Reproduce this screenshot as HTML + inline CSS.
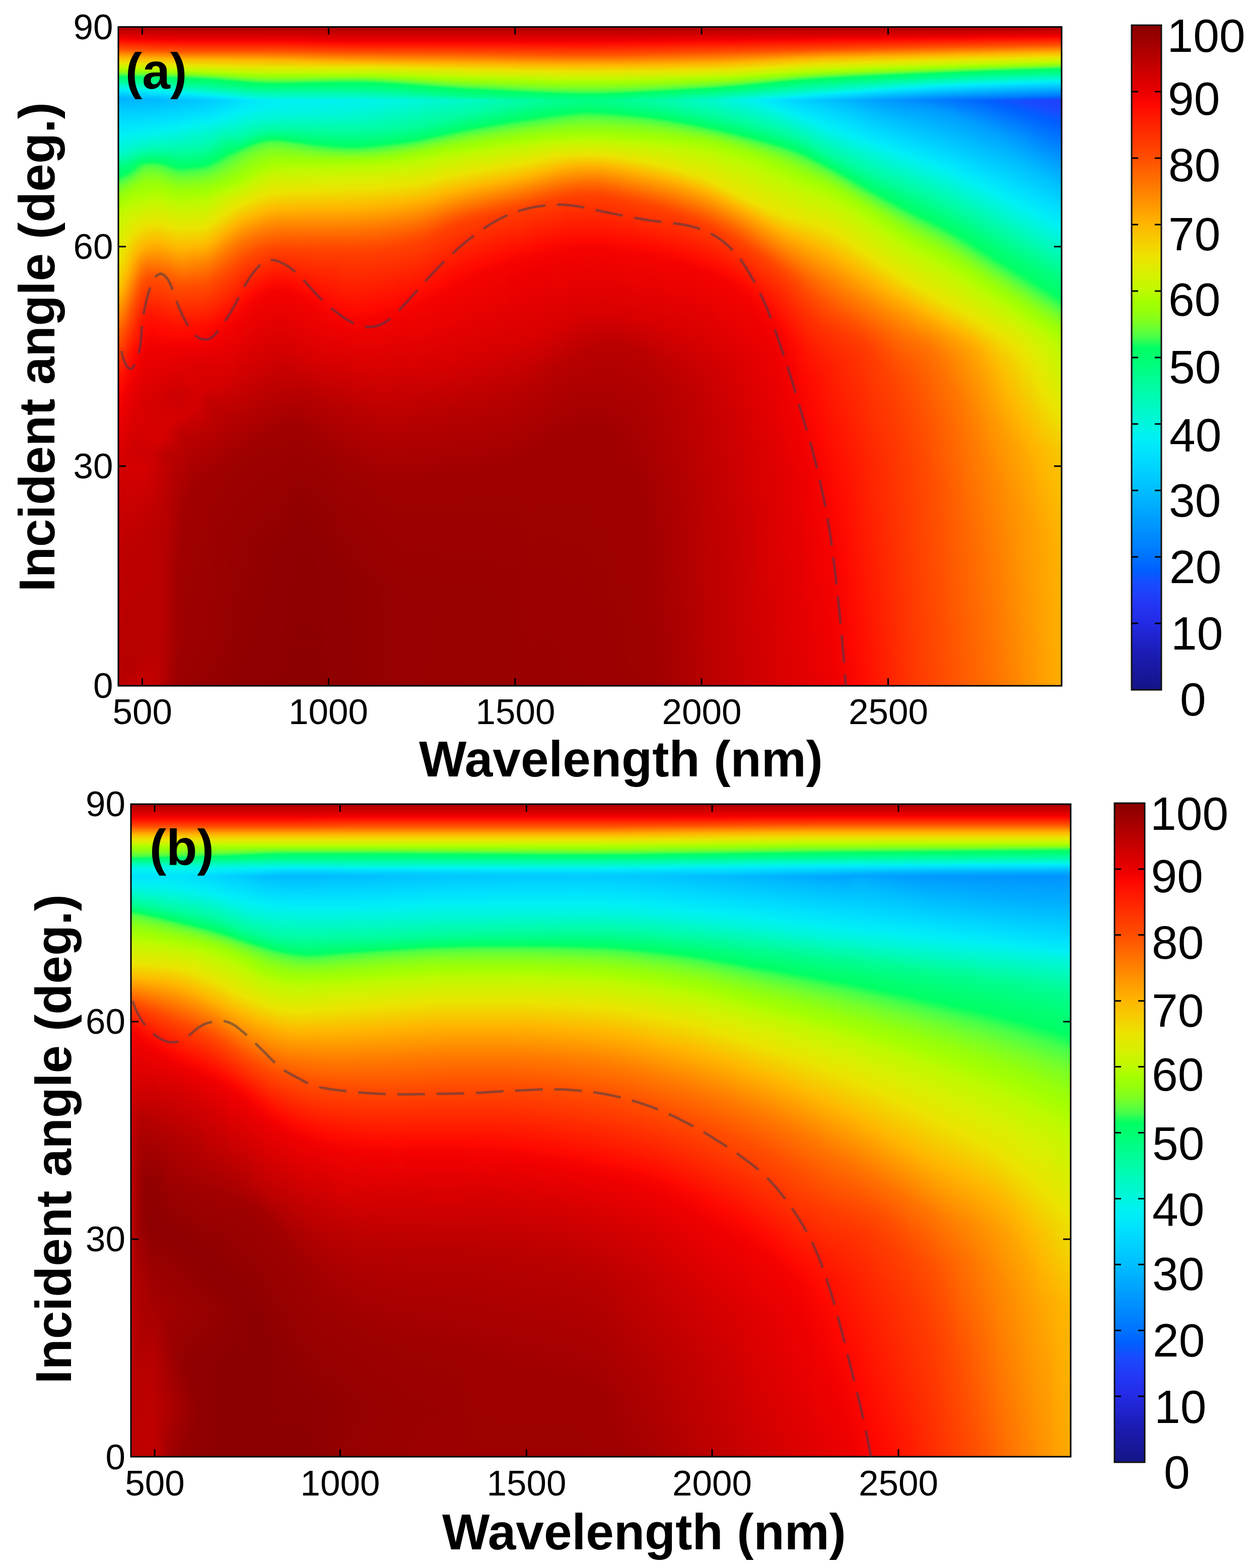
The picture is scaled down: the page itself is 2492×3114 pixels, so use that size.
<!DOCTYPE html>
<html lang="en"><head><meta charset="utf-8"><title>Figure</title>
<style>html,body{margin:0;padding:0;background:#fff}#fig{position:relative;width:2492px;height:3114px;overflow:hidden;background:#fff;font-family:"Liberation Sans",Arial,sans-serif}.heat{position:absolute;overflow:hidden}.hb{position:absolute;filter:url(#hblur)}.heat i{position:absolute;top:0;height:100%;display:block}.cb{position:absolute}svg{position:absolute;left:0;top:0}text{font-family:"Liberation Sans",Arial,sans-serif;fill:#000}</style></head><body><div id="fig">
<div class="heat" style="left:235px;top:54px;width:1873px;height:1308px"><div class="hb" style="left:-24px;top:-24px;width:1921px;height:1356px">
<i style="left:0px;width:32px;background:linear-gradient(#a00 24px,#ed0000 45.5px,#fb0600 49.5px,#ff0d00 51.5px,#ff4f00 67.5px,#ffb100 83.5px,#e8e600 95.5px,#c6f700 103.5px,#bbfb00 105.5px,#abfe00 107.5px,#9fff04 109.5px,#94ff0c 111.5px,#73ff2b 115.5px,#3cff4f 119.5px,#0eff5f 121.5px,#00ff69 123.5px,#00fd92 131.5px,#00f6dd 143.5px,#00eff5 147.5px,#00dbff 153.5px,#00beff 161.5px,#00b3ff 167.5px,#0cf 189.5px,#0df 211.5px,#00f0f5 239.5px,#00f7d4 269.5px,#00f9c3 277.5px,#00fe83 299.5px,#00ff70 309.5px,#00ff64 319.5px,#43ff4c 329.5px,#75ff2a 343.5px,#94ff0c 359.5px,#a5ff00 373.5px,#bdfa00 391.5px,#d2f200 425.5px,#ebe400 487.5px,#f5cd00 525.5px,#ffb500 553.5px,#ff6b00 617.5px,#ff4f00 645.5px,#ff1500 715.5px,#ff0800 739.5px,#f00000 779.5px,#e50000 831.5px,#d70000 875.5px,#bf0000 1061.5px,#b70000 1331.5px)"></i>
<i style="left:32px;width:8px;background:linear-gradient(#a00 24px,#ec0000 45.5px,#fa0500 49.5px,#ff0c00 51.5px,#ff4d00 67.5px,#ffb000 83.5px,#e9e500 95.5px,#bdfa00 105.5px,#a0ff03 109.5px,#95ff0b 111.5px,#75ff2a 115.5px,#3dff4e 119.5px,#11ff5e 121.5px,#00ff69 123.5px,#00fd90 131.5px,#00f6da 143.5px,#00f0f4 147.5px,#00dcff 153.5px,#00c0ff 161.5px,#00b3ff 167.5px,#0cf 189.5px,#0df 211.5px,#00eff5 237.5px,#00f7d2 267.5px,#00fabd 277.5px,#00fe7a 301.5px,#00ff64 315.5px,#44ff4c 325.5px,#78ff28 339.5px,#97ff09 355.5px,#a7ff00 369.5px,#befa00 385.5px,#d8f000 423.5px,#ebe300 465.5px,#f3d000 497.5px,#ffb500 533.5px,#ff4d00 627.5px,#ff2900 671.5px,#fe0800 723.5px,#f00000 759.5px,#d60000 865.5px,#be0000 1057.5px,#b50000 1303.5px,#b00 1331.5px)"></i>
<i style="left:40px;width:8px;background:linear-gradient(#a00 24px,#ec0000 45.5px,#f90500 49.5px,#ff0b00 51.5px,#ff4c00 67.5px,#ffaf00 83.5px,#eae400 95.5px,#bffa00 105.5px,#a1ff03 109.5px,#97ff0a 111.5px,#77ff29 115.5px,#3fff4d 119.5px,#14ff5d 121.5px,#00ff68 123.5px,#00fd8e 131.5px,#00f7d8 143.5px,#00f1f1 147.5px,#00ebf8 149.5px,#00deff 153.5px,#00c2ff 161.5px,#00b4ff 167.5px,#0cf 189.5px,#00deff 211.5px,#00f0f4 237.5px,#00f8cf 265.5px,#00faba 275.5px,#00ff74 301.5px,#00ff65 311.5px,#46ff4b 321.5px,#7aff26 335.5px,#97ff0a 349.5px,#a6ff00 363.5px,#bdfa00 379.5px,#d7f000 413.5px,#ebe300 449.5px,#ffb600 509.5px,#ff4d00 607.5px,#ff1d00 667.5px,#ff0800 703.5px,#fb0600 711.5px,#f00000 739.5px,#d20000 863.5px,#d50000 893.5px,#bd0000 1053.5px,#b60000 1299.5px,#bf0000 1331.5px)"></i>
<i style="left:48px;width:8px;background:linear-gradient(#a00 24px,#eb0000 45.5px,#f80400 49.5px,#ff0a00 51.5px,#ff4b00 67.5px,#ffad00 83.5px,#feb700 85.5px,#ebe300 95.5px,#c0f900 105.5px,#a3ff02 109.5px,#98ff09 111.5px,#79ff27 115.5px,#42ff4d 119.5px,#17ff5c 121.5px,#00ff67 123.5px,#00fd8c 131.5px,#00f7d5 143.5px,#00f2ee 147.5px,#00edf7 149.5px,#00e0fe 153.5px,#00bdff 163.5px,#00b5ff 167.5px,#0cf 189.5px,#0df 209.5px,#00f0f5 235.5px,#00f7d1 261.5px,#00fabc 271.5px,#00ff74 297.5px,#0f6 305.5px,#05ff62 307.5px,#41ff4d 315.5px,#76ff29 329.5px,#94ff0c 343.5px,#a6ff00 359.5px,#bffa00 377.5px,#d7f000 405.5px,#ebe400 435.5px,#ffb600 487.5px,#ffa000 511.5px,#ff7600 545.5px,#ff4e00 583.5px,#ff1400 661.5px,#fe0700 685.5px,#f00000 723.5px,#cf0000 861.5px,#d50000 897.5px,#bd0000 1045.5px,#b60000 1291.5px,#b80000 1307.5px,#c20000 1331.5px)"></i>
<i style="left:56px;width:8px;background:linear-gradient(#a00 24px,#f00000 47.5px,#ff0900 51.5px,#ff5400 69.5px,#ffb600 85.5px,#ece200 95.5px,#e5e800 97.5px,#c2f900 105.5px,#a4ff01 109.5px,#99ff08 111.5px,#7aff26 115.5px,#44ff4c 119.5px,#1bff5a 121.5px,#00ff67 123.5px,#00fd95 133.5px,#00f6df 145.5px,#00eef6 149.5px,#00daff 155.5px,#00beff 163.5px,#00b6ff 167.5px,#0df 209.5px,#00f0f4 235.5px,#00f8cf 259.5px,#00fbb5 271.5px,#00ff70 293.5px,#0f6 299.5px,#09ff61 301.5px,#45ff4b 309.5px,#74ff2b 323.5px,#95ff0b 339.5px,#a6ff00 357.5px,#befa00 375.5px,#d8f000 401.5px,#eae400 427.5px,#feb700 473.5px,#ffa300 487.5px,#ff8e00 507.5px,#ff6c00 533.5px,#ff4c00 563.5px,#ff2900 609.5px,#ff1c00 637.5px,#ff0800 665.5px,#fa0500 675.5px,#f00000 707.5px,#e30000 749.5px,#d90000 797.5px,#d60000 831.5px,#cd0000 861.5px,#d50000 899.5px,#bd0000 1039.5px,#b60000 1285.5px,#c50000 1331.5px)"></i>
<i style="left:64px;width:8px;background:linear-gradient(#a00 24px,#f00000 47.5px,#ff0800 51.5px,#ff5200 69.5px,#ffb500 85.5px,#e6e700 97.5px,#c3f800 105.5px,#a5ff00 109.5px,#9aff07 111.5px,#7cff24 115.5px,#63ff37 117.5px,#47ff4a 119.5px,#1eff59 121.5px,#0f6 123.5px,#00fd93 133.5px,#00f6dc 145.5px,#00f0f5 149.5px,#00dcff 155.5px,#00c0ff 163.5px,#00b7ff 167.5px,#00deff 209.5px,#00f0f5 233.5px,#00f7d2 255.5px,#00fbb4 269.5px,#00ff76 287.5px,#00ff67 293.5px,#06ff62 295.5px,#2bff55 299.5px,#48ff4a 303.5px,#74ff2b 317.5px,#95ff0b 335.5px,#a6ff00 355.5px,#befa00 373.5px,#ebe400 421.5px,#ffb700 463.5px,#ff8c00 491.5px,#ff6100 523.5px,#ff4d00 541.5px,#ff1a00 607.5px,#ff0800 651.5px,#f60300 665.5px,#f00000 685.5px,#dc0000 763.5px,#d60000 833.5px,#c00 863.5px,#d50000 901.5px,#bc0000 1033.5px,#b70000 1277.5px,#c60000 1331.5px)"></i>
<i style="left:72px;width:8px;background:linear-gradient(#a00 24px,#ef0000 47.5px,#fe0800 51.5px,#ff5000 69.5px,#ffb400 85.5px,#e7e600 97.5px,#c4f700 105.5px,#a8fe00 109.5px,#9cff06 111.5px,#7dff23 115.5px,#65ff35 117.5px,#49ff49 119.5px,#00ff65 123.5px,#00ff74 127.5px,#00fd90 133.5px,#00f7d9 145.5px,#00f1f2 149.5px,#00ebf8 151.5px,#00deff 155.5px,#00b8ff 167.5px,#0df 207.5px,#00eff5 231.5px,#00f7d6 251.5px,#00fbb0 269.5px,#00ff6f 287.5px,#00ff65 291.5px,#11ff5e 293.5px,#3aff4f 297.5px,#49ff49 299.5px,#76ff2a 313.5px,#96ff0a 333.5px,#a6ff00 353.5px,#befa00 371.5px,#e9e500 415.5px,#feb700 455.5px,#ffa500 469.5px,#ff7900 495.5px,#ff4f00 525.5px,#ff1500 599.5px,#ff0800 629.5px,#f00000 667.5px,#d80000 769.5px,#d70000 835.5px,#cd0000 865.5px,#d40000 899.5px,#bc0000 1025.5px,#b70000 1271.5px,#c60000 1331.5px)"></i>
<i style="left:80px;width:8px;background:linear-gradient(#a00 24px,#ef0000 47.5px,#fe0700 51.5px,#ff4f00 69.5px,#ffb200 85.5px,#e9e500 97.5px,#c6f700 105.5px,#bafb00 107.5px,#aafe00 109.5px,#9dff05 111.5px,#90ff10 113.5px,#7fff21 115.5px,#68ff33 117.5px,#4cff47 119.5px,#00ff64 123.5px,#00ff72 127.5px,#00fd8f 133.5px,#00f7d7 145.5px,#00f1ef 149.5px,#00ecf7 151.5px,#00dffe 155.5px,#00b9ff 167.5px,#0df 207.5px,#00f0f4 231.5px,#00f7d3 251.5px,#00fcac 269.5px,#00ff73 285.5px,#01ff63 291.5px,#2fff53 295.5px,#42ff4d 297.5px,#54ff41 301.5px,#73ff2b 311.5px,#96ff0a 331.5px,#a6ff00 351.5px,#befa00 369.5px,#ebe400 415.5px,#ffb600 453.5px,#ffa400 467.5px,#ff7100 497.5px,#ff4f00 521.5px,#ff1300 597.5px,#ff0800 621.5px,#f00000 661.5px,#d70000 767.5px,#d70000 837.5px,#d00000 865.5px,#d20000 893.5px,#b00 1017.5px,#b80000 1263.5px,#c50000 1331.5px)"></i>
<i style="left:88px;width:8px;background:linear-gradient(#a00 24px,#e00 47.5px,#fd0700 51.5px,#ff4d00 69.5px,#ffb100 85.5px,#eae500 97.5px,#bdfa00 107.5px,#9fff04 111.5px,#92ff0e 113.5px,#81ff1f 115.5px,#6bff31 117.5px,#4fff45 119.5px,#04ff63 123.5px,#00ff6a 125.5px,#00fd8d 133.5px,#00f5e0 147.5px,#00eef6 151.5px,#00daff 157.5px,#00bfff 165.5px,#00b9ff 169.5px,#00deff 207.5px,#00f0f5 229.5px,#00f7d4 249.5px,#00fbaf 267.5px,#00ff73 285.5px,#00ff64 291.5px,#2dff54 295.5px,#40ff4d 297.5px,#4bff47 299.5px,#73ff2c 311.5px,#96ff0a 331.5px,#a6ff00 349.5px,#befa00 367.5px,#eae500 413.5px,#ffb700 451.5px,#ff9c00 471.5px,#ff4e00 521.5px,#ff1400 597.5px,#fe0800 623.5px,#f00000 661.5px,#d60000 765.5px,#d70000 843.5px,#cd0000 875.5px,#c90000 933.5px,#b00 1009.5px,#b80000 1255.5px,#c30000 1331.5px)"></i>
<i style="left:96px;width:8px;background:linear-gradient(#a00 24px,#e00 47.5px,#fc0600 51.5px,#ff0d00 53.5px,#ff4c00 69.5px,#ffb000 85.5px,#ebe400 97.5px,#bffa00 107.5px,#a0ff03 111.5px,#94ff0c 113.5px,#6eff2f 117.5px,#52ff43 119.5px,#09ff61 123.5px,#00ff69 125.5px,#00fd95 135.5px,#00f6dd 147.5px,#00f0f5 151.5px,#00dcff 157.5px,#00c1ff 165.5px,#00baff 169.5px,#0df 205.5px,#00f0f4 229.5px,#00f7d9 245.5px,#00fcac 267.5px,#00ff73 285.5px,#00ff65 291.5px,#3bff4f 297.5px,#49ff49 299.5px,#6bff31 309.5px,#7bff25 315.5px,#96ff0a 331.5px,#a5ff00 347.5px,#befa00 365.5px,#eae500 413.5px,#ffb600 451.5px,#ff4d00 523.5px,#ff1400 599.5px,#ff0800 625.5px,#f00000 661.5px,#d50000 761.5px,#d60000 843.5px,#c60000 875.5px,#ca0000 895.5px,#ba0000 1013.5px,#b80000 1249.5px,#bf0000 1331.5px)"></i>
<i style="left:104px;width:8px;background:linear-gradient(#a00 24px,#e00 47.5px,#fb0600 51.5px,#ff0d00 53.5px,#ff4b00 69.5px,#ffaf00 85.5px,#ebe300 97.5px,#c0f900 107.5px,#a2ff02 111.5px,#96ff0a 113.5px,#72ff2d 117.5px,#34ff52 121.5px,#0eff5f 123.5px,#00ff68 125.5px,#00fd93 135.5px,#00f6da 147.5px,#00f1f3 151.5px,#00ebf8 153.5px,#00deff 157.5px,#00bcff 167.5px,#0bf 169.5px,#00deff 205.5px,#00f0f5 227.5px,#00f6da 243.5px,#00fcab 267.5px,#00ff74 285.5px,#0f6 291.5px,#0aff61 293.5px,#40ff4d 299.5px,#52ff43 303.5px,#6bff31 311.5px,#7bff25 317.5px,#96ff0a 333.5px,#a5ff00 347.5px,#befa00 365.5px,#ebe400 415.5px,#ffb500 453.5px,#ff4f00 523.5px,#ff1300 603.5px,#fe0800 629.5px,#f00000 661.5px,#d30000 761.5px,#d60000 841.5px,#c00000 873.5px,#c50000 895.5px,#b90000 1003.5px,#ba0000 1331.5px)"></i>
<i style="left:112px;width:8px;background:linear-gradient(#a00 24px,#ed0000 47.5px,#fb0600 51.5px,#ff0c00 53.5px,#ff4b00 69.5px,#ffae00 85.5px,#feb700 87.5px,#ece200 97.5px,#e5e800 99.5px,#c1f900 107.5px,#a3ff01 111.5px,#98ff09 113.5px,#75ff2a 117.5px,#38ff50 121.5px,#13ff5d 123.5px,#00ff67 125.5px,#00fd90 135.5px,#00f7d7 147.5px,#00f1f0 151.5px,#00ecf7 153.5px,#00e0fe 157.5px,#00beff 167.5px,#00bcff 169.5px,#00dcff 203.5px,#00eff5 225.5px,#00f4e6 235.5px,#00fcab 267.5px,#00ff70 287.5px,#00ff65 293.5px,#0cff60 295.5px,#3dff4e 301.5px,#49ff49 303.5px,#75ff2a 317.5px,#95ff0b 335.5px,#a7ff00 351.5px,#befa00 367.5px,#ebe400 417.5px,#ffb600 455.5px,#ff4e00 527.5px,#f10 609.5px,#ff0800 631.5px,#f10100 657.5px,#d10000 759.5px,#d60000 817.5px,#d40000 837.5px,#bd0000 873.5px,#c10000 899.5px,#b80000 997.5px,#b30000 1331.5px)"></i>
<i style="left:120px;width:8px;background:linear-gradient(#a00 24px,#ed0000 47.5px,#fa0500 51.5px,#ff0b00 53.5px,#ff4a00 69.5px,#ffad00 85.5px,#ffb700 87.5px,#e6e700 99.5px,#c3f800 107.5px,#a5ff00 111.5px,#99ff08 113.5px,#78ff28 117.5px,#3dff4e 121.5px,#18ff5b 123.5px,#0f6 125.5px,#00fd8f 135.5px,#00f5e0 149.5px,#00eef6 153.5px,#00dbff 159.5px,#00c0ff 167.5px,#00bdff 169.5px,#0df 203.5px,#00f0f4 225.5px,#00f7d3 245.5px,#00fbaf 265.5px,#00ff74 287.5px,#0f6 295.5px,#07ff62 297.5px,#45ff4b 305.5px,#78ff28 321.5px,#97ff09 339.5px,#a6ff00 353.5px,#bff900 371.5px,#ebe400 419.5px,#ffb600 457.5px,#ff6200 515.5px,#ff4e00 531.5px,#ff1200 611.5px,#ff0800 633.5px,#f10000 659.5px,#cf0000 757.5px,#d50000 793.5px,#d50000 821.5px,#cd0000 845.5px,#b00 873.5px,#bc0000 901.5px,#b10000 1075.5px,#ab0000 1331.5px)"></i>
<i style="left:128px;width:8px;background:linear-gradient(#a00 24px,#ed0000 47.5px,#f90500 51.5px,#ff0b00 53.5px,#ff5300 71.5px,#ffac00 85.5px,#ffb600 87.5px,#e7e600 99.5px,#c4f800 107.5px,#a7ff00 111.5px,#9bff07 113.5px,#7bff25 117.5px,#42ff4d 121.5px,#1dff5a 123.5px,#00ff65 125.5px,#00ff73 129.5px,#00fd97 137.5px,#00f6dd 149.5px,#00f0f5 153.5px,#00dcff 159.5px,#00c1ff 167.5px,#00beff 169.5px,#00dcff 201.5px,#00f1f2 225.5px,#00fbb3 263.5px,#00ff70 291.5px,#00ff64 299.5px,#3fff4e 307.5px,#49ff49 309.5px,#75ff2a 323.5px,#96ff0a 341.5px,#a5ff00 355.5px,#befa00 371.5px,#ebe400 421.5px,#ffb500 461.5px,#ff6400 517.5px,#ff4e00 535.5px,#ff1400 611.5px,#ff0800 633.5px,#f10000 659.5px,#cd0000 755.5px,#d50000 793.5px,#d50000 811.5px,#ca0000 829.5px,#c70000 847.5px,#b90000 873.5px,#a00 1077.5px,#a40000 1331.5px)"></i>
<i style="left:136px;width:8px;background:linear-gradient(#a00 24px,#ec0000 47.5px,#f90500 51.5px,#ff0b00 53.5px,#ff5200 71.5px,#ffab00 85.5px,#ffb500 87.5px,#e8e600 99.5px,#c5f700 107.5px,#a9fe00 111.5px,#9cff06 113.5px,#8eff12 115.5px,#7dff23 117.5px,#63ff36 119.5px,#47ff4b 121.5px,#00ff64 125.5px,#00ff71 129.5px,#00fd94 137.5px,#00f6da 149.5px,#00f1f2 153.5px,#00ebf8 155.5px,#00deff 159.5px,#00c3ff 167.5px,#00bfff 169.5px,#0df 201.5px,#00f1f3 223.5px,#00fbaf 265.5px,#00ff72 293.5px,#00ff65 301.5px,#0bff60 303.5px,#48ff4a 311.5px,#74ff2b 325.5px,#96ff0a 343.5px,#a5ff00 357.5px,#befa00 373.5px,#ebe400 423.5px,#ffb500 463.5px,#ff6200 521.5px,#ff4f00 537.5px,#ff1400 613.5px,#ff0800 633.5px,#f00000 659.5px,#c00 753.5px,#d50000 801.5px,#c10000 831.5px,#c10000 849.5px,#b80000 871.5px,#ab0000 969.5px,#a30000 1093.5px,#9f0000 1331.5px)"></i>
<i style="left:144px;width:8px;background:linear-gradient(#a00 24px,#ec0000 47.5px,#ff0a00 53.5px,#ff5100 71.5px,#fa0 85.5px,#ffb400 87.5px,#e9e500 99.5px,#bcfa00 109.5px,#9eff05 113.5px,#91ff0f 115.5px,#7fff21 117.5px,#67ff34 119.5px,#4aff48 121.5px,#04ff63 125.5px,#00ff6a 127.5px,#00fd92 137.5px,#00f7d7 149.5px,#00f2ef 153.5px,#00edf7 155.5px,#00e0fe 159.5px,#00c1ff 169.5px,#00dcff 199.5px,#00f0f4 221.5px,#00fcaa 267.5px,#00ff70 295.5px,#00ff67 301.5px,#02ff63 303.5px,#42ff4d 311.5px,#4bff47 313.5px,#77ff29 327.5px,#97ff09 345.5px,#a7ff00 359.5px,#befa00 373.5px,#eae500 423.5px,#ffb600 463.5px,#ff4e00 539.5px,#ff1400 613.5px,#ff0800 633.5px,#f00000 659.5px,#c00 753.5px,#d50000 797.5px,#bc0000 831.5px,#bc0000 853.5px,#a60000 975.5px,#a10000 1051.5px,#9d0000 1331.5px)"></i>
<i style="left:152px;width:8px;background:linear-gradient(#a00 24px,#ec0000 47.5px,#ff0a00 53.5px,#ff5000 71.5px,#ffb300 87.5px,#eae500 99.5px,#befa00 109.5px,#a0ff04 113.5px,#93ff0d 115.5px,#82ff1e 117.5px,#6bff31 119.5px,#4eff45 121.5px,#09ff61 125.5px,#00ff69 127.5px,#00fd90 137.5px,#00f6e0 151.5px,#00eef6 155.5px,#00dbff 161.5px,#00c2ff 169.5px,#00deff 199.5px,#00f0f5 219.5px,#00f6dd 233.5px,#00fca9 267.5px,#00ff73 293.5px,#0f6 301.5px,#06ff62 303.5px,#45ff4c 311.5px,#78ff28 327.5px,#95ff0b 343.5px,#a5ff00 357.5px,#befa00 373.5px,#eae400 423.5px,#ffb600 463.5px,#ff4d00 539.5px,#ff1500 611.5px,#ff0800 633.5px,#f00000 659.5px,#ce0000 753.5px,#d40000 793.5px,#cf0000 805.5px,#ba0000 833.5px,#b80000 861.5px,#a30000 969.5px,#9b0000 1331.5px)"></i>
<i style="left:160px;width:8px;background:linear-gradient(#a00 24px,#ec0000 47.5px,#ff0a00 53.5px,#ff5000 71.5px,#ffb300 87.5px,#ebe400 99.5px,#bff900 109.5px,#a1ff02 113.5px,#96ff0a 115.5px,#6fff2e 119.5px,#52ff42 121.5px,#0fff5f 125.5px,#00ff67 127.5px,#00fd8e 137.5px,#00f6dd 151.5px,#00f0f5 155.5px,#00dcff 161.5px,#00c3ff 169.5px,#0df 197.5px,#00f1f3 219.5px,#00f6de 231.5px,#00fca7 267.5px,#00ff71 293.5px,#00ff65 301.5px,#48ff4a 311.5px,#6eff2f 323.5px,#79ff27 327.5px,#96ff0a 343.5px,#a6ff00 357.5px,#bffa00 373.5px,#ebe400 423.5px,#ffb700 461.5px,#ff8600 495.5px,#ff4d00 539.5px,#ff1400 611.5px,#ff0800 633.5px,#f00000 659.5px,#e00000 693.5px,#db0000 725.5px,#d10000 753.5px,#d30000 791.5px,#ba0000 835.5px,#a20000 957.5px,#9a0000 1331.5px)"></i>
<i style="left:168px;width:8px;background:linear-gradient(#a00 24px,#ec0000 47.5px,#ff0900 53.5px,#ff4f00 71.5px,#ffb200 87.5px,#ebe300 99.5px,#c1f900 109.5px,#a3ff01 113.5px,#97ff09 115.5px,#73ff2b 119.5px,#37ff50 123.5px,#14ff5d 125.5px,#0f6 127.5px,#00ff73 131.5px,#00fd95 139.5px,#00f7d9 151.5px,#00f1f2 155.5px,#00ebf8 157.5px,#00deff 161.5px,#00c5ff 169.5px,#00deff 197.5px,#00f0f4 217.5px,#00f6dc 231.5px,#00fca5 267.5px,#00ff70 293.5px,#00ff67 299.5px,#02ff63 301.5px,#42ff4d 309.5px,#52ff43 313.5px,#76ff29 325.5px,#97ff0a 343.5px,#a4ff01 355.5px,#bdfa00 371.5px,#ebe400 423.5px,#ffb600 461.5px,#ff8700 493.5px,#ff4e00 537.5px,#ff1500 609.5px,#ff0800 633.5px,#f00000 659.5px,#de0000 697.5px,#da0000 731.5px,#d30000 755.5px,#d40000 781.5px,#ba0000 835.5px,#a10000 945.5px,#9d0000 1249.5px,#980000 1331.5px)"></i>
<i style="left:176px;width:8px;background:linear-gradient(#a00 24px,#ec0000 47.5px,#ff0900 53.5px,#ff4f00 71.5px,#ffb100 87.5px,#ece300 99.5px,#e5e800 101.5px,#c2f800 109.5px,#a5ff00 113.5px,#99ff08 115.5px,#78ff28 119.5px,#3cff4e 123.5px,#1aff5b 125.5px,#00ff65 127.5px,#00ff72 131.5px,#00fd93 139.5px,#00f7d6 151.5px,#00f2ee 155.5px,#00edf7 157.5px,#00e0fe 161.5px,#00c6ff 169.5px,#0df 195.5px,#00f0f5 215.5px,#00f6dd 229.5px,#00fca7 265.5px,#00ff72 291.5px,#00ff65 299.5px,#09ff61 301.5px,#47ff4b 309.5px,#4eff46 311.5px,#78ff28 325.5px,#97ff09 343.5px,#a5ff00 355.5px,#befa00 371.5px,#e9e500 421.5px,#ffb500 461.5px,#ff8500 493.5px,#ff4d00 537.5px,#ff1000 615.5px,#ff0800 631.5px,#f00000 659.5px,#dc0000 697.5px,#d30000 775.5px,#b90000 837.5px,#a10000 935.5px,#9c0000 1251.5px,#970000 1331.5px)"></i>
<i style="left:184px;width:8px;background:linear-gradient(#a00 24px,#ec0000 47.5px,#ff0900 53.5px,#ff4f00 71.5px,#ffb100 87.5px,#ece200 99.5px,#e5e700 101.5px,#c3f800 109.5px,#a7ff00 113.5px,#9bff07 115.5px,#7bff25 119.5px,#43ff4c 123.5px,#00ff64 127.5px,#00ff70 131.5px,#00fd91 139.5px,#00f6de 153.5px,#00eff6 157.5px,#00dbff 163.5px,#00c8ff 169.5px,#0df 193.5px,#00f1f2 215.5px,#00f6de 227.5px,#00fca6 265.5px,#00ff71 291.5px,#00ff64 299.5px,#3fff4e 307.5px,#4aff49 309.5px,#75ff2a 323.5px,#96ff0a 341.5px,#a6ff00 355.5px,#befa00 371.5px,#eae500 421.5px,#ffb700 459.5px,#ff8400 493.5px,#ff4d00 537.5px,#ff1000 615.5px,#fe0800 631.5px,#f00000 659.5px,#da0000 699.5px,#d70000 747.5px,#c00 787.5px,#b90000 833.5px,#a10000 927.5px,#9b0000 1253.5px,#960000 1331.5px)"></i>
<i style="left:192px;width:8px;background:linear-gradient(#a00 24px,#ec0000 47.5px,#ff0900 53.5px,#ff4f00 71.5px,#ffb000 87.5px,#ece100 99.5px,#e6e700 101.5px,#c4f700 109.5px,#a9fe00 113.5px,#9dff06 115.5px,#8fff11 117.5px,#7eff22 119.5px,#65ff35 121.5px,#49ff49 123.5px,#06ff62 127.5px,#00ff69 129.5px,#00fd8e 139.5px,#00f6db 153.5px,#00f0f3 157.5px,#0df 163.5px,#00caff 169.5px,#00dcff 191.5px,#00f0f3 213.5px,#00f6de 225.5px,#00fca3 265.5px,#00ff72 289.5px,#00ff65 297.5px,#09ff61 299.5px,#46ff4b 307.5px,#4dff46 309.5px,#78ff28 323.5px,#97ff09 341.5px,#a4ff00 353.5px,#bffa00 371.5px,#ebe400 421.5px,#ffb500 459.5px,#ff8100 493.5px,#ff4d00 535.5px,#ff0f00 615.5px,#fe0800 629.5px,#f10000 657.5px,#da0000 699.5px,#d60000 743.5px,#c80000 763.5px,#c70000 791.5px,#b80000 829.5px,#a10000 921.5px,#9b0000 1253.5px,#950000 1331.5px)"></i>
<i style="left:200px;width:8px;background:linear-gradient(#a00 24px,#ec0000 47.5px,#ff0900 53.5px,#ff4f00 71.5px,#ffb000 87.5px,#e7e600 101.5px,#c6f700 109.5px,#bbfb00 111.5px,#acfe00 113.5px,#9fff04 115.5px,#92ff0e 117.5px,#81ff1f 119.5px,#6bff31 121.5px,#4fff44 123.5px,#0eff5f 127.5px,#00ff67 129.5px,#00ff74 133.5px,#00fd95 141.5px,#00f7d7 153.5px,#00f2ef 157.5px,#00ecf7 159.5px,#00dffe 163.5px,#0cf 169.5px,#00dcff 189.5px,#00f0f4 211.5px,#00f6dc 225.5px,#00fca6 261.5px,#00ff71 287.5px,#00ff65 295.5px,#47ff4a 305.5px,#78ff28 321.5px,#97ff09 339.5px,#a5ff00 351.5px,#befa00 367.5px,#ebe400 417.5px,#ffb500 455.5px,#ff8200 489.5px,#ff4e00 531.5px,#ff0d00 615.5px,#fe0800 625.5px,#f10000 655.5px,#d90000 701.5px,#d50000 741.5px,#c10000 765.5px,#c00000 801.5px,#a10000 915.5px,#9a0000 1255.5px,#940000 1331.5px)"></i>
<i style="left:208px;width:8px;background:linear-gradient(#a00 24px,#ec0000 47.5px,#ff0900 53.5px,#ff4f00 71.5px,#ffaf00 87.5px,#e8e600 101.5px,#befa00 111.5px,#a1ff03 115.5px,#96ff0a 117.5px,#72ff2c 121.5px,#39ff50 125.5px,#18ff5c 127.5px,#0f6 129.5px,#00ff72 133.5px,#00fd92 141.5px,#00f6de 155.5px,#00eff6 159.5px,#00dbff 165.5px,#00cfff 169.5px,#0df 187.5px,#00f0f4 209.5px,#00fbad 253.5px,#00ff71 283.5px,#00ff65 291.5px,#47ff4b 301.5px,#79ff27 319.5px,#95ff0b 335.5px,#a7ff00 349.5px,#bff900 363.5px,#d6f000 389.5px,#ebe400 411.5px,#ffb500 449.5px,#ff8000 485.5px,#ff4c00 527.5px,#ff0c00 611.5px,#ff0800 619.5px,#f20100 647.5px,#d90000 703.5px,#d50000 741.5px,#be0000 771.5px,#b00 809.5px,#a10000 909.5px,#9b0000 1025.5px,#900 1257.5px,#940000 1331.5px)"></i>
<i style="left:216px;width:8px;background:linear-gradient(#a00 24px,#ec0000 47.5px,#ff0900 53.5px,#ff4f00 71.5px,#ffaf00 87.5px,#e9e500 101.5px,#bff900 111.5px,#a3ff01 115.5px,#98ff09 117.5px,#79ff27 121.5px,#44ff4c 125.5px,#00ff64 129.5px,#00ff6f 133.5px,#00fd8f 141.5px,#00f6da 155.5px,#00f1f2 159.5px,#00ebf8 161.5px,#0df 165.5px,#00d2ff 169.5px,#00deff 185.5px,#00f0f3 207.5px,#00faba 241.5px,#00ff70 279.5px,#00ff64 287.5px,#2fff53 293.5px,#48ff4a 297.5px,#78ff28 315.5px,#96ff0a 333.5px,#a5ff00 345.5px,#c0f900 359.5px,#eae400 403.5px,#ffb500 443.5px,#ff7f00 479.5px,#ff4c00 521.5px,#ff0a00 609.5px,#f20100 639.5px,#e60000 677.5px,#d90000 705.5px,#d40000 741.5px,#bc0000 779.5px,#b80000 813.5px,#a10000 903.5px,#9b0000 1025.5px,#980000 1257.5px,#930000 1331.5px)"></i>
<i style="left:224px;width:8px;background:linear-gradient(#a00 24px,#ec0000 47.5px,#ff0900 53.5px,#ff4f00 71.5px,#ffaf00 87.5px,#feb700 89.5px,#e9e500 101.5px,#c1f900 111.5px,#a5ff00 115.5px,#9aff07 117.5px,#7dff23 121.5px,#4cff47 125.5px,#0bff60 129.5px,#00ff68 131.5px,#00ff74 135.5px,#00fd95 143.5px,#00f5e0 157.5px,#00edf6 161.5px,#00e0fe 165.5px,#00d5ff 169.5px,#0df 181.5px,#00f0f3 205.5px,#00f7d5 223.5px,#00fcaa 245.5px,#00ff73 273.5px,#0f6 281.5px,#04ff63 283.5px,#3fff4d 291.5px,#49ff49 293.5px,#5aff3d 299.5px,#77ff29 311.5px,#97ff09 331.5px,#a6ff00 343.5px,#bff900 355.5px,#e9e500 397.5px,#ffb400 437.5px,#ff7c00 475.5px,#ff4900 519.5px,#ff0800 607.5px,#f20100 633.5px,#d90000 707.5px,#d20000 741.5px,#bc0000 785.5px,#a10000 897.5px,#9a0000 1027.5px,#970000 1259.5px,#930000 1331.5px)"></i>
<i style="left:232px;width:8px;background:linear-gradient(#a00 24px,#ec0000 47.5px,#ff0900 53.5px,#ff4f00 71.5px,#ffae00 87.5px,#ffb700 89.5px,#eae500 101.5px,#c2f800 111.5px,#a8fe00 115.5px,#9dff06 117.5px,#90ff10 119.5px,#6eff2f 123.5px,#38ff50 127.5px,#17ff5c 129.5px,#0f6 131.5px,#00ff72 135.5px,#00fd92 143.5px,#00f6dc 157.5px,#00f0f5 161.5px,#00dcff 167.5px,#00d7ff 169.5px,#00deff 179.5px,#00eff5 201.5px,#00f2ed 207.5px,#00f8ce 225.5px,#00ff79 265.5px,#00ff65 277.5px,#08ff61 279.5px,#42ff4c 287.5px,#4aff48 289.5px,#78ff28 307.5px,#96ff0a 327.5px,#a5ff00 339.5px,#befa00 351.5px,#d6f000 371.5px,#eae500 393.5px,#ffb400 431.5px,#ff7900 471.5px,#ff4800 513.5px,#ff0900 601.5px,#f30200 625.5px,#d30000 733.5px,#b00 789.5px,#a00000 893.5px,#920000 1331.5px)"></i>
<i style="left:240px;width:8px;background:linear-gradient(#a00 24px,#ec0000 47.5px,#ff0900 53.5px,#ff4f00 71.5px,#ffae00 87.5px,#ffb700 89.5px,#ebe400 101.5px,#c4f800 111.5px,#abfe00 115.5px,#9fff04 117.5px,#94ff0c 119.5px,#75ff2a 123.5px,#44ff4c 127.5px,#01ff64 131.5px,#00ff6f 135.5px,#00fd8f 143.5px,#00f7d7 157.5px,#00f1ef 161.5px,#00ecf7 163.5px,#00daff 169.5px,#0df 175.5px,#00f0f5 199.5px,#00f4e7 209.5px,#00fabd 233.5px,#00ff72 265.5px,#00ff65 273.5px,#0bff60 275.5px,#45ff4b 283.5px,#57ff3f 289.5px,#78ff28 303.5px,#95ff0b 323.5px,#a6ff00 337.5px,#bffa00 349.5px,#d6f000 367.5px,#ebe400 389.5px,#ffb400 425.5px,#ff7900 465.5px,#ff4700 509.5px,#ff0900 595.5px,#f40200 617.5px,#d30000 725.5px,#b90000 795.5px,#a00000 887.5px,#900 1029.5px,#960000 1259.5px,#920000 1331.5px)"></i>
<i style="left:248px;width:8px;background:linear-gradient(#a00 24px,#ec0000 47.5px,#ff0900 53.5px,#ff4f00 71.5px,#ffa300 85.5px,#ffb600 89.5px,#ebe400 101.5px,#c5f700 111.5px,#bcfa00 113.5px,#a1ff03 117.5px,#97ff09 119.5px,#7bff25 123.5px,#4cff46 127.5px,#0cff60 131.5px,#00ff68 133.5px,#00ff74 137.5px,#00fd95 145.5px,#00f6de 159.5px,#00eff6 163.5px,#00dcff 169.5px,#0df 171.5px,#00f0f5 197.5px,#00f4e4 209.5px,#00fcac 241.5px,#00ff6f 265.5px,#01ff64 271.5px,#27ff56 275.5px,#46ff4b 279.5px,#5eff3b 287.5px,#79ff27 299.5px,#95ff0b 319.5px,#a4ff00 333.5px,#befa00 345.5px,#d8ef00 365.5px,#ebe300 385.5px,#ffb500 419.5px,#ff7900 459.5px,#ff4500 505.5px,#ff0900 589.5px,#f40200 611.5px,#d50000 715.5px,#b70000 797.5px,#a00000 881.5px,#980000 1031.5px,#910000 1331.5px)"></i>
<i style="left:256px;width:8px;background:linear-gradient(#a00 24px,#ec0000 47.5px,#ff0900 53.5px,#ff4f00 71.5px,#ffa300 85.5px,#ffb600 89.5px,#ebe300 101.5px,#e5e800 103.5px,#befa00 113.5px,#a3ff01 117.5px,#99ff08 119.5px,#8dff13 121.5px,#6bff31 125.5px,#39ff50 129.5px,#18ff5b 131.5px,#0f6 133.5px,#00ff71 137.5px,#00fd92 145.5px,#00f7d9 159.5px,#00f1f2 163.5px,#00dfff 169.5px,#00f0f5 195.5px,#00f5e1 209.5px,#00fca2 245.5px,#00fd8f 253.5px,#0f6 267.5px,#0cff60 269.5px,#36ff51 273.5px,#46ff4b 275.5px,#5aff3d 281.5px,#77ff29 293.5px,#96ff0a 315.5px,#a7ff00 331.5px,#bffa00 343.5px,#eae500 379.5px,#ffb600 413.5px,#ff7800 453.5px,#ff4600 497.5px,#ff0900 581.5px,#f40200 605.5px,#d50000 709.5px,#b60000 795.5px,#a00000 875.5px,#980000 1033.5px,#910000 1331.5px)"></i>
<i style="left:264px;width:8px;background:linear-gradient(#a00 24px,#ec0000 47.5px,#ff0900 53.5px,#ff4f00 71.5px,#ffa200 85.5px,#ffb600 89.5px,#e6e700 103.5px,#bffa00 113.5px,#a4ff00 117.5px,#90ff10 121.5px,#72ff2c 125.5px,#45ff4b 129.5px,#02ff63 133.5px,#00ff6f 137.5px,#00fd8f 145.5px,#00f5e0 161.5px,#00edf7 165.5px,#00e1fd 169.5px,#00f0f5 193.5px,#00f6db 211.5px,#00fd9e 245.5px,#00fd8f 251.5px,#00ff67 263.5px,#08ff61 265.5px,#36ff51 269.5px,#47ff4a 271.5px,#5cff3b 277.5px,#79ff27 289.5px,#96ff0a 311.5px,#a4ff01 325.5px,#befa00 339.5px,#d8ef00 359.5px,#ebe300 377.5px,#ffb500 409.5px,#f70 449.5px,#ff4c00 485.5px,#ff3500 511.5px,#ff0800 575.5px,#f50300 593.5px,#f00000 611.5px,#a00000 869.5px,#970000 1035.5px,#900000 1331.5px)"></i>
<i style="left:272px;width:8px;background:linear-gradient(#a00 24px,#ec0000 47.5px,#ff0900 53.5px,#ff4f00 71.5px,#ffa200 85.5px,#ffb500 89.5px,#e6e700 103.5px,#c0f900 113.5px,#a7ff00 117.5px,#9dff05 119.5px,#93ff0d 121.5px,#78ff28 125.5px,#4cff47 129.5px,#0cff60 133.5px,#00ff68 135.5px,#00fd8d 145.5px,#00f6dc 161.5px,#00eff5 165.5px,#00e3fc 169.5px,#00f0f5 191.5px,#00f6dc 209.5px,#00fd9c 243.5px,#00fe8b 249.5px,#00ff69 259.5px,#03ff63 261.5px,#34ff51 265.5px,#47ff4b 267.5px,#5dff3b 273.5px,#7aff26 285.5px,#95ff0b 305.5px,#a5ff00 321.5px,#bffa00 335.5px,#d8ef00 355.5px,#ebe400 373.5px,#ffb600 405.5px,#ff7800 445.5px,#ff4d00 479.5px,#f30 509.5px,#ff0800 567.5px,#f50300 585.5px,#a00000 863.5px,#960000 1037.5px,#900000 1331.5px)"></i>
<i style="left:280px;width:8px;background:linear-gradient(#a00 24px,#ec0000 47.5px,#ff0900 53.5px,#ff4f00 71.5px,#ffa200 85.5px,#ffb500 89.5px,#e7e700 103.5px,#c1f900 113.5px,#a9fe00 117.5px,#9eff04 119.5px,#95ff0b 121.5px,#7bff25 125.5px,#68ff33 127.5px,#52ff42 129.5px,#37ff50 131.5px,#16ff5c 133.5px,#0f6 135.5px,#00ff72 139.5px,#00fd93 147.5px,#00f7d8 161.5px,#00f1f2 165.5px,#00e5fb 169.5px,#00f0f5 189.5px,#00f7d9 209.5px,#00fd9e 239.5px,#00fd8e 245.5px,#00ff70 253.5px,#00ff65 257.5px,#43ff4c 263.5px,#55ff40 267.5px,#76ff29 279.5px,#96ff0a 301.5px,#a6ff00 317.5px,#bff900 331.5px,#ebe400 369.5px,#ffb400 403.5px,#ff7800 441.5px,#ff4d00 475.5px,#ff3700 499.5px,#ff0800 559.5px,#f50300 577.5px,#d80000 681.5px,#b60000 781.5px,#a00000 859.5px,#960000 1039.5px,#900000 1331.5px)"></i>
<i style="left:288px;width:8px;background:linear-gradient(#a00 24px,#ec0000 47.5px,#ff0900 53.5px,#ff4f00 71.5px,#ffad00 87.5px,#ffb500 89.5px,#e7e600 103.5px,#c2f800 113.5px,#a0ff03 119.5px,#97ff09 121.5px,#7eff22 125.5px,#6dff30 127.5px,#41ff4d 131.5px,#00ff65 135.5px,#00ff70 139.5px,#00fd91 147.5px,#00f6e0 163.5px,#00ecf7 167.5px,#00e7fa 169.5px,#00f0f4 187.5px,#00f7d6 209.5px,#00fd9d 237.5px,#00ff68 253.5px,#09ff61 255.5px,#3aff4f 259.5px,#4aff48 261.5px,#5aff3d 265.5px,#79ff27 277.5px,#96ff0a 297.5px,#a7ff00 313.5px,#c0f900 327.5px,#eae500 365.5px,#ffb600 399.5px,#ff7900 437.5px,#ff4d00 471.5px,#ff0800 553.5px,#f40200 571.5px,#e40000 637.5px,#a00000 853.5px,#950000 1041.5px,#8f0000 1331.5px)"></i>
<i style="left:296px;width:8px;background:linear-gradient(#a00 24px,#ec0000 47.5px,#ff0900 53.5px,#ff4f00 71.5px,#ffac00 87.5px,#ffb500 89.5px,#e7e600 103.5px,#c3f800 113.5px,#a1ff03 119.5px,#98ff08 121.5px,#71ff2d 127.5px,#47ff4a 131.5px,#05ff62 135.5px,#00ff69 137.5px,#00fd8f 147.5px,#00f6dc 163.5px,#00eff6 167.5px,#00e9f9 169.5px,#00f0f4 185.5px,#00f7d7 207.5px,#00fd9b 235.5px,#0f6 251.5px,#13ff5d 253.5px,#42ff4c 257.5px,#56ff40 261.5px,#78ff28 273.5px,#96ff0a 293.5px,#a7ff00 309.5px,#c0f900 323.5px,#e9e500 361.5px,#ffb400 397.5px,#ff7800 435.5px,#ff4d00 467.5px,#ff0800 547.5px,#f40200 565.5px,#e10000 643.5px,#a00000 847.5px,#940000 1043.5px,#8f0000 1331.5px)"></i>
<i style="left:304px;width:8px;background:linear-gradient(#a00 24px,#ec0000 47.5px,#ff0900 53.5px,#ff4f00 71.5px,#ffac00 87.5px,#ffb400 89.5px,#e8e600 103.5px,#c4f800 113.5px,#a2ff02 119.5px,#8fff11 123.5px,#74ff2b 127.5px,#4bff47 131.5px,#0bff60 135.5px,#00ff68 137.5px,#00fd8e 147.5px,#00f6da 163.5px,#00f0f4 167.5px,#00ebf8 169.5px,#00f0f3 183.5px,#00f4e4 197.5px,#00f7d5 207.5px,#00fd9b 233.5px,#00ff65 249.5px,#45ff4b 255.5px,#57ff3f 259.5px,#79ff27 271.5px,#95ff0b 289.5px,#a6ff00 305.5px,#bff900 319.5px,#eae400 359.5px,#ffb600 393.5px,#ff7a00 431.5px,#ff4c00 465.5px,#ff0900 541.5px,#f40200 559.5px,#de0000 649.5px,#a00000 843.5px,#940000 1045.5px,#8f0000 1331.5px)"></i>
<i style="left:312px;width:8px;background:linear-gradient(#a00 24px,#ec0000 47.5px,#ff0900 53.5px,#ff4f00 71.5px,#ffac00 87.5px,#ffb400 89.5px,#e8e600 103.5px,#c4f700 113.5px,#a2ff02 119.5px,#90ff10 123.5px,#77ff29 127.5px,#4eff45 131.5px,#32ff52 133.5px,#10ff5e 135.5px,#00ff67 137.5px,#00ff74 141.5px,#00fd95 149.5px,#00f7d8 163.5px,#00f1f2 167.5px,#00ecf7 169.5px,#00f0f5 179.5px,#00f4e5 195.5px,#00f7d6 205.5px,#00fd9c 231.5px,#0f6 247.5px,#43ff4c 253.5px,#56ff40 257.5px,#79ff27 269.5px,#96ff0a 287.5px,#a5ff00 301.5px,#befa00 315.5px,#ebe400 357.5px,#ffb600 391.5px,#ff7600 431.5px,#ff4900 465.5px,#ff0900 537.5px,#f40200 555.5px,#dc0000 651.5px,#a00000 839.5px,#930000 1047.5px,#8e0000 1331.5px)"></i>
<i style="left:320px;width:8px;background:linear-gradient(#a00 24px,#f10100 49.5px,#ff0900 53.5px,#ff4f00 71.5px,#ffab00 87.5px,#ffb300 89.5px,#e8e600 103.5px,#c5f700 113.5px,#a3ff02 119.5px,#91ff0f 123.5px,#78ff28 127.5px,#50ff44 131.5px,#35ff51 133.5px,#13ff5d 135.5px,#00ff67 137.5px,#00ff73 141.5px,#00fd95 149.5px,#00f7d7 163.5px,#00f1ef 167.5px,#00edf7 169.5px,#00f0f5 177.5px,#00f2ee 185.5px,#00f7d5 205.5px,#00fc9f 229.5px,#00ff68 245.5px,#09ff61 247.5px,#3cff4f 251.5px,#4bff48 253.5px,#5bff3c 257.5px,#79ff27 267.5px,#97ff0a 285.5px,#a6ff00 299.5px,#bff900 313.5px,#ebe400 355.5px,#ffb500 389.5px,#ff7600 429.5px,#ff4800 463.5px,#ff0800 535.5px,#f40200 551.5px,#da0000 655.5px,#a00000 835.5px,#920000 1049.5px,#8e0000 1331.5px)"></i>
<i style="left:328px;width:8px;background:linear-gradient(#a00 24px,#f10100 49.5px,#ff0900 53.5px,#ff4f00 71.5px,#ffb300 89.5px,#e8e600 103.5px,#c5f700 113.5px,#bcfa00 115.5px,#a3ff01 119.5px,#91ff0f 123.5px,#79ff27 127.5px,#51ff43 131.5px,#36ff51 133.5px,#14ff5d 135.5px,#0f6 137.5px,#00ff73 141.5px,#00fd94 149.5px,#00f6e0 165.5px,#00f2ee 167.5px,#00eef6 169.5px,#00f0f5 175.5px,#00f3e9 189.5px,#00f7d3 205.5px,#00fd9d 229.5px,#0f6 245.5px,#11ff5e 247.5px,#41ff4d 251.5px,#56ff40 255.5px,#77ff29 265.5px,#96ff0a 283.5px,#a7ff00 297.5px,#c0f900 311.5px,#ebe400 353.5px,#ffb600 387.5px,#f70 427.5px,#ff4600 463.5px,#ff0800 533.5px,#f40200 549.5px,#d80000 657.5px,#a10000 829.5px,#920000 1051.5px,#8e0000 1331.5px)"></i>
<i style="left:336px;width:8px;background:linear-gradient(#a00 24px,#f10100 49.5px,#ff0900 53.5px,#ff4f00 71.5px,#ffb300 89.5px,#e8e600 103.5px,#c5f700 113.5px,#bcfa00 115.5px,#a3ff01 119.5px,#91ff0f 123.5px,#79ff27 127.5px,#51ff43 131.5px,#36ff51 133.5px,#14ff5d 135.5px,#0f6 137.5px,#00ff73 141.5px,#00fd94 149.5px,#00f6df 165.5px,#00eff6 169.5px,#00f0f4 175.5px,#00f4e6 191.5px,#00f7d2 205.5px,#00fd9d 229.5px,#00ff67 245.5px,#0fff5f 247.5px,#40ff4d 251.5px,#56ff40 255.5px,#77ff29 265.5px,#97ff09 283.5px,#a5ff00 295.5px,#bffa00 309.5px,#eae400 351.5px,#ffb400 387.5px,#ff7500 427.5px,#ff4500 463.5px,#ff0900 531.5px,#f40200 549.5px,#d70000 659.5px,#a10000 823.5px,#910000 1053.5px,#8e0000 1331.5px)"></i>
<i style="left:344px;width:8px;background:linear-gradient(#a00 24px,#f10000 49.5px,#ff0900 53.5px,#ff4f00 71.5px,#ffb200 89.5px,#e8e600 103.5px,#c5f700 113.5px,#bcfa00 115.5px,#a3ff01 119.5px,#91ff0f 123.5px,#79ff27 127.5px,#50ff44 131.5px,#35ff51 133.5px,#13ff5d 135.5px,#0f6 137.5px,#00ff73 141.5px,#00fd94 149.5px,#00f6de 165.5px,#00eff5 169.5px,#00f4e5 191.5px,#00f7d1 205.5px,#00fd9d 229.5px,#00ff68 245.5px,#07ff62 247.5px,#39ff50 251.5px,#4aff48 253.5px,#5bff3c 257.5px,#7aff26 267.5px,#97ff09 283.5px,#a6ff00 295.5px,#c0f900 309.5px,#ebe400 351.5px,#ffb600 385.5px,#ff7500 427.5px,#ff4500 463.5px,#ff0900 531.5px,#f50200 547.5px,#d70000 659.5px,#a10000 819.5px,#900000 1055.5px,#8e0000 1331.5px)"></i>
<i style="left:352px;width:8px;background:linear-gradient(#a00 24px,#f10000 49.5px,#ff0900 53.5px,#ff4e00 71.5px,#ffb100 89.5px,#e8e600 103.5px,#c5f700 113.5px,#bcfa00 115.5px,#a3ff01 119.5px,#91ff0f 123.5px,#78ff28 127.5px,#4fff44 131.5px,#34ff51 133.5px,#12ff5d 135.5px,#00ff67 137.5px,#00ff73 141.5px,#00fd94 149.5px,#00f6dd 165.5px,#00f0f5 169.5px,#00f4e4 191.5px,#00f7d4 203.5px,#00fd9d 229.5px,#00ff65 247.5px,#44ff4c 253.5px,#57ff3f 257.5px,#79ff27 267.5px,#97ff09 283.5px,#a7ff00 295.5px,#befa00 307.5px,#eae500 349.5px,#ffb600 385.5px,#ff7400 427.5px,#f40 463.5px,#ff0900 531.5px,#f40200 549.5px,#d70000 661.5px,#a10000 817.5px,#900000 1057.5px,#8d0000 1331.5px)"></i>
<i style="left:360px;width:8px;background:linear-gradient(#a00 24px,#f00000 49.5px,#ff0800 53.5px,#ff4e00 71.5px,#ffb100 89.5px,#e8e600 103.5px,#c5f700 113.5px,#bcfa00 115.5px,#a3ff01 119.5px,#90ff10 123.5px,#77ff28 127.5px,#4eff45 131.5px,#32ff52 133.5px,#11ff5e 135.5px,#00ff67 137.5px,#00ff73 141.5px,#00fd94 149.5px,#00f6dd 165.5px,#00f0f5 169.5px,#00f4e4 191.5px,#00f7d3 203.5px,#00fd9d 229.5px,#00ff67 247.5px,#0aff61 249.5px,#39ff50 253.5px,#4aff49 255.5px,#53ff42 257.5px,#77ff29 267.5px,#97ff09 283.5px,#a4ff01 293.5px,#befa00 307.5px,#eae400 349.5px,#ffb600 385.5px,#ff7400 427.5px,#ff4200 465.5px,#ff0900 533.5px,#f40200 551.5px,#d60000 665.5px,#a10000 815.5px,#940000 955.5px,#8f0000 1059.5px,#8d0000 1331.5px)"></i>
<i style="left:368px;width:8px;background:linear-gradient(#a00 24px,#f00000 49.5px,#ff0800 53.5px,#ff4d00 71.5px,#ffb000 89.5px,#e8e600 103.5px,#c5f700 113.5px,#bcfa00 115.5px,#a3ff01 119.5px,#90ff10 123.5px,#76ff29 127.5px,#4dff46 131.5px,#0fff5f 135.5px,#00ff67 137.5px,#00ff74 141.5px,#00fd94 149.5px,#00f6dd 165.5px,#00f0f5 169.5px,#00f5e3 191.5px,#00f7d3 203.5px,#00fd9e 229.5px,#00ff65 249.5px,#42ff4c 255.5px,#57ff3f 259.5px,#7aff26 269.5px,#97ff0a 283.5px,#a4ff01 293.5px,#bffa00 307.5px,#ebe400 349.5px,#ffb500 385.5px,#ff7400 427.5px,#ff4200 465.5px,#ff0800 537.5px,#f40200 555.5px,#d60000 669.5px,#a10000 815.5px,#940000 957.5px,#8f0000 1061.5px,#8d0000 1331.5px)"></i>
<i style="left:376px;width:8px;background:linear-gradient(#a00 24px,#f00000 49.5px,#fe0700 53.5px,#ff4d00 71.5px,#ffaf00 89.5px,#feb800 91.5px,#e8e600 103.5px,#c5f700 113.5px,#bcfa00 115.5px,#a3ff01 119.5px,#90ff10 123.5px,#75ff2a 127.5px,#4bff47 131.5px,#0dff5f 135.5px,#00ff67 137.5px,#00fd94 149.5px,#00f6dc 165.5px,#00f0f4 169.5px,#00f5e3 191.5px,#00f7d2 203.5px,#00fd9a 231.5px,#00ff67 249.5px,#09ff61 251.5px,#37ff50 255.5px,#48ff49 257.5px,#52ff43 259.5px,#78ff28 269.5px,#96ff0a 283.5px,#a4ff01 293.5px,#bffa00 307.5px,#ebe400 349.5px,#ffb500 385.5px,#ff7100 429.5px,#ff4100 467.5px,#ff0900 539.5px,#f40200 559.5px,#d70000 671.5px,#b80000 747.5px,#a10000 817.5px,#930000 961.5px,#8e0000 1063.5px,#8d0000 1331.5px)"></i>
<i style="left:384px;width:8px;background:linear-gradient(#a00 24px,#ef0000 49.5px,#fd0700 53.5px,#ff4c00 71.5px,#ffae00 89.5px,#ffb700 91.5px,#e8e600 103.5px,#c5f700 113.5px,#bcfa00 115.5px,#a3ff01 119.5px,#8fff11 123.5px,#74ff2b 127.5px,#4aff49 131.5px,#0bff60 135.5px,#00ff68 137.5px,#00fd94 149.5px,#00f6dc 165.5px,#00f0f3 169.5px,#00f5e2 191.5px,#00f7d2 203.5px,#00fd9a 231.5px,#00ff65 251.5px,#3fff4e 257.5px,#4cff47 259.5px,#75ff2a 269.5px,#96ff0a 283.5px,#a4ff01 293.5px,#bff900 307.5px,#e9e500 347.5px,#ffb500 385.5px,#ff7400 427.5px,#ff4100 467.5px,#ff0900 543.5px,#f40200 563.5px,#d70000 675.5px,#b80000 747.5px,#a10000 819.5px,#930000 965.5px,#8e0000 1065.5px,#8d0000 1331.5px)"></i>
<i style="left:392px;width:8px;background:linear-gradient(#a00 24px,#ef0000 49.5px,#fc0600 53.5px,#ff0d00 55.5px,#ff4c00 71.5px,#ffb600 91.5px,#eddf00 101.5px,#dbed00 107.5px,#bcfa00 115.5px,#a3ff01 119.5px,#8fff11 123.5px,#73ff2c 127.5px,#48ff4a 131.5px,#08ff61 135.5px,#00ff68 137.5px,#00fd94 149.5px,#00f6dc 165.5px,#00f1f3 169.5px,#00f4e4 189.5px,#00f7d5 201.5px,#00fd9b 231.5px,#00ff67 251.5px,#06ff62 253.5px,#46ff4b 259.5px,#59ff3e 263.5px,#79ff27 271.5px,#98ff08 285.5px,#a4ff01 293.5px,#bff900 307.5px,#eae500 347.5px,#ffb400 385.5px,#ff7100 429.5px,#ff4e00 455.5px,#ff3f00 469.5px,#ff0900 547.5px,#f40200 567.5px,#d70000 677.5px,#b80000 749.5px,#a10000 821.5px,#930000 965.5px,#8e0000 1069.5px,#8d0000 1331.5px)"></i>
<i style="left:400px;width:8px;background:linear-gradient(#a00 24px,#e00 49.5px,#fb0600 53.5px,#ff0d00 55.5px,#ff4b00 71.5px,#ffb500 91.5px,#eddf00 101.5px,#dbed00 107.5px,#bcfa00 115.5px,#a3ff01 119.5px,#8eff12 123.5px,#71ff2d 127.5px,#46ff4b 131.5px,#06ff62 135.5px,#00ff68 137.5px,#00fd94 149.5px,#00f6dc 165.5px,#00f1f3 169.5px,#00f5e4 189.5px,#00f7d4 201.5px,#00fd9b 231.5px,#00ff65 253.5px,#0fff5f 255.5px,#39ff50 259.5px,#49ff49 261.5px,#53ff42 263.5px,#76ff2a 271.5px,#98ff09 285.5px,#a4ff01 293.5px,#c0f900 307.5px,#eae500 347.5px,#ffb400 385.5px,#ff7100 429.5px,#ff4e00 455.5px,#ff3f00 469.5px,#ff0800 551.5px,#f40200 571.5px,#d90000 677.5px,#b90000 751.5px,#a10000 827.5px,#940000 963.5px,#8e0000 1073.5px,#8d0000 1331.5px)"></i>
<i style="left:408px;width:8px;background:linear-gradient(#a00 24px,#e00 49.5px,#fa0600 53.5px,#ff0c00 55.5px,#ff4a00 71.5px,#ffb400 91.5px,#e8e600 103.5px,#c5f700 113.5px,#bcfa00 115.5px,#a3ff02 119.5px,#8eff12 123.5px,#70ff2e 127.5px,#42ff4c 131.5px,#04ff63 135.5px,#00ff69 137.5px,#00fd94 149.5px,#00f6db 165.5px,#00f1f2 169.5px,#00f5e3 189.5px,#00f7d4 201.5px,#00fd9c 231.5px,#00ff67 253.5px,#03ff63 255.5px,#41ff4d 261.5px,#57ff3f 265.5px,#79ff27 273.5px,#98ff09 285.5px,#a4ff01 293.5px,#bdfa00 305.5px,#d7f000 327.5px,#ece200 349.5px,#ffb400 385.5px,#ff7100 429.5px,#ff4e00 455.5px,#ff4000 469.5px,#ff0800 555.5px,#f40200 575.5px,#d90000 679.5px,#b80000 755.5px,#a10000 835.5px,#940000 961.5px,#8e0000 1077.5px,#8d0000 1331.5px)"></i>
<i style="left:416px;width:8px;background:linear-gradient(#a00 24px,#ed0000 49.5px,#f90500 53.5px,#ff0b00 55.5px,#ff5200 73.5px,#ffb300 91.5px,#e8e600 103.5px,#d5f100 109.5px,#bcfa00 115.5px,#a3ff02 119.5px,#8eff12 123.5px,#6eff2f 127.5px,#3fff4d 131.5px,#01ff64 135.5px,#00ff75 141.5px,#00fd94 149.5px,#00f6db 165.5px,#00f1f2 169.5px,#00f5e3 189.5px,#00f7d4 201.5px,#00fd9d 231.5px,#00ff65 255.5px,#0eff5f 257.5px,#48ff49 263.5px,#52ff43 265.5px,#77ff29 273.5px,#92ff0e 283.5px,#9bff07 287.5px,#a4ff01 293.5px,#bdfa00 305.5px,#d7f000 327.5px,#ebe400 347.5px,#ffb400 385.5px,#ff7100 429.5px,#ff4000 469.5px,#ff0900 557.5px,#f50300 579.5px,#da0000 677.5px,#b80000 759.5px,#a10000 843.5px,#950000 959.5px,#8f0000 1081.5px,#8d0000 1331.5px)"></i>
<i style="left:424px;width:8px;background:linear-gradient(#a00 24px,#ed0000 49.5px,#f90500 53.5px,#ff0a00 55.5px,#ff5100 73.5px,#ffb200 91.5px,#e8e600 103.5px,#d5f100 109.5px,#bcfa00 115.5px,#a3ff02 119.5px,#8dff13 123.5px,#6dff30 127.5px,#3cff4e 131.5px,#00ff64 135.5px,#00ff6f 139.5px,#00fd94 149.5px,#00f6db 165.5px,#00f1f1 169.5px,#00f5e3 189.5px,#00f7d3 201.5px,#00fd99 233.5px,#00ff67 255.5px,#05ff62 257.5px,#42ff4d 263.5px,#4eff45 265.5px,#74ff2b 273.5px,#97ff0a 285.5px,#a4ff01 293.5px,#befa00 305.5px,#d8f000 327.5px,#ebe400 347.5px,#ffb700 383.5px,#ff7400 427.5px,#ff4f00 455.5px,#ff4000 469.5px,#ff0800 563.5px,#f50300 583.5px,#d90000 683.5px,#b60000 769.5px,#a10000 849.5px,#960000 957.5px,#8f0000 1085.5px,#8e0000 1331.5px)"></i>
<i style="left:432px;width:8px;background:linear-gradient(#a00 24px,#ec0000 49.5px,#f80400 53.5px,#ff0a00 55.5px,#ff5000 73.5px,#ffb100 91.5px,#e8e600 103.5px,#d5f100 109.5px,#bcfa00 115.5px,#a3ff02 119.5px,#99ff08 121.5px,#8dff13 123.5px,#7eff22 125.5px,#6bff31 127.5px,#3aff4f 131.5px,#00ff65 135.5px,#00ff6f 139.5px,#00fd94 149.5px,#00f6db 165.5px,#00f1f1 169.5px,#00f5e2 189.5px,#00f7d3 201.5px,#00fd99 233.5px,#00ff64 257.5px,#3aff4f 263.5px,#4aff48 265.5px,#7aff26 275.5px,#96ff0a 285.5px,#a4ff01 293.5px,#befa00 305.5px,#d8f000 327.5px,#ebe400 347.5px,#ffb600 383.5px,#ff7100 429.5px,#ff4f00 455.5px,#ff3e00 471.5px,#ff0800 567.5px,#f60300 587.5px,#d90000 685.5px,#b60000 771.5px,#a00000 857.5px,#960000 955.5px,#8f0000 1089.5px,#8e0000 1331.5px)"></i>
<i style="left:440px;width:8px;background:linear-gradient(#a00 24px,#ec0000 49.5px,#ff0900 55.5px,#ff4f00 73.5px,#ffb000 91.5px,#e8e600 103.5px,#d5f100 109.5px,#bcfa00 115.5px,#a3ff02 119.5px,#99ff08 121.5px,#8cff14 123.5px,#7eff22 125.5px,#6aff32 127.5px,#37ff50 131.5px,#19ff5b 133.5px,#00ff65 135.5px,#00ff6f 139.5px,#00fd94 149.5px,#00f6da 165.5px,#00f1f1 169.5px,#00f5e4 187.5px,#00f7d2 201.5px,#00fd9a 233.5px,#0f6 257.5px,#0bff60 259.5px,#46ff4b 265.5px,#79ff27 275.5px,#96ff0a 285.5px,#a4ff01 293.5px,#befa00 305.5px,#d8ef00 327.5px,#ebe400 347.5px,#ffb600 383.5px,#ff7100 429.5px,#ff4f00 455.5px,#ff3f00 471.5px,#ff2900 507.5px,#ff0900 571.5px,#f60300 593.5px,#d90000 687.5px,#b70000 771.5px,#a00000 863.5px,#970000 953.5px,#900000 1093.5px,#8f0000 1331.5px)"></i>
<i style="left:448px;width:8px;background:linear-gradient(#a00 24px,#f10000 51.5px,#ff0800 55.5px,#ff4e00 73.5px,#ffaf00 91.5px,#e8e600 103.5px,#d5f100 109.5px,#bcfa00 115.5px,#a3ff02 119.5px,#99ff08 121.5px,#7dff23 125.5px,#69ff33 127.5px,#35ff51 131.5px,#17ff5c 133.5px,#00ff65 135.5px,#00ff6f 139.5px,#00fd94 149.5px,#00f6da 165.5px,#00f1f0 169.5px,#00f5e3 187.5px,#00f7d5 199.5px,#00fd9a 233.5px,#00ff67 257.5px,#05ff62 259.5px,#40ff4d 265.5px,#77ff29 275.5px,#96ff0a 285.5px,#a4ff01 293.5px,#bafb00 303.5px,#d6f000 325.5px,#ebe300 347.5px,#ffb600 383.5px,#ff7100 429.5px,#ff4f00 455.5px,#ff3f00 471.5px,#ff2a00 507.5px,#ff0800 577.5px,#f50300 599.5px,#d90000 687.5px,#b80000 773.5px,#a00000 869.5px,#980000 949.5px,#900000 1097.5px,#8f0000 1331.5px)"></i>
<i style="left:456px;width:8px;background:linear-gradient(#a00 24px,#f00000 51.5px,#ff0800 55.5px,#ff4e00 73.5px,#ffae00 91.5px,#feb800 93.5px,#e8e600 103.5px,#d5f100 109.5px,#bcfa00 115.5px,#a3ff02 119.5px,#99ff08 121.5px,#7dff23 125.5px,#4fff45 129.5px,#16ff5c 133.5px,#00ff65 135.5px,#00ff70 139.5px,#00fd94 149.5px,#00f6da 165.5px,#00f1f0 169.5px,#00f5e3 187.5px,#00f7d4 199.5px,#00fd9a 233.5px,#00ff64 259.5px,#3bff4f 265.5px,#4bff48 267.5px,#75ff2a 275.5px,#95ff0b 285.5px,#a4ff00 293.5px,#bbfb00 303.5px,#d6f000 325.5px,#ebe300 347.5px,#ffb600 383.5px,#ff7100 429.5px,#ff4f00 455.5px,#ff3f00 471.5px,#ff2b00 505.5px,#ff0800 581.5px,#f60300 601.5px,#ef0000 621.5px,#b80000 775.5px,#a00000 875.5px,#910000 1101.5px,#8f0000 1331.5px)"></i>
<i style="left:464px;width:8px;background:linear-gradient(#a00 24px,#f00000 51.5px,#fe0800 55.5px,#ff4d00 73.5px,#ffad00 91.5px,#feb800 93.5px,#e8e600 103.5px,#d5f100 109.5px,#bcfa00 115.5px,#a3ff02 119.5px,#99ff08 121.5px,#7cff24 125.5px,#4eff45 129.5px,#14ff5d 133.5px,#0f6 135.5px,#00ff70 139.5px,#00fd94 149.5px,#00f6da 165.5px,#00f2ef 169.5px,#00f5e2 187.5px,#00f7d4 199.5px,#00fd9a 233.5px,#00ff65 259.5px,#0eff5f 261.5px,#48ff4a 267.5px,#73ff2b 275.5px,#95ff0b 285.5px,#9aff08 287.5px,#a4ff00 293.5px,#bbfb00 303.5px,#d7f000 325.5px,#eae500 345.5px,#ffb600 383.5px,#ff7400 427.5px,#ff4f00 455.5px,#ff3f00 471.5px,#ff0800 583.5px,#f60300 601.5px,#f00000 623.5px,#b80000 777.5px,#a00000 879.5px,#910000 1107.5px,#900000 1331.5px)"></i>
<i style="left:472px;width:8px;background:linear-gradient(#a00 24px,#f00000 51.5px,#fe0700 55.5px,#ff4d00 73.5px,#ffac00 91.5px,#ffb700 93.5px,#e8e600 103.5px,#d5f100 109.5px,#bcfa00 115.5px,#a3ff02 119.5px,#99ff08 121.5px,#7cff24 125.5px,#4dff46 129.5px,#13ff5d 133.5px,#0f6 135.5px,#00ff70 139.5px,#00fd94 149.5px,#00f7d9 165.5px,#00f2ee 169.5px,#00f5e2 187.5px,#00f7d3 199.5px,#00fd9a 233.5px,#0f6 259.5px,#0bff60 261.5px,#46ff4b 267.5px,#7bff25 277.5px,#95ff0b 285.5px,#9aff08 287.5px,#a5ff00 293.5px,#bbfb00 303.5px,#d7f000 325.5px,#eae400 345.5px,#ffb500 383.5px,#ff7400 427.5px,#ff5000 455.5px,#ff3f00 471.5px,#ff0800 585.5px,#f60300 603.5px,#f00000 623.5px,#b90000 777.5px,#a10000 883.5px,#910000 1111.5px,#900000 1331.5px)"></i>
<i style="left:480px;width:8px;background:linear-gradient(#a00 24px,#f00000 51.5px,#fe0700 55.5px,#ff4c00 73.5px,#ffb600 93.5px,#e8e600 103.5px,#d5f100 109.5px,#bcfa00 115.5px,#a3ff02 119.5px,#99ff08 121.5px,#7cff24 125.5px,#4dff46 129.5px,#13ff5d 133.5px,#0f6 135.5px,#00ff70 139.5px,#00fd94 149.5px,#00f7d9 165.5px,#00f2ee 169.5px,#00f5e3 185.5px,#00f7d2 199.5px,#00fd9a 233.5px,#0f6 259.5px,#09ff61 261.5px,#45ff4b 267.5px,#7bff25 277.5px,#96ff0a 285.5px,#9aff07 287.5px,#a5ff00 293.5px,#bcfa00 303.5px,#d7f000 325.5px,#ebe400 345.5px,#ffb500 383.5px,#ff7300 427.5px,#ff4f00 455.5px,#ff3f00 471.5px,#ff0800 587.5px,#f60300 607.5px,#f00000 625.5px,#b90000 781.5px,#a00000 889.5px,#920000 1115.5px,#910000 1331.5px)"></i>
<i style="left:488px;width:8px;background:linear-gradient(#a00 24px,#f00000 51.5px,#fd0700 55.5px,#ff4c00 73.5px,#ffb600 93.5px,#e8e600 103.5px,#d5f100 109.5px,#bcfa00 115.5px,#a3ff02 119.5px,#99ff08 121.5px,#7cff24 125.5px,#4dff46 129.5px,#13ff5d 133.5px,#0f6 135.5px,#00ff70 139.5px,#00fd94 149.5px,#00f7d8 165.5px,#00f2ed 169.5px,#00f5e2 185.5px,#00f7d1 199.5px,#00fd9a 233.5px,#0f6 259.5px,#09ff61 261.5px,#45ff4b 267.5px,#7bff25 277.5px,#96ff0a 285.5px,#a6ff00 293.5px,#bdfa00 303.5px,#d8f000 325.5px,#ebe400 345.5px,#ffb400 383.5px,#ff7300 427.5px,#ff4f00 455.5px,#ff3f00 471.5px,#ff0900 587.5px,#f40200 613.5px,#b90000 783.5px,#a00000 895.5px,#920000 1119.5px,#910000 1331.5px)"></i>
<i style="left:496px;width:8px;background:linear-gradient(#a00 24px,#f00000 51.5px,#fd0700 55.5px,#ff4c00 73.5px,#ffb500 93.5px,#e8e600 103.5px,#bcfa00 115.5px,#a3ff01 119.5px,#99ff08 121.5px,#7cff24 125.5px,#4dff46 129.5px,#14ff5d 133.5px,#0f6 135.5px,#00ff70 139.5px,#00fd93 149.5px,#00f7d8 165.5px,#00f2ec 169.5px,#00f5e1 185.5px,#00f8d0 199.5px,#00fd9a 233.5px,#0f6 259.5px,#0bff60 261.5px,#46ff4b 267.5px,#7cff24 277.5px,#91ff0f 283.5px,#9bff07 287.5px,#a7ff00 293.5px,#bdfa00 303.5px,#d6f000 323.5px,#ebe300 345.5px,#ffb400 383.5px,#ff7300 427.5px,#ff4f00 455.5px,#ff3f00 471.5px,#ff0900 587.5px,#f40200 613.5px,#ba0000 785.5px,#a00000 899.5px,#930000 1123.5px,#920000 1331.5px)"></i>
<i style="left:504px;width:8px;background:linear-gradient(#a00 24px,#f00000 51.5px,#fd0700 55.5px,#ff4c00 73.5px,#ffb400 93.5px,#e8e600 103.5px,#bdfa00 115.5px,#a3ff01 119.5px,#99ff08 121.5px,#7dff23 125.5px,#4fff45 129.5px,#16ff5c 133.5px,#00ff65 135.5px,#00ff6f 139.5px,#00fd93 149.5px,#00f3eb 169.5px,#00f5e0 185.5px,#00f8cf 199.5px,#00fd99 233.5px,#00ff65 259.5px,#0eff5f 261.5px,#48ff49 267.5px,#76ff2a 275.5px,#98ff09 285.5px,#a3ff01 291.5px,#bafb00 301.5px,#d6f000 323.5px,#eae500 343.5px,#ffb600 381.5px,#ff7200 427.5px,#ff4f00 455.5px,#ff3f00 471.5px,#ff0800 587.5px,#f40200 611.5px,#b90000 789.5px,#a00000 905.5px,#930000 1127.5px,#930000 1331.5px)"></i>
<i style="left:512px;width:8px;background:linear-gradient(#a00 24px,#f00000 51.5px,#fd0700 55.5px,#ff4b00 73.5px,#ffb400 93.5px,#e9e500 103.5px,#befa00 115.5px,#a4ff01 119.5px,#9aff07 121.5px,#7eff22 125.5px,#69ff32 127.5px,#36ff51 131.5px,#18ff5b 133.5px,#00ff65 135.5px,#00ff6f 139.5px,#00fd92 149.5px,#00f3ea 169.5px,#00f6df 185.5px,#00f8ca 201.5px,#00fd98 233.5px,#00ff64 259.5px,#3bff4f 265.5px,#4bff47 267.5px,#78ff28 275.5px,#99ff08 285.5px,#a4ff01 291.5px,#bbfb00 301.5px,#d7f000 323.5px,#eae400 343.5px,#ffb500 381.5px,#ff7100 427.5px,#ff4e00 455.5px,#ff3e00 471.5px,#ff0900 585.5px,#f40200 611.5px,#b90000 791.5px,#a00000 911.5px,#930000 1133.5px,#930000 1331.5px)"></i>
<i style="left:520px;width:8px;background:linear-gradient(#a00 24px,#f00000 51.5px,#fd0700 55.5px,#ff4b00 73.5px,#ffb300 93.5px,#e9e500 103.5px,#befa00 115.5px,#a4ff00 119.5px,#8eff12 123.5px,#6cff30 127.5px,#39ff50 131.5px,#00ff64 135.5px,#00ff6e 139.5px,#00fd91 149.5px,#00f3e9 169.5px,#00f6db 187.5px,#00f9c0 207.5px,#00fd97 233.5px,#0f6 257.5px,#05ff62 259.5px,#42ff4d 265.5px,#7aff26 275.5px,#96ff0a 283.5px,#9aff07 285.5px,#a5ff00 291.5px,#bcfa00 301.5px,#d7f000 323.5px,#ebe400 343.5px,#ffb400 381.5px,#ff7300 425.5px,#ff4d00 455.5px,#ff4000 469.5px,#ff0800 585.5px,#f40200 609.5px,#b90000 795.5px,#a00000 915.5px,#940000 1137.5px,#940000 1331.5px)"></i>
<i style="left:528px;width:8px;background:linear-gradient(#a00 24px,#f00000 51.5px,#fd0700 55.5px,#ff4b00 73.5px,#ffb200 93.5px,#e9e500 103.5px,#bffa00 115.5px,#a5ff00 119.5px,#9cff06 121.5px,#90ff10 123.5px,#6fff2e 127.5px,#3dff4e 131.5px,#02ff63 135.5px,#00ff74 141.5px,#00fd90 149.5px,#00f3e8 169.5px,#00f6da 187.5px,#00fca9 221.5px,#00fd93 235.5px,#00ff65 257.5px,#0cff60 259.5px,#48ff4a 265.5px,#74ff2a 273.5px,#97ff09 283.5px,#a7ff00 291.5px,#b9fb00 299.5px,#d6f100 321.5px,#ebe300 343.5px,#ffb600 379.5px,#ff7200 425.5px,#ff4f00 453.5px,#ff3f00 469.5px,#ff0800 583.5px,#f50200 605.5px,#b90000 797.5px,#a00000 917.5px,#940000 1141.5px,#940000 1331.5px)"></i>
<i style="left:536px;width:8px;background:linear-gradient(#a00 24px,#f00000 51.5px,#fd0700 55.5px,#ff4b00 73.5px,#ffb200 93.5px,#eae500 103.5px,#c0f900 115.5px,#a7ff00 119.5px,#9dff06 121.5px,#92ff0e 123.5px,#73ff2c 127.5px,#42ff4c 131.5px,#07ff61 135.5px,#00ff68 137.5px,#00fd8f 149.5px,#00f4e7 169.5px,#00f7d8 187.5px,#00fca8 221.5px,#00fd91 235.5px,#01ff64 257.5px,#3dff4e 263.5px,#4cff47 265.5px,#78ff28 273.5px,#98ff08 283.5px,#a4ff01 289.5px,#bafb00 299.5px,#d6f000 321.5px,#eae500 341.5px,#ffb500 379.5px,#ff7100 425.5px,#ff4e00 453.5px,#ff3e00 469.5px,#ff0800 581.5px,#f50200 603.5px,#b90000 799.5px,#a10000 919.5px,#940000 1145.5px,#950000 1331.5px)"></i>
<i style="left:544px;width:8px;background:linear-gradient(#a00 24px,#f00000 51.5px,#fd0700 55.5px,#ff4b00 73.5px,#ffb100 93.5px,#eae400 103.5px,#c0f900 115.5px,#a8fe00 119.5px,#9eff05 121.5px,#93ff0d 123.5px,#76ff29 127.5px,#48ff4a 131.5px,#0dff5f 135.5px,#00ff67 137.5px,#00ff71 141.5px,#00fd95 151.5px,#00f4e6 169.5px,#00f7d9 185.5px,#00fca7 221.5px,#00fd90 235.5px,#0f6 255.5px,#09ff61 257.5px,#46ff4b 263.5px,#7bff25 273.5px,#96ff0a 281.5px,#9aff07 283.5px,#a5ff00 289.5px,#bcfa00 299.5px,#d7f000 321.5px,#ebe400 341.5px,#ffb400 379.5px,#ff7200 423.5px,#ff4f00 451.5px,#ff3f00 467.5px,#ff0800 579.5px,#f50200 601.5px,#b90000 801.5px,#a10000 919.5px,#950000 1149.5px,#950000 1331.5px)"></i>
<i style="left:552px;width:8px;background:linear-gradient(#a00 24px,#f00000 51.5px,#fd0700 55.5px,#ff5300 75.5px,#ffb000 93.5px,#ebe400 103.5px,#c1f900 115.5px,#aafe00 119.5px,#9fff04 121.5px,#96ff0a 123.5px,#7aff26 127.5px,#4cff47 131.5px,#13ff5d 135.5px,#0f6 137.5px,#00ff70 141.5px,#00fd93 151.5px,#00f4e5 169.5px,#00f7d7 185.5px,#00fca2 223.5px,#00fd8e 235.5px,#00ff64 255.5px,#3bff4f 261.5px,#4bff47 263.5px,#77ff29 271.5px,#97ff09 281.5px,#a7ff00 289.5px,#b9fb00 297.5px,#d5f100 319.5px,#ebe400 341.5px,#ffb600 377.5px,#ff7400 421.5px,#ff4e00 451.5px,#ff4000 465.5px,#ff0800 577.5px,#f40200 599.5px,#b90000 801.5px,#a10000 921.5px,#950000 1153.5px,#950000 1331.5px)"></i>
<i style="left:560px;width:8px;background:linear-gradient(#a00 24px,#f00000 51.5px,#fd0700 55.5px,#ff5300 75.5px,#ffb000 93.5px,#ebe300 103.5px,#c2f800 115.5px,#a1ff03 121.5px,#97ff09 123.5px,#7cff24 127.5px,#51ff43 131.5px,#00ff65 137.5px,#00ff6f 141.5px,#00fd91 151.5px,#00f5e3 169.5px,#00f7d5 185.5px,#00fd9e 225.5px,#00fd8d 235.5px,#0f6 253.5px,#08ff61 255.5px,#45ff4b 261.5px,#7bff25 271.5px,#99ff08 281.5px,#a4ff01 287.5px,#bafb00 297.5px,#d6f000 319.5px,#ebe300 341.5px,#ffb400 377.5px,#ff7200 421.5px,#ff4f00 449.5px,#ff3f00 465.5px,#ff0900 573.5px,#f50300 595.5px,#b90000 801.5px,#a10000 921.5px,#960000 1157.5px,#960000 1331.5px)"></i>
<i style="left:568px;width:8px;background:linear-gradient(#a00 24px,#f00000 51.5px,#fd0700 55.5px,#ff5300 75.5px,#ffaf00 93.5px,#ece200 103.5px,#c3f800 115.5px,#a2ff02 121.5px,#99ff08 123.5px,#8dff13 125.5px,#6dff30 129.5px,#3fff4e 133.5px,#04ff63 137.5px,#00ff68 139.5px,#00fd8f 151.5px,#00f5e2 169.5px,#00f7d6 183.5px,#00fd9d 225.5px,#00ff64 253.5px,#3bff4f 259.5px,#4bff47 261.5px,#77ff29 269.5px,#97ff0a 279.5px,#a6ff00 287.5px,#bffa00 299.5px,#d7f000 319.5px,#eae400 339.5px,#ffb600 375.5px,#ff7300 419.5px,#ff4d00 449.5px,#ff4000 463.5px,#ff0900 571.5px,#f50300 593.5px,#b90000 801.5px,#a10000 921.5px,#960000 1161.5px,#960000 1331.5px)"></i>
<i style="left:576px;width:8px;background:linear-gradient(#a00 24px,#f00000 51.5px,#fd0700 55.5px,#ff5300 75.5px,#ffaf00 93.5px,#ece100 103.5px,#c4f700 115.5px,#bcfa00 117.5px,#a3ff01 121.5px,#8fff11 125.5px,#72ff2c 129.5px,#47ff4b 133.5px,#0cff60 137.5px,#00ff67 139.5px,#00ff72 143.5px,#00fd96 153.5px,#00f5e1 169.5px,#00f7d4 183.5px,#00fd9c 225.5px,#0f6 251.5px,#08ff61 253.5px,#46ff4b 259.5px,#7aff26 269.5px,#99ff08 279.5px,#a4ff01 285.5px,#bafb00 295.5px,#d6f100 317.5px,#ebe400 339.5px,#ffb400 375.5px,#ff7200 419.5px,#ff4e00 447.5px,#ff3f00 463.5px,#ff0800 569.5px,#f50300 591.5px,#b90000 801.5px,#a10000 921.5px,#960000 1165.5px,#960000 1331.5px)"></i>
<i style="left:584px;width:8px;background:linear-gradient(#a00 24px,#f00000 51.5px,#fd0700 55.5px,#ff5200 75.5px,#ffae00 93.5px,#ede000 103.5px,#e7e600 105.5px,#befa00 117.5px,#a5ff00 121.5px,#92ff0e 125.5px,#77ff28 129.5px,#4cff47 133.5px,#14ff5d 137.5px,#0f6 139.5px,#00ff70 143.5px,#00fd93 153.5px,#00f6df 169.5px,#00f7d4 181.5px,#00fd9d 223.5px,#00fe8c 233.5px,#00ff64 251.5px,#3cff4f 257.5px,#4cff47 259.5px,#77ff29 267.5px,#97ff09 277.5px,#a5ff00 285.5px,#bffa00 297.5px,#d7f000 317.5px,#ece300 339.5px,#ffb600 373.5px,#ff7300 417.5px,#ff4f00 445.5px,#ff3f00 461.5px,#ff0800 567.5px,#f50300 587.5px,#f00000 607.5px,#b90000 799.5px,#a10000 921.5px,#970000 1167.5px,#970000 1331.5px)"></i>
<i style="left:592px;width:8px;background:linear-gradient(#a00 24px,#f00000 51.5px,#fd0700 55.5px,#ff5200 75.5px,#ffae00 93.5px,#feb800 95.5px,#eddf00 103.5px,#e8e600 105.5px,#bffa00 117.5px,#a7ff00 121.5px,#9eff05 123.5px,#95ff0b 125.5px,#7bff25 129.5px,#67ff34 131.5px,#39ff50 135.5px,#00ff64 139.5px,#00ff75 145.5px,#00fd91 153.5px,#00f6de 169.5px,#00f7d3 181.5px,#00fd9c 223.5px,#00fd8e 231.5px,#0f6 249.5px,#09ff61 251.5px,#47ff4a 257.5px,#5dff3b 261.5px,#7bff25 267.5px,#99ff08 277.5px,#a4ff01 283.5px,#befa00 295.5px,#d8f000 317.5px,#ebe400 337.5px,#ffb400 373.5px,#ff7300 415.5px,#ff4d00 445.5px,#ff3f00 459.5px,#ff0800 565.5px,#f50300 585.5px,#d80000 699.5px,#b90000 799.5px,#a10000 921.5px,#970000 1167.5px,#970000 1331.5px)"></i>
<i style="left:600px;width:8px;background:linear-gradient(#a00 24px,#f00000 51.5px,#fd0700 55.5px,#ff5200 75.5px,#ffad00 93.5px,#feb800 95.5px,#e9e500 105.5px,#c0f900 117.5px,#9fff04 123.5px,#97ff09 125.5px,#7eff22 129.5px,#6dff30 131.5px,#42ff4c 135.5px,#07ff61 139.5px,#00ff68 141.5px,#00fd8f 153.5px,#00f6dc 169.5px,#00f7d1 181.5px,#00fd9a 223.5px,#01ff64 249.5px,#40ff4d 255.5px,#4eff45 257.5px,#79ff27 265.5px,#98ff09 275.5px,#a7ff00 283.5px,#bcfa00 293.5px,#d7f000 315.5px,#ebe300 337.5px,#ffb500 371.5px,#ff7100 415.5px,#ff4d00 443.5px,#ff4000 457.5px,#ff0900 561.5px,#f50300 583.5px,#d80000 699.5px,#b90000 797.5px,#a10000 921.5px,#970000 1167.5px,#970000 1331.5px)"></i>
<i style="left:608px;width:8px;background:linear-gradient(#a00 24px,#f00000 51.5px,#fd0700 55.5px,#ff5200 75.5px,#ffad00 93.5px,#feb700 95.5px,#e9e500 105.5px,#c2f900 117.5px,#a1ff03 123.5px,#8dff13 127.5px,#72ff2c 131.5px,#49ff49 135.5px,#10ff5e 139.5px,#0f6 141.5px,#00ff70 145.5px,#00fd94 155.5px,#00f7d3 167.5px,#00f6da 169.5px,#00f8cf 181.5px,#00fd9b 221.5px,#00fd8d 229.5px,#00ff65 247.5px,#0fff5f 249.5px,#3aff4f 253.5px,#4bff48 255.5px,#77ff29 263.5px,#97ff0a 273.5px,#a5ff00 281.5px,#bffa00 293.5px,#ebe400 335.5px,#ffb600 369.5px,#ff7200 413.5px,#ff4d00 441.5px,#ff4000 455.5px,#ff0800 559.5px,#f50300 579.5px,#d70000 699.5px,#b90000 795.5px,#a10000 919.5px,#970000 1167.5px,#970000 1331.5px)"></i>
<i style="left:616px;width:8px;background:linear-gradient(#a00 24px,#f00000 51.5px,#fd0700 55.5px,#ff5200 75.5px,#ffac00 93.5px,#ffb700 95.5px,#eae500 105.5px,#c3f800 117.5px,#a3ff02 123.5px,#90ff10 127.5px,#78ff28 131.5px,#4fff45 135.5px,#00ff65 141.5px,#00ff6f 145.5px,#00fd91 155.5px,#00f7d2 167.5px,#00f7d9 169.5px,#00f8cd 181.5px,#00fd99 221.5px,#0f6 245.5px,#0aff61 247.5px,#48ff4a 253.5px,#74ff2b 261.5px,#95ff0b 271.5px,#a4ff01 279.5px,#befa00 291.5px,#eae400 333.5px,#ffb400 369.5px,#ff7100 411.5px,#ff4f00 437.5px,#ff4100 451.5px,#ff0800 555.5px,#f50300 575.5px,#d80000 697.5px,#b90000 793.5px,#a10000 919.5px,#970000 1167.5px,#970000 1331.5px)"></i>
<i style="left:624px;width:8px;background:linear-gradient(#a00 24px,#f00000 51.5px,#fd0700 55.5px,#ff5100 75.5px,#ffb600 95.5px,#ebe400 105.5px,#c4f800 117.5px,#bcfa00 119.5px,#a4ff01 123.5px,#93ff0d 127.5px,#7bff25 131.5px,#3fff4d 137.5px,#05ff62 141.5px,#00ff68 143.5px,#00fd8f 155.5px,#00f8d0 167.5px,#00f7d7 169.5px,#00fd9a 219.5px,#00fe8c 227.5px,#00ff67 243.5px,#05ff62 245.5px,#45ff4b 251.5px,#71ff2d 259.5px,#94ff0c 269.5px,#a3ff01 277.5px,#c0f900 291.5px,#eae500 331.5px,#ffb400 367.5px,#ff6e00 411.5px,#ff4e00 435.5px,#ff4000 449.5px,#ff0900 551.5px,#f60300 571.5px,#d80000 697.5px,#b90000 791.5px,#a10000 919.5px,#970000 1167.5px,#970000 1331.5px)"></i>
<i style="left:632px;width:8px;background:linear-gradient(#a00 24px,#f00000 51.5px,#fd0700 55.5px,#ff5100 75.5px,#ffb600 95.5px,#ebe300 105.5px,#befa00 119.5px,#a6ff00 123.5px,#9eff05 125.5px,#96ff0a 127.5px,#7eff22 131.5px,#6eff2f 133.5px,#48ff4a 137.5px,#0eff5f 141.5px,#00ff67 143.5px,#00ff71 147.5px,#00fd95 157.5px,#00f8ce 167.5px,#00f7d6 169.5px,#00f8c9 181.5px,#00fd98 219.5px,#01ff64 243.5px,#42ff4d 249.5px,#6fff2e 257.5px,#79ff27 259.5px,#92ff0e 267.5px,#a2ff02 275.5px,#bffa00 289.5px,#ebe300 331.5px,#ffb400 365.5px,#ff6d00 409.5px,#ff4f00 431.5px,#ff4000 445.5px,#ff0900 547.5px,#f60300 567.5px,#d80000 695.5px,#b90000 789.5px,#a10000 917.5px,#970000 1167.5px,#980000 1331.5px)"></i>
<i style="left:640px;width:8px;background:linear-gradient(#a00 24px,#f00000 51.5px,#fd0700 55.5px,#ff5100 75.5px,#ffb500 95.5px,#ece200 105.5px,#bff900 119.5px,#a8fe00 123.5px,#9fff04 125.5px,#98ff09 127.5px,#74ff2b 133.5px,#4dff46 137.5px,#17ff5c 141.5px,#00ff65 143.5px,#00ff6f 147.5px,#00fd92 157.5px,#00f8cc 167.5px,#00f7d4 169.5px,#00fd98 217.5px,#00ff64 241.5px,#3fff4e 247.5px,#4dff46 249.5px,#78ff28 257.5px,#96ff0a 267.5px,#a1ff02 273.5px,#befa00 287.5px,#ebe400 329.5px,#ffb400 363.5px,#ff6c00 407.5px,#ff5000 427.5px,#ff4000 441.5px,#ff0900 543.5px,#f60300 563.5px,#d70000 695.5px,#b90000 789.5px,#a10000 917.5px,#970000 1167.5px,#980000 1331.5px)"></i>
<i style="left:648px;width:8px;background:linear-gradient(#a00 24px,#f00000 51.5px,#fd0700 55.5px,#ff5100 75.5px,#ffb500 95.5px,#ece100 105.5px,#e7e600 107.5px,#c0f900 119.5px,#a1ff03 125.5px,#8fff11 129.5px,#78ff28 133.5px,#3dff4e 139.5px,#03ff63 143.5px,#00ff74 149.5px,#00fd90 157.5px,#00f8cb 167.5px,#00f7d3 169.5px,#00fd99 215.5px,#00ff65 239.5px,#11ff5e 241.5px,#3cff4f 245.5px,#4cff47 247.5px,#76ff2a 255.5px,#95ff0b 265.5px,#a4ff01 273.5px,#befa00 285.5px,#ebe400 327.5px,#ffb400 361.5px,#ff6b00 405.5px,#ff4d00 425.5px,#ff4000 437.5px,#ff0800 539.5px,#f50300 559.5px,#d80000 693.5px,#b90000 787.5px,#a10000 915.5px,#970000 1167.5px,#980000 1331.5px)"></i>
<i style="left:656px;width:8px;background:linear-gradient(#a00 24px,#f00000 51.5px,#fd0700 55.5px,#ff5100 75.5px,#ffb400 95.5px,#e8e600 107.5px,#c2f900 119.5px,#a2ff02 125.5px,#92ff0e 129.5px,#7bff25 133.5px,#46ff4b 139.5px,#0bff60 143.5px,#00ff67 145.5px,#00fd8d 157.5px,#00fd97 159.5px,#00f8c9 167.5px,#00f7d1 169.5px,#00fd99 213.5px,#00ff65 237.5px,#0fff5f 239.5px,#3aff4f 243.5px,#4aff48 245.5px,#74ff2b 253.5px,#93ff0d 263.5px,#a3ff02 271.5px,#c0f900 285.5px,#ebe400 325.5px,#ffb400 359.5px,#ff6900 403.5px,#ff4e00 421.5px,#ff4000 433.5px,#ff0800 535.5px,#f50300 555.5px,#d80000 691.5px,#b90000 785.5px,#a10000 915.5px,#980000 1167.5px,#980000 1331.5px)"></i>
<i style="left:664px;width:8px;background:linear-gradient(#a00 24px,#f00000 51.5px,#fd0700 55.5px,#ff5000 75.5px,#ffb400 95.5px,#e9e500 107.5px,#c3f800 119.5px,#a4ff01 125.5px,#94ff0c 129.5px,#70ff2e 135.5px,#4bff47 139.5px,#14ff5d 143.5px,#0f6 145.5px,#00ff70 149.5px,#00fd93 159.5px,#00f9c7 167.5px,#00f8d0 169.5px,#00fd9a 211.5px,#0f6 235.5px,#0dff5f 237.5px,#49ff49 243.5px,#72ff2c 251.5px,#97ff09 263.5px,#a2ff02 269.5px,#bffa00 283.5px,#ebe400 323.5px,#ffb600 355.5px,#ff6400 403.5px,#ff4e00 417.5px,#ff4000 429.5px,#ff0800 531.5px,#f60300 549.5px,#f00000 575.5px,#d80000 691.5px,#b90000 783.5px,#a10000 913.5px,#980000 1167.5px,#980000 1331.5px)"></i>
<i style="left:672px;width:8px;background:linear-gradient(#a00 24px,#f00000 51.5px,#fd0700 55.5px,#ff5000 75.5px,#ffb300 95.5px,#e9e500 107.5px,#c4f800 119.5px,#bcfa00 121.5px,#a5ff00 125.5px,#96ff0a 129.5px,#74ff2b 135.5px,#50ff44 139.5px,#39ff4f 141.5px,#00ff64 145.5px,#00ff74 151.5px,#00fd90 159.5px,#00f9c5 167.5px,#00f8ce 169.5px,#00fd9a 209.5px,#00fe8b 217.5px,#0f6 233.5px,#0bff60 235.5px,#48ff4a 241.5px,#71ff2d 249.5px,#79ff27 251.5px,#96ff0a 261.5px,#a1ff03 267.5px,#befa00 281.5px,#ebe400 321.5px,#ffb600 353.5px,#ff6200 401.5px,#ff4f00 413.5px,#ff4000 425.5px,#ff0800 527.5px,#f60300 545.5px,#d80000 689.5px,#b90000 781.5px,#a10000 911.5px,#980000 1167.5px,#980000 1331.5px)"></i>
<i style="left:680px;width:8px;background:linear-gradient(#a00 24px,#f00000 51.5px,#fd0700 55.5px,#ff5000 75.5px,#ffb300 95.5px,#eae500 107.5px,#befa00 121.5px,#a7ff00 125.5px,#9fff04 127.5px,#98ff09 129.5px,#78ff28 135.5px,#42ff4d 141.5px,#07ff61 145.5px,#00ff68 147.5px,#00fd8e 159.5px,#00f9c3 167.5px,#00f8cd 169.5px,#00f9c2 179.5px,#00fd97 209.5px,#0f6 231.5px,#09ff61 233.5px,#47ff4a 239.5px,#6fff2e 247.5px,#78ff28 249.5px,#95ff0b 259.5px,#a0ff04 265.5px,#a7ff00 269.5px,#c0f900 281.5px,#eae400 319.5px,#ffb600 351.5px,#ff5600 405.5px,#ff3f00 423.5px,#ff0800 523.5px,#f60300 541.5px,#d80000 687.5px,#b90000 781.5px,#a10000 911.5px,#980000 1167.5px,#980000 1331.5px)"></i>
<i style="left:688px;width:8px;background:linear-gradient(#a00 24px,#f00000 51.5px,#fd0700 55.5px,#ff5000 75.5px,#ffb200 95.5px,#ebe400 107.5px,#bffa00 121.5px,#a0ff03 127.5px,#90ff10 131.5px,#7bff25 135.5px,#6bff31 137.5px,#48ff4a 141.5px,#0fff5f 145.5px,#0f6 147.5px,#00ff71 151.5px,#00fd8d 159.5px,#00fd96 161.5px,#00f9c1 167.5px,#00f8cb 169.5px,#00f9c0 179.5px,#00fd98 207.5px,#00ff67 229.5px,#06ff62 231.5px,#45ff4b 237.5px,#77ff29 247.5px,#93ff0d 257.5px,#9fff04 263.5px,#a5ff00 267.5px,#bffa00 279.5px,#eae500 317.5px,#ffb600 349.5px,#ff5100 405.5px,#ff3f00 419.5px,#ff0800 519.5px,#f60300 537.5px,#d70000 687.5px,#b90000 779.5px,#a10000 909.5px,#980000 1167.5px,#980000 1331.5px)"></i>
<i style="left:696px;width:8px;background:linear-gradient(#a00 24px,#f00000 51.5px,#fd0700 55.5px,#ff4f00 75.5px,#ffb200 95.5px,#ebe400 107.5px,#c0f900 121.5px,#a1ff02 127.5px,#92ff0e 131.5px,#6fff2e 137.5px,#4cff47 141.5px,#16ff5c 145.5px,#00ff65 147.5px,#00ff6f 151.5px,#00fd93 161.5px,#00f9bf 167.5px,#00f8c9 169.5px,#00fabe 179.5px,#00fd98 205.5px,#00ff67 227.5px,#03ff63 229.5px,#42ff4d 235.5px,#62ff38 241.5px,#7bff25 247.5px,#96ff0a 257.5px,#9dff05 261.5px,#a8fe00 267.5px,#befa00 277.5px,#eae500 315.5px,#ffb600 347.5px,#ff5000 403.5px,#ff3e00 417.5px,#ff0800 515.5px,#f60300 533.5px,#d70000 685.5px,#b80000 779.5px,#a10000 909.5px,#980000 1167.5px,#980000 1331.5px)"></i>
<i style="left:704px;width:8px;background:linear-gradient(#a00 24px,#f00000 51.5px,#fd0700 55.5px,#ff4f00 75.5px,#ffb100 95.5px,#ebe300 107.5px,#c1f900 121.5px,#a2ff02 127.5px,#94ff0c 131.5px,#72ff2c 137.5px,#50ff44 141.5px,#3aff4f 143.5px,#00ff64 147.5px,#00ff74 153.5px,#00fd90 161.5px,#00fabd 167.5px,#00f8c8 169.5px,#00fabd 179.5px,#00fd99 203.5px,#00ff64 227.5px,#3eff4e 233.5px,#56ff40 237.5px,#7aff26 245.5px,#95ff0b 255.5px,#9cff06 259.5px,#a6ff00 265.5px,#c0f900 277.5px,#ebe300 315.5px,#ffb600 345.5px,#ff4f00 401.5px,#ff3f00 413.5px,#ff0800 511.5px,#f50300 531.5px,#d70000 683.5px,#b90000 777.5px,#a10000 907.5px,#980000 1167.5px,#900 1331.5px)"></i>
<i style="left:712px;width:8px;background:linear-gradient(#a00 24px,#f00000 51.5px,#fd0700 55.5px,#ff4f00 75.5px,#ffb100 95.5px,#ece200 107.5px,#c2f900 121.5px,#a3ff01 127.5px,#95ff0b 131.5px,#76ff2a 137.5px,#41ff4d 143.5px,#06ff62 147.5px,#00ff68 149.5px,#00fd8f 161.5px,#00fabb 167.5px,#00f9c6 169.5px,#00fd9a 201.5px,#00ff65 225.5px,#10ff5e 227.5px,#39ff50 231.5px,#4aff49 233.5px,#53ff42 235.5px,#78ff28 243.5px,#93ff0d 253.5px,#9bff07 257.5px,#a5ff00 263.5px,#bffa00 275.5px,#ebe400 313.5px,#ffb300 345.5px,#ff4e00 399.5px,#ff3f00 411.5px,#ff0900 507.5px,#f50300 527.5px,#d70000 681.5px,#b80000 777.5px,#a10000 905.5px,#980000 1167.5px,#900 1331.5px)"></i>
<i style="left:720px;width:8px;background:linear-gradient(#a00 24px,#f00000 51.5px,#fd0700 55.5px,#ff4e00 75.5px,#ffb000 95.5px,#ece100 107.5px,#d7f000 115.5px,#c2f800 121.5px,#a4ff01 127.5px,#97ff0a 131.5px,#78ff28 137.5px,#46ff4b 143.5px,#0cff60 147.5px,#00ff67 149.5px,#00fd8e 161.5px,#00fd99 163.5px,#00fab9 167.5px,#00f9c4 169.5px,#00fab9 179.5px,#00fd97 201.5px,#0f6 223.5px,#0aff60 225.5px,#47ff4b 231.5px,#51ff44 233.5px,#75ff2a 241.5px,#96ff0a 253.5px,#99ff08 255.5px,#a7ff00 263.5px,#befa00 273.5px,#eae400 311.5px,#ffb400 343.5px,#ff4e00 397.5px,#ff3f00 409.5px,#ff0900 503.5px,#f50300 523.5px,#d70000 679.5px,#b80000 775.5px,#a10000 905.5px,#980000 1169.5px,#900 1331.5px)"></i>
<i style="left:728px;width:8px;background:linear-gradient(#a00 24px,#f00000 51.5px,#fd0700 55.5px,#ff4e00 75.5px,#ffb000 95.5px,#ece100 107.5px,#e8e600 109.5px,#c3f800 121.5px,#a5ff00 127.5px,#97ff09 131.5px,#7aff26 137.5px,#4aff48 143.5px,#12ff5e 147.5px,#0f6 149.5px,#00ff70 153.5px,#00fd8c 161.5px,#00fd96 163.5px,#00fab7 167.5px,#00f9c3 169.5px,#00fab7 179.5px,#00fd98 199.5px,#00ff67 221.5px,#04ff62 223.5px,#41ff4d 229.5px,#57ff3f 233.5px,#7aff26 241.5px,#98ff09 253.5px,#a5ff00 261.5px,#bff900 273.5px,#eae500 309.5px,#ffb500 341.5px,#ff4e00 395.5px,#ff3e00 407.5px,#ff0800 501.5px,#f60300 519.5px,#d70000 677.5px,#b90000 773.5px,#a10000 903.5px,#980000 1169.5px,#900 1331.5px)"></i>
<i style="left:736px;width:8px;background:linear-gradient(#a00 24px,#f00000 51.5px,#fd0700 55.5px,#ff4e00 75.5px,#ffaf00 95.5px,#e8e600 109.5px,#bdfa00 123.5px,#a6ff00 127.5px,#9fff04 129.5px,#90ff10 133.5px,#7cff24 137.5px,#6eff2f 139.5px,#4dff46 143.5px,#00ff65 149.5px,#00ff6f 153.5px,#00fd93 163.5px,#00fbb5 167.5px,#00f9c1 169.5px,#00fbb5 179.5px,#00fd99 197.5px,#00ff64 221.5px,#3bff4f 227.5px,#4aff48 229.5px,#78ff28 239.5px,#96ff0a 251.5px,#a7ff00 261.5px,#befa00 271.5px,#ebe400 309.5px,#ffb500 339.5px,#ff5100 391.5px,#ff3e00 405.5px,#ff0900 497.5px,#f50300 517.5px,#d70000 673.5px,#b80000 773.5px,#a10000 901.5px,#980000 1169.5px,#900 1331.5px)"></i>
<i style="left:744px;width:8px;background:linear-gradient(#a00 24px,#f00000 51.5px,#fd0700 55.5px,#ff4d00 75.5px,#ffaf00 95.5px,#feb800 97.5px,#e9e500 109.5px,#befa00 123.5px,#a0ff03 129.5px,#91ff0f 133.5px,#71ff2d 139.5px,#50ff44 143.5px,#3bff4f 145.5px,#00ff64 149.5px,#00ff75 155.5px,#00fd91 163.5px,#00fbb3 167.5px,#00f9bf 169.5px,#00fd9a 195.5px,#00ff65 219.5px,#0dff5f 221.5px,#47ff4a 227.5px,#51ff43 229.5px,#7bff25 239.5px,#98ff08 251.5px,#a5ff00 259.5px,#c0f900 271.5px,#eae400 307.5px,#ffb600 337.5px,#ff4e00 391.5px,#ff3e00 403.5px,#ff0800 495.5px,#f50300 513.5px,#d70000 671.5px,#b80000 771.5px,#a10000 901.5px,#980000 1169.5px,#900 1331.5px)"></i>
<i style="left:752px;width:8px;background:linear-gradient(#a00 24px,#f00000 51.5px,#fd0700 55.5px,#ff4d00 75.5px,#ffae00 95.5px,#ffb700 97.5px,#e9e500 109.5px,#bffa00 123.5px,#a1ff03 129.5px,#93ff0d 133.5px,#74ff2b 139.5px,#41ff4d 145.5px,#06ff62 149.5px,#00ff68 151.5px,#00fd90 163.5px,#00fbb0 167.5px,#00fabc 169.5px,#00fd9a 193.5px,#0f6 217.5px,#07ff62 219.5px,#42ff4c 225.5px,#4eff46 227.5px,#79ff27 237.5px,#97ff09 249.5px,#a4ff01 257.5px,#befa00 269.5px,#eae500 305.5px,#ffb300 337.5px,#ff4e00 389.5px,#ff3e00 401.5px,#ff0900 491.5px,#f50300 511.5px,#d70000 669.5px,#b80000 769.5px,#a10000 899.5px,#980000 1169.5px,#900 1331.5px)"></i>
<i style="left:760px;width:8px;background:linear-gradient(#a00 24px,#f00000 51.5px,#fd0700 55.5px,#ff4d00 75.5px,#ffae00 95.5px,#ffb700 97.5px,#eae500 109.5px,#bff900 123.5px,#a2ff02 129.5px,#94ff0c 133.5px,#77ff29 139.5px,#47ff4a 145.5px,#0cff60 149.5px,#00ff67 151.5px,#00fd8f 163.5px,#00faba 169.5px,#00fbae 179.5px,#00fd98 193.5px,#01ff64 217.5px,#3cff4f 223.5px,#4aff48 225.5px,#76ff29 235.5px,#99ff08 249.5px,#a5ff00 257.5px,#c0f900 269.5px,#ebe400 305.5px,#ffb400 335.5px,#ff4e00 387.5px,#ff3e00 399.5px,#ff0800 489.5px,#f50300 507.5px,#d70000 667.5px,#b80000 767.5px,#a10000 897.5px,#900 1169.5px,#900 1331.5px)"></i>
<i style="left:768px;width:8px;background:linear-gradient(#a00 24px,#f00000 51.5px,#fd0700 55.5px,#ff4c00 75.5px,#ffb600 97.5px,#eae400 109.5px,#c0f900 123.5px,#a2ff02 129.5px,#95ff0b 133.5px,#79ff27 139.5px,#4aff48 145.5px,#12ff5d 149.5px,#0f6 151.5px,#00ff70 155.5px,#00fd8d 163.5px,#00fab8 169.5px,#00fd98 191.5px,#00ff65 215.5px,#0fff5f 217.5px,#47ff4a 223.5px,#7aff26 235.5px,#97ff09 247.5px,#a4ff01 255.5px,#bffa00 267.5px,#ebe400 303.5px,#ffb500 333.5px,#ff4f00 385.5px,#ff3e00 397.5px,#ff0900 485.5px,#f50300 505.5px,#d80000 663.5px,#b80000 765.5px,#a10000 895.5px,#900 1169.5px,#900 1331.5px)"></i>
<i style="left:776px;width:8px;background:linear-gradient(#a00 24px,#f00000 51.5px,#fd0700 55.5px,#ff4c00 75.5px,#ffb500 97.5px,#ebe400 109.5px,#c1f900 123.5px,#a3ff01 129.5px,#97ff0a 133.5px,#7bff25 139.5px,#6dff30 141.5px,#4eff46 145.5px,#37ff50 147.5px,#19ff5b 149.5px,#00ff65 151.5px,#00ff6f 155.5px,#00fd8c 163.5px,#00fd97 165.5px,#00fca8 167.5px,#00fbb5 169.5px,#00fd99 189.5px,#0f6 213.5px,#08ff61 215.5px,#42ff4d 221.5px,#56ff40 225.5px,#78ff28 233.5px,#99ff08 247.5px,#a6ff00 255.5px,#c0f900 267.5px,#eae500 301.5px,#ffb600 331.5px,#ff4f00 383.5px,#ff3f00 395.5px,#ff0800 483.5px,#f50300 501.5px,#d70000 661.5px,#b80000 763.5px,#a10000 895.5px,#900 1169.5px,#900 1331.5px)"></i>
<i style="left:784px;width:8px;background:linear-gradient(#a00 24px,#f00000 51.5px,#fd0700 55.5px,#ff4c00 75.5px,#ffb500 97.5px,#ebe400 109.5px,#c2f800 123.5px,#a4ff01 129.5px,#98ff09 133.5px,#7cff24 139.5px,#70ff2e 141.5px,#51ff43 145.5px,#3eff4e 147.5px,#01ff64 151.5px,#00ff6e 155.5px,#00fe8b 163.5px,#00fd94 165.5px,#00fca6 167.5px,#00fbb2 169.5px,#00fd99 187.5px,#02ff63 213.5px,#3bff4f 219.5px,#4aff48 221.5px,#75ff2a 231.5px,#98ff09 245.5px,#a4ff01 253.5px,#bffa00 265.5px,#e9e500 299.5px,#ffb700 329.5px,#ff4f00 381.5px,#ff3f00 393.5px,#ff0800 481.5px,#f50300 499.5px,#d70000 659.5px,#b80000 761.5px,#a10000 893.5px,#900 1169.5px,#900 1331.5px)"></i>
<i style="left:792px;width:8px;background:linear-gradient(#a00 24px,#f00000 51.5px,#fd0700 55.5px,#ff4b00 75.5px,#ffb400 97.5px,#ebe300 109.5px,#c3f800 123.5px,#a5ff00 129.5px,#90ff10 135.5px,#73ff2c 141.5px,#44ff4c 147.5px,#07ff62 151.5px,#00ff68 153.5px,#00fd92 165.5px,#00fbb0 169.5px,#00fd97 187.5px,#00ff65 211.5px,#0fff5f 213.5px,#46ff4b 219.5px,#79ff27 231.5px,#96ff0a 243.5px,#a6ff00 253.5px,#befa00 263.5px,#ebe400 299.5px,#ffb400 329.5px,#ff5000 379.5px,#ff3f00 391.5px,#ff0900 477.5px,#f50300 497.5px,#d70000 657.5px,#b80000 757.5px,#a10000 889.5px,#900 1167.5px,#900 1331.5px)"></i>
<i style="left:800px;width:8px;background:linear-gradient(#a00 24px,#f00000 51.5px,#fd0700 55.5px,#ff4b00 75.5px,#ffb400 97.5px,#ece200 109.5px,#c3f800 123.5px,#a6ff00 129.5px,#9fff04 131.5px,#92ff0e 135.5px,#76ff2a 141.5px,#48ff49 147.5px,#0dff5f 151.5px,#00ff67 153.5px,#00fd90 165.5px,#00fbad 169.5px,#00fd97 185.5px,#0f6 209.5px,#08ff61 211.5px,#40ff4d 217.5px,#4cff47 219.5px,#7cff24 231.5px,#94ff0c 241.5px,#a4ff00 251.5px,#bff900 263.5px,#ece200 299.5px,#ffb500 327.5px,#ff5c00 371.5px,#ff4200 387.5px,#ff3700 399.5px,#ff0900 475.5px,#f60300 491.5px,#f00000 519.5px,#d70000 655.5px,#b90000 753.5px,#a10000 887.5px,#900 1169.5px,#900 1331.5px)"></i>
<i style="left:808px;width:8px;background:linear-gradient(#a00 24px,#f00000 51.5px,#fc0700 55.5px,#ff5300 77.5px,#ffb300 97.5px,#ece200 109.5px,#e7e600 111.5px,#bdfa00 125.5px,#a7ff00 129.5px,#a0ff03 131.5px,#93ff0d 135.5px,#78ff28 141.5px,#4cff47 147.5px,#33ff52 149.5px,#13ff5d 151.5px,#0f6 153.5px,#00ff71 157.5px,#00fd8f 165.5px,#00fcaa 169.5px,#00fd98 183.5px,#00ff67 207.5px,#02ff63 209.5px,#48ff49 217.5px,#7aff26 229.5px,#96ff0a 241.5px,#a6ff00 251.5px,#befa00 261.5px,#ebe300 297.5px,#ffb500 325.5px,#ff5100 375.5px,#ff4000 387.5px,#ff0900 473.5px,#f60300 489.5px,#f00000 517.5px,#d80000 651.5px,#b80000 749.5px,#a10000 883.5px,#900 1169.5px,#9a0000 1331.5px)"></i>
<i style="left:816px;width:8px;background:linear-gradient(#a00 24px,#f00000 51.5px,#fc0700 55.5px,#ff5200 77.5px,#ffb200 97.5px,#e8e600 111.5px,#befa00 125.5px,#a1ff03 131.5px,#95ff0b 135.5px,#7aff26 141.5px,#6cff30 143.5px,#4fff45 147.5px,#39ff50 149.5px,#1aff5b 151.5px,#00ff65 153.5px,#00ff70 157.5px,#00fd8e 165.5px,#00fca8 169.5px,#00fd95 183.5px,#00ff65 207.5px,#0eff5f 209.5px,#43ff4c 215.5px,#77ff29 227.5px,#94ff0c 239.5px,#a4ff00 249.5px,#c0f900 261.5px,#ebe400 295.5px,#ffb600 323.5px,#f50 371.5px,#ff4000 385.5px,#ff0900 471.5px,#f60300 487.5px,#f00000 515.5px,#d80000 649.5px,#b90000 743.5px,#a10000 879.5px,#9a0000 1169.5px,#9a0000 1331.5px)"></i>
<i style="left:824px;width:8px;background:linear-gradient(#a00 24px,#f00000 51.5px,#fc0700 55.5px,#ff5100 77.5px,#ffb200 97.5px,#e8e600 111.5px,#bffa00 125.5px,#a2ff02 131.5px,#96ff0a 135.5px,#7bff25 141.5px,#52ff43 147.5px,#40ff4d 149.5px,#00ff64 153.5px,#00ff6f 157.5px,#00fd8d 165.5px,#00fca5 169.5px,#00fd96 181.5px,#0f6 205.5px,#07ff62 207.5px,#3cff4e 213.5px,#4aff48 215.5px,#7aff26 227.5px,#96ff0a 239.5px,#a6ff00 249.5px,#befa00 259.5px,#eae400 293.5px,#ffb600 321.5px,#ff5600 369.5px,#ff4000 383.5px,#ff0900 469.5px,#f60300 485.5px,#f00000 513.5px,#d80000 647.5px,#b90000 739.5px,#a10000 875.5px,#9a0000 1331.5px)"></i>
<i style="left:832px;width:8px;background:linear-gradient(#a00 24px,#f00000 51.5px,#fc0700 55.5px,#ff5100 77.5px,#ffb100 97.5px,#e9e500 111.5px,#c0f900 125.5px,#a2ff02 131.5px,#97ff0a 135.5px,#72ff2d 143.5px,#46ff4b 149.5px,#06ff62 153.5px,#00ff68 155.5px,#00fd8c 165.5px,#00fca2 169.5px,#00fd93 181.5px,#00ff64 205.5px,#46ff4b 213.5px,#78ff28 225.5px,#94ff0c 237.5px,#a4ff00 247.5px,#c0f900 259.5px,#ece200 293.5px,#ffb700 319.5px,#ff5600 367.5px,#ff4000 381.5px,#ff0900 467.5px,#f60300 483.5px,#f00000 509.5px,#d70000 645.5px,#b90000 733.5px,#a10000 871.5px,#9a0000 1331.5px)"></i>
<i style="left:840px;width:8px;background:linear-gradient(#a00 24px,#f00000 51.5px,#fc0700 55.5px,#ff5000 77.5px,#ffb100 97.5px,#e9e500 111.5px,#c0f900 125.5px,#a3ff01 131.5px,#98ff09 135.5px,#74ff2b 143.5px,#49ff49 149.5px,#0cff60 153.5px,#00ff67 155.5px,#00fe8b 165.5px,#00fc9f 169.5px,#00fd90 181.5px,#00ff65 203.5px,#0aff60 205.5px,#3fff4e 211.5px,#4bff48 213.5px,#7aff26 225.5px,#96ff0a 237.5px,#a6ff00 247.5px,#bffa00 257.5px,#ece300 291.5px,#ffb700 317.5px,#ff5600 365.5px,#ff4000 379.5px,#ff0800 465.5px,#f60300 481.5px,#f00000 507.5px,#d70000 643.5px,#b90000 729.5px,#a10000 867.5px,#9a0000 1331.5px)"></i>
<i style="left:848px;width:8px;background:linear-gradient(#a00 24px,#f00000 51.5px,#fc0700 55.5px,#ff5000 77.5px,#ffb000 97.5px,#eae500 111.5px,#c1f900 125.5px,#a4ff01 131.5px,#98ff08 135.5px,#76ff29 143.5px,#4cff47 149.5px,#32ff52 151.5px,#12ff5e 153.5px,#00ff67 155.5px,#00ff72 159.5px,#00fd9d 169.5px,#00fd91 179.5px,#00ff67 201.5px,#03ff63 203.5px,#47ff4a 211.5px,#78ff28 223.5px,#94ff0c 235.5px,#a4ff01 245.5px,#c0f900 257.5px,#ece300 289.5px,#ffb700 315.5px,#ff5600 363.5px,#ff4000 377.5px,#ff0800 463.5px,#f60300 479.5px,#f00000 505.5px,#d80000 639.5px,#b90000 723.5px,#a10000 861.5px,#9a0000 1331.5px)"></i>
<i style="left:856px;width:8px;background:linear-gradient(#a00 24px,#f00000 51.5px,#fc0700 55.5px,#ff0c00 57.5px,#ff4f00 77.5px,#ffb000 97.5px,#eae500 111.5px,#c2f900 125.5px,#a4ff00 131.5px,#92ff0e 137.5px,#78ff28 143.5px,#4eff45 149.5px,#38ff50 151.5px,#17ff5c 153.5px,#0f6 155.5px,#00ff71 159.5px,#00fd9a 169.5px,#00fd8f 179.5px,#00ff65 201.5px,#0dff5f 203.5px,#40ff4d 209.5px,#4cff47 211.5px,#7aff26 223.5px,#96ff0a 235.5px,#a6ff00 245.5px,#bffa00 255.5px,#ebe300 287.5px,#ffb700 313.5px,#ff5600 361.5px,#ff4000 375.5px,#ff0800 461.5px,#f60300 477.5px,#f00000 501.5px,#d70000 637.5px,#b90000 719.5px,#a10000 857.5px,#9a0000 1331.5px)"></i>
<i style="left:864px;width:8px;background:linear-gradient(#a00 24px,#f00000 51.5px,#fc0700 55.5px,#ff0c00 57.5px,#ff4e00 77.5px,#ffaf00 97.5px,#ebe400 111.5px,#c2f800 125.5px,#a5ff00 131.5px,#93ff0d 137.5px,#7aff26 143.5px,#6cff30 145.5px,#50ff44 149.5px,#3eff4e 151.5px,#00ff65 155.5px,#00ff70 159.5px,#00fd98 169.5px,#00fd8c 179.5px,#0f6 199.5px,#05ff62 201.5px,#47ff4a 209.5px,#78ff28 221.5px,#93ff0d 233.5px,#a4ff01 243.5px,#c1f900 255.5px,#ebe300 285.5px,#ffb600 311.5px,#ff5600 359.5px,#ff4000 373.5px,#ff0800 459.5px,#f60300 475.5px,#f00000 499.5px,#d70000 635.5px,#b90000 715.5px,#a10000 853.5px,#9a0000 1331.5px)"></i>
<i style="left:872px;width:8px;background:linear-gradient(#a00 24px,#f00000 51.5px,#fc0600 55.5px,#ff0c00 57.5px,#ff4e00 77.5px,#ffaf00 97.5px,#ebe400 111.5px,#c3f800 125.5px,#a6ff00 131.5px,#a0ff03 133.5px,#94ff0c 137.5px,#7bff25 143.5px,#53ff42 149.5px,#43ff4c 151.5px,#01ff64 155.5px,#00ff6f 159.5px,#00fd96 169.5px,#00fd8d 177.5px,#00ff65 199.5px,#41ff4d 207.5px,#54ff41 211.5px,#7aff26 221.5px,#95ff0b 233.5px,#a5ff00 243.5px,#bffa00 253.5px,#ebe400 283.5px,#ffb600 309.5px,#ff5600 357.5px,#ff4000 371.5px,#ff0900 457.5px,#f60300 473.5px,#f00000 497.5px,#d70000 631.5px,#b90000 709.5px,#a10000 847.5px,#9a0000 1331.5px)"></i>
<i style="left:880px;width:8px;background:linear-gradient(#a00 24px,#f00000 51.5px,#fc0600 55.5px,#ff0c00 57.5px,#ff4e00 77.5px,#ffaf00 97.5px,#ebe400 111.5px,#c3f800 125.5px,#a0ff03 133.5px,#95ff0b 137.5px,#70ff2d 145.5px,#47ff4b 151.5px,#05ff62 155.5px,#00ff69 157.5px,#00fd94 169.5px,#00fe8b 177.5px,#0f6 197.5px,#06ff62 199.5px,#48ff4a 207.5px,#77ff29 219.5px,#97ff0a 233.5px,#a7ff00 243.5px,#c0f900 253.5px,#eae400 281.5px,#ffb600 307.5px,#ff5600 355.5px,#ff4000 369.5px,#ff0900 455.5px,#f60300 471.5px,#f00000 495.5px,#d70000 627.5px,#b90000 705.5px,#a10000 843.5px,#9a0000 1331.5px)"></i>
<i style="left:888px;width:8px;background:linear-gradient(#a00 24px,#f00000 51.5px,#fc0600 55.5px,#ff0c00 57.5px,#ff4d00 77.5px,#ffae00 97.5px,#ffb700 99.5px,#ebe300 111.5px,#c4f800 125.5px,#a1ff03 133.5px,#96ff0a 137.5px,#72ff2c 145.5px,#49ff49 151.5px,#0aff61 155.5px,#00ff68 157.5px,#00fd92 169.5px,#00fe89 177.5px,#00ff64 197.5px,#42ff4c 205.5px,#7aff26 219.5px,#94ff0c 231.5px,#a4ff01 241.5px,#befa00 251.5px,#ece200 281.5px,#ffb600 305.5px,#ff5600 353.5px,#ff4100 367.5px,#ff0900 453.5px,#f50300 471.5px,#d70000 623.5px,#b90000 699.5px,#a10000 839.5px,#9a0000 1331.5px)"></i>
<i style="left:896px;width:8px;background:linear-gradient(#a00 24px,#f00000 51.5px,#fc0600 55.5px,#ff0c00 57.5px,#ff4d00 77.5px,#ffb600 99.5px,#ece300 111.5px,#d7f000 119.5px,#befa00 127.5px,#a1ff03 133.5px,#96ff0a 137.5px,#73ff2b 145.5px,#4aff48 151.5px,#2fff53 153.5px,#0eff5f 155.5px,#00ff67 157.5px,#00fd90 169.5px,#00fe87 177.5px,#0f6 195.5px,#08ff61 197.5px,#3bff4f 203.5px,#49ff49 205.5px,#77ff29 217.5px,#96ff0a 231.5px,#a5ff00 241.5px,#c0f900 251.5px,#ebe400 279.5px,#ffb700 303.5px,#ff5700 351.5px,#ff4100 365.5px,#ff0900 451.5px,#f50300 469.5px,#d70000 619.5px,#b90000 695.5px,#a10000 835.5px,#9b0000 1331.5px)"></i>
<i style="left:904px;width:8px;background:linear-gradient(#a00 24px,#f00000 51.5px,#fc0600 55.5px,#ff0c00 57.5px,#ff4d00 77.5px,#ffb600 99.5px,#ece200 111.5px,#d8f000 119.5px,#befa00 127.5px,#a2ff02 133.5px,#97ff0a 137.5px,#75ff2a 145.5px,#4cff47 151.5px,#33ff52 153.5px,#13ff5d 155.5px,#0f6 157.5px,#00fd8f 169.5px,#00fe85 177.5px,#00ff64 195.5px,#44ff4c 203.5px,#79ff27 217.5px,#97ff09 231.5px,#a6ff00 241.5px,#c1f900 251.5px,#ece200 279.5px,#ffb400 303.5px,#ff5b00 347.5px,#ff4100 363.5px,#ff3700 375.5px,#ff0800 451.5px,#f50300 467.5px,#d70000 615.5px,#b90000 689.5px,#a10000 831.5px,#9b0000 1331.5px)"></i>
<i style="left:912px;width:8px;background:linear-gradient(#a00 24px,#f00000 51.5px,#fc0600 55.5px,#ff0c00 57.5px,#ff4d00 77.5px,#ffb600 99.5px,#ece200 111.5px,#d8f000 119.5px,#befa00 127.5px,#a2ff02 133.5px,#97ff09 137.5px,#76ff29 145.5px,#4dff46 151.5px,#37ff50 153.5px,#17ff5c 155.5px,#0f6 157.5px,#00fd8d 169.5px,#00fe84 177.5px,#0f6 193.5px,#09ff61 195.5px,#3cff4f 201.5px,#49ff49 203.5px,#76ff2a 215.5px,#94ff0c 229.5px,#a3ff01 239.5px,#befa00 249.5px,#ebe400 277.5px,#ffb500 301.5px,#ff6c00 337.5px,#ff4d00 353.5px,#ff4200 361.5px,#ff3700 373.5px,#ff0900 449.5px,#f60300 465.5px,#f00000 487.5px,#d70000 609.5px,#b90000 683.5px,#a10000 827.5px,#9b0000 1331.5px)"></i>
<i style="left:920px;width:8px;background:linear-gradient(#a00 24px,#f00000 51.5px,#fc0600 55.5px,#ff0c00 57.5px,#ff4c00 77.5px,#ffb600 99.5px,#ece200 111.5px,#d8ef00 119.5px,#bffa00 127.5px,#a2ff02 133.5px,#97ff09 137.5px,#77ff29 145.5px,#4eff45 151.5px,#39ff4f 153.5px,#1aff5b 155.5px,#00ff65 157.5px,#00fe8c 169.5px,#00fe85 175.5px,#00ff64 193.5px,#43ff4c 201.5px,#78ff28 215.5px,#95ff0b 229.5px,#a4ff01 239.5px,#befa00 249.5px,#ebe400 277.5px,#ffb700 299.5px,#ff6500 339.5px,#ff4f00 351.5px,#ff4100 361.5px,#ff0900 447.5px,#f50300 465.5px,#d70000 605.5px,#b90000 679.5px,#a10000 825.5px,#9b0000 1331.5px)"></i>
<i style="left:928px;width:8px;background:linear-gradient(#a00 24px,#f00000 51.5px,#fc0600 55.5px,#ff0c00 57.5px,#ff4c00 77.5px,#ffb500 99.5px,#ece200 111.5px,#e7e600 113.5px,#bffa00 127.5px,#a2ff02 133.5px,#97ff09 137.5px,#78ff28 145.5px,#4fff45 151.5px,#3bff4f 153.5px,#00ff65 157.5px,#00fe8a 169.5px,#0f6 191.5px,#06ff62 193.5px,#48ff4a 201.5px,#79ff27 215.5px,#96ff0a 229.5px,#a5ff00 239.5px,#bffa00 249.5px,#ebe300 277.5px,#feb900 297.5px,#ff6300 339.5px,#ff4d00 351.5px,#ff3f00 361.5px,#ff0800 447.5px,#f60300 463.5px,#f00000 485.5px,#d70000 601.5px,#b90000 675.5px,#a10000 823.5px,#9b0000 1331.5px)"></i>
<i style="left:936px;width:8px;background:linear-gradient(#a00 24px,#f00000 51.5px,#fc0600 55.5px,#ff0c00 57.5px,#ff4c00 77.5px,#ffb500 99.5px,#e8e600 113.5px,#bffa00 127.5px,#a2ff02 133.5px,#98ff09 137.5px,#78ff28 145.5px,#50ff44 151.5px,#3dff4e 153.5px,#00ff64 157.5px,#00fe85 167.5px,#00fe89 169.5px,#00ff65 191.5px,#0cff60 193.5px,#3eff4e 199.5px,#4aff48 201.5px,#7aff26 215.5px,#97ff0a 229.5px,#a5ff00 239.5px,#bffa00 249.5px,#e2e900 271.5px,#ebe300 277.5px,#feb800 297.5px,#ff5a00 343.5px,#ff3f00 361.5px,#ff0800 447.5px,#f50300 463.5px,#d70000 597.5px,#b90000 671.5px,#a10000 821.5px,#9b0000 1331.5px)"></i>
<i style="left:944px;width:8px;background:linear-gradient(#a00 24px,#f00000 51.5px,#fc0600 55.5px,#ff0c00 57.5px,#ff4c00 77.5px,#ffb500 99.5px,#e8e600 113.5px,#bffa00 127.5px,#a3ff02 133.5px,#98ff09 137.5px,#78ff28 145.5px,#50ff44 151.5px,#3eff4e 153.5px,#00ff64 157.5px,#00fe85 167.5px,#00fe88 169.5px,#00ff64 191.5px,#42ff4d 199.5px,#5bff3d 205.5px,#7bff25 215.5px,#97ff09 229.5px,#a5ff00 239.5px,#bffa00 249.5px,#e2e900 271.5px,#ebe300 277.5px,#ffb700 297.5px,#ff6c00 333.5px,#ff4e00 349.5px,#ff4000 359.5px,#ff0900 445.5px,#f50300 463.5px,#d70000 595.5px,#b90000 667.5px,#a10000 819.5px,#9b0000 1331.5px)"></i>
<i style="left:952px;width:8px;background:linear-gradient(#a00 24px,#f00000 51.5px,#fc0600 55.5px,#ff0c00 57.5px,#ff4c00 77.5px,#ffb500 99.5px,#e8e600 113.5px,#bffa00 127.5px,#a3ff02 133.5px,#98ff09 137.5px,#78ff28 145.5px,#50ff44 151.5px,#3eff4e 153.5px,#00ff64 157.5px,#00fe85 167.5px,#00fe87 169.5px,#00ff67 189.5px,#02ff63 191.5px,#43ff4c 199.5px,#76ff29 213.5px,#97ff09 229.5px,#a5ff00 239.5px,#bff900 249.5px,#e2e900 271.5px,#ebe300 277.5px,#ffb600 297.5px,#ff6c00 333.5px,#ff4e00 349.5px,#ff4000 359.5px,#ff0900 445.5px,#f50300 463.5px,#d80000 593.5px,#b90000 665.5px,#a10000 819.5px,#9c0000 1331.5px)"></i>
<i style="left:960px;width:8px;background:linear-gradient(#a00 24px,#f00000 51.5px,#fc0600 55.5px,#ff0c00 57.5px,#ff4c00 77.5px,#ffb500 99.5px,#e8e600 113.5px,#bffa00 127.5px,#a3ff02 133.5px,#98ff09 137.5px,#78ff28 145.5px,#50ff44 151.5px,#3dff4e 153.5px,#00ff64 157.5px,#00fe85 167.5px,#00fe88 169.5px,#00ff64 191.5px,#41ff4d 199.5px,#53ff42 203.5px,#76ff29 213.5px,#97ff09 229.5px,#a5ff00 239.5px,#bffa00 249.5px,#ebe300 277.5px,#ffb600 297.5px,#ff6c00 333.5px,#ff4e00 349.5px,#ff4000 359.5px,#ff0900 445.5px,#f50300 463.5px,#d80000 593.5px,#b90000 661.5px,#a10000 817.5px,#9c0000 1331.5px)"></i>
<i style="left:968px;width:8px;background:linear-gradient(#a00 24px,#f00000 51.5px,#fc0600 55.5px,#ff0c00 57.5px,#ff4c00 77.5px,#ffb500 99.5px,#e8e600 113.5px,#bffa00 127.5px,#a2ff02 133.5px,#98ff09 137.5px,#78ff28 145.5px,#4fff44 151.5px,#3cff4e 153.5px,#00ff64 157.5px,#00fe89 169.5px,#00ff65 191.5px,#0dff5f 193.5px,#40ff4d 199.5px,#4bff48 201.5px,#7bff25 215.5px,#97ff0a 229.5px,#a5ff00 239.5px,#bffa00 249.5px,#e2e900 271.5px,#ebe400 277.5px,#ffb700 297.5px,#ff6c00 333.5px,#ff4e00 349.5px,#ff4000 359.5px,#ff0900 445.5px,#f50300 463.5px,#d80000 593.5px,#b90000 661.5px,#a10000 819.5px,#9c0000 1331.5px)"></i>
<i style="left:976px;width:8px;background:linear-gradient(#a00 24px,#f00000 51.5px,#fc0700 55.5px,#ff4c00 77.5px,#ffb500 99.5px,#e8e600 113.5px,#bffa00 127.5px,#a2ff02 133.5px,#97ff09 137.5px,#77ff28 145.5px,#4fff45 151.5px,#3bff4f 153.5px,#00ff65 157.5px,#00fe8b 169.5px,#00fe84 175.5px,#0f6 191.5px,#09ff61 193.5px,#3dff4e 199.5px,#4aff48 201.5px,#7aff26 215.5px,#96ff0a 229.5px,#a5ff00 239.5px,#bffa00 249.5px,#e1ea00 271.5px,#ece100 279.5px,#feb800 297.5px,#f60 337.5px,#ff4c00 351.5px,#ff3f00 361.5px,#ff0800 447.5px,#f50300 463.5px,#d80000 593.5px,#b90000 659.5px,#a10000 819.5px,#9c0000 1331.5px)"></i>
<i style="left:984px;width:8px;background:linear-gradient(#a00 24px,#f00000 51.5px,#fc0700 55.5px,#ff4d00 77.5px,#ffb600 99.5px,#ece200 111.5px,#e7e600 113.5px,#bffa00 127.5px,#a2ff02 133.5px,#97ff09 137.5px,#77ff29 145.5px,#4eff46 151.5px,#38ff50 153.5px,#19ff5b 155.5px,#00ff65 157.5px,#00fd8c 169.5px,#00fe82 177.5px,#00ff67 191.5px,#04ff63 193.5px,#3aff4f 199.5px,#48ff4a 201.5px,#7aff26 215.5px,#96ff0a 229.5px,#a4ff00 239.5px,#befa00 249.5px,#e9e500 277.5px,#fdba00 297.5px,#ff6c00 335.5px,#ff4e00 351.5px,#ff4000 361.5px,#ff0800 447.5px,#f60300 463.5px,#f00000 485.5px,#d70000 595.5px,#b90000 657.5px,#a10000 823.5px,#9c0000 1331.5px)"></i>
<i style="left:992px;width:8px;background:linear-gradient(#a00 24px,#f00000 51.5px,#fd0700 55.5px,#ff4d00 77.5px,#ffb600 99.5px,#ece200 111.5px,#e7e600 113.5px,#befa00 127.5px,#a2ff02 133.5px,#97ff09 137.5px,#76ff2a 145.5px,#4dff46 151.5px,#36ff51 153.5px,#16ff5c 155.5px,#0f6 157.5px,#00fd8e 169.5px,#00fe84 177.5px,#00ff64 193.5px,#46ff4b 201.5px,#79ff27 215.5px,#96ff0a 229.5px,#a4ff01 239.5px,#bdfa00 249.5px,#e2e900 273.5px,#ebe400 279.5px,#feb800 299.5px,#ff5f00 343.5px,#ff4c00 353.5px,#ff3f00 363.5px,#ff0900 447.5px,#f50300 465.5px,#d70000 595.5px,#b90000 655.5px,#a10000 825.5px,#9d0000 1331.5px)"></i>
<i style="left:1000px;width:8px;background:linear-gradient(#a00 24px,#f00000 51.5px,#fd0700 55.5px,#ff4d00 77.5px,#ffb600 99.5px,#ece200 111.5px,#d8f000 119.5px,#befa00 127.5px,#a1ff02 133.5px,#96ff0a 137.5px,#74ff2b 145.5px,#4bff47 151.5px,#32ff52 153.5px,#12ff5e 155.5px,#00ff67 157.5px,#00fd8f 169.5px,#00fe86 177.5px,#00ff65 193.5px,#0cff60 195.5px,#42ff4c 201.5px,#55ff41 205.5px,#78ff28 215.5px,#95ff0b 229.5px,#a4ff01 239.5px,#c0f900 251.5px,#e4e800 275.5px,#ece200 281.5px,#ffb600 301.5px,#ff5200 351.5px,#ff3e00 365.5px,#ff0800 449.5px,#f60300 465.5px,#d80000 595.5px,#b90000 655.5px,#a10000 831.5px,#9d0000 1331.5px)"></i>
<i style="left:1008px;width:8px;background:linear-gradient(#a00 24px,#f10000 51.5px,#fd0700 55.5px,#ff4e00 77.5px,#ffb600 99.5px,#ece200 111.5px,#d8f000 119.5px,#befa00 127.5px,#a1ff03 133.5px,#96ff0a 137.5px,#73ff2b 145.5px,#4aff48 151.5px,#2eff54 153.5px,#0dff5f 155.5px,#00ff67 157.5px,#00fd90 169.5px,#00fe87 177.5px,#0f6 193.5px,#06ff62 195.5px,#3eff4e 201.5px,#4aff48 203.5px,#77ff29 215.5px,#94ff0c 229.5px,#a7ff00 241.5px,#bff900 251.5px,#ebe400 281.5px,#feb900 301.5px,#ff6400 343.5px,#ff4e00 355.5px,#ff4000 365.5px,#ff0900 449.5px,#f50300 467.5px,#d70000 597.5px,#b90000 653.5px,#a20000 835.5px,#9d0000 1331.5px)"></i>
<i style="left:1016px;width:8px;background:linear-gradient(#a00 24px,#f10000 51.5px,#fd0700 55.5px,#ff4e00 77.5px,#ffb600 99.5px,#ece200 111.5px,#c4f800 125.5px,#a1ff03 133.5px,#95ff0b 137.5px,#72ff2c 145.5px,#48ff49 151.5px,#08ff61 155.5px,#00ff68 157.5px,#00fd8e 167.5px,#00fd92 169.5px,#00fe89 177.5px,#00ff64 195.5px,#38ff50 201.5px,#48ff4a 203.5px,#7aff26 217.5px,#97ff09 231.5px,#a6ff00 241.5px,#bffa00 251.5px,#eae500 281.5px,#feb800 303.5px,#ff5800 351.5px,#ff4000 367.5px,#ff0900 451.5px,#f50300 469.5px,#d80000 597.5px,#b90000 655.5px,#a20000 841.5px,#9d0000 1331.5px)"></i>
<i style="left:1024px;width:8px;background:linear-gradient(#a00 24px,#ec0000 49.5px,#fe0700 55.5px,#ff4e00 77.5px,#ffae00 97.5px,#ffb700 99.5px,#ece300 111.5px,#c3f800 125.5px,#a0ff03 133.5px,#95ff0b 137.5px,#7cff24 143.5px,#46ff4b 151.5px,#02ff63 155.5px,#00ff6f 159.5px,#00fd8f 167.5px,#00fd93 169.5px,#00fe88 179.5px,#00ff65 195.5px,#0cff60 197.5px,#44ff4c 203.5px,#5dff3b 209.5px,#79ff27 217.5px,#96ff0a 231.5px,#a5ff00 241.5px,#befa00 251.5px,#ebe400 283.5px,#feb700 305.5px,#ff5400 355.5px,#ff3f00 369.5px,#ff0800 453.5px,#f50300 469.5px,#d80000 599.5px,#ba0000 655.5px,#a20000 845.5px,#9e0000 1331.5px)"></i>
<i style="left:1032px;width:8px;background:linear-gradient(#a00 24px,#ec0000 49.5px,#fe0800 55.5px,#ff4f00 77.5px,#ffaf00 97.5px,#ebe300 111.5px,#c3f800 125.5px,#a6ff00 131.5px,#a0ff03 133.5px,#94ff0c 137.5px,#7aff26 143.5px,#52ff43 149.5px,#41ff4d 151.5px,#00ff65 155.5px,#00ff70 159.5px,#00fd91 167.5px,#00fd95 169.5px,#00fe8a 179.5px,#00ff67 195.5px,#05ff62 197.5px,#3eff4e 203.5px,#4bff48 205.5px,#78ff28 217.5px,#96ff0a 231.5px,#a4ff01 241.5px,#c0f900 253.5px,#ebe300 285.5px,#ffb700 307.5px,#ff5f00 351.5px,#ff4100 369.5px,#ff3700 381.5px,#ff0900 453.5px,#f50300 471.5px,#d70000 601.5px,#b90000 659.5px,#a70000 809.5px,#a10000 885.5px,#9e0000 1331.5px)"></i>
<i style="left:1040px;width:8px;background:linear-gradient(#a00 24px,#ec0000 49.5px,#ff0800 55.5px,#ff5000 77.5px,#ffaf00 97.5px,#ebe300 111.5px,#c3f800 125.5px,#a5ff00 131.5px,#93ff0d 137.5px,#79ff27 143.5px,#6cff30 145.5px,#50ff44 149.5px,#3cff4f 151.5px,#19ff5b 153.5px,#0f6 155.5px,#00ff72 159.5px,#00fd93 167.5px,#00fd97 169.5px,#00fe8c 179.5px,#00ff65 197.5px,#48ff4a 205.5px,#76ff29 217.5px,#95ff0b 231.5px,#a3ff01 241.5px,#bffa00 253.5px,#ece200 287.5px,#ffb600 309.5px,#ff5700 357.5px,#ff4100 371.5px,#ff3700 383.5px,#ff0900 455.5px,#f60300 471.5px,#d80000 601.5px,#b90000 661.5px,#a90000 799.5px,#a10000 901.5px,#9e0000 1331.5px)"></i>
<i style="left:1048px;width:8px;background:linear-gradient(#a00 24px,#ed0000 49.5px,#ff0800 55.5px,#ff5100 77.5px,#ffaf00 97.5px,#ebe400 111.5px,#c2f800 125.5px,#a4ff00 131.5px,#92ff0e 137.5px,#78ff28 143.5px,#4eff46 149.5px,#36ff51 151.5px,#13ff5d 153.5px,#00ff67 155.5px,#00fd95 167.5px,#00fd99 169.5px,#00fd8e 179.5px,#0f6 197.5px,#09ff61 199.5px,#43ff4c 205.5px,#5eff3a 211.5px,#7aff26 219.5px,#97ff09 233.5px,#a6ff00 243.5px,#befa00 253.5px,#eae400 287.5px,#ffb500 311.5px,#ff5300 361.5px,#ff4100 373.5px,#ff0800 457.5px,#f50300 473.5px,#d80000 603.5px,#b90000 665.5px,#a00 791.5px,#a10000 919.5px,#9e0000 1331.5px)"></i>
<i style="left:1056px;width:8px;background:linear-gradient(#a00 24px,#ed0000 49.5px,#ff0800 55.5px,#ff5100 77.5px,#ffb000 97.5px,#ebe400 111.5px,#c1f900 125.5px,#a4ff01 131.5px,#98ff09 135.5px,#76ff29 143.5px,#4bff47 149.5px,#2fff53 151.5px,#0cff60 153.5px,#00ff68 155.5px,#00fd97 167.5px,#00fd9b 169.5px,#00fd8c 181.5px,#00ff68 197.5px,#01ff64 199.5px,#3cff4f 205.5px,#4aff48 207.5px,#78ff28 219.5px,#96ff0a 233.5px,#a5ff00 243.5px,#c0f900 255.5px,#ebe400 289.5px,#ffb500 313.5px,#ff4f00 365.5px,#ff4100 375.5px,#ff0900 457.5px,#f50300 475.5px,#d70000 605.5px,#b90000 669.5px,#ac0000 781.5px,#a10000 939.5px,#9f0000 1331.5px)"></i>
<i style="left:1064px;width:8px;background:linear-gradient(#a00 24px,#ed0000 49.5px,#ff0900 55.5px,#ff5200 77.5px,#ffb000 97.5px,#ebe400 111.5px,#c1f900 125.5px,#a3ff01 131.5px,#97ff09 135.5px,#74ff2b 143.5px,#48ff49 149.5px,#06ff62 153.5px,#00ff69 155.5px,#00fd99 167.5px,#00fd9e 169.5px,#00fd8f 181.5px,#00ff65 199.5px,#0dff5f 201.5px,#47ff4b 207.5px,#76ff29 219.5px,#95ff0b 233.5px,#a4ff01 243.5px,#befa00 255.5px,#ece300 291.5px,#ffb400 315.5px,#ff4f00 367.5px,#ff4100 377.5px,#ff0900 459.5px,#f50300 477.5px,#d80000 605.5px,#b90000 675.5px,#ae0000 773.5px,#a10000 961.5px,#9f0000 1331.5px)"></i>
<i style="left:1072px;width:8px;background:linear-gradient(#a00 24px,#ed0000 49.5px,#ff0900 55.5px,#ff4b00 75.5px,#ffb100 97.5px,#eae400 111.5px,#c0f900 125.5px,#a2ff02 131.5px,#97ff0a 135.5px,#7dff23 141.5px,#54ff41 147.5px,#44ff4c 149.5px,#00ff64 153.5px,#00ff71 157.5px,#00fd9b 167.5px,#00fca0 169.5px,#00fd91 181.5px,#00ff67 199.5px,#03ff63 201.5px,#40ff4d 207.5px,#4cff47 209.5px,#7aff26 221.5px,#94ff0c 233.5px,#a6ff00 245.5px,#c0f900 257.5px,#ece200 293.5px,#ffb300 317.5px,#ff4f00 369.5px,#ff4100 379.5px,#ff0800 461.5px,#f50300 477.5px,#d80000 607.5px,#ba0000 679.5px,#b00000 763.5px,#a20000 973.5px,#a00000 1331.5px)"></i>
<i style="left:1080px;width:8px;background:linear-gradient(#a00 24px,#e00 49.5px,#ff0a00 55.5px,#ff4c00 75.5px,#ffb100 97.5px,#eae500 111.5px,#c0f900 125.5px,#a2ff02 131.5px,#96ff0a 135.5px,#7bff25 141.5px,#6fff2f 143.5px,#51ff43 147.5px,#3dff4e 149.5px,#1aff5b 151.5px,#0f6 153.5px,#00fca3 169.5px,#00fd90 183.5px,#00ff65 201.5px,#0eff5f 203.5px,#48ff4a 209.5px,#78ff28 221.5px,#96ff0a 235.5px,#a5ff00 245.5px,#bffa00 257.5px,#ebe400 293.5px,#ffb300 319.5px,#ff4f00 371.5px,#ff4100 381.5px,#ff0800 463.5px,#f50300 479.5px,#d80000 609.5px,#ba0000 683.5px,#b20000 753.5px,#a40000 971.5px,#a00000 1331.5px)"></i>
<i style="left:1088px;width:8px;background:linear-gradient(#a00 24px,#e00 49.5px,#fa0500 53.5px,#ff0a00 55.5px,#ff4c00 75.5px,#ffb200 97.5px,#eae500 111.5px,#bffa00 125.5px,#a1ff03 131.5px,#95ff0b 135.5px,#7aff26 141.5px,#6cff31 143.5px,#4eff45 147.5px,#36ff51 149.5px,#12ff5d 151.5px,#00ff67 153.5px,#00ff74 157.5px,#00fca0 167.5px,#00fca5 169.5px,#00fd92 183.5px,#00ff67 201.5px,#03ff63 203.5px,#40ff4d 209.5px,#4cff47 211.5px,#7bff25 223.5px,#95ff0b 235.5px,#a4ff01 245.5px,#befa00 257.5px,#ebe400 295.5px,#ffb700 319.5px,#ff4f00 373.5px,#ff4100 383.5px,#ff0900 463.5px,#f50300 481.5px,#d80000 611.5px,#ba0000 689.5px,#b40000 741.5px,#a60000 965.5px,#a10000 1331.5px)"></i>
<i style="left:1096px;width:8px;background:linear-gradient(#a00 24px,#e00 49.5px,#fa0600 53.5px,#ff0b00 55.5px,#ff4d00 75.5px,#ffb200 97.5px,#e9e500 111.5px,#befa00 125.5px,#a7ff00 129.5px,#a0ff03 131.5px,#93ff0d 135.5px,#78ff28 141.5px,#4bff48 147.5px,#2eff53 149.5px,#0bff60 151.5px,#00ff68 153.5px,#00ff76 157.5px,#00fca2 167.5px,#00fca8 169.5px,#00fd95 183.5px,#0f6 203.5px,#0cff60 205.5px,#47ff4a 211.5px,#78ff28 223.5px,#97ff09 237.5px,#a6ff00 247.5px,#bffa00 259.5px,#ebe400 297.5px,#ffb700 321.5px,#ff4f00 375.5px,#ff4100 385.5px,#ff0900 465.5px,#f50300 483.5px,#d70000 615.5px,#b00 693.5px,#b60000 731.5px,#a80000 959.5px,#a20000 1331.5px)"></i>
<i style="left:1104px;width:8px;background:linear-gradient(#a00 24px,#ef0000 49.5px,#fb0600 53.5px,#ff0b00 55.5px,#ff4d00 75.5px,#ffb300 97.5px,#e9e500 111.5px,#bdfa00 125.5px,#a6ff00 129.5px,#9fff04 131.5px,#92ff0e 135.5px,#75ff2a 141.5px,#48ff4a 147.5px,#02ff63 151.5px,#00ff70 155.5px,#00fca5 167.5px,#00fcaa 169.5px,#00fd94 185.5px,#00ff64 205.5px,#3dff4e 211.5px,#4bff48 213.5px,#7bff25 225.5px,#96ff0a 237.5px,#a4ff00 247.5px,#befa00 259.5px,#ebe400 299.5px,#ffb700 323.5px,#ff4f00 377.5px,#ff4100 387.5px,#ff0900 467.5px,#f50300 485.5px,#d80000 615.5px,#bf0000 687.5px,#b70000 727.5px,#a00 955.5px,#a30000 1331.5px)"></i>
<i style="left:1112px;width:8px;background:linear-gradient(#a00 24px,#ef0000 49.5px,#fb0600 53.5px,#ff0c00 55.5px,#ff4e00 75.5px,#ffb300 97.5px,#ede000 109.5px,#d8ef00 117.5px,#bcfa00 125.5px,#a5ff00 129.5px,#90ff10 135.5px,#72ff2c 141.5px,#42ff4c 147.5px,#1eff59 149.5px,#00ff65 151.5px,#00ff72 155.5px,#00fca8 167.5px,#00fbad 169.5px,#00fd97 185.5px,#00ff67 205.5px,#06ff62 207.5px,#44ff4c 213.5px,#78ff28 225.5px,#94ff0c 237.5px,#a7ff00 249.5px,#bffa00 261.5px,#ebe400 301.5px,#ffb700 325.5px,#ff5000 379.5px,#ff4100 389.5px,#ff0900 469.5px,#f50300 487.5px,#d80000 619.5px,#c00000 691.5px,#b80000 733.5px,#ac0000 955.5px,#a50000 1331.5px)"></i>
<i style="left:1120px;width:8px;background:linear-gradient(#a00 24px,#ef0000 49.5px,#fc0600 53.5px,#ff0c00 55.5px,#ff4f00 75.5px,#ffb400 97.5px,#ede000 109.5px,#d8f000 117.5px,#bafb00 125.5px,#a4ff01 129.5px,#97ff09 133.5px,#7cff24 139.5px,#6fff2e 141.5px,#50ff44 145.5px,#3aff4f 147.5px,#16ff5c 149.5px,#0f6 151.5px,#00ff74 155.5px,#00fcab 167.5px,#00fbb0 169.5px,#00fd96 187.5px,#0f6 207.5px,#0dff60 209.5px,#48ff4a 215.5px,#7aff26 227.5px,#96ff0a 239.5px,#a5ff00 249.5px,#befa00 261.5px,#ebe400 303.5px,#ffb300 329.5px,#ff5000 381.5px,#ff4200 391.5px,#ff3700 403.5px,#ff0900 471.5px,#f50300 489.5px,#d80000 621.5px,#c10000 691.5px,#b80000 739.5px,#ae0000 955.5px,#a70000 1331.5px)"></i>
<i style="left:1128px;width:8px;background:linear-gradient(#a00 24px,#ef0000 49.5px,#fc0700 53.5px,#ff5000 75.5px,#ffb400 97.5px,#ece100 109.5px,#d7f000 117.5px,#c2f800 123.5px,#a3ff01 129.5px,#96ff0a 133.5px,#7aff26 139.5px,#6cff30 141.5px,#4dff46 145.5px,#31ff52 147.5px,#0dff5f 149.5px,#00ff68 151.5px,#00fd90 161.5px,#00fbad 167.5px,#00fbb3 169.5px,#00fd99 187.5px,#00ff65 209.5px,#3dff4e 215.5px,#4bff47 217.5px,#55ff41 219.5px,#77ff29 227.5px,#98ff09 241.5px,#a7ff00 251.5px,#bffa00 263.5px,#ebe400 305.5px,#ffb400 331.5px,#ff4e00 385.5px,#ff4000 395.5px,#ff0900 473.5px,#f40200 493.5px,#d80000 625.5px,#c10000 699.5px,#b90000 747.5px,#af0000 955.5px,#a90000 1331.5px)"></i>
<i style="left:1136px;width:8px;background:linear-gradient(#a00 24px,#f00000 49.5px,#fd0700 53.5px,#ff5100 75.5px,#ffb500 97.5px,#ece100 109.5px,#dced00 115.5px,#c1f900 123.5px,#a2ff02 129.5px,#95ff0b 133.5px,#78ff28 139.5px,#69ff33 141.5px,#49ff49 145.5px,#05ff62 149.5px,#00ff69 151.5px,#00fe8a 159.5px,#00fbb0 167.5px,#00fab6 169.5px,#00fcac 177.5px,#00fd98 189.5px,#02ff63 211.5px,#42ff4c 217.5px,#4eff45 219.5px,#79ff27 229.5px,#96ff0a 241.5px,#a5ff00 251.5px,#bdfa00 263.5px,#eae400 307.5px,#ffb400 333.5px,#ff4f00 387.5px,#ff3e00 399.5px,#ff0800 477.5px,#f40200 495.5px,#d80000 629.5px,#c30000 701.5px,#ba0000 753.5px,#b10000 955.5px,#ab0000 1331.5px)"></i>
<i style="left:1144px;width:8px;background:linear-gradient(#a00 24px,#f00000 49.5px,#fd0700 53.5px,#ff5100 75.5px,#ffb500 97.5px,#ece200 109.5px,#dced00 115.5px,#c0f900 123.5px,#a1ff02 129.5px,#94ff0c 133.5px,#76ff2a 139.5px,#55ff40 143.5px,#44ff4c 145.5px,#00ff65 149.5px,#00ff72 153.5px,#00fbb3 167.5px,#00fab8 169.5px,#00fcac 179.5px,#00fd97 191.5px,#00ff67 211.5px,#08ff61 213.5px,#47ff4b 219.5px,#5aff3d 223.5px,#7bff25 231.5px,#98ff09 243.5px,#a4ff01 251.5px,#bffa00 265.5px,#eae500 309.5px,#f0d900 317.5px,#ffb500 335.5px,#ff5000 389.5px,#ff3f00 401.5px,#ff0800 479.5px,#f40200 497.5px,#d80000 633.5px,#c40000 703.5px,#b00 757.5px,#b30000 953.5px,#ad0000 1331.5px)"></i>
<i style="left:1152px;width:8px;background:linear-gradient(#a00 24px,#f00000 49.5px,#fe0700 53.5px,#ff5200 75.5px,#ffb600 97.5px,#ece200 109.5px,#dbee00 115.5px,#bff900 123.5px,#a0ff03 129.5px,#92ff0e 133.5px,#72ff2c 139.5px,#52ff43 143.5px,#3cff4e 145.5px,#18ff5c 147.5px,#0f6 149.5px,#00ff74 153.5px,#00fab6 167.5px,#00fabb 169.5px,#00fbb2 177.5px,#00fd9a 191.5px,#0f6 213.5px,#0dff5f 215.5px,#38ff50 219.5px,#49ff49 221.5px,#53ff42 223.5px,#77ff28 231.5px,#96ff0a 243.5px,#a6ff00 253.5px,#bff900 267.5px,#e9e500 311.5px,#efda00 319.5px,#ffb600 337.5px,#ff4e00 393.5px,#ff4000 403.5px,#ff0800 481.5px,#f40200 499.5px,#d80000 635.5px,#c40000 709.5px,#bd0000 759.5px,#b50000 949.5px,#af0000 1331.5px)"></i>
<i style="left:1160px;width:8px;background:linear-gradient(#a00 24px,#f10000 49.5px,#fe0800 53.5px,#ff4b00 73.5px,#ffae00 95.5px,#ffb700 97.5px,#ece300 109.5px,#e6e700 111.5px,#bffa00 123.5px,#a7ff00 127.5px,#9fff04 129.5px,#90ff10 133.5px,#6fff2e 139.5px,#4eff45 143.5px,#34ff51 145.5px,#0fff5f 147.5px,#00ff68 149.5px,#00fd91 159.5px,#00fab9 167.5px,#00fabe 169.5px,#00fbb1 179.5px,#00fd99 193.5px,#00ff65 215.5px,#3dff4e 221.5px,#4cff47 223.5px,#79ff27 233.5px,#98ff09 245.5px,#a4ff01 253.5px,#befa00 267.5px,#ebe400 315.5px,#ffb300 341.5px,#ff4f00 395.5px,#ff3e00 407.5px,#ff0900 483.5px,#f50200 501.5px,#c70000 707.5px,#bf0000 759.5px,#b70000 943.5px,#b10000 1331.5px)"></i>
<i style="left:1168px;width:8px;background:linear-gradient(#a00 24px,#f10000 49.5px,#ff0800 53.5px,#ff4c00 73.5px,#ffaf00 95.5px,#ebe300 109.5px,#e6e700 111.5px,#bdfa00 123.5px,#a5ff00 127.5px,#9eff04 129.5px,#98ff09 131.5px,#7bff25 137.5px,#4bff48 143.5px,#2bff55 145.5px,#06ff62 147.5px,#00ff69 149.5px,#00fd93 159.5px,#00fabc 167.5px,#00f9c1 169.5px,#00fbb4 179.5px,#00fd98 195.5px,#00ff64 217.5px,#41ff4d 223.5px,#4eff45 225.5px,#7bff25 235.5px,#99ff08 247.5px,#a6ff00 255.5px,#bffa00 269.5px,#eae400 317.5px,#f0d900 325.5px,#ffb500 343.5px,#ff4d00 399.5px,#ff4000 409.5px,#ff0800 487.5px,#f40200 505.5px,#c90000 705.5px,#c10000 763.5px,#b90000 943.5px,#b40000 1331.5px)"></i>
<i style="left:1176px;width:8px;background:linear-gradient(#a00 24px,#ec0000 47.5px,#ff0800 53.5px,#ff4c00 73.5px,#ffb000 95.5px,#ebe400 109.5px,#c4f800 121.5px,#a4ff01 127.5px,#97ff0a 131.5px,#79ff27 137.5px,#68ff33 139.5px,#47ff4b 143.5px,#00ff64 147.5px,#00ff72 151.5px,#00fabe 167.5px,#00f9c4 169.5px,#00faba 177.5px,#00fd9b 195.5px,#00ff67 217.5px,#05ff62 219.5px,#46ff4b 225.5px,#65ff36 231.5px,#77ff28 235.5px,#93ff0d 245.5px,#9bff07 249.5px,#a8fe00 257.5px,#bff900 271.5px,#eae500 319.5px,#f1d600 329.5px,#ffb300 347.5px,#ff4f00 401.5px,#ff3f00 413.5px,#ff0900 489.5px,#f50200 507.5px,#c90000 713.5px,#c20000 765.5px,#ba0000 949.5px,#b60000 1331.5px)"></i>
<i style="left:1184px;width:8px;background:linear-gradient(#a00 24px,#ec0000 47.5px,#ff0800 53.5px,#ff4d00 73.5px,#ffb000 95.5px,#ebe400 109.5px,#c3f800 121.5px,#a3ff01 127.5px,#95ff0b 131.5px,#76ff2a 137.5px,#54ff41 141.5px,#3fff4d 143.5px,#1aff5b 145.5px,#0f6 147.5px,#00ff74 151.5px,#00f9c1 167.5px,#00f9c6 169.5px,#00faba 179.5px,#00fd9b 197.5px,#0f6 219.5px,#0aff60 221.5px,#48ff49 227.5px,#67ff34 233.5px,#79ff27 237.5px,#95ff0b 247.5px,#9cff06 251.5px,#a5ff00 257.5px,#befa00 271.5px,#ebe400 323.5px,#f0d800 331.5px,#ffb500 349.5px,#ff4e00 405.5px,#ff4000 415.5px,#ff0800 493.5px,#f50300 509.5px,#cb0000 709.5px,#c40000 767.5px,#bc0000 955.5px,#b80000 1331.5px)"></i>
<i style="left:1192px;width:8px;background:linear-gradient(#a00 24px,#ec0000 47.5px,#ff0900 53.5px,#ff4d00 73.5px,#ffb100 95.5px,#eae500 109.5px,#c2f800 121.5px,#a2ff02 127.5px,#93ff0d 131.5px,#72ff2c 137.5px,#50ff44 141.5px,#36ff51 143.5px,#10ff5e 145.5px,#00ff68 147.5px,#00fd92 157.5px,#00f9c4 167.5px,#00f8c9 169.5px,#00fabd 179.5px,#00fd9a 199.5px,#0f6 221.5px,#0eff5f 223.5px,#3aff4f 227.5px,#4aff48 229.5px,#69ff33 235.5px,#7bff25 239.5px,#96ff0a 249.5px,#9dff05 253.5px,#a7ff00 259.5px,#bffa00 273.5px,#ebe300 327.5px,#ffb300 353.5px,#ff5000 407.5px,#ff4000 419.5px,#ff0900 495.5px,#f50200 513.5px,#cd0000 707.5px,#c60000 771.5px,#be0000 961.5px,#ba0000 1331.5px)"></i>
<i style="left:1200px;width:8px;background:linear-gradient(#a00 24px,#ec0000 47.5px,#ff0900 53.5px,#ff4e00 73.5px,#ffb200 95.5px,#e9e500 109.5px,#c1f900 121.5px,#a1ff03 127.5px,#91ff0f 131.5px,#7cff24 135.5px,#6eff2f 137.5px,#4bff47 141.5px,#2bff54 143.5px,#05ff62 145.5px,#00ff6a 147.5px,#00fe8b 155.5px,#00f9c7 167.5px,#00f8cd 169.5px,#00f9c0 179.5px,#00fd9d 199.5px,#00ff65 223.5px,#11ff5e 225.5px,#3dff4e 229.5px,#4cff47 231.5px,#6bff31 237.5px,#7cff24 241.5px,#92ff0e 249.5px,#9eff05 255.5px,#a8fe00 261.5px,#bffa00 275.5px,#eae500 329.5px,#efda00 337.5px,#ffb600 355.5px,#ff5000 411.5px,#ff3f00 423.5px,#ff0800 499.5px,#f40200 517.5px,#cf0000 705.5px,#c70000 775.5px,#bf0000 965.5px,#bc0000 1331.5px)"></i>
<i style="left:1208px;width:8px;background:linear-gradient(#a00 24px,#ed0000 47.5px,#ff0900 53.5px,#ff4f00 73.5px,#ffb300 95.5px,#e8e600 109.5px,#c0f900 121.5px,#9fff04 127.5px,#98ff08 129.5px,#7aff26 135.5px,#46ff4b 141.5px,#20ff58 143.5px,#00ff65 145.5px,#00ff73 149.5px,#00f8cb 167.5px,#00f8d0 169.5px,#00f9c3 179.5px,#00fd9d 201.5px,#00ff64 225.5px,#3fff4d 231.5px,#58ff3f 235.5px,#76ff2a 241.5px,#93ff0d 251.5px,#9bff07 255.5px,#a4ff00 261.5px,#befa00 277.5px,#eae400 333.5px,#f0d900 341.5px,#ffb600 359.5px,#ff4f00 415.5px,#ff3f00 427.5px,#ff0800 503.5px,#f50300 519.5px,#d10000 703.5px,#c90000 781.5px,#c10000 969.5px,#bd0000 1331.5px)"></i>
<i style="left:1216px;width:8px;background:linear-gradient(#a00 24px,#ed0000 47.5px,#ff0a00 53.5px,#ff4f00 73.5px,#ffb400 95.5px,#e8e600 109.5px,#befa00 121.5px,#a5ff00 125.5px,#9eff05 127.5px,#97ff0a 129.5px,#76ff29 135.5px,#53ff42 139.5px,#3bff4f 141.5px,#15ff5d 143.5px,#00ff67 145.5px,#00fd91 155.5px,#00f8ce 167.5px,#00f7d4 169.5px,#00f9c7 179.5px,#00fca0 201.5px,#00ff64 227.5px,#41ff4d 233.5px,#59ff3e 237.5px,#77ff29 243.5px,#94ff0c 253.5px,#9bff06 257.5px,#a4ff00 263.5px,#befa00 279.5px,#ebe400 337.5px,#f1d500 347.5px,#ffb500 363.5px,#ff4f00 419.5px,#ff4000 431.5px,#ff0800 507.5px,#f50300 523.5px,#d30000 701.5px,#ca0000 787.5px,#c30000 975.5px,#bf0000 1331.5px)"></i>
<i style="left:1224px;width:8px;background:linear-gradient(#a00 24px,#ed0000 47.5px,#fa0500 51.5px,#ff0a00 53.5px,#ff5000 73.5px,#ffb600 95.5px,#e7e700 109.5px,#c4f700 119.5px,#a4ff01 125.5px,#94ff0c 129.5px,#71ff2d 135.5px,#4dff46 139.5px,#2fff53 141.5px,#09ff61 143.5px,#00ff69 145.5px,#00fe8b 153.5px,#00f7d2 167.5px,#00f7d8 169.5px,#00f8cb 179.5px,#00fca0 203.5px,#02ff63 229.5px,#42ff4c 235.5px,#59ff3d 239.5px,#77ff29 245.5px,#94ff0c 255.5px,#9bff06 259.5px,#a4ff00 265.5px,#befa00 281.5px,#ebe400 341.5px,#f1d500 351.5px,#ffb500 367.5px,#ff5000 423.5px,#ff4000 435.5px,#ff0800 511.5px,#f50300 527.5px,#d50000 697.5px,#c00 789.5px,#c50000 977.5px,#c10000 1331.5px)"></i>
<i style="left:1232px;width:8px;background:linear-gradient(#a00 24px,#ed0000 47.5px,#fa0500 51.5px,#ff0b00 53.5px,#ff5100 73.5px,#ffaf00 93.5px,#ebe300 107.5px,#c3f800 119.5px,#a2ff02 125.5px,#92ff0e 129.5px,#7cff24 133.5px,#6cff31 135.5px,#47ff4a 139.5px,#00ff65 143.5px,#00ff73 147.5px,#00f7d5 167.5px,#00f6db 169.5px,#00f8ce 179.5px,#00fc9f 205.5px,#00ff67 229.5px,#03ff63 231.5px,#43ff4c 237.5px,#5aff3d 241.5px,#77ff29 247.5px,#94ff0c 257.5px,#9bff06 261.5px,#a7ff00 269.5px,#bffa00 285.5px,#ebe400 345.5px,#f1d500 355.5px,#ffb500 371.5px,#ff5700 423.5px,#ff4100 439.5px,#ff0800 515.5px,#f50200 533.5px,#d70000 695.5px,#ce0000 795.5px,#c60000 981.5px,#c30000 1331.5px)"></i>
<i style="left:1240px;width:8px;background:linear-gradient(#a00 24px,#ed0000 47.5px,#fa0500 51.5px,#ff0b00 53.5px,#ff5200 73.5px,#ffb000 93.5px,#eae400 107.5px,#c1f900 119.5px,#a0ff03 125.5px,#98ff08 127.5px,#78ff28 133.5px,#53ff42 137.5px,#3bff4f 139.5px,#15ff5c 141.5px,#00ff67 143.5px,#00fe88 151.5px,#00f7d9 167.5px,#00f6df 169.5px,#00f7d1 179.5px,#00fc9f 207.5px,#00ff67 231.5px,#04ff63 233.5px,#43ff4c 239.5px,#6dff30 247.5px,#7dff23 251.5px,#93ff0d 259.5px,#9bff07 263.5px,#a7ff00 271.5px,#befa00 287.5px,#ebe400 349.5px,#f0d900 357.5px,#ffb500 375.5px,#ff6200 421.5px,#ff4100 443.5px,#ff0900 519.5px,#f50300 537.5px,#da0000 689.5px,#cf0000 801.5px,#c80000 1003.5px,#c40000 1331.5px)"></i>
<i style="left:1248px;width:8px;background:linear-gradient(#a00 24px,#e00 47.5px,#fb0600 51.5px,#ff0b00 53.5px,#ff4a00 71.5px,#ffb200 93.5px,#e9e500 107.5px,#bffa00 119.5px,#a6ff00 123.5px,#9eff05 125.5px,#96ff0a 127.5px,#72ff2c 133.5px,#4dff46 137.5px,#2eff54 139.5px,#08ff61 141.5px,#00ff69 143.5px,#00fe8b 151.5px,#00f6dd 167.5px,#00f5e2 169.5px,#00f7d4 179.5px,#00fd9e 209.5px,#00ff67 233.5px,#04ff63 235.5px,#43ff4c 241.5px,#63ff37 247.5px,#7cff24 253.5px,#92ff0e 261.5px,#9aff07 265.5px,#a6ff00 273.5px,#bdfa00 289.5px,#ebe400 353.5px,#f0d900 361.5px,#ffb500 379.5px,#ff6a00 421.5px,#ff4200 447.5px,#ff0800 525.5px,#f50300 541.5px,#dc0000 687.5px,#d10000 807.5px,#ca0000 1005.5px,#c60000 1331.5px)"></i>
<i style="left:1256px;width:8px;background:linear-gradient(#a00 24px,#e00 47.5px,#fb0600 51.5px,#ff0c00 53.5px,#ff4b00 71.5px,#ffb300 93.5px,#e8e600 107.5px,#bdfa00 119.5px,#a4ff01 123.5px,#93ff0d 127.5px,#7cff24 131.5px,#6cff30 133.5px,#46ff4b 137.5px,#20ff59 139.5px,#00ff65 141.5px,#00ff73 145.5px,#00fd8f 151.5px,#00f5e1 167.5px,#00f4e6 169.5px,#00fd9e 211.5px,#00ff67 235.5px,#04ff63 237.5px,#42ff4c 243.5px,#62ff37 249.5px,#7cff24 255.5px,#96ff0a 265.5px,#9aff08 267.5px,#a5ff00 275.5px,#bffa00 293.5px,#ebe400 357.5px,#f0d800 365.5px,#ffb500 383.5px,#ff6b00 425.5px,#ff4d00 443.5px,#ff4100 453.5px,#ff0900 529.5px,#f50300 547.5px,#d00 687.5px,#d20000 817.5px,#cb0000 1007.5px,#c80000 1331.5px)"></i>
<i style="left:1264px;width:8px;background:linear-gradient(#a00 24px,#e00 47.5px,#fb0600 51.5px,#ff0c00 53.5px,#ff4c00 71.5px,#ffb500 93.5px,#e7e700 107.5px,#c3f800 117.5px,#a2ff02 123.5px,#90ff10 127.5px,#78ff28 131.5px,#52ff42 135.5px,#38ff50 137.5px,#12ff5e 139.5px,#00ff67 141.5px,#00fd92 151.5px,#00f4e5 167.5px,#00f3ea 169.5px,#00fd9e 213.5px,#00ff67 237.5px,#03ff63 239.5px,#41ff4d 245.5px,#62ff38 251.5px,#7bff25 257.5px,#99ff08 269.5px,#a4ff00 277.5px,#befa00 295.5px,#ebe400 361.5px,#f0d800 369.5px,#ffb600 387.5px,#ff6c00 429.5px,#ff4f00 447.5px,#ff4000 459.5px,#ff0900 535.5px,#f50300 553.5px,#df0000 687.5px,#d40000 825.5px,#cd0000 1009.5px,#ca0000 1331.5px)"></i>
<i style="left:1272px;width:8px;background:linear-gradient(#a00 24px,#e00 47.5px,#fc0600 51.5px,#ff0d00 53.5px,#ff4c00 71.5px,#ffae00 91.5px,#ffb700 93.5px,#ebe300 105.5px,#c1f900 117.5px,#a9fe00 121.5px,#9fff04 123.5px,#97ff09 125.5px,#72ff2c 131.5px,#4bff48 135.5px,#04ff63 139.5px,#00ff6a 141.5px,#00fd8c 149.5px,#00f3e9 167.5px,#00f2ef 169.5px,#00fd9e 215.5px,#03ff63 241.5px,#40ff4d 247.5px,#4dff46 249.5px,#7aff26 259.5px,#98ff09 271.5px,#a6ff00 281.5px,#bffa00 299.5px,#eae500 363.5px,#f0d800 373.5px,#ffb600 391.5px,#f70 427.5px,#ff4e00 453.5px,#ff4100 463.5px,#ff0900 541.5px,#f50300 559.5px,#e10000 685.5px,#d50000 835.5px,#cf0000 1017.5px,#cb0000 1331.5px)"></i>
<i style="left:1280px;width:8px;background:linear-gradient(#a00 24px,#ef0000 47.5px,#fc0700 51.5px,#ff4d00 71.5px,#ffb000 91.5px,#eae500 105.5px,#bffa00 117.5px,#a5ff00 121.5px,#9dff05 123.5px,#94ff0c 125.5px,#7cff24 129.5px,#6bff31 131.5px,#41ff4d 135.5px,#1bff5a 137.5px,#0f6 139.5px,#00fd8f 149.5px,#00f2ee 167.5px,#00f0f3 169.5px,#00f6de 181.5px,#00fd9a 219.5px,#01ff63 243.5px,#3fff4e 249.5px,#4cff47 251.5px,#72ff2c 259.5px,#97ff09 273.5px,#a5ff00 283.5px,#befa00 301.5px,#ebe400 369.5px,#ffb700 395.5px,#ff7900 431.5px,#ff5000 457.5px,#ff4100 469.5px,#ff0800 549.5px,#f80400 561.5px,#f00000 593.5px,#e40000 679.5px,#d70000 843.5px,#d10000 1023.5px,#cd0000 1331.5px)"></i>
<i style="left:1288px;width:8px;background:linear-gradient(#a00 24px,#ef0000 47.5px,#fd0700 51.5px,#ff4e00 71.5px,#ffb200 91.5px,#e8e600 105.5px,#c5f700 115.5px,#bcfa00 117.5px,#a3ff01 121.5px,#91ff0f 125.5px,#78ff28 129.5px,#50ff44 133.5px,#33ff52 135.5px,#0dff5f 137.5px,#00ff68 139.5px,#00fd93 149.5px,#00f6db 163.5px,#00f1f2 167.5px,#00eef6 169.5px,#00f1f2 173.5px,#00f6de 183.5px,#00fd9e 219.5px,#00ff64 245.5px,#3eff4e 251.5px,#4cff47 253.5px,#79ff27 263.5px,#96ff0a 275.5px,#a7ff00 287.5px,#befa00 305.5px,#ebe400 373.5px,#ffb400 401.5px,#ff4f00 463.5px,#ff4000 475.5px,#ff0900 555.5px,#f80400 569.5px,#f00000 603.5px,#e50000 683.5px,#d80000 861.5px,#cf0000 1331.5px)"></i>
<i style="left:1296px;width:8px;background:linear-gradient(#a00 24px,#ef0000 47.5px,#fd0700 51.5px,#ff4e00 71.5px,#ffb400 91.5px,#e7e600 105.5px,#c3f800 115.5px,#a0ff03 121.5px,#98ff09 123.5px,#71ff2d 129.5px,#48ff4a 133.5px,#00ff64 137.5px,#00ff72 141.5px,#00fd8d 147.5px,#00f6df 163.5px,#00eff6 167.5px,#00ecf7 169.5px,#00f0f3 175.5px,#00f6de 185.5px,#00fca2 219.5px,#00ff64 247.5px,#3cff4f 253.5px,#4bff48 255.5px,#77ff28 265.5px,#95ff0b 277.5px,#a5ff00 289.5px,#bffa00 309.5px,#ebe400 377.5px,#ffb500 405.5px,#ff4f00 469.5px,#ff4000 481.5px,#ff0900 563.5px,#f80400 577.5px,#f00000 613.5px,#e70000 683.5px,#d90000 877.5px,#d10000 1331.5px)"></i>
<i style="left:1304px;width:8px;background:linear-gradient(#a00 24px,#ef0000 47.5px,#fe0700 51.5px,#ff4f00 71.5px,#ffb600 91.5px,#ebe300 103.5px,#e5e700 105.5px,#c0f900 115.5px,#a7ff00 119.5px,#9eff05 121.5px,#95ff0b 123.5px,#7cff24 127.5px,#69ff32 129.5px,#3bff4f 133.5px,#15ff5c 135.5px,#00ff67 137.5px,#00fd90 147.5px,#00f7d8 161.5px,#00f1ef 165.5px,#00edf7 167.5px,#00e9f9 169.5px,#00f0f4 177.5px,#00f6db 189.5px,#00fd9b 225.5px,#00ff64 249.5px,#3aff4f 255.5px,#4aff48 257.5px,#76ff2a 267.5px,#97ff09 281.5px,#a7ff00 293.5px,#befa00 311.5px,#ebe400 381.5px,#ffb600 409.5px,#ff4e00 475.5px,#ff4000 487.5px,#ff0800 573.5px,#f80500 585.5px,#f00000 623.5px,#e90000 681.5px,#da0000 887.5px,#d20000 1331.5px)"></i>
<i style="left:1312px;width:8px;background:linear-gradient(#a00 24px,#f00000 47.5px,#fe0700 51.5px,#ff5000 71.5px,#ffaf00 89.5px,#eae400 103.5px,#befa00 115.5px,#a4ff01 119.5px,#91ff0f 123.5px,#77ff29 127.5px,#4dff46 131.5px,#2cff54 133.5px,#07ff62 135.5px,#00ff69 137.5px,#00fd94 147.5px,#00f6dc 161.5px,#00f0f4 165.5px,#00e7fa 169.5px,#00f0f5 179.5px,#00f6dc 191.5px,#00fd9b 227.5px,#00ff65 251.5px,#49ff49 259.5px,#73ff2b 269.5px,#95ff0b 283.5px,#a5ff00 295.5px,#befa00 315.5px,#eae500 383.5px,#efdc00 391.5px,#feb700 413.5px,#ff4e00 481.5px,#ff4000 493.5px,#ff2c00 521.5px,#ff0900 581.5px,#f90500 593.5px,#f30200 615.5px,#eb0000 677.5px,#dc0000 893.5px,#d40000 1331.5px)"></i>
<i style="left:1320px;width:8px;background:linear-gradient(#a00 24px,#f00000 47.5px,#fe0800 51.5px,#ff5100 71.5px,#ffb100 89.5px,#e9e500 103.5px,#c4f800 113.5px,#a1ff02 119.5px,#99ff08 121.5px,#80ff20 125.5px,#6fff2e 127.5px,#43ff4c 131.5px,#1eff59 133.5px,#00ff65 135.5px,#00ff73 139.5px,#00fd8e 145.5px,#00f6df 161.5px,#00eef6 165.5px,#00e4fc 169.5px,#00f1f2 183.5px,#00f6de 193.5px,#00fd9c 229.5px,#00ff65 253.5px,#0eff5f 255.5px,#47ff4a 261.5px,#78ff28 273.5px,#97ff0a 287.5px,#a5ff00 299.5px,#befa00 319.5px,#eae500 387.5px,#efdc00 395.5px,#ffb500 419.5px,#ff4e00 487.5px,#ff3f00 501.5px,#ff1b00 557.5px,#ff0900 591.5px,#fb0600 601.5px,#f40200 623.5px,#ed0000 673.5px,#de0000 899.5px,#d60000 1331.5px)"></i>
<i style="left:1328px;width:8px;background:linear-gradient(#a00 24px,#f00000 47.5px,#ff0800 51.5px,#ff5200 71.5px,#ffb300 89.5px,#e7e600 103.5px,#c2f800 113.5px,#a9fe00 117.5px,#9fff04 119.5px,#96ff0a 121.5px,#7bff25 125.5px,#68ff33 127.5px,#52ff43 129.5px,#35ff51 131.5px,#10ff5e 133.5px,#00ff68 135.5px,#00fd91 145.5px,#00f7d8 159.5px,#00f1f0 163.5px,#00ecf7 165.5px,#00e2fd 169.5px,#00f0f4 185.5px,#00f6db 197.5px,#00fd9d 231.5px,#0f6 255.5px,#0bff60 257.5px,#45ff4b 263.5px,#76ff2a 275.5px,#94ff0c 289.5px,#a6ff00 303.5px,#befa00 323.5px,#eae400 391.5px,#ffb500 423.5px,#ff4e00 493.5px,#ff4100 505.5px,#ff2600 545.5px,#ff0800 603.5px,#fc0600 609.5px,#f50200 631.5px,#f00000 669.5px,#e00000 903.5px,#d80000 1331.5px)"></i>
<i style="left:1336px;width:8px;background:linear-gradient(#a00 24px,#f00000 47.5px,#ff0800 51.5px,#ff4a00 69.5px,#ffb500 89.5px,#ebe300 101.5px,#e5e700 103.5px,#c0f900 113.5px,#a5ff00 117.5px,#92ff0e 121.5px,#76ff29 125.5px,#4aff48 129.5px,#02ff63 133.5px,#00ff71 137.5px,#00fd95 145.5px,#00f6dc 159.5px,#00f0f5 163.5px,#00dffe 169.5px,#00f0f5 187.5px,#00f6dd 199.5px,#00fd9e 233.5px,#00ff67 257.5px,#06ff62 259.5px,#41ff4d 265.5px,#4cff47 267.5px,#73ff2c 277.5px,#96ff0a 293.5px,#a6ff00 307.5px,#bffa00 327.5px,#ebe400 395.5px,#ffb600 427.5px,#ff4e00 499.5px,#ff4100 511.5px,#ff2b00 545.5px,#ff0800 615.5px,#f60300 637.5px,#f20100 665.5px,#e20000 901.5px,#d90000 1331.5px)"></i>
<i style="left:1344px;width:8px;background:linear-gradient(#a00 24px,#f10000 47.5px,#ff0900 51.5px,#ff4b00 69.5px,#ffae00 87.5px,#ffb700 89.5px,#eae400 101.5px,#d6f000 107.5px,#bdfa00 113.5px,#a2ff02 117.5px,#8dff13 121.5px,#6eff2f 125.5px,#3eff4e 129.5px,#19ff5b 131.5px,#0f6 133.5px,#00fd8f 143.5px,#00f6e0 159.5px,#00eef6 163.5px,#00e0fe 167.5px,#00dcff 169.5px,#00deff 171.5px,#00f1f3 191.5px,#00fca0 235.5px,#01ff64 261.5px,#3cff4f 267.5px,#4aff48 269.5px,#77ff29 281.5px,#96ff0a 297.5px,#a7ff00 311.5px,#bffa00 331.5px,#eae500 397.5px,#ffb600 431.5px,#ff5100 503.5px,#ff4200 517.5px,#ff2b00 553.5px,#ff0800 627.5px,#f30200 675.5px,#e30000 919.5px,#db0000 1331.5px)"></i>
<i style="left:1352px;width:8px;background:linear-gradient(#a00 24px,#f10000 47.5px,#ff0900 51.5px,#ff4c00 69.5px,#ffb000 87.5px,#e9e500 101.5px,#c3f800 111.5px,#a0ff03 117.5px,#97ff0a 119.5px,#7bff25 123.5px,#4fff44 127.5px,#30ff53 129.5px,#0bff60 131.5px,#00ff68 133.5px,#00fd92 143.5px,#00f7d9 157.5px,#00f1f1 161.5px,#00deff 167.5px,#00daff 169.5px,#00dcff 173.5px,#00f0f5 193.5px,#00f6dd 205.5px,#00fca1 237.5px,#00ff65 263.5px,#0fff5f 265.5px,#46ff4b 271.5px,#73ff2b 283.5px,#94ff0c 299.5px,#a4ff00 313.5px,#bffa00 335.5px,#ebe400 401.5px,#ffb500 435.5px,#ff5200 509.5px,#ff4100 525.5px,#ff2000 585.5px,#ff0800 641.5px,#f50200 689.5px,#e50000 923.5px,#d00 1331.5px)"></i>
<i style="left:1360px;width:8px;background:linear-gradient(#a00 24px,#f10100 47.5px,#ff0900 51.5px,#ff4c00 69.5px,#ffb200 87.5px,#e7e600 101.5px,#c1f900 111.5px,#a7ff00 115.5px,#9dff05 117.5px,#93ff0d 119.5px,#76ff2a 123.5px,#48ff4a 127.5px,#00ff64 131.5px,#00ff71 135.5px,#00fd95 143.5px,#00f6dc 157.5px,#00f0f5 161.5px,#00e2fd 165.5px,#00d7ff 169.5px,#0df 177.5px,#00f1f3 197.5px,#00fc9f 241.5px,#00ff67 265.5px,#06ff62 267.5px,#3fff4d 273.5px,#4bff47 275.5px,#76ff2a 287.5px,#95ff0b 303.5px,#a5ff00 317.5px,#bdfa00 337.5px,#ebe400 403.5px,#ffb500 439.5px,#ff5700 511.5px,#ff4300 531.5px,#ff1d00 601.5px,#ff0800 657.5px,#f60300 709.5px,#e70000 927.5px,#de0000 1331.5px)"></i>
<i style="left:1368px;width:8px;background:linear-gradient(#a00 24px,#eb0000 45.5px,#ff0a00 51.5px,#ff4d00 69.5px,#ffb300 87.5px,#ece300 99.5px,#e5e700 101.5px,#bffa00 111.5px,#a4ff01 115.5px,#8eff12 119.5px,#6eff2f 123.5px,#3bff4f 127.5px,#16ff5c 129.5px,#00ff67 131.5px,#00fd8f 141.5px,#00f5e0 157.5px,#00edf6 161.5px,#00e0fe 165.5px,#00d4ff 169.5px,#00dcff 179.5px,#00f0f5 199.5px,#00f6de 211.5px,#00fca2 243.5px,#00ff65 269.5px,#46ff4b 277.5px,#71ff2d 289.5px,#95ff0b 307.5px,#a5ff00 321.5px,#befa00 341.5px,#eae400 405.5px,#ffb700 441.5px,#ff5a00 515.5px,#f40 537.5px,#ff2000 605.5px,#ff0b00 661.5px,#fb0600 701.5px,#f00000 821.5px,#e90000 937.5px,#e00000 1331.5px)"></i>
<i style="left:1376px;width:8px;background:linear-gradient(#a00 24px,#ec0000 45.5px,#ff0a00 51.5px,#ff4e00 69.5px,#ffac00 85.5px,#ffb500 87.5px,#ebe400 99.5px,#c5f700 109.5px,#bcfa00 111.5px,#a2ff02 115.5px,#98ff09 117.5px,#7cff24 121.5px,#4fff45 125.5px,#0aff60 129.5px,#00ff69 131.5px,#00fd92 141.5px,#00f7d9 155.5px,#00f1f1 159.5px,#00ebf8 161.5px,#0df 165.5px,#00d2ff 169.5px,#00deff 183.5px,#00f0f3 203.5px,#00fca1 247.5px,#01ff64 273.5px,#29ff55 277.5px,#49ff49 281.5px,#6cff30 291.5px,#79ff27 295.5px,#96ff0a 311.5px,#a5ff00 325.5px,#bffa00 345.5px,#eae400 407.5px,#ffb600 445.5px,#ff5f00 517.5px,#ff4700 541.5px,#ff2800 597.5px,#ff0f00 663.5px,#fb0600 723.5px,#f00000 851.5px,#e70000 1023.5px,#e10000 1331.5px)"></i>
<i style="left:1384px;width:8px;background:linear-gradient(#a00 24px,#ec0000 45.5px,#f90500 49.5px,#ff0b00 51.5px,#ff4e00 69.5px,#ffae00 85.5px,#ffb700 87.5px,#e9e500 99.5px,#c3f800 109.5px,#aafe00 113.5px,#9fff04 115.5px,#95ff0b 117.5px,#77ff28 121.5px,#47ff4a 125.5px,#00ff64 129.5px,#00ff71 133.5px,#00fd95 141.5px,#00f6dc 155.5px,#00f0f5 159.5px,#00dbff 165.5px,#00cfff 169.5px,#0df 185.5px,#00f0f5 205.5px,#00fca4 249.5px,#00ff67 275.5px,#04ff62 277.5px,#3eff4e 283.5px,#4bff48 285.5px,#74ff2b 297.5px,#96ff0a 315.5px,#a6ff00 329.5px,#befa00 347.5px,#eae500 409.5px,#ffb600 449.5px,#ff6400 519.5px,#ff4a00 545.5px,#ff2c00 599.5px,#ff1300 665.5px,#ff0800 723.5px,#f00000 883.5px,#e30000 1331.5px)"></i>
<i style="left:1392px;width:8px;background:linear-gradient(#a00 24px,#ec0000 45.5px,#fa0500 49.5px,#ff0b00 51.5px,#ff4f00 69.5px,#ffaf00 85.5px,#e8e600 99.5px,#c1f900 109.5px,#a7ff00 113.5px,#9dff06 115.5px,#91ff0f 117.5px,#70ff2d 121.5px,#3cff4e 125.5px,#17ff5c 127.5px,#0f6 129.5px,#00fd8f 139.5px,#00f6e0 155.5px,#00edf6 159.5px,#00e0fe 163.5px,#00cdff 169.5px,#0df 187.5px,#00eff5 207.5px,#00f3e9 215.5px,#00fca0 255.5px,#00ff67 279.5px,#05ff62 281.5px,#40ff4d 287.5px,#4bff47 289.5px,#6eff2f 299.5px,#7aff26 303.5px,#94ff0c 317.5px,#a5ff00 331.5px,#bffa00 351.5px,#eae500 411.5px,#ffb500 453.5px,#f60 523.5px,#ff4d00 549.5px,#ff2f00 601.5px,#ff1600 667.5px,#ff0a00 729.5px,#f10000 905.5px,#e40000 1331.5px)"></i>
<i style="left:1400px;width:8px;background:linear-gradient(#a00 24px,#ec0000 45.5px,#fa0500 49.5px,#ff0b00 51.5px,#ff5100 69.5px,#ffb100 85.5px,#e6e700 99.5px,#bff900 109.5px,#a4ff01 113.5px,#9aff07 115.5px,#7eff22 119.5px,#51ff43 123.5px,#31ff52 125.5px,#0cff60 127.5px,#00ff68 129.5px,#00fd92 139.5px,#00f7d8 153.5px,#00f1f1 157.5px,#00ebf8 159.5px,#0df 163.5px,#00ceff 167.5px,#00cbff 169.5px,#00deff 189.5px,#00f0f5 211.5px,#00f4e5 221.5px,#00fd9c 261.5px,#00ff67 283.5px,#05ff62 285.5px,#40ff4d 291.5px,#4cff47 293.5px,#6fff2e 303.5px,#7aff26 307.5px,#95ff0b 321.5px,#a6ff00 335.5px,#befa00 353.5px,#ebe400 415.5px,#ffb700 455.5px,#ff6b00 525.5px,#ff4e00 555.5px,#ff3000 607.5px,#ff1900 669.5px,#ff0d00 723.5px,#ff0800 781.5px,#f40200 891.5px,#e60000 1331.5px)"></i>
<i style="left:1408px;width:8px;background:linear-gradient(#a00 24px,#ed0000 45.5px,#fa0600 49.5px,#ff0c00 51.5px,#ff5200 69.5px,#ffb200 85.5px,#ebe300 97.5px,#e5e800 99.5px,#bdfa00 109.5px,#a2ff02 113.5px,#98ff09 115.5px,#7aff26 119.5px,#4aff48 123.5px,#02ff63 127.5px,#00ff71 131.5px,#00fd95 139.5px,#00f6db 153.5px,#00f0f5 157.5px,#00dbff 163.5px,#0cf 167.5px,#00c9ff 169.5px,#0df 191.5px,#00eff5 213.5px,#00f4e5 225.5px,#00fd9d 265.5px,#00ff67 287.5px,#04ff63 289.5px,#40ff4d 295.5px,#4cff47 297.5px,#70ff2e 307.5px,#96ff0a 325.5px,#a5ff00 337.5px,#befa00 355.5px,#ebe400 417.5px,#ffb700 459.5px,#ff6c00 529.5px,#ff4e00 563.5px,#ff3100 613.5px,#ff1c00 671.5px,#ff1000 721.5px,#ff0800 805.5px,#f50300 901.5px,#e80000 1331.5px)"></i>
<i style="left:1416px;width:8px;background:linear-gradient(#a00 24px,#ed0000 45.5px,#fb0600 49.5px,#ff0c00 51.5px,#ff5300 69.5px,#ffb400 85.5px,#ebe400 97.5px,#c4f700 107.5px,#a0ff04 113.5px,#95ff0b 115.5px,#76ff29 119.5px,#43ff4c 123.5px,#1dff5a 125.5px,#00ff65 127.5px,#00ff73 131.5px,#00fd8e 137.5px,#00f6df 153.5px,#00eef6 157.5px,#00e0fe 161.5px,#00caff 167.5px,#00c7ff 169.5px,#0df 193.5px,#00f0f5 217.5px,#00f4e4 229.5px,#00fd9d 269.5px,#00ff67 291.5px,#03ff63 293.5px,#3fff4d 299.5px,#4bff47 301.5px,#78ff28 313.5px,#97ff09 329.5px,#a6ff00 341.5px,#bffa00 359.5px,#eae500 419.5px,#ffb700 463.5px,#ff7000 531.5px,#ff4d00 571.5px,#ff2c00 631.5px,#ff1600 705.5px,#ff0800 831.5px,#f50300 943.5px,#e90000 1331.5px)"></i>
<i style="left:1424px;width:8px;background:linear-gradient(#a00 24px,#ed0000 45.5px,#fb0600 49.5px,#ff0d00 51.5px,#ff4a00 67.5px,#ffb500 85.5px,#eae500 97.5px,#c3f800 107.5px,#a9fe00 111.5px,#9eff05 113.5px,#92ff0e 115.5px,#70ff2d 119.5px,#39ff4f 123.5px,#14ff5d 125.5px,#00ff67 127.5px,#00fd90 137.5px,#00f7d8 151.5px,#00f1f0 155.5px,#00ecf7 157.5px,#0df 161.5px,#00c7ff 167.5px,#00c4ff 169.5px,#00dcff 195.5px,#00f0f5 221.5px,#00f4e6 231.5px,#00fd9d 273.5px,#02ff63 297.5px,#3eff4e 303.5px,#4bff48 305.5px,#71ff2d 315.5px,#95ff0b 331.5px,#a7ff00 345.5px,#bffa00 363.5px,#ebe400 423.5px,#ffb700 467.5px,#ff7400 533.5px,#ff4e00 577.5px,#ff2f00 631.5px,#ff1900 701.5px,#ff0800 861.5px,#f70400 951.5px,#eb0000 1331.5px)"></i>
<i style="left:1432px;width:8px;background:linear-gradient(#a00 24px,#ed0000 45.5px,#fc0600 49.5px,#ff0d00 51.5px,#ff4b00 67.5px,#ffad00 83.5px,#ffb600 85.5px,#eddf00 95.5px,#daee00 101.5px,#c1f900 107.5px,#a6ff00 111.5px,#9cff06 113.5px,#7fff21 117.5px,#6bff31 119.5px,#51ff43 121.5px,#31ff53 123.5px,#0bff60 125.5px,#00ff69 127.5px,#00fd93 137.5px,#00f6db 151.5px,#00f0f4 155.5px,#00e9f9 157.5px,#00dbff 161.5px,#00c4ff 167.5px,#00c2ff 169.5px,#0df 199.5px,#00eff5 223.5px,#00f4e5 235.5px,#00fd9d 277.5px,#00ff64 301.5px,#3cff4f 307.5px,#4aff48 309.5px,#71ff2d 319.5px,#78ff28 321.5px,#95ff0b 335.5px,#a4ff00 347.5px,#befa00 365.5px,#ebe400 427.5px,#ffb500 473.5px,#ff7500 537.5px,#ff4e00 583.5px,#ff3200 631.5px,#ff1c00 699.5px,#fd0700 915.5px,#f40200 1049.5px,#ed0000 1331.5px)"></i>
<i style="left:1440px;width:8px;background:linear-gradient(#a00 24px,#e00 45.5px,#fc0700 49.5px,#ff4b00 67.5px,#ffae00 83.5px,#ffb700 85.5px,#e7e600 97.5px,#c0f900 107.5px,#a4ff01 111.5px,#9aff08 113.5px,#7cff24 117.5px,#65ff35 119.5px,#4bff47 121.5px,#02ff63 125.5px,#00ff71 129.5px,#00fd96 137.5px,#00f6de 151.5px,#00eef6 155.5px,#00e0fe 159.5px,#00c2ff 167.5px,#00bfff 169.5px,#0df 201.5px,#00f0f5 227.5px,#00f4e7 237.5px,#00fd9c 281.5px,#00ff64 305.5px,#39ff50 311.5px,#48ff49 313.5px,#70ff2e 323.5px,#7cff24 327.5px,#95ff0b 339.5px,#a4ff00 351.5px,#befa00 369.5px,#ebe400 431.5px,#ffb600 477.5px,#ff7800 539.5px,#ff4e00 589.5px,#ff3500 631.5px,#ff2000 695.5px,#ff0800 931.5px,#f50300 1081.5px,#ef0000 1331.5px)"></i>
<i style="left:1448px;width:8px;background:linear-gradient(#a00 24px,#e00 45.5px,#fd0700 49.5px,#ff4c00 67.5px,#ffaf00 83.5px,#feb800 85.5px,#e6e700 97.5px,#befa00 107.5px,#a2ff02 111.5px,#97ff09 113.5px,#79ff27 117.5px,#46ff4b 121.5px,#1fff59 123.5px,#00ff65 125.5px,#00ff73 129.5px,#00fd8e 135.5px,#00f5e2 151.5px,#00f1f0 153.5px,#00ecf7 155.5px,#0df 159.5px,#00bfff 167.5px,#00bdff 169.5px,#00deff 205.5px,#00f0f4 231.5px,#00fca0 283.5px,#00ff65 309.5px,#0eff5f 311.5px,#46ff4b 317.5px,#75ff2a 329.5px,#94ff0c 343.5px,#a7ff00 357.5px,#bffa00 375.5px,#ebe400 435.5px,#ffb700 481.5px,#ff7900 543.5px,#ff4d00 595.5px,#ff3700 631.5px,#ff2300 691.5px,#ff1400 823.5px,#ff0800 973.5px,#f60300 1137.5px,#f10000 1331.5px)"></i>
<i style="left:1456px;width:8px;background:linear-gradient(#a00 24px,#e00 45.5px,#fd0700 49.5px,#ff4d00 67.5px,#ffb000 83.5px,#ece300 95.5px,#e5e800 97.5px,#c5f700 105.5px,#bbfb00 107.5px,#a0ff03 111.5px,#95ff0b 113.5px,#74ff2b 117.5px,#3dff4e 121.5px,#17ff5c 123.5px,#00ff67 125.5px,#00fd91 135.5px,#00f6da 149.5px,#00f0f4 153.5px,#00daff 159.5px,#00bcff 167.5px,#00baff 169.5px,#00deff 209.5px,#00f0f5 233.5px,#00fc9f 287.5px,#0f6 313.5px,#09ff61 315.5px,#40ff4d 321.5px,#4cff47 323.5px,#72ff2c 333.5px,#97ff09 349.5px,#a6ff00 361.5px,#bffa00 379.5px,#ebe400 441.5px,#ffb600 487.5px,#ff7a00 547.5px,#ff4d00 601.5px,#ff3900 633.5px,#ff2700 687.5px,#ff1600 831.5px,#ff0900 1005.5px,#f30200 1331.5px)"></i>
<i style="left:1464px;width:8px;background:linear-gradient(#a00 24px,#e00 45.5px,#fe0700 49.5px,#ff4e00 67.5px,#ffb100 83.5px,#ebe400 95.5px,#c4f800 105.5px,#aafe00 109.5px,#92ff0e 113.5px,#6fff2e 117.5px,#55ff41 119.5px,#35ff51 121.5px,#0eff5f 123.5px,#00ff68 125.5px,#00fd94 135.5px,#00f6dd 149.5px,#00eef6 153.5px,#00d8ff 159.5px,#00baff 167.5px,#00b7ff 169.5px,#00deff 211.5px,#00f0f4 237.5px,#00fd9f 291.5px,#00ff67 317.5px,#04ff63 319.5px,#3aff4f 325.5px,#49ff49 327.5px,#77ff29 339.5px,#96ff0a 353.5px,#a5ff00 365.5px,#befa00 383.5px,#ebe400 445.5px,#ffb500 493.5px,#ff7c00 551.5px,#ff4d00 605.5px,#ff3a00 635.5px,#ff2a00 685.5px,#ff1900 823.5px,#ff0d00 981.5px,#ff0800 1087.5px,#f50300 1331.5px)"></i>
<i style="left:1472px;width:8px;background:linear-gradient(#a00 24px,#ef0000 45.5px,#fe0700 49.5px,#ff4f00 67.5px,#ffb200 83.5px,#eae500 95.5px,#c2f800 105.5px,#a7ff00 109.5px,#8fff11 113.5px,#7fff21 115.5px,#6aff32 117.5px,#4fff44 119.5px,#06ff62 123.5px,#00ff6a 125.5px,#00fd8c 133.5px,#00f5e1 149.5px,#00f2ef 151.5px,#00ecf7 153.5px,#0df 157.5px,#00b7ff 167.5px,#00b4ff 169.5px,#00cbff 191.5px,#00deff 215.5px,#00f0f5 239.5px,#00f6dd 255.5px,#00fd9e 295.5px,#00ff64 323.5px,#44ff4c 331.5px,#74ff2b 343.5px,#94ff0c 357.5px,#a7ff00 371.5px,#befa00 387.5px,#ebe400 451.5px,#ffb700 497.5px,#ff7d00 555.5px,#ff4e00 609.5px,#ff3c00 637.5px,#ff2c00 683.5px,#ff1400 921.5px,#ff0800 1161.5px,#f80400 1331.5px)"></i>
<i style="left:1480px;width:8px;background:linear-gradient(#a00 24px,#ef0000 45.5px,#fe0800 49.5px,#ff5000 67.5px,#ffb300 83.5px,#e9e500 95.5px,#c1f900 105.5px,#a5ff00 109.5px,#9aff07 111.5px,#7cff24 115.5px,#4aff48 119.5px,#00ff64 123.5px,#00ff73 127.5px,#00fd8f 133.5px,#00f7d9 147.5px,#00f0f3 151.5px,#00dbff 157.5px,#00b5ff 167.5px,#00b1ff 169.5px,#00caff 193.5px,#0df 217.5px,#00eff5 241.5px,#00f6df 257.5px,#00fd9e 299.5px,#00ff65 327.5px,#0bff60 329.5px,#3eff4e 335.5px,#4aff48 337.5px,#78ff28 349.5px,#96ff0a 363.5px,#a6ff00 375.5px,#bffa00 393.5px,#ebe400 457.5px,#ffb600 503.5px,#ff7c00 561.5px,#ff4d00 615.5px,#ff3c00 641.5px,#ff3000 679.5px,#ff2100 797.5px,#ff1700 913.5px,#ff0800 1251.5px,#fb0600 1331.5px)"></i>
<i style="left:1488px;width:8px;background:linear-gradient(#a00 24px,#ef0000 45.5px,#ff0800 49.5px,#ff5100 67.5px,#ffb400 83.5px,#e8e600 95.5px,#bffa00 105.5px,#a3ff01 109.5px,#98ff09 111.5px,#79ff27 115.5px,#45ff4b 119.5px,#1dff5a 121.5px,#0f6 123.5px,#00fd91 133.5px,#00f6dc 147.5px,#00eff6 151.5px,#00d8ff 157.5px,#00b2ff 167.5px,#00aeff 169.5px,#00c9ff 195.5px,#00deff 221.5px,#00f0f5 245.5px,#00f6dd 261.5px,#00fd9d 303.5px,#0f6 331.5px,#05ff62 333.5px,#47ff4a 341.5px,#75ff2a 353.5px,#95ff0b 367.5px,#a5ff00 379.5px,#befa00 397.5px,#eae500 461.5px,#ffb700 507.5px,#ff7d00 565.5px,#ff4e00 619.5px,#ff3d00 645.5px,#f30 677.5px,#ff1b00 899.5px,#fe0700 1331.5px)"></i>
<i style="left:1496px;width:8px;background:linear-gradient(#a00 24px,#ef0000 45.5px,#ff0800 49.5px,#ff5200 67.5px,#ffb500 83.5px,#ece100 93.5px,#d8ef00 99.5px,#bdfa00 105.5px,#a1ff03 109.5px,#96ff0a 111.5px,#75ff2a 115.5px,#3dff4e 119.5px,#15ff5d 121.5px,#00ff67 123.5px,#00fd94 133.5px,#00f5e0 147.5px,#00ecf7 151.5px,#00deff 155.5px,#00afff 167.5px,#00abff 169.5px,#00c8ff 197.5px,#0df 223.5px,#00eff5 247.5px,#00f6de 263.5px,#00fd9c 307.5px,#00ff70 329.5px,#01ff64 337.5px,#42ff4c 345.5px,#72ff2c 357.5px,#97ff09 373.5px,#a6ff00 385.5px,#bffa00 403.5px,#eae400 467.5px,#ffb600 513.5px,#ff7e00 569.5px,#ff4f00 623.5px,#ff3f00 647.5px,#ff3600 673.5px,#ff2c00 745.5px,#ff1f00 887.5px,#ff0a00 1331.5px)"></i>
<i style="left:1504px;width:8px;background:linear-gradient(#a00 24px,#f00000 45.5px,#ff0900 49.5px,#ff5300 67.5px,#ffb600 83.5px,#ece200 93.5px,#d7f000 99.5px,#bbfb00 105.5px,#9fff04 109.5px,#94ff0c 111.5px,#70ff2d 115.5px,#55ff40 117.5px,#35ff51 119.5px,#0dff60 121.5px,#00ff69 123.5px,#00fd8c 131.5px,#00f7d8 145.5px,#00f1f2 149.5px,#00dbff 155.5px,#00adff 167.5px,#00a8ff 169.5px,#00c5ff 197.5px,#00deff 227.5px,#00f0f5 251.5px,#00f6dd 267.5px,#00fd9c 311.5px,#00ff71 333.5px,#00ff65 341.5px,#49ff49 351.5px,#77ff29 363.5px,#95ff0b 377.5px,#a5ff00 389.5px,#befa00 407.5px,#ebe400 473.5px,#feb700 517.5px,#ff7d00 575.5px,#ff4e00 629.5px,#ff4000 651.5px,#ff3900 671.5px,#ff2e00 745.5px,#f20 883.5px,#ff0d00 1331.5px)"></i>
<i style="left:1512px;width:8px;background:linear-gradient(#a00 24px,#f00000 45.5px,#ff0900 49.5px,#ff4a00 65.5px,#ffad00 81.5px,#ffb700 83.5px,#ebe300 93.5px,#c4f800 103.5px,#a9fe00 107.5px,#91ff0f 111.5px,#81ff1f 113.5px,#6bff31 115.5px,#50ff44 117.5px,#2dff54 119.5px,#05ff62 121.5px,#00ff6a 123.5px,#00fd8f 131.5px,#00f6db 145.5px,#00eff5 149.5px,#00d9ff 155.5px,#0af 167.5px,#00a6ff 169.5px,#00c4ff 199.5px,#0df 229.5px,#00f0f5 253.5px,#00f6de 269.5px,#00fd9b 315.5px,#00ff71 337.5px,#00ff65 345.5px,#09ff61 347.5px,#47ff4b 355.5px,#74ff2b 367.5px,#97ff09 383.5px,#a6ff00 395.5px,#befa00 413.5px,#ebe400 479.5px,#ffb600 523.5px,#ff7e00 579.5px,#ff5300 629.5px,#ff4300 653.5px,#ff3b00 673.5px,#ff2500 877.5px,#f10 1331.5px)"></i>
<i style="left:1520px;width:8px;background:linear-gradient(#a00 24px,#f00000 45.5px,#ff0a00 49.5px,#ff4b00 65.5px,#ffae00 81.5px,#feb800 83.5px,#ebe400 93.5px,#c2f800 103.5px,#a7ff00 107.5px,#9cff06 109.5px,#8eff12 111.5px,#7eff22 113.5px,#67ff34 115.5px,#4cff47 117.5px,#00ff65 121.5px,#00ff74 125.5px,#00fd91 131.5px,#00f6df 145.5px,#00edf7 149.5px,#00deff 153.5px,#00d7ff 155.5px,#00a8ff 167.5px,#00a3ff 169.5px,#00c1ff 199.5px,#00deff 233.5px,#00f0f4 257.5px,#00f6dd 273.5px,#00fd9a 319.5px,#0f6 349.5px,#05ff62 351.5px,#43ff4c 359.5px,#78ff28 373.5px,#96ff0a 387.5px,#a4ff00 399.5px,#bffa00 419.5px,#eae400 483.5px,#feb700 527.5px,#ff7f00 583.5px,#ff5900 627.5px,#ff4800 651.5px,#ff3d00 679.5px,#ff2800 877.5px,#ff1400 1331.5px)"></i>
<i style="left:1528px;width:8px;background:linear-gradient(#a00 24px,#f10000 45.5px,#ff0a00 49.5px,#ff4c00 65.5px,#ffaf00 81.5px,#eae500 93.5px,#c1f900 103.5px,#a5ff00 107.5px,#9aff07 109.5px,#7bff25 113.5px,#47ff4a 117.5px,#1eff59 119.5px,#0f6 121.5px,#00fd94 131.5px,#00f5e3 145.5px,#00f1f1 147.5px,#00ebf8 149.5px,#00dcff 153.5px,#00a5ff 167.5px,#00a0ff 169.5px,#00bfff 199.5px,#0df 235.5px,#00f0f5 259.5px,#00f6de 275.5px,#00fd9c 321.5px,#0f6 353.5px,#02ff63 355.5px,#3fff4e 363.5px,#4aff48 365.5px,#76ff2a 377.5px,#94ff0c 391.5px,#a5ff00 405.5px,#bffa00 425.5px,#ebe400 489.5px,#ffb600 533.5px,#ff7e00 589.5px,#ff5900 633.5px,#ff4a00 655.5px,#ff3e00 687.5px,#ff2a00 877.5px,#ff1800 1331.5px)"></i>
<i style="left:1536px;width:8px;background:linear-gradient(#a00 24px,#ea0000 43.5px,#f80400 47.5px,#ff0b00 49.5px,#ff4d00 65.5px,#ffb000 81.5px,#e9e500 93.5px,#bff900 103.5px,#a3ff01 107.5px,#98ff09 109.5px,#78ff28 113.5px,#40ff4d 117.5px,#16ff5c 119.5px,#00ff67 121.5px,#00fd96 131.5px,#00f6da 143.5px,#00f0f5 147.5px,#00daff 153.5px,#00a2ff 167.5px,#009dff 169.5px,#00beff 201.5px,#00deff 239.5px,#00eff6 261.5px,#00f6dd 279.5px,#00fd9c 325.5px,#00ff72 349.5px,#00ff64 359.5px,#48ff4a 369.5px,#73ff2b 381.5px,#96ff0a 397.5px,#a6ff00 411.5px,#befa00 429.5px,#ebe400 495.5px,#feb700 537.5px,#ff7f00 593.5px,#ff5d00 633.5px,#ff4e00 657.5px,#ff4000 695.5px,#ff2d00 877.5px,#ff1b00 1331.5px)"></i>
<i style="left:1544px;width:8px;background:linear-gradient(#a00 24px,#eb0000 43.5px,#f90500 47.5px,#ff0b00 49.5px,#ff4d00 65.5px,#ffb100 81.5px,#e8e600 93.5px,#befa00 103.5px,#a1ff03 107.5px,#96ff0a 109.5px,#74ff2b 113.5px,#38ff50 117.5px,#0eff5f 119.5px,#00ff69 121.5px,#00fd8e 129.5px,#00f6dd 143.5px,#00eef6 147.5px,#00d8ff 153.5px,#00a0ff 167.5px,#009bff 169.5px,#00beff 203.5px,#00deff 241.5px,#00f0f5 265.5px,#00f6de 281.5px,#00fd9b 329.5px,#00ff72 353.5px,#00ff64 363.5px,#46ff4b 373.5px,#77ff29 387.5px,#97ff09 403.5px,#a4ff00 415.5px,#befa00 435.5px,#eae500 499.5px,#ffb600 543.5px,#ff8200 595.5px,#ff6300 631.5px,#ff4e00 665.5px,#ff4200 703.5px,#ff3900 759.5px,#ff3000 877.5px,#ff1f00 1331.5px)"></i>
<i style="left:1552px;width:8px;background:linear-gradient(#a00 24px,#eb0000 43.5px,#f90500 47.5px,#ff0b00 49.5px,#ff4e00 65.5px,#ffb200 81.5px,#ede000 91.5px,#d8ef00 97.5px,#bcfa00 103.5px,#9fff04 107.5px,#94ff0c 109.5px,#6fff2e 113.5px,#54ff41 115.5px,#31ff53 117.5px,#07ff62 119.5px,#00ff6a 121.5px,#00fd90 129.5px,#00f5e1 143.5px,#00f2ef 145.5px,#00ecf7 147.5px,#0df 151.5px,#009dff 167.5px,#09f 169.5px,#00beff 205.5px,#0df 243.5px,#00eff5 267.5px,#00f6dc 285.5px,#00fd9d 331.5px,#00ff71 357.5px,#00ff65 367.5px,#42ff4c 377.5px,#74ff2a 391.5px,#95ff0b 407.5px,#a5ff00 421.5px,#bffa00 441.5px,#eae400 505.5px,#feb700 547.5px,#ff8000 601.5px,#f60 633.5px,#ff4e00 675.5px,#ff4300 713.5px,#ff3200 883.5px,#f20 1331.5px)"></i>
<i style="left:1560px;width:8px;background:linear-gradient(#a00 24px,#eb0000 43.5px,#fa0500 47.5px,#ff0c00 49.5px,#ff4f00 65.5px,#ffb200 81.5px,#ece200 91.5px,#e6e700 93.5px,#c4f700 101.5px,#aafe00 105.5px,#9eff05 107.5px,#91ff0f 109.5px,#80ff20 111.5px,#6bff31 113.5px,#4fff45 115.5px,#00ff64 119.5px,#00ff74 123.5px,#00fd93 129.5px,#00f7d8 141.5px,#00f1f3 145.5px,#00dbff 151.5px,#009bff 167.5px,#0097ff 169.5px,#00beff 207.5px,#00deff 247.5px,#00f0f5 271.5px,#00fcaa 325.5px,#00ff71 361.5px,#00ff65 371.5px,#09ff61 373.5px,#3fff4d 381.5px,#49ff49 383.5px,#78ff28 397.5px,#96ff0a 413.5px,#a6ff00 427.5px,#befa00 445.5px,#ebe400 511.5px,#ffb600 553.5px,#ff8900 597.5px,#ff6c00 631.5px,#ff5400 673.5px,#ff4600 713.5px,#ff3c00 783.5px,#ff3500 879.5px,#ff2600 1331.5px)"></i>
<i style="left:1568px;width:8px;background:linear-gradient(#a00 24px,#eb0000 43.5px,#fa0500 47.5px,#ff0c00 49.5px,#ff5000 65.5px,#ffb300 81.5px,#ece300 91.5px,#e5e800 93.5px,#c3f800 101.5px,#a8fe00 105.5px,#9cff06 107.5px,#8eff12 109.5px,#7eff22 111.5px,#66ff34 113.5px,#4bff48 115.5px,#22ff58 117.5px,#0f6 119.5px,#00ff76 123.5px,#00fd95 129.5px,#00f6db 141.5px,#00eff5 145.5px,#00d9ff 151.5px,#0098ff 167.5px,#0095ff 169.5px,#00beff 209.5px,#00deff 249.5px,#00f0f5 273.5px,#00f9c4 309.5px,#00ff65 375.5px,#08ff61 377.5px,#48ff4a 387.5px,#76ff2a 401.5px,#94ff0c 417.5px,#a7ff00 433.5px,#befa00 451.5px,#ebe300 517.5px,#ffb700 557.5px,#ff9f00 579.5px,#ff6f00 631.5px,#ff5900 669.5px,#ff4a00 711.5px,#ff3f00 787.5px,#ff3800 873.5px,#ff2a00 1331.5px)"></i>
<i style="left:1576px;width:8px;background:linear-gradient(#a00 24px,#ec0000 43.5px,#fb0600 47.5px,#ff0d00 49.5px,#ff5200 65.5px,#ffb400 81.5px,#ebe400 91.5px,#dced00 95.5px,#c2f900 101.5px,#a5ff00 105.5px,#9aff07 107.5px,#7bff25 111.5px,#46ff4b 115.5px,#1bff5a 117.5px,#00ff67 119.5px,#00fd8d 127.5px,#00f6de 141.5px,#00edf7 145.5px,#00d7ff 151.5px,#0096ff 167.5px,#0093ff 169.5px,#00beff 211.5px,#0df 251.5px,#00eff6 275.5px,#00f6de 293.5px,#00ff65 379.5px,#06ff62 381.5px,#46ff4b 391.5px,#74ff2b 405.5px,#96ff0a 423.5px,#a5ff00 437.5px,#bffa00 457.5px,#ebe400 521.5px,#ffb500 563.5px,#ffa100 581.5px,#ff7300 631.5px,#ff5f00 665.5px,#ff4e00 707.5px,#ff4200 785.5px,#ff3b00 871.5px,#ff2d00 1331.5px)"></i>
<i style="left:1584px;width:8px;background:linear-gradient(#a00 24px,#ec0000 43.5px,#fb0600 47.5px,#ff0d00 49.5px,#ff5300 65.5px,#ffb500 81.5px,#eae500 91.5px,#dbed00 95.5px,#c0f900 101.5px,#a4ff01 105.5px,#99ff08 107.5px,#79ff27 111.5px,#3fff4e 115.5px,#13ff5d 117.5px,#00ff68 119.5px,#00fd8f 127.5px,#00f5e2 141.5px,#00f1f0 143.5px,#00ebf8 145.5px,#0df 149.5px,#0093ff 167.5px,#0091ff 169.5px,#00bdff 213.5px,#00deff 255.5px,#00f0f5 279.5px,#00f6dc 297.5px,#00fca9 335.5px,#00ff71 373.5px,#00ff65 383.5px,#05ff62 385.5px,#45ff4c 395.5px,#78ff28 411.5px,#95ff0b 427.5px,#a7ff00 443.5px,#befa00 461.5px,#ebe400 527.5px,#ffb600 567.5px,#ffa000 587.5px,#ff7200 637.5px,#ff5800 687.5px,#ff4f00 717.5px,#ff4300 799.5px,#ff3d00 883.5px,#ff3100 1331.5px)"></i>
<i style="left:1592px;width:8px;background:linear-gradient(#a00 24px,#ec0000 43.5px,#fc0600 47.5px,#ff0e00 49.5px,#ff5400 65.5px,#ffb600 81.5px,#e9e500 91.5px,#daee00 95.5px,#bffa00 101.5px,#a2ff02 105.5px,#97ff09 107.5px,#75ff2a 111.5px,#59ff3e 113.5px,#38ff50 115.5px,#0cff60 117.5px,#00ff6a 119.5px,#00fd91 127.5px,#00f7d9 139.5px,#00f0f4 143.5px,#00dbff 149.5px,#0091ff 167.5px,#008fff 169.5px,#00a0ff 183.5px,#00b8ff 209.5px,#00deff 257.5px,#00eff5 281.5px,#00f6de 299.5px,#00fd98 351.5px,#00ff70 377.5px,#00ff65 387.5px,#05ff62 389.5px,#43ff4c 399.5px,#76ff29 415.5px,#96ff0a 433.5px,#a6ff00 447.5px,#befa00 465.5px,#ebe400 531.5px,#ffb700 571.5px,#ffa100 591.5px,#ff7400 639.5px,#ff5c00 685.5px,#ff5200 717.5px,#ff4700 795.5px,#ff3f00 891.5px,#ff3400 1331.5px)"></i>
<i style="left:1600px;width:8px;background:linear-gradient(#a00 24px,#ec0000 43.5px,#fc0600 47.5px,#ff0e00 49.5px,#ff4a00 63.5px,#ffac00 79.5px,#ffb700 81.5px,#e8e600 91.5px,#befa00 101.5px,#a0ff03 105.5px,#95ff0b 107.5px,#70ff2d 111.5px,#54ff41 113.5px,#31ff53 115.5px,#04ff63 117.5px,#00ff6b 119.5px,#00fd94 127.5px,#00f6dc 139.5px,#00eff6 143.5px,#00d9ff 149.5px,#008fff 167.5px,#008cff 169.5px,#0af 195.5px,#0df 259.5px,#00f0f5 285.5px,#00fcaa 341.5px,#00ff70 381.5px,#00ff65 391.5px,#05ff62 393.5px,#42ff4c 403.5px,#75ff2a 419.5px,#96ff0a 437.5px,#a5ff00 451.5px,#bffa00 471.5px,#eae500 535.5px,#ffb500 577.5px,#ffa100 595.5px,#ff7400 643.5px,#ff6000 681.5px,#ff5600 715.5px,#ff4b00 787.5px,#ff4200 891.5px,#ff3700 1331.5px)"></i>
<i style="left:1608px;width:8px;background:linear-gradient(#a00 24px,#ed0000 43.5px,#fd0700 47.5px,#ff4b00 63.5px,#feb800 81.5px,#eddf00 89.5px,#d8ef00 95.5px,#bbfb00 101.5px,#acfe00 103.5px,#9fff04 105.5px,#92ff0e 107.5px,#6cff30 111.5px,#50ff44 113.5px,#00ff65 117.5px,#00fe8b 125.5px,#00f6df 139.5px,#00edf7 143.5px,#00dfff 147.5px,#00d7ff 149.5px,#008cff 167.5px,#008aff 169.5px,#009fff 185.5px,#00bdff 219.5px,#00deff 263.5px,#00eff5 287.5px,#00f6dd 305.5px,#00fbae 341.5px,#00ff70 385.5px,#00ff65 395.5px,#05ff62 397.5px,#41ff4d 407.5px,#4aff48 409.5px,#74ff2b 423.5px,#95ff0b 441.5px,#a4ff00 455.5px,#bffa00 475.5px,#ebe400 541.5px,#ffb600 581.5px,#ff7600 645.5px,#ff6400 679.5px,#ff5a00 713.5px,#ff4e00 785.5px,#ff4500 891.5px,#ff3b00 1331.5px)"></i>
<i style="left:1616px;width:8px;background:linear-gradient(#a00 24px,#ed0000 43.5px,#fd0700 47.5px,#ff4c00 63.5px,#ffae00 79.5px,#ede000 89.5px,#e6e700 91.5px,#c5f700 99.5px,#aafe00 103.5px,#9dff05 105.5px,#90ff10 107.5px,#7fff21 109.5px,#68ff34 111.5px,#4cff47 113.5px,#22ff58 115.5px,#0f6 117.5px,#00fd8d 125.5px,#00f7d5 137.5px,#00f1f0 141.5px,#00ebf8 143.5px,#0df 147.5px,#008aff 167.5px,#08f 169.5px,#009dff 185.5px,#00b1ff 207.5px,#00deff 265.5px,#00f0f4 291.5px,#00fca8 349.5px,#00ff6f 389.5px,#00ff65 399.5px,#06ff62 401.5px,#41ff4d 411.5px,#4aff48 413.5px,#73ff2b 427.5px,#95ff0b 445.5px,#a7ff00 461.5px,#befa00 479.5px,#eae400 545.5px,#ffb700 585.5px,#f70 647.5px,#ff6900 675.5px,#ff5f00 711.5px,#ff4f00 805.5px,#ff4800 891.5px,#ff3d00 1331.5px)"></i>
<i style="left:1624px;width:8px;background:linear-gradient(#a00 24px,#ed0000 43.5px,#fe0700 47.5px,#ff4d00 63.5px,#ffaf00 79.5px,#ece200 89.5px,#e5e700 91.5px,#c3f800 99.5px,#a7ff00 103.5px,#9bff06 105.5px,#7cff24 109.5px,#47ff4a 113.5px,#1bff5b 115.5px,#00ff67 117.5px,#00fd8f 125.5px,#00f7d8 137.5px,#00f1f3 141.5px,#00dbff 147.5px,#08f 167.5px,#0085ff 169.5px,#009bff 185.5px,#00a7ff 197.5px,#0df 267.5px,#00f0f5 293.5px,#00f6dd 311.5px,#00fcaa 351.5px,#00ff72 391.5px,#00ff65 403.5px,#07ff61 405.5px,#42ff4d 415.5px,#4aff48 417.5px,#79ff27 433.5px,#94ff0c 449.5px,#a7ff00 465.5px,#befa00 483.5px,#eae500 549.5px,#ffb700 589.5px,#ffa000 609.5px,#f70 651.5px,#ff6c00 675.5px,#ff6200 711.5px,#ff5300 801.5px,#ff4b00 891.5px,#ff4000 1331.5px)"></i>
<i style="left:1632px;width:8px;background:linear-gradient(#a00 24px,#e00 43.5px,#fe0700 47.5px,#ff4d00 63.5px,#ffb000 79.5px,#ece300 89.5px,#e4e800 91.5px,#c2f800 99.5px,#a5ff00 103.5px,#9aff07 105.5px,#7aff26 109.5px,#41ff4d 113.5px,#13ff5d 115.5px,#00ff68 117.5px,#00fd91 125.5px,#00f6db 137.5px,#00eff5 141.5px,#00d9ff 147.5px,#0086ff 167.5px,#0083ff 169.5px,#009aff 185.5px,#00a3ff 195.5px,#00deff 271.5px,#00eff5 295.5px,#00f6de 313.5px,#00fabb 341.5px,#00ff71 395.5px,#00ff65 407.5px,#08ff61 409.5px,#42ff4c 419.5px,#79ff27 437.5px,#94ff0c 453.5px,#a6ff00 469.5px,#befa00 487.5px,#ebe400 555.5px,#feb800 593.5px,#ff9e00 615.5px,#ff7a00 653.5px,#ff7000 673.5px,#ff6500 713.5px,#ff5700 801.5px,#ff4e00 901.5px,#ff4300 1331.5px)"></i>
<i style="left:1640px;width:8px;background:linear-gradient(#a00 24px,#e00 43.5px,#ff0800 47.5px,#ff4e00 63.5px,#ffb100 79.5px,#ebe400 89.5px,#dced00 93.5px,#c1f900 99.5px,#a4ff01 103.5px,#98ff09 105.5px,#77ff29 109.5px,#39ff4f 113.5px,#0cff60 115.5px,#00ff6a 117.5px,#00fd93 125.5px,#00f6dd 137.5px,#00eef6 141.5px,#00d7ff 147.5px,#0084ff 167.5px,#0080ff 169.5px,#0098ff 185.5px,#00a2ff 195.5px,#00deff 273.5px,#00f0f5 299.5px,#00f6dd 317.5px,#00fca8 359.5px,#00ff71 399.5px,#00ff65 411.5px,#42ff4c 423.5px,#78ff28 441.5px,#97ff09 459.5px,#a6ff00 473.5px,#bffa00 493.5px,#ebe400 559.5px,#ffb600 599.5px,#ff9700 627.5px,#ff7c00 657.5px,#ff7300 675.5px,#ff6900 713.5px,#ff5a00 809.5px,#ff5000 929.5px,#ff4600 1331.5px)"></i>
<i style="left:1648px;width:8px;background:linear-gradient(#a00 24px,#e00 43.5px,#ff0800 47.5px,#ff4f00 63.5px,#ffb200 79.5px,#eae400 89.5px,#dbee00 93.5px,#bff900 99.5px,#a2ff02 103.5px,#97ff0a 105.5px,#73ff2c 109.5px,#56ff40 111.5px,#32ff52 113.5px,#04ff62 115.5px,#00ff6b 117.5px,#00fe8a 123.5px,#00f6e0 137.5px,#00ecf7 141.5px,#00deff 145.5px,#0081ff 167.5px,#007eff 169.5px,#0098ff 187.5px,#00a2ff 197.5px,#0df 275.5px,#00eff5 301.5px,#00f6df 319.5px,#00fcaa 361.5px,#00ff71 403.5px,#00ff64 415.5px,#42ff4d 427.5px,#78ff28 445.5px,#97ff09 463.5px,#a6ff00 477.5px,#bffa00 497.5px,#ebe400 563.5px,#ffb600 603.5px,#ff9700 631.5px,#ff7e00 661.5px,#ff7500 681.5px,#ff6d00 713.5px,#ff5d00 807.5px,#ff5300 929.5px,#ff4800 1331.5px)"></i>
<i style="left:1656px;width:8px;background:linear-gradient(#a00 24px,#e00 43.5px,#ff0800 47.5px,#ff5000 63.5px,#ffb300 79.5px,#e9e500 89.5px,#daee00 93.5px,#befa00 99.5px,#a0ff03 103.5px,#94ff0c 105.5px,#6eff2f 109.5px,#52ff43 111.5px,#00ff65 115.5px,#00fe8c 123.5px,#00f7d6 135.5px,#00f1f1 139.5px,#00dcff 145.5px,#007eff 167.5px,#007cff 169.5px,#00a0ff 197.5px,#00deff 279.5px,#00f0f5 305.5px,#00f6de 323.5px,#00fca9 365.5px,#00ff70 407.5px,#00ff64 419.5px,#49ff49 433.5px,#77ff28 449.5px,#96ff0a 467.5px,#a5ff00 481.5px,#befa00 501.5px,#eae400 567.5px,#ffb700 607.5px,#ff9c00 631.5px,#ff8300 663.5px,#ff7800 685.5px,#ff7000 715.5px,#ff6100 807.5px,#ff5700 931.5px,#ff4e00 1139.5px,#ff4b00 1331.5px)"></i>
<i style="left:1664px;width:8px;background:linear-gradient(#a00 24px,#ef0000 43.5px,#ff0900 47.5px,#ff5100 63.5px,#ffb400 79.5px,#e9e500 89.5px,#d9ef00 93.5px,#bcfa00 99.5px,#9fff04 103.5px,#92ff0e 105.5px,#81ff1f 107.5px,#6aff32 109.5px,#4dff46 111.5px,#24ff57 113.5px,#0f6 115.5px,#00fd8e 123.5px,#00f7d8 135.5px,#00f0f3 139.5px,#00daff 145.5px,#0bf 153.5px,#007bff 167.5px,#0079ff 169.5px,#0096ff 189.5px,#00a0ff 199.5px,#0df 281.5px,#00eff6 307.5px,#00f6dd 327.5px,#00fca9 369.5px,#00ff70 411.5px,#00ff65 423.5px,#48ff49 437.5px,#76ff29 453.5px,#96ff0a 471.5px,#a5ff00 485.5px,#befa00 505.5px,#ebe400 573.5px,#feb800 611.5px,#ff9f00 633.5px,#f80 663.5px,#ff7b00 689.5px,#ff7300 717.5px,#ff6500 809.5px,#ff5a00 935.5px,#ff4e00 1331.5px)"></i>
<i style="left:1672px;width:8px;background:linear-gradient(#a00 24px,#ef0000 43.5px,#ff0900 47.5px,#ff5200 63.5px,#ffb500 79.5px,#e8e600 89.5px,#c5f700 97.5px,#aafe00 101.5px,#9dff05 103.5px,#90ff10 105.5px,#7eff22 107.5px,#49ff49 111.5px,#1cff5a 113.5px,#00ff67 115.5px,#00fd90 123.5px,#00f6da 135.5px,#00eff5 139.5px,#00d9ff 145.5px,#00b9ff 153.5px,#0079ff 167.5px,#07f 169.5px,#0096ff 191.5px,#00a0ff 201.5px,#00deff 285.5px,#00f0f5 311.5px,#00f6df 329.5px,#00fca8 373.5px,#00ff70 415.5px,#00ff65 427.5px,#06ff62 429.5px,#47ff4a 441.5px,#74ff2b 457.5px,#95ff0b 475.5px,#a6ff00 491.5px,#bffa00 511.5px,#ebe400 577.5px,#ffb600 617.5px,#ffa100 637.5px,#ff8b00 667.5px,#ff7e00 693.5px,#ff7500 727.5px,#ff6700 817.5px,#ff5d00 947.5px,#ff5100 1331.5px)"></i>
<i style="left:1680px;width:8px;background:linear-gradient(#a00 24px,#ef0000 43.5px,#ff0a00 47.5px,#ff5300 63.5px,#ffab00 77.5px,#ffb600 79.5px,#e7e600 89.5px,#c4f800 97.5px,#a8fe00 101.5px,#9cff06 103.5px,#7cff24 107.5px,#43ff4c 111.5px,#15ff5d 113.5px,#00ff68 115.5px,#00fd92 123.5px,#00f6dd 135.5px,#00eef6 139.5px,#00d7ff 145.5px,#07f 167.5px,#0075ff 169.5px,#0096ff 193.5px,#00a0ff 203.5px,#0df 287.5px,#00f0f5 315.5px,#00fca8 377.5px,#00ff71 419.5px,#00ff65 431.5px,#04ff63 433.5px,#44ff4c 445.5px,#78ff28 463.5px,#96ff0a 481.5px,#a5ff00 495.5px,#befa00 515.5px,#ebe400 581.5px,#ffb700 621.5px,#ffa200 641.5px,#ff8b00 675.5px,#f70 737.5px,#ff6a00 823.5px,#ff6000 959.5px,#ff5400 1331.5px)"></i>
<i style="left:1688px;width:8px;background:linear-gradient(#a00 24px,#f00000 43.5px,#f70400 45.5px,#ff0a00 47.5px,#ff4900 61.5px,#ffac00 77.5px,#feb700 79.5px,#ede000 87.5px,#e6e700 89.5px,#c3f800 97.5px,#a6ff00 101.5px,#9aff07 103.5px,#79ff27 107.5px,#3cff4f 111.5px,#0eff5f 113.5px,#00ff6a 115.5px,#00fd94 123.5px,#00f6df 135.5px,#00edf7 139.5px,#00deff 143.5px,#00beff 151.5px,#0076ff 167.5px,#0072ff 169.5px,#009fff 205.5px,#00deff 291.5px,#00f0f5 319.5px,#00fca8 381.5px,#00ff71 423.5px,#01ff64 437.5px,#48ff4a 451.5px,#75ff2a 467.5px,#95ff0b 485.5px,#a6ff00 501.5px,#bffa00 521.5px,#eae400 585.5px,#feb700 625.5px,#ffa400 643.5px,#ff9000 675.5px,#ff7800 751.5px,#ff6d00 833.5px,#ff6200 973.5px,#ff5700 1331.5px)"></i>
<i style="left:1696px;width:8px;background:linear-gradient(#a00 24px,#f00000 43.5px,#f80400 45.5px,#ff0b00 47.5px,#ff4a00 61.5px,#ffad00 77.5px,#feb800 79.5px,#ece100 87.5px,#e5e800 89.5px,#c2f800 97.5px,#a4ff01 101.5px,#99ff08 103.5px,#76ff2a 107.5px,#58ff3e 109.5px,#35ff51 111.5px,#06ff62 113.5px,#00ff6b 115.5px,#00fd96 123.5px,#00f1f0 137.5px,#00ebf8 139.5px,#00dcff 143.5px,#00bcff 151.5px,#0075ff 167.5px,#006fff 169.5px,#009fff 207.5px,#00deff 295.5px,#00eff5 321.5px,#00f6de 341.5px,#00fca8 385.5px,#00ff71 427.5px,#00ff65 441.5px,#07ff61 443.5px,#44ff4c 455.5px,#78ff28 473.5px,#96ff0a 491.5px,#a5ff00 505.5px,#befa00 525.5px,#eae500 589.5px,#ffb600 631.5px,#ffa400 649.5px,#ff9200 679.5px,#ff7a00 763.5px,#ff7000 839.5px,#ff6500 981.5px,#ff5a00 1331.5px)"></i>
<i style="left:1704px;width:8px;background:linear-gradient(#a00 24px,#f00000 43.5px,#f80400 45.5px,#ff0b00 47.5px,#ff4b00 61.5px,#ffae00 77.5px,#ece300 87.5px,#e4e800 89.5px,#c1f900 97.5px,#a3ff02 101.5px,#97ff09 103.5px,#71ff2d 107.5px,#54ff41 109.5px,#2eff54 111.5px,#00ff64 113.5px,#00fe8c 121.5px,#00f7d7 133.5px,#00f1f2 137.5px,#00dbff 143.5px,#006dff 169.5px,#009eff 209.5px,#0df 297.5px,#00eff5 325.5px,#00f6de 345.5px,#00fca8 389.5px,#00ff70 433.5px,#00ff65 445.5px,#03ff63 447.5px,#48ff4a 461.5px,#74ff2b 477.5px,#94ff0c 495.5px,#a6ff00 511.5px,#bffa00 531.5px,#ebe400 595.5px,#ffb600 635.5px,#ffa500 653.5px,#ff9600 681.5px,#ff7d00 775.5px,#ff7300 845.5px,#ff6900 987.5px,#ff5d00 1331.5px)"></i>
<i style="left:1712px;width:8px;background:linear-gradient(#a00 24px,#f00000 43.5px,#f90500 45.5px,#ff0c00 47.5px,#ff4b00 61.5px,#ffaf00 77.5px,#ebe400 87.5px,#e3e900 89.5px,#bff900 97.5px,#a1ff03 101.5px,#95ff0b 103.5px,#6dff30 107.5px,#50ff44 109.5px,#00ff65 113.5px,#00fd8e 121.5px,#00f7d9 133.5px,#00f0f5 137.5px,#00d9ff 143.5px,#006aff 169.5px,#009dff 211.5px,#00deff 301.5px,#00f0f5 329.5px,#00f6de 349.5px,#00ff70 437.5px,#00ff64 451.5px,#43ff4c 465.5px,#76ff29 483.5px,#95ff0b 501.5px,#a6ff00 517.5px,#bffa00 537.5px,#ebe400 599.5px,#ffb500 641.5px,#ffa400 661.5px,#ff9600 695.5px,#ff8400 767.5px,#ff7900 829.5px,#ff6a00 1027.5px,#ff6000 1331.5px)"></i>
<i style="left:1720px;width:8px;background:linear-gradient(#a00 24px,#f10000 43.5px,#f90500 45.5px,#ff0c00 47.5px,#ff4c00 61.5px,#ffb000 77.5px,#ebe400 87.5px,#dbee00 91.5px,#befa00 97.5px,#a0ff04 101.5px,#93ff0d 103.5px,#81ff1f 105.5px,#69ff33 107.5px,#4bff47 109.5px,#20ff59 111.5px,#00ff67 113.5px,#00fd90 121.5px,#00f6db 133.5px,#00eff6 137.5px,#00d8ff 143.5px,#0067ff 169.5px,#009eff 215.5px,#00deff 305.5px,#00f0f5 333.5px,#00f6de 353.5px,#00ff71 441.5px,#00ff65 455.5px,#03ff63 457.5px,#46ff4b 471.5px,#78ff28 489.5px,#96ff0a 507.5px,#a5ff00 521.5px,#befa00 541.5px,#eae400 603.5px,#ffb500 647.5px,#ffa600 667.5px,#f90 703.5px,#ff8500 783.5px,#ff7b00 847.5px,#ff6d00 1033.5px,#ff6300 1331.5px)"></i>
<i style="left:1728px;width:8px;background:linear-gradient(#a00 24px,#f10100 43.5px,#ff0d00 47.5px,#ff4d00 61.5px,#fcbc00 79.5px,#eae500 87.5px,#c7f600 95.5px,#bcfa00 97.5px,#acfe00 99.5px,#9eff05 101.5px,#90ff10 103.5px,#7eff22 105.5px,#47ff4a 109.5px,#19ff5b 111.5px,#00ff68 113.5px,#00fd91 121.5px,#00f6dd 133.5px,#00eef6 137.5px,#00deff 141.5px,#00d7ff 143.5px,#0065ff 169.5px,#009dff 217.5px,#0df 307.5px,#00f0f5 337.5px,#00f6de 357.5px,#00ff72 445.5px,#00ff64 461.5px,#48ff4a 477.5px,#74ff2b 493.5px,#97ff09 513.5px,#a5ff00 527.5px,#bffa00 547.5px,#eae500 607.5px,#ffb500 653.5px,#ffa700 675.5px,#ff9a00 717.5px,#ff8700 799.5px,#ff7c00 871.5px,#ff7000 1043.5px,#f60 1331.5px)"></i>
<i style="left:1736px;width:8px;background:linear-gradient(#a00 24px,#ea0000 41.5px,#fa0500 45.5px,#ff0d00 47.5px,#ff4d00 61.5px,#ffb300 77.5px,#e9e500 87.5px,#c6f700 95.5px,#bafb00 97.5px,#aafe00 99.5px,#9dff06 101.5px,#8eff12 103.5px,#7cff24 105.5px,#40ff4d 109.5px,#12ff5e 111.5px,#00ff69 113.5px,#00fd93 121.5px,#00f6df 133.5px,#00f2ee 135.5px,#00ecf7 137.5px,#0df 141.5px,#0078ff 165.5px,#0062ff 169.5px,#009eff 221.5px,#0df 311.5px,#00f0f5 341.5px,#00f6de 361.5px,#00ff78 445.5px,#00ff65 465.5px,#02ff63 467.5px,#43ff4c 481.5px,#76ff29 499.5px,#95ff0b 517.5px,#a6ff00 533.5px,#befa00 551.5px,#ebe400 613.5px,#ffb600 661.5px,#ffa900 685.5px,#ff9c00 729.5px,#ff8a00 807.5px,#ff7f00 879.5px,#ff7300 1045.5px,#ff6900 1331.5px)"></i>
<i style="left:1744px;width:8px;background:linear-gradient(#a00 24px,#eb0000 41.5px,#fb0600 45.5px,#ff0e00 47.5px,#ff4e00 61.5px,#ffb400 77.5px,#e8e600 87.5px,#c5f700 95.5px,#a8fe00 99.5px,#9bff07 101.5px,#79ff27 105.5px,#5cff3c 107.5px,#3aff4f 109.5px,#0bff60 111.5px,#00ff6a 113.5px,#00fd95 121.5px,#00f1f0 135.5px,#00ebf8 137.5px,#00dcff 141.5px,#0076ff 165.5px,#0060ff 169.5px,#009dff 223.5px,#00deff 315.5px,#00f0f5 345.5px,#00f6de 365.5px,#00fe7d 445.5px,#00ff64 471.5px,#47ff4b 487.5px,#78ff28 505.5px,#96ff0a 523.5px,#a4ff00 537.5px,#bffa00 557.5px,#eae400 617.5px,#f8c600 649.5px,#ffb600 671.5px,#fa0 699.5px,#ff9500 779.5px,#ff8300 883.5px,#f70 1043.5px,#ff6c00 1331.5px)"></i>
<i style="left:1752px;width:8px;background:linear-gradient(#a00 24px,#eb0000 41.5px,#fb0600 45.5px,#ff0e00 47.5px,#ff4f00 61.5px,#ffb500 77.5px,#edde00 85.5px,#d7f000 91.5px,#c3f800 95.5px,#a6ff00 99.5px,#9aff08 101.5px,#76ff29 105.5px,#58ff3f 107.5px,#33ff52 109.5px,#04ff63 111.5px,#00ff6b 113.5px,#00fe8b 119.5px,#00f7d7 131.5px,#00f1f2 135.5px,#00daff 141.5px,#0075ff 165.5px,#025eff 169.5px,#009dff 227.5px,#00deff 319.5px,#00f0f5 349.5px,#00f6de 369.5px,#00fe82 445.5px,#00ff70 461.5px,#00ff65 475.5px,#02ff63 477.5px,#49ff49 493.5px,#74ff2a 509.5px,#97ff0a 529.5px,#a5ff00 543.5px,#befa00 561.5px,#ebe400 623.5px,#f8c700 655.5px,#ffb600 683.5px,#ffac00 711.5px,#ff9600 797.5px,#ff8500 893.5px,#ff7a00 1043.5px,#ff6f00 1331.5px)"></i>
<i style="left:1760px;width:8px;background:linear-gradient(#a00 24px,#eb0000 41.5px,#fc0600 45.5px,#ff0f00 47.5px,#ff5000 61.5px,#ffb600 77.5px,#eddf00 85.5px,#d6f000 91.5px,#c2f800 95.5px,#a4ff01 99.5px,#98ff09 101.5px,#72ff2c 105.5px,#53ff42 107.5px,#00ff64 111.5px,#00fd8d 119.5px,#00f7d8 131.5px,#00f0f5 135.5px,#00d9ff 141.5px,#0074ff 165.5px,#055bff 169.5px,#0060ff 175.5px,#009eff 231.5px,#00beff 273.5px,#0df 321.5px,#00f0f5 353.5px,#00f6de 373.5px,#00fe85 447.5px,#00ff71 465.5px,#00ff64 481.5px,#06ff62 483.5px,#46ff4b 497.5px,#77ff29 515.5px,#95ff0b 533.5px,#a6ff00 549.5px,#befa00 567.5px,#ebe400 627.5px,#f7c800 661.5px,#ffb600 697.5px,#ff9700 811.5px,#f80 907.5px,#ff7d00 1045.5px,#ff7300 1331.5px)"></i>
<i style="left:1768px;width:8px;background:linear-gradient(#a00 24px,#eb0000 41.5px,#fc0700 45.5px,#ff5100 61.5px,#ffab00 75.5px,#ffb700 77.5px,#ede000 85.5px,#e6e700 87.5px,#c1f900 95.5px,#a3ff01 99.5px,#96ff0a 101.5px,#6eff2f 105.5px,#4fff45 107.5px,#0f6 111.5px,#00fd8e 119.5px,#00f6da 131.5px,#00eff6 135.5px,#00d8ff 141.5px,#0073ff 165.5px,#0064ff 167.5px,#0859ff 169.5px,#005fff 177.5px,#009dff 233.5px,#00beff 277.5px,#0df 325.5px,#00f0f5 357.5px,#00f6dc 379.5px,#00fe88 449.5px,#00ff70 471.5px,#00ff65 485.5px,#02ff63 487.5px,#48ff49 503.5px,#79ff27 521.5px,#96ff0a 539.5px,#a4ff00 553.5px,#bffa00 573.5px,#ebe300 633.5px,#f9c500 675.5px,#ffb600 715.5px,#f90 821.5px,#ff8a00 919.5px,#ff8000 1047.5px,#ff7600 1331.5px)"></i>
<i style="left:1776px;width:8px;background:linear-gradient(#a00 24px,#ec0000 41.5px,#fd0700 45.5px,#ff5200 61.5px,#feb800 77.5px,#ece100 85.5px,#d4f100 91.5px,#c0f900 95.5px,#b1fd00 97.5px,#a1ff02 99.5px,#94ff0c 101.5px,#82ff1e 103.5px,#6aff32 105.5px,#4bff48 107.5px,#1fff59 109.5px,#00ff67 111.5px,#00fd90 119.5px,#00f6dc 131.5px,#00eef6 135.5px,#00dfff 139.5px,#00d6ff 141.5px,#007aff 163.5px,#0071ff 165.5px,#0062ff 167.5px,#0b57ff 169.5px,#005fff 179.5px,#009dff 237.5px,#00bfff 281.5px,#00deff 329.5px,#00f0f5 361.5px,#00f6dc 383.5px,#00fe88 453.5px,#00ff71 475.5px,#00ff64 491.5px,#45ff4b 507.5px,#76ff2a 525.5px,#97ff09 545.5px,#a5ff00 559.5px,#befa00 577.5px,#ebe400 637.5px,#f7c900 677.5px,#ffb600 733.5px,#ff9b00 829.5px,#ff8c00 931.5px,#ff8400 1047.5px,#ff7900 1331.5px)"></i>
<i style="left:1784px;width:8px;background:linear-gradient(#a00 24px,#ec0000 41.5px,#fd0700 45.5px,#ff5300 61.5px,#ffad00 75.5px,#feb900 77.5px,#ece200 85.5px,#e4e800 87.5px,#bffa00 95.5px,#a0ff03 99.5px,#92ff0e 101.5px,#7fff21 103.5px,#66ff35 105.5px,#47ff4a 107.5px,#18ff5b 109.5px,#00ff68 111.5px,#00fd92 119.5px,#00f6de 131.5px,#00edf7 135.5px,#0df 139.5px,#0079ff 163.5px,#0060ff 167.5px,#0d54ff 169.5px,#0061ff 183.5px,#009dff 241.5px,#00beff 283.5px,#00deff 333.5px,#00f0f5 365.5px,#00f6dd 387.5px,#00fe89 457.5px,#00ff6f 481.5px,#00ff65 495.5px,#03ff63 497.5px,#48ff4a 513.5px,#78ff28 531.5px,#95ff0b 549.5px,#a6ff00 565.5px,#bffa00 583.5px,#ebe400 643.5px,#f6ca00 685.5px,#ffb600 751.5px,#ff9d00 837.5px,#ff8f00 943.5px,#ff8700 1051.5px,#ff7d00 1331.5px)"></i>
<i style="left:1792px;width:8px;background:linear-gradient(#a00 24px,#ec0000 41.5px,#fe0700 45.5px,#f10 47.5px,#ff5400 61.5px,#fdba00 77.5px,#ebe300 85.5px,#befa00 95.5px,#adfd00 97.5px,#9eff04 99.5px,#90ff10 101.5px,#7dff23 103.5px,#61ff38 105.5px,#41ff4d 107.5px,#12ff5e 109.5px,#00ff69 111.5px,#00fd93 119.5px,#00f2ef 133.5px,#00ecf7 135.5px,#00dcff 139.5px,#0078ff 163.5px,#006dff 165.5px,#025eff 167.5px,#1052ff 169.5px,#0060ff 185.5px,#009fff 247.5px,#00beff 287.5px,#00deff 337.5px,#00f0f5 369.5px,#00f6dd 391.5px,#00fe8a 461.5px,#00ff70 485.5px,#00ff64 501.5px,#45ff4b 517.5px,#75ff2a 535.5px,#96ff0a 555.5px,#a5ff00 569.5px,#befa00 587.5px,#d7f000 617.5px,#ebe300 649.5px,#f4ce00 687.5px,#ffb600 767.5px,#ff9e00 855.5px,#ff9100 957.5px,#ff8100 1331.5px)"></i>
<i style="left:1800px;width:8px;background:linear-gradient(#a00 24px,#ed0000 41.5px,#fe0800 45.5px,#f10 47.5px,#f50 61.5px,#fdbb00 77.5px,#ebe400 85.5px,#daee00 89.5px,#bcfa00 95.5px,#abfe00 97.5px,#9dff05 99.5px,#8dff13 101.5px,#7bff25 103.5px,#5dff3b 105.5px,#3aff4f 107.5px,#0bff60 109.5px,#00ff6a 111.5px,#00fd95 119.5px,#00f7d5 129.5px,#00f1f1 133.5px,#00eaf8 135.5px,#00dbff 139.5px,#07f 163.5px,#006bff 165.5px,#045cff 167.5px,#1350ff 169.5px,#0060ff 187.5px,#0095ff 239.5px,#00bdff 289.5px,#00deff 341.5px,#00f0f5 373.5px,#00f6dd 395.5px,#00fe8a 465.5px,#00ff71 489.5px,#00ff65 505.5px,#04ff63 507.5px,#48ff4a 523.5px,#77ff28 541.5px,#95ff0b 559.5px,#a5ff00 575.5px,#bffa00 593.5px,#d7f000 623.5px,#ebe300 655.5px,#f3d200 691.5px,#ffb600 781.5px,#ffa100 857.5px,#ff9200 977.5px,#ff8400 1331.5px)"></i>
<i style="left:1808px;width:8px;background:linear-gradient(#a00 24px,#ed0000 41.5px,#ff0800 45.5px,#ff4a00 59.5px,#ffb100 75.5px,#eae500 85.5px,#c6f700 93.5px,#bafb00 95.5px,#a9fe00 97.5px,#9bff06 99.5px,#78ff28 103.5px,#59ff3e 105.5px,#34ff52 107.5px,#05ff62 109.5px,#00ff6b 111.5px,#00fd97 119.5px,#00f7d6 129.5px,#00f1f3 133.5px,#00daff 139.5px,#0076ff 163.5px,#0068ff 165.5px,#0759ff 167.5px,#164eff 169.5px,#005fff 189.5px,#0095ff 243.5px,#00bdff 293.5px,#00deff 345.5px,#00f0f5 377.5px,#00f6dd 399.5px,#00fe8b 469.5px,#00ff70 495.5px,#00ff64 511.5px,#45ff4b 527.5px,#74ff2b 545.5px,#96ff0a 565.5px,#a6ff00 581.5px,#bffa00 599.5px,#d8f000 629.5px,#ebe400 661.5px,#f1d500 695.5px,#ffb600 797.5px,#ffa400 859.5px,#ff9500 979.5px,#f80 1331.5px)"></i>
<i style="left:1816px;width:8px;background:linear-gradient(#a00 24px,#ed0000 41.5px,#ff0800 45.5px,#ff4b00 59.5px,#ffb200 75.5px,#e9e500 85.5px,#c5f700 93.5px,#a7ff00 97.5px,#9aff07 99.5px,#75ff2a 103.5px,#55ff41 105.5px,#2dff54 107.5px,#00ff64 109.5px,#00fd8c 117.5px,#00f7d8 129.5px,#00f0f5 133.5px,#00d9ff 139.5px,#0074ff 163.5px,#06f 165.5px,#0a57ff 167.5px,#184bff 169.5px,#0060ff 193.5px,#0095ff 247.5px,#00bdff 297.5px,#0df 347.5px,#00f0f5 381.5px,#00f6de 403.5px,#00fe8b 473.5px,#00ff70 499.5px,#00ff65 515.5px,#05ff62 517.5px,#48ff4a 533.5px,#76ff29 551.5px,#97ff0a 571.5px,#a5ff00 585.5px,#befa00 603.5px,#caf500 617.5px,#d8f000 635.5px,#ebe400 671.5px,#ffb600 811.5px,#ffa700 865.5px,#ff9800 987.5px,#ff8c00 1331.5px)"></i>
<i style="left:1824px;width:8px;background:linear-gradient(#a00 24px,#e00 41.5px,#ff0900 45.5px,#ff4b00 59.5px,#ffb300 75.5px,#e9e500 85.5px,#c4f800 93.5px,#a5ff00 97.5px,#99ff08 99.5px,#71ff2d 103.5px,#51ff43 105.5px,#00ff65 109.5px,#00fd8e 117.5px,#00f6da 129.5px,#00eff5 133.5px,#00d7ff 139.5px,#0073ff 163.5px,#0064ff 165.5px,#1a4afe 169.5px,#164dff 175.5px,#0060ff 195.5px,#0095ff 251.5px,#00beff 301.5px,#0df 351.5px,#00f0f5 385.5px,#00f6de 407.5px,#00fe8c 477.5px,#00ff71 503.5px,#00ff65 519.5px,#01ff64 521.5px,#44ff4c 537.5px,#78ff28 557.5px,#95ff0b 575.5px,#a6ff00 591.5px,#bffa00 609.5px,#cdf400 627.5px,#dbee00 647.5px,#eae500 679.5px,#ffb600 825.5px,#fa0 871.5px,#ff9b00 995.5px,#ff9000 1331.5px)"></i>
<i style="left:1832px;width:8px;background:linear-gradient(#a00 24px,#e00 41.5px,#ff0900 45.5px,#ff4c00 59.5px,#ffb400 75.5px,#e8e600 85.5px,#c3f800 93.5px,#a4ff01 97.5px,#97ff09 99.5px,#84ff1c 101.5px,#6dff30 103.5px,#4dff46 105.5px,#21ff58 107.5px,#0f6 109.5px,#00fd8f 117.5px,#00f6db 129.5px,#00eef6 133.5px,#00dfff 137.5px,#00d6ff 139.5px,#007aff 161.5px,#0071ff 163.5px,#0062ff 165.5px,#1a49fe 169.5px,#194bff 175.5px,#005fff 197.5px,#0093ff 253.5px,#00beff 305.5px,#00deff 357.5px,#00f0f5 389.5px,#00f6de 411.5px,#00fe8c 481.5px,#00ff70 509.5px,#00ff64 525.5px,#47ff4a 543.5px,#75ff2a 561.5px,#96ff0a 581.5px,#a7ff00 597.5px,#bdfa00 613.5px,#c9f600 627.5px,#d7f000 647.5px,#e6e700 681.5px,#ffb600 841.5px,#fa0 891.5px,#ff9d00 1005.5px,#ff9300 1331.5px)"></i>
<i style="left:1840px;width:8px;background:linear-gradient(#a00 24px,#e00 41.5px,#ff0a00 45.5px,#ff4d00 59.5px,#ffb500 75.5px,#edde00 83.5px,#dfeb00 87.5px,#c2f800 93.5px,#a3ff02 97.5px,#95ff0b 99.5px,#82ff1e 101.5px,#69ff33 103.5px,#49ff49 105.5px,#1bff5a 107.5px,#00ff67 109.5px,#00fd90 117.5px,#00f6dd 129.5px,#00edf7 133.5px,#00deff 137.5px,#0079ff 161.5px,#006fff 163.5px,#0060ff 165.5px,#1151ff 167.5px,#1b47fd 169.5px,#194bff 177.5px,#0060ff 201.5px,#00beff 309.5px,#00deff 361.5px,#00f0f5 393.5px,#00f6de 415.5px,#00fd8c 485.5px,#00ff70 513.5px,#00ff65 529.5px,#02ff63 531.5px,#43ff4c 547.5px,#77ff29 567.5px,#97ff09 587.5px,#a5ff00 601.5px,#bff900 621.5px,#d7f000 655.5px,#e1ea00 679.5px,#ebe400 711.5px,#ffb600 853.5px,#fa0 919.5px,#ffa000 1013.5px,#ff9700 1331.5px)"></i>
<i style="left:1848px;width:8px;background:linear-gradient(#a00 24px,#e00 41.5px,#ff0a00 45.5px,#ff4d00 59.5px,#ffb600 75.5px,#eddf00 83.5px,#deec00 87.5px,#c1f900 93.5px,#a1ff03 97.5px,#93ff0d 99.5px,#80ff20 101.5px,#65ff36 103.5px,#44ff4c 105.5px,#15ff5c 107.5px,#00ff68 109.5px,#00fd92 117.5px,#00f6de 129.5px,#00ecf7 133.5px,#0df 137.5px,#0078ff 161.5px,#015eff 165.5px,#144fff 167.5px,#1c46fc 169.5px,#194bff 179.5px,#0060ff 203.5px,#00beff 313.5px,#00deff 365.5px,#00f0f5 397.5px,#00f6de 419.5px,#00fd8c 489.5px,#00ff71 517.5px,#00ff64 535.5px,#46ff4b 553.5px,#79ff27 573.5px,#95ff0b 591.5px,#a6ff00 607.5px,#befa00 625.5px,#dced00 675.5px,#ebe400 727.5px,#ffb700 861.5px,#ffa300 1019.5px,#ff9b00 1331.5px)"></i>
<i style="left:1856px;width:8px;background:linear-gradient(#a00 24px,#ef0000 41.5px,#f70400 43.5px,#ff0b00 45.5px,#ff4e00 59.5px,#ffab00 73.5px,#ffb700 75.5px,#ede000 83.5px,#e6e700 85.5px,#c0f900 93.5px,#a0ff03 97.5px,#91ff0f 99.5px,#7eff22 101.5px,#61ff38 103.5px,#3eff4e 105.5px,#10ff5e 107.5px,#00ff69 109.5px,#00fd93 117.5px,#00f6df 129.5px,#00f2ef 131.5px,#00ebf8 133.5px,#00dcff 137.5px,#07f 161.5px,#006bff 163.5px,#035cff 165.5px,#164dff 167.5px,#1c45fc 169.5px,#184cff 183.5px,#005fff 205.5px,#00beff 317.5px,#00deff 369.5px,#00eff5 401.5px,#00f6de 423.5px,#00fd8d 493.5px,#00ff71 521.5px,#00ff65 539.5px,#03ff63 541.5px,#48ff49 559.5px,#76ff2a 577.5px,#96ff0a 597.5px,#a4ff00 611.5px,#befa00 631.5px,#d7f000 673.5px,#ebe400 743.5px,#fdba00 863.5px,#ffa600 1021.5px,#ff9f00 1331.5px)"></i>
<i style="left:1864px;width:8px;background:linear-gradient(#a00 24px,#ef0000 41.5px,#f80400 43.5px,#ff0b00 45.5px,#ff4e00 59.5px,#feb800 75.5px,#ece100 83.5px,#d4f100 89.5px,#bffa00 93.5px,#9eff04 97.5px,#8fff11 99.5px,#7bff25 101.5px,#5dff3b 103.5px,#38ff50 105.5px,#0aff60 107.5px,#00ff6a 109.5px,#00fd95 117.5px,#00f1f0 131.5px,#00ebf8 133.5px,#00dbff 137.5px,#0076ff 161.5px,#0069ff 163.5px,#065aff 165.5px,#184cff 167.5px,#1d43fb 169.5px,#184cff 185.5px,#0060ff 209.5px,#00bfff 323.5px,#00deff 373.5px,#00eff5 405.5px,#00f6de 427.5px,#00fd8d 497.5px,#00ff70 527.5px,#00ff64 545.5px,#45ff4b 563.5px,#78ff28 583.5px,#94ff0c 601.5px,#a5ff00 617.5px,#befa00 637.5px,#ccf500 659.5px,#d7f000 687.5px,#ebe400 759.5px,#fcbd00 863.5px,#ffa900 1025.5px,#ffa200 1331.5px)"></i>
<i style="left:1872px;width:8px;background:linear-gradient(#a00 24px,#ef0000 41.5px,#f80400 43.5px,#ff0c00 45.5px,#ff4f00 59.5px,#feb900 75.5px,#ece200 83.5px,#d3f200 89.5px,#befa00 93.5px,#acfe00 95.5px,#9dff05 97.5px,#8dff13 99.5px,#79ff27 101.5px,#59ff3e 103.5px,#32ff52 105.5px,#04ff62 107.5px,#00ff6b 109.5px,#00fd96 117.5px,#00f7d5 127.5px,#00f1f2 131.5px,#00daff 137.5px,#0075ff 161.5px,#0067ff 163.5px,#0858ff 165.5px,#194aff 167.5px,#1d42fb 169.5px,#194bff 187.5px,#005fff 211.5px,#00bfff 327.5px,#00deff 377.5px,#00eff5 409.5px,#00f6de 431.5px,#00fd8d 501.5px,#00ff70 531.5px,#00ff65 549.5px,#03ff63 551.5px,#47ff4a 569.5px,#79ff27 589.5px,#96ff0a 607.5px,#a6ff00 623.5px,#c1f900 647.5px,#d7f000 703.5px,#ebe400 773.5px,#fbc000 865.5px,#ffac00 1037.5px,#ffa600 1331.5px)"></i>
<i style="left:1880px;width:8px;background:linear-gradient(#a00 24px,#f00000 41.5px,#ff0c00 45.5px,#ff5000 59.5px,#fdba00 75.5px,#ece200 83.5px,#e4e800 85.5px,#bcfa00 93.5px,#aafe00 95.5px,#9cff06 97.5px,#76ff29 101.5px,#55ff41 103.5px,#00ff64 107.5px,#00ff75 111.5px,#00fd97 117.5px,#00f7d6 127.5px,#00f1f3 131.5px,#00d9ff 137.5px,#0074ff 161.5px,#0065ff 163.5px,#0a57ff 165.5px,#1a49fe 167.5px,#1e41fa 169.5px,#194bff 189.5px,#0060ff 215.5px,#00beff 331.5px,#00dfff 383.5px,#00f0f4 415.5px,#00fca9 481.5px,#00fe7e 521.5px,#00ff64 555.5px,#49ff49 575.5px,#76ff29 593.5px,#97ff09 613.5px,#a5ff00 627.5px,#befa00 651.5px,#ebe400 783.5px,#f9c300 865.5px,#fcbd00 907.5px,#ffae00 1057.5px,#ffa900 1331.5px)"></i>
<i style="left:1888px;width:8px;background:linear-gradient(#a00 24px,#f00000 41.5px,#f90500 43.5px,#ff0d00 45.5px,#ff5100 59.5px,#ffaf00 73.5px,#ebe300 83.5px,#c7f700 91.5px,#bbfb00 93.5px,#a9fe00 95.5px,#9bff07 97.5px,#73ff2c 101.5px,#51ff43 103.5px,#00ff65 107.5px,#00fd8c 115.5px,#00f7d7 127.5px,#00f0f4 131.5px,#00d8ff 137.5px,#0072ff 161.5px,#0064ff 163.5px,#1b48fd 167.5px,#1f40f9 169.5px,#194bff 191.5px,#0060ff 217.5px,#00beff 335.5px,#00dfff 387.5px,#00f0f5 417.5px,#00fca8 485.5px,#00fe85 517.5px,#00ff70 541.5px,#00ff65 559.5px,#02ff63 561.5px,#47ff4b 579.5px,#79ff27 599.5px,#96ff0a 617.5px,#a4ff01 631.5px,#b0fd00 643.5px,#befa00 665.5px,#ebe400 791.5px,#f8c600 865.5px,#fac200 893.5px,#ffb100 1067.5px,#ffac00 1331.5px)"></i>
<i style="left:1896px;width:25px;background:linear-gradient(#a00 24px,#f00000 41.5px,#f90500 43.5px,#ff0d00 45.5px,#ff5100 59.5px,#ffb000 73.5px,#ebe300 83.5px,#c6f700 91.5px,#bafb00 93.5px,#a8fe00 95.5px,#9aff07 97.5px,#71ff2d 101.5px,#50ff44 103.5px,#00ff65 107.5px,#00fd8d 115.5px,#00f7d7 127.5px,#00f0f4 131.5px,#00d8ff 137.5px,#0072ff 161.5px,#0063ff 163.5px,#1b47fd 167.5px,#1f40f9 169.5px,#184bff 193.5px,#005fff 217.5px,#00bfff 337.5px,#00deff 387.5px,#00f0f5 419.5px,#00fca7 487.5px,#00fe87 517.5px,#00ff70 543.5px,#00ff65 561.5px,#04ff63 563.5px,#47ff4a 581.5px,#75ff2a 599.5px,#97ff0a 619.5px,#a4ff01 633.5px,#befa00 669.5px,#ebe400 795.5px,#f7c700 865.5px,#f9c300 887.5px,#ffb200 1069.5px,#ffad00 1331.5px)"></i>
</div></div>
<div class="cb" style="left:2247px;top:50px;width:59px;height:1320px;background:linear-gradient(#800 0%,#b90000 5%,#f00000 10.5%,#ff0800 12%,#ff2300 15%,#ff4e00 20%,#ff8200 25%,#ffb600 30%,#f5cd00 32.5%,#ebe400 35%,#d7f000 37.5%,#befa00 40%,#a5ff00 41.5%,#96ff0a 43%,#78ff28 45%,#46ff4b 47%,#00ff64 48.5%,#00ff70 50%,#00fca8 55%,#00f6de 60%,#00f0f5 62%,#00deff 65%,#00beff 70%,#0098ff 75%,#0073ff 80%,#005fff 82%,#194bff 84%,#2337f5 87%,#232ae4 90%,#1b1baf 95%,#141487 100%)"></div>
<div class="heat" style="left:260px;top:1597px;width:1866px;height:1296px"><div class="hb" style="left:-24px;top:-24px;width:1914px;height:1344px">
<i style="left:0px;width:32px;background:linear-gradient(#a00 24px,#ed0000 48px,#fa0500 52px,#ff0c00 54px,#ff4b00 68px,#ffb400 84px,#ece100 94px,#e6e700 96px,#c3f800 104px,#a7ff00 108px,#a0ff03 110px,#95ff0b 114px,#7dff23 120px,#4aff48 128px,#1eff59 130px,#00ff69 132px,#00ff74 134px,#00f7d6 148px,#00f5e1 150px,#00f0f5 156px,#00e4fc 168px,#00f0f5 182px,#00f7d9 196px,#00fc9f 220px,#0f6 236px,#14ff5d 238px,#46ff4b 242px,#68ff33 250px,#7aff26 256px,#95ff0b 270px,#a7ff00 284px,#bff900 298px,#ebe400 342px,#ffb700 370px,#f40 424px,#ff0900 466px,#f50200 480px,#c00 642px,#c00000 710px,#b90000 896px,#b00 1320px)"></i>
<i style="left:32px;width:8px;background:linear-gradient(#a00 24px,#ed0000 48px,#fa0500 52px,#ff0c00 54px,#ff4b00 68px,#ffb400 84px,#ece100 94px,#e6e700 96px,#c3f800 104px,#a7ff00 108px,#a0ff03 110px,#95ff0b 114px,#7cff24 120px,#49ff49 128px,#1aff5b 130px,#00ff69 132px,#00ff75 134px,#00f7d7 148px,#00f5e1 150px,#00f0f5 156px,#00e4fc 168px,#00eff5 182px,#00f7d6 198px,#00fd9d 222px,#00ff65 238px,#34ff52 242px,#48ff4a 244px,#63ff37 250px,#77ff29 256px,#96ff0a 272px,#a5ff00 284px,#bffa00 298px,#ebe400 342px,#feb800 370px,#ff4f00 420px,#ff3e00 430px,#ff0800 472px,#f30100 488px,#d40000 588px,#bd0000 636px,#b20000 670px,#a00 702px,#ab0000 726px,#a50000 752px,#a50000 884px,#af0000 960px,#bd0000 1320px)"></i>
<i style="left:40px;width:8px;background:linear-gradient(#a00 24px,#ed0000 48px,#fa0500 52px,#ff0c00 54px,#ff4b00 68px,#ffb400 84px,#ece100 94px,#e6e700 96px,#c3f800 104px,#a7ff00 108px,#a0ff03 110px,#95ff0b 114px,#7cff24 120px,#48ff4a 128px,#15ff5c 130px,#00ff6a 132px,#00f7d7 148px,#00f5e1 150px,#00f0f5 156px,#00e4fc 168px,#00f0f3 184px,#00f7d8 198px,#00fca1 222px,#00ff64 240px,#36ff51 244px,#49ff49 246px,#64ff36 252px,#78ff28 258px,#94ff0c 272px,#a7ff00 286px,#befa00 298px,#ebe400 342px,#ffb500 372px,#ff5000 422px,#ff3d00 434px,#ff0a00 476px,#f20100 494px,#d50000 584px,#ba0000 636px,#a60000 694px,#a50000 724px,#9a0000 764px,#9a0000 868px,#ab0000 972px,#af0000 1080px,#ba0000 1174px,#bf0000 1320px)"></i>
<i style="left:48px;width:8px;background:linear-gradient(#a00 24px,#ed0000 48px,#fa0500 52px,#ff0c00 54px,#ff4b00 68px,#ffb400 84px,#ece100 94px,#e6e700 96px,#c3f800 104px,#a7ff00 108px,#a0ff03 110px,#95ff0b 114px,#7cff24 120px,#46ff4b 128px,#11ff5e 130px,#00ff6b 132px,#00fd91 138px,#00f7d8 148px,#00f5e2 150px,#00f0f5 156px,#00e4fc 168px,#00f0f4 184px,#00f7d9 198px,#00fca0 224px,#00ff69 240px,#03ff63 242px,#39ff50 246px,#4aff48 248px,#6cff30 256px,#79ff27 260px,#95ff0b 274px,#a5ff00 286px,#bffa00 300px,#eae500 342px,#ffb700 372px,#ff4e00 426px,#ff3f00 436px,#ff0900 482px,#f20100 500px,#d60000 582px,#b70000 648px,#920000 770px,#920000 858px,#a90000 984px,#ad0000 1068px,#bc0000 1184px,#c10000 1320px)"></i>
<i style="left:56px;width:8px;background:linear-gradient(#a00 24px,#ed0000 48px,#fa0500 52px,#ff0c00 54px,#ff4b00 68px,#ffb400 84px,#ece100 94px,#e6e700 96px,#c3f800 104px,#a7ff00 108px,#a0ff03 110px,#94ff0c 114px,#7bff25 120px,#53ff42 126px,#43ff4c 128px,#0cff60 130px,#00ff6b 132px,#00fd91 138px,#00f7d8 148px,#00f5e2 150px,#00f0f5 156px,#00e4fc 168px,#00f0f5 184px,#00f7d7 200px,#00fd9e 226px,#00ff68 242px,#06ff62 244px,#3bff4f 248px,#4bff47 250px,#6dff30 258px,#7aff26 262px,#96ff0a 276px,#a7ff00 288px,#befa00 300px,#eae500 342px,#ffb500 374px,#ff4f00 428px,#ff3e00 440px,#ff0900 488px,#f20100 506px,#d70000 580px,#b80000 648px,#900000 772px,#8f0000 858px,#a60000 990px,#ab0000 1058px,#b80000 1132px,#c20000 1320px)"></i>
<i style="left:64px;width:8px;background:linear-gradient(#a00 24px,#ed0000 48px,#fa0500 52px,#ff0c00 54px,#ff4b00 68px,#ffb400 84px,#ece100 94px,#e6e700 96px,#c3f800 104px,#a7ff00 108px,#a0ff03 110px,#94ff0c 114px,#7bff25 120px,#52ff43 126px,#3eff4e 128px,#08ff61 130px,#00ff6c 132px,#00fd92 138px,#00f7d9 148px,#00f5e2 150px,#00f0f5 156px,#00e4fc 168px,#00f0f5 184px,#00f7d9 200px,#00fd9d 228px,#00ff68 244px,#09ff61 246px,#3dff4e 250px,#4cff47 252px,#67ff34 258px,#7bff25 264px,#94ff0c 276px,#a5ff00 288px,#bffa00 302px,#ebe400 344px,#ffb700 374px,#ff4e00 432px,#ff3f00 442px,#ff0800 494px,#f20100 512px,#b80000 650px,#920000 772px,#8e0000 864px,#b70000 1130px,#c10000 1320px)"></i>
<i style="left:72px;width:8px;background:linear-gradient(#a00 24px,#ed0000 48px,#fa0500 52px,#ff0c00 54px,#ff4b00 68px,#ffb400 84px,#ece100 94px,#e6e700 96px,#c3f800 104px,#a7ff00 108px,#a0ff03 110px,#94ff0c 114px,#7aff26 120px,#51ff43 126px,#39ff50 128px,#04ff63 130px,#00ff78 134px,#00f7d9 148px,#00f5e2 150px,#00f0f5 156px,#00e4fc 168px,#00eff5 184px,#00f7d7 202px,#00fd9c 230px,#00ff67 246px,#0bff60 248px,#3eff4e 252px,#4dff46 254px,#68ff33 260px,#77ff29 264px,#95ff0b 278px,#a6ff00 290px,#befa00 302px,#eae500 344px,#ffb500 376px,#ff4f00 434px,#ff3f00 446px,#ff0900 498px,#f20100 516px,#bc0000 644px,#a50000 712px,#950000 768px,#8e0000 858px,#b40000 1128px,#be0000 1320px)"></i>
<i style="left:80px;width:8px;background:linear-gradient(#a00 24px,#ed0000 48px,#fa0500 52px,#ff0c00 54px,#ff4b00 68px,#ffb400 84px,#ece100 94px,#e6e700 96px,#c3f800 104px,#a7ff00 108px,#a0ff03 110px,#94ff0c 114px,#7aff26 120px,#4fff44 126px,#34ff51 128px,#00ff64 130px,#00ff79 134px,#00f6da 148px,#00f5e2 150px,#00f0f4 156px,#00e4fc 168px,#00f0f4 186px,#00f7d8 202px,#00fd9b 232px,#00ff67 248px,#0eff5f 250px,#40ff4d 254px,#58ff3f 258px,#70ff2d 264px,#78ff28 266px,#96ff0a 280px,#a7ff00 292px,#bffa00 304px,#ebe300 346px,#feb700 376px,#ff4e00 438px,#ff4000 448px,#ff0800 504px,#f20100 522px,#c10000 634px,#a90000 704px,#980000 768px,#8e0000 864px,#ae0000 1128px,#b60000 1226px,#b20000 1272px,#b70000 1320px)"></i>
<i style="left:88px;width:8px;background:linear-gradient(#a00 24px,#ed0000 48px,#fa0500 52px,#ff0c00 54px,#ff4b00 68px,#ffb400 84px,#ece100 94px,#e6e700 96px,#c3f800 104px,#a7ff00 108px,#a0ff03 110px,#93ff0d 114px,#79ff27 120px,#4eff45 126px,#2fff53 128px,#00ff65 130px,#00fe7a 134px,#00f6da 148px,#00f5e2 150px,#00f0f5 156px,#00e4fc 168px,#00f0f5 186px,#00f7d7 204px,#00fd9e 232px,#0f6 250px,#10ff5e 252px,#41ff4d 256px,#4fff45 258px,#69ff32 264px,#78ff28 268px,#97ff09 282px,#a5ff00 292px,#c0f900 306px,#eae400 346px,#ffb600 378px,#ff4f00 440px,#ff3f00 452px,#ff0800 508px,#f10100 528px,#ca0000 614px,#ac0000 696px,#9b0000 768px,#8e0000 868px,#a20000 1020px,#a00000 1072px,#b20000 1224px,#ab0000 1282px,#af0000 1320px)"></i>
<i style="left:96px;width:8px;background:linear-gradient(#a00 24px,#ed0000 48px,#fa0500 52px,#ff0c00 54px,#ff4b00 68px,#ffb400 84px,#ece100 94px,#e6e700 96px,#c3f800 104px,#a7ff00 108px,#a0ff03 110px,#93ff0d 114px,#78ff28 120px,#4dff46 126px,#2aff55 128px,#0f6 130px,#00ff6e 132px,#00fd93 138px,#00f6da 148px,#00f5e3 150px,#00f0f5 156px,#00e4fc 168px,#00f0f5 186px,#00f7d9 204px,#00fd9d 234px,#0f6 252px,#11ff5e 254px,#42ff4c 258px,#59ff3e 262px,#79ff27 270px,#98ff09 284px,#a6ff00 294px,#befa00 306px,#e9e500 346px,#ffb600 380px,#ff4e00 444px,#ff3f00 456px,#ff0900 512px,#f00000 534px,#d10000 598px,#b00000 690px,#9e0000 768px,#8e0000 874px,#a10000 1022px,#9d0000 1086px,#ae0000 1224px,#a40000 1292px,#a50000 1320px)"></i>
<i style="left:104px;width:8px;background:linear-gradient(#a00 24px,#ed0000 48px,#fa0500 52px,#ff0c00 54px,#ff4b00 68px,#ffb400 84px,#ece100 94px,#e6e700 96px,#c3f800 104px,#a7ff00 108px,#a0ff03 110px,#93ff0d 114px,#78ff28 120px,#4bff47 126px,#0f6 130px,#00ff6f 132px,#00fd94 138px,#00f6db 148px,#00f0f5 156px,#00e4fc 168px,#00f0f4 188px,#00f7d7 206px,#00fd9c 236px,#00ff65 254px,#13ff5d 256px,#43ff4c 260px,#59ff3d 264px,#79ff27 272px,#98ff08 286px,#a4ff01 294px,#bff900 308px,#eae400 348px,#ffb500 382px,#ff5000 446px,#ff4000 458px,#ff0900 516px,#f00000 538px,#d40000 594px,#b20000 686px,#a00000 768px,#8e0000 878px,#a00000 1022px,#9a0000 1100px,#a00 1226px,#9d0000 1320px)"></i>
<i style="left:112px;width:8px;background:linear-gradient(#a00 24px,#ed0000 48px,#fa0500 52px,#ff0c00 54px,#ff4b00 68px,#ffb400 84px,#ece100 94px,#e6e700 96px,#c3f800 104px,#a7ff00 108px,#a0ff03 110px,#92ff0e 114px,#77ff29 120px,#4aff48 126px,#20ff58 128px,#00ff67 130px,#00ff70 132px,#00fd95 138px,#00f6db 148px,#00f0f5 156px,#00e3fc 168px,#00f0f5 188px,#00f7d9 206px,#00fd9b 238px,#00ff65 256px,#44ff4c 262px,#50ff44 264px,#7aff26 274px,#96ff0a 286px,#a5ff00 296px,#befa00 308px,#ebe400 350px,#ffb500 384px,#ff4f00 450px,#ff4000 462px,#ff0900 520px,#f00000 542px,#d50000 594px,#b40000 686px,#9f0000 776px,#8e0000 884px,#9f0000 1026px,#970000 1120px,#a60000 1226px,#980000 1320px)"></i>
<i style="left:120px;width:8px;background:linear-gradient(#a00 24px,#ed0000 48px,#fa0500 52px,#ff0c00 54px,#ff4b00 68px,#ffb400 84px,#ece100 94px,#e6e700 96px,#c3f800 104px,#a7ff00 108px,#a0ff04 110px,#92ff0e 114px,#76ff2a 120px,#48ff49 126px,#1cff5a 128px,#00ff68 130px,#00ff70 132px,#00fd95 138px,#00f6dc 148px,#00f0f5 156px,#00e3fc 168px,#00f0f4 190px,#00f6db 206px,#00fd9e 238px,#00ff65 258px,#45ff4b 264px,#50ff44 266px,#7bff25 276px,#97ff0a 288px,#a6ff00 298px,#befa00 310px,#ebe400 352px,#ffb600 386px,#ff5100 452px,#ff4100 464px,#ff0900 524px,#f00000 544px,#d50000 596px,#b60000 684px,#9e0000 784px,#8e0000 888px,#9f0000 1028px,#940000 1132px,#a20000 1226px,#950000 1320px)"></i>
<i style="left:128px;width:8px;background:linear-gradient(#a00 24px,#ed0000 48px,#fa0500 52px,#ff0c00 54px,#ff4b00 68px,#ffb400 84px,#ece100 94px,#e6e700 96px,#c3f800 104px,#a7ff00 108px,#a0ff04 110px,#92ff0e 114px,#75ff2a 120px,#46ff4b 126px,#17ff5c 128px,#00ff68 130px,#00fd96 138px,#00f6dc 148px,#00f0f5 156px,#00e2fd 168px,#00f0f5 190px,#00f5e0 204px,#00fd9d 240px,#00ff64 260px,#45ff4b 266px,#50ff44 268px,#75ff2a 276px,#97ff09 290px,#a7ff00 300px,#bffa00 312px,#ebe400 354px,#ffb400 390px,#ff4f00 456px,#ff4100 468px,#ff0900 528px,#f00000 548px,#d60000 598px,#b80000 684px,#9e0000 788px,#8e0000 894px,#9d0000 1028px,#920000 1130px,#9e0000 1226px,#930000 1320px)"></i>
<i style="left:136px;width:8px;background:linear-gradient(#a00 24px,#ed0000 48px,#fa0500 52px,#ff0c00 54px,#ff4b00 68px,#ffb400 84px,#ece100 94px,#e6e700 96px,#c3f800 104px,#a7ff00 108px,#a0ff04 110px,#91ff0f 114px,#7fff21 118px,#74ff2b 120px,#54ff41 124px,#43ff4c 126px,#12ff5d 128px,#00ff69 130px,#00fd96 138px,#00f6dd 148px,#00f0f5 156px,#00e0fe 168px,#00f0f5 192px,#00f5e3 204px,#00fd9c 242px,#00ff64 262px,#46ff4b 268px,#51ff44 270px,#75ff2a 278px,#94ff0c 290px,#a4ff01 300px,#c0f900 314px,#eae400 356px,#ffb600 392px,#ff4e00 460px,#ff4200 470px,#ff0800 532px,#f00000 552px,#d70000 600px,#b80000 688px,#9f0000 788px,#8e0000 900px,#9c0000 1028px,#910000 1132px,#920000 1170px,#9a0000 1226px,#930000 1276px,#920000 1320px)"></i>
<i style="left:144px;width:8px;background:linear-gradient(#a00 24px,#ed0000 48px,#fa0500 52px,#ff0c00 54px,#ff4b00 68px,#ffb400 84px,#ece100 94px,#e6e700 96px,#c3f800 104px,#a7ff00 108px,#a0ff04 110px,#91ff0f 114px,#7eff22 118px,#72ff2c 120px,#53ff42 124px,#3eff4e 126px,#0eff5f 128px,#00ff6a 130px,#00fd97 138px,#00f6dd 148px,#00eff5 156px,#00dffe 168px,#00f0f4 194px,#00f4e5 204px,#00fc9f 242px,#00ff64 264px,#46ff4b 270px,#51ff44 272px,#76ff2a 280px,#95ff0b 292px,#a5ff00 302px,#bdfa00 314px,#d6f000 336px,#eae500 358px,#ffb400 396px,#ff5000 462px,#ff4200 474px,#ff0800 536px,#f00000 554px,#d70000 604px,#b80000 692px,#a00000 788px,#8f0000 904px,#9b0000 1030px,#910000 1132px,#910000 1182px,#960000 1226px,#910000 1320px)"></i>
<i style="left:152px;width:8px;background:linear-gradient(#a00 24px,#ed0000 48px,#fa0500 52px,#ff0c00 54px,#ff4b00 68px,#ffb400 84px,#ece100 94px,#e6e700 96px,#c3f800 104px,#a7ff00 108px,#9fff04 110px,#91ff0f 114px,#71ff2d 120px,#51ff43 124px,#38ff50 126px,#09ff61 128px,#00ff6b 130px,#00fd97 138px,#00f6de 148px,#00eff6 156px,#0df 168px,#00eff6 194px,#00f4e7 204px,#00fd9e 244px,#00ff64 266px,#45ff4b 272px,#50ff44 274px,#76ff2a 282px,#96ff0a 294px,#a5ff00 304px,#befa00 316px,#d8f000 340px,#ebe400 362px,#ffb700 398px,#ff5300 464px,#ff4300 476px,#ff0900 538px,#f00000 558px,#d70000 608px,#b90000 696px,#a00000 790px,#8f0000 910px,#9a0000 1030px,#900000 1132px,#900000 1320px)"></i>
<i style="left:160px;width:8px;background:linear-gradient(#a00 24px,#ed0000 48px,#fa0500 52px,#ff0c00 54px,#ff4b00 68px,#ffb400 84px,#ece100 94px,#e6e700 96px,#c3f800 104px,#a7ff00 108px,#9fff04 110px,#90ff10 114px,#7dff23 118px,#50ff44 124px,#33ff52 126px,#05ff62 128px,#00ff6b 130px,#00fe8b 136px,#00f6de 148px,#00eff6 156px,#00dcff 168px,#00eff5 196px,#00f1f0 200px,#00fca1 244px,#00ff64 268px,#44ff4c 274px,#50ff44 276px,#76ff29 284px,#96ff0a 296px,#a6ff00 306px,#befa00 318px,#d7f000 342px,#ebe400 366px,#ffb600 402px,#ff6100 458px,#ff4300 480px,#ff0900 542px,#f00000 562px,#d30000 624px,#ba0000 698px,#a20000 784px,#8f0000 914px,#8e0000 936px,#900 1030px,#900000 1132px,#8f0000 1320px)"></i>
<i style="left:168px;width:8px;background:linear-gradient(#a00 24px,#ed0000 48px,#fa0500 52px,#ff0c00 54px,#ff4b00 68px,#ffb400 84px,#ece100 94px,#e6e700 96px,#c3f800 104px,#a7ff00 108px,#9fff04 110px,#90ff10 114px,#7cff24 118px,#4eff45 124px,#2eff53 126px,#00ff64 128px,#00fe8c 136px,#00f6de 148px,#00eef6 156px,#00daff 168px,#00deff 172px,#00f0f5 198px,#00f2ed 204px,#00fca1 246px,#00ff64 270px,#43ff4c 276px,#4fff44 278px,#76ff2a 286px,#96ff0a 298px,#9aff08 300px,#a6ff00 308px,#c0f900 322px,#eae400 368px,#ffb600 406px,#ff6c00 454px,#ff4500 482px,#ff0900 546px,#f00000 566px,#d30000 630px,#a20000 788px,#8f0000 914px,#8e0000 942px,#980000 1030px,#8f0000 1132px,#8f0000 1320px)"></i>
<i style="left:176px;width:8px;background:linear-gradient(#a00 24px,#ed0000 48px,#fa0500 52px,#ff0c00 54px,#ff4b00 68px,#ffb400 84px,#ece100 94px,#e6e700 96px,#c3f800 104px,#a7ff00 108px,#9fff04 110px,#90ff10 114px,#7cff24 118px,#4cff47 124px,#29ff55 126px,#00ff65 128px,#00fd8c 136px,#00f6df 148px,#00eef6 156px,#00d8ff 168px,#0df 174px,#00f0f5 200px,#00f2ef 204px,#00fca0 248px,#00ff64 272px,#42ff4d 278px,#59ff3e 282px,#7cff24 290px,#96ff0a 300px,#9dff05 304px,#a6ff00 310px,#bff900 324px,#ebe400 372px,#ffb500 410px,#ff6f00 456px,#ff4500 486px,#ff0900 550px,#f00000 570px,#d40000 634px,#a20000 792px,#910000 906px,#8e0000 946px,#970000 1030px,#8f0000 1134px,#8e0000 1320px)"></i>
<i style="left:184px;width:8px;background:linear-gradient(#a00 24px,#ed0000 48px,#fa0500 52px,#ff0c00 54px,#ff4b00 68px,#ffb400 84px,#ece100 94px,#e6e700 96px,#c3f800 104px,#a7ff00 108px,#9fff04 110px,#98ff08 112px,#7bff25 118px,#4aff48 124px,#0f6 128px,#00fd8d 136px,#00f6df 148px,#00f0f4 154px,#00deff 164px,#00d7ff 168px,#0df 176px,#00f0f5 202px,#00f2ef 206px,#00fca0 250px,#00ff65 274px,#3fff4d 280px,#4dff46 282px,#62ff38 286px,#7bff25 292px,#96ff0a 302px,#9cff06 306px,#a5ff00 312px,#bffa00 326px,#ebe400 376px,#ffb500 414px,#ff7100 458px,#ff4600 490px,#ff0900 554px,#f00000 574px,#d40000 638px,#a20000 794px,#920000 898px,#8e0000 952px,#960000 1030px,#8e0000 1134px,#8e0000 1320px)"></i>
<i style="left:192px;width:8px;background:linear-gradient(#a00 24px,#ed0000 48px,#fa0500 52px,#ff0c00 54px,#ff4b00 68px,#ffb400 84px,#ece100 94px,#e6e700 96px,#c3f800 104px,#a7ff00 108px,#9fff04 110px,#98ff09 112px,#7aff26 118px,#48ff4a 124px,#1fff59 126px,#0f6 128px,#00fd8e 136px,#00f6df 148px,#00f0f5 154px,#0df 164px,#00d5ff 168px,#0df 178px,#00f0f5 204px,#00f2ec 210px,#00fca1 252px,#0f6 276px,#0fff5f 278px,#3cff4f 282px,#4cff47 284px,#60ff39 288px,#7aff26 294px,#95ff0b 304px,#9cff06 308px,#a5ff00 314px,#befa00 328px,#eae500 378px,#ffb500 418px,#ff7500 460px,#ff4900 492px,#ff0900 558px,#f00000 578px,#d60000 640px,#a20000 798px,#940000 888px,#8e0000 956px,#950000 1030px,#8e0000 1134px,#8d0000 1320px)"></i>
<i style="left:200px;width:8px;background:linear-gradient(#a00 24px,#ed0000 48px,#fa0500 52px,#ff0c00 54px,#ff4b00 68px,#ffb400 84px,#ece100 94px,#e6e700 96px,#c3f800 104px,#a7ff00 108px,#9fff04 110px,#98ff09 112px,#79ff27 118px,#57ff3f 122px,#45ff4c 124px,#19ff5b 126px,#00ff67 128px,#00fd8e 136px,#00f6e0 148px,#00eff5 154px,#00dffe 162px,#00d3ff 168px,#0df 180px,#00f0f5 206px,#00f3e9 214px,#00fd9e 256px,#0f6 278px,#0aff60 280px,#38ff50 284px,#4aff48 286px,#5eff3a 290px,#79ff27 296px,#93ff0d 306px,#9bff07 310px,#a7ff00 318px,#bffa00 332px,#eae500 382px,#ffb500 422px,#ff4d00 494px,#ff0800 564px,#f10000 582px,#d70000 642px,#a20000 800px,#960000 878px,#8e0000 964px,#940000 1030px,#8d0000 1134px,#8d0000 1320px)"></i>
<i style="left:208px;width:8px;background:linear-gradient(#a00 24px,#ed0000 48px,#fa0500 52px,#ff0c00 54px,#ff4b00 68px,#ffb400 84px,#ece100 94px,#e6e700 96px,#c3f800 104px,#a7ff00 108px,#9fff04 110px,#98ff09 112px,#78ff28 118px,#54ff41 122px,#3eff4e 124px,#13ff5d 126px,#00ff68 128px,#00fd8f 136px,#00f5e0 148px,#00eef6 154px,#00deff 162px,#00d1ff 168px,#00deff 184px,#00f0f5 208px,#00f5e3 220px,#00fd9c 260px,#00ff68 280px,#04ff63 282px,#47ff4a 288px,#66ff35 294px,#78ff28 298px,#96ff0a 310px,#99ff08 312px,#a5ff00 320px,#bff900 336px,#eae500 386px,#ffb500 426px,#ff4e00 498px,#ff0900 568px,#f00000 588px,#d80000 646px,#a20000 804px,#980000 868px,#8e0000 970px,#930000 1030px,#8d0000 1130px,#8d0000 1320px)"></i>
<i style="left:216px;width:8px;background:linear-gradient(#a00 24px,#ed0000 48px,#fa0500 52px,#ff0c00 54px,#ff4b00 68px,#ffb400 84px,#ece100 94px,#e6e700 96px,#c3f800 104px,#a7ff00 108px,#9fff04 110px,#97ff09 112px,#76ff29 118px,#52ff43 122px,#37ff50 124px,#0dff5f 126px,#00ff69 128px,#00fd90 136px,#00f5e0 148px,#00eef6 154px,#0df 162px,#00cfff 168px,#00deff 186px,#00f0f5 210px,#00f5e1 224px,#00fd9d 262px,#00ff65 284px,#42ff4c 290px,#59ff3e 294px,#7bff25 302px,#98ff09 314px,#a6ff00 324px,#befa00 338px,#eae500 390px,#ffb500 430px,#ff4e00 504px,#ff0a00 572px,#f10000 592px,#a20000 806px,#9a0000 856px,#8e0000 978px,#920000 1030px,#8d0000 1122px,#8d0000 1320px)"></i>
<i style="left:224px;width:8px;background:linear-gradient(#a00 24px,#ed0000 48px,#fa0500 52px,#ff0c00 54px,#ff4b00 68px,#ffb400 84px,#ece100 94px,#e6e700 96px,#c3f800 104px,#a7ff00 108px,#9eff04 110px,#97ff09 112px,#74ff2b 118px,#4fff45 122px,#30ff53 124px,#06ff62 126px,#00ff6a 128px,#00fd91 136px,#00f7d5 146px,#00f1f2 152px,#00e0fe 160px,#00cdff 168px,#00d2ff 170px,#0df 186px,#00f0f5 212px,#00f5e2 226px,#00fd9b 266px,#0f6 286px,#0cff60 288px,#3bff4f 292px,#4bff47 294px,#5fff39 298px,#79ff27 304px,#99ff08 318px,#a7ff00 328px,#befa00 342px,#ebe400 396px,#ffb500 434px,#ff4d00 510px,#ff0900 578px,#f00000 598px,#a20000 810px,#9c0000 844px,#8e0000 986px,#910000 1030px,#8d0000 1110px,#8d0000 1320px)"></i>
<i style="left:232px;width:8px;background:linear-gradient(#a00 24px,#ed0000 48px,#fa0500 52px,#ff0c00 54px,#ff4b00 68px,#ffb400 84px,#ece100 94px,#e6e700 96px,#c3f800 104px,#a7ff00 108px,#9eff04 110px,#97ff0a 112px,#80ff20 116px,#72ff2c 118px,#4cff47 122px,#2aff55 124px,#00ff64 126px,#00ff73 130px,#00fd92 136px,#00f7d6 146px,#00f0f3 152px,#00deff 160px,#00cbff 168px,#00d1ff 170px,#0df 188px,#00f0f5 214px,#00f6dd 232px,#00fd99 270px,#02ff63 290px,#47ff4a 296px,#52ff43 298px,#76ff2a 306px,#97ff09 320px,#a4ff00 330px,#befa00 346px,#ebe400 400px,#ffb500 438px,#ff4f00 514px,#ff0a00 582px,#f00000 604px,#a20000 812px,#9e0000 832px,#8e0000 994px,#8d0000 1320px)"></i>
<i style="left:240px;width:8px;background:linear-gradient(#a00 24px,#ed0000 48px,#fa0500 52px,#ff0c00 54px,#ff4b00 68px,#ffb400 84px,#ece100 94px,#e6e700 96px,#c3f800 104px,#a7ff00 108px,#9eff05 110px,#96ff0a 112px,#7fff21 116px,#6fff2e 118px,#49ff49 122px,#00ff65 126px,#00ff75 130px,#00fd93 136px,#00f7d6 146px,#00f0f4 152px,#0df 160px,#00c9ff 168px,#00cfff 170px,#0df 190px,#00f0f5 216px,#00f6da 236px,#00fd9b 272px,#00ff65 292px,#12ff5d 294px,#40ff4d 298px,#58ff3f 302px,#79ff27 310px,#98ff09 324px,#a5ff00 334px,#befa00 350px,#eae500 402px,#ffb500 442px,#ff4e00 520px,#ff0900 588px,#f00000 610px,#b70000 768px,#a20000 814px,#9e0000 832px,#8e0000 1002px,#8d0000 1320px)"></i>
<i style="left:248px;width:8px;background:linear-gradient(#a00 24px,#ed0000 48px,#fa0500 52px,#ff0c00 54px,#ff4b00 68px,#ffb400 84px,#ece100 94px,#e6e700 96px,#c3f800 104px,#a7ff00 108px,#9eff05 110px,#96ff0a 112px,#7dff23 116px,#6dff30 118px,#44ff4c 122px,#1cff5a 124px,#0f6 126px,#00ff76 130px,#00fd94 136px,#00f7d7 146px,#00f0f5 152px,#00dcff 160px,#00c7ff 168px,#0cf 170px,#0df 192px,#00f0f5 218px,#00f6db 238px,#00fd9c 274px,#00ff67 294px,#0aff60 296px,#39ff50 300px,#4aff48 302px,#5dff3b 306px,#7bff25 314px,#98ff08 328px,#a5ff00 338px,#befa00 354px,#eae500 406px,#ffb400 446px,#ff4d00 526px,#ff0900 594px,#f00000 616px,#9f0000 832px,#8e0000 1010px,#8d0000 1320px)"></i>
<i style="left:256px;width:8px;background:linear-gradient(#a00 24px,#ed0000 48px,#fa0500 52px,#ff0c00 54px,#ff4b00 68px,#ffb400 84px,#ece100 94px,#e6e700 96px,#c3f800 104px,#a7ff00 108px,#9eff05 110px,#95ff0b 112px,#7cff24 116px,#6aff31 118px,#3eff4e 122px,#15ff5c 124px,#00ff67 126px,#0f7 130px,#00fd95 136px,#00f7d7 146px,#00eff6 152px,#00e0fe 158px,#00c6ff 168px,#00caff 170px,#0df 194px,#00f0f5 220px,#00f6db 240px,#00fd99 278px,#00ff68 296px,#03ff63 298px,#46ff4b 304px,#5aff3d 308px,#79ff27 316px,#96ff0a 330px,#a5ff00 342px,#befa00 358px,#eae400 410px,#ffb600 448px,#ff4e00 530px,#ff0800 600px,#f10000 622px,#ba0000 774px,#9f0000 834px,#8e0000 1018px,#8d0000 1320px)"></i>
<i style="left:264px;width:8px;background:linear-gradient(#a00 24px,#ed0000 48px,#fa0500 52px,#ff0c00 54px,#ff4b00 68px,#ffb400 84px,#ece100 94px,#e6e700 96px,#c3f800 104px,#a7ff00 108px,#9eff05 110px,#94ff0c 112px,#7bff25 116px,#68ff33 118px,#53ff42 120px,#37ff50 122px,#0fff5f 124px,#00ff68 126px,#00fe8c 134px,#00f7d8 146px,#00eff6 152px,#00dfff 158px,#00c4ff 168px,#0df 196px,#00f0f4 222px,#00f6da 242px,#00fd99 280px,#00ff65 300px,#41ff4d 306px,#57ff3f 310px,#75ff2a 318px,#96ff0a 334px,#a4ff01 346px,#bff900 364px,#ebe400 414px,#ffb600 452px,#ff4f00 534px,#ff0800 606px,#f00000 630px,#ba0000 780px,#a30000 824px,#9f0000 838px,#8d0000 1034px,#8d0000 1320px)"></i>
<i style="left:272px;width:8px;background:linear-gradient(#a00 24px,#ed0000 48px,#fa0500 52px,#ff0c00 54px,#ff4b00 68px,#ffb400 84px,#ece100 94px,#e6e700 96px,#c3f800 104px,#a7ff00 108px,#9dff05 110px,#94ff0c 112px,#7aff26 116px,#50ff44 120px,#31ff53 122px,#09ff61 124px,#00ff69 126px,#00fd8c 134px,#00f7d9 146px,#00eef6 152px,#0df 158px,#00c2ff 168px,#0df 198px,#00eff5 222px,#00f7d9 244px,#00fd9a 282px,#00ff65 302px,#10ff5e 304px,#3bff4f 308px,#4aff48 310px,#53ff42 312px,#78ff28 322px,#96ff0a 338px,#a7ff00 352px,#bff900 368px,#eae500 416px,#ffb500 456px,#ff4d00 540px,#ff0900 612px,#f00000 636px,#ba0000 786px,#a30000 828px,#9f0000 842px,#8d0000 1044px,#8d0000 1320px)"></i>
<i style="left:280px;width:8px;background:linear-gradient(#a00 24px,#ed0000 48px,#fa0500 52px,#ff0c00 54px,#ff4b00 68px,#ffb400 84px,#ece100 94px,#e6e700 96px,#c3f800 104px,#a7ff00 108px,#9dff05 110px,#93ff0d 112px,#78ff28 116px,#4cff47 120px,#2bff55 122px,#04ff63 124px,#00ff6a 126px,#00fd8d 134px,#00f7d9 146px,#00f1ef 150px,#00edf7 152px,#00dcff 158px,#00c1ff 168px,#00deff 200px,#00f0f5 224px,#00f6db 244px,#00fd9a 284px,#0f6 304px,#0aff60 306px,#36ff51 310px,#47ff4a 312px,#58ff3e 316px,#79ff27 326px,#96ff0a 342px,#a4ff01 354px,#befa00 370px,#eae400 420px,#ffb600 458px,#ff4d00 544px,#ff0900 618px,#f00000 642px,#b00 790px,#a40000 832px,#a00000 848px,#8d0000 1060px,#8d0000 1320px)"></i>
<i style="left:288px;width:8px;background:linear-gradient(#a00 24px,#ed0000 48px,#fa0500 52px,#ff0c00 54px,#ff4b00 68px,#ffb400 84px,#ece100 94px,#e6e700 96px,#c3f800 104px,#a7ff00 108px,#9dff05 110px,#93ff0d 112px,#77ff29 116px,#49ff49 120px,#00ff64 124px,#00ff72 128px,#00fd8e 134px,#00f4e5 148px,#00ecf7 152px,#00daff 158px,#00bfff 168px,#00dcff 200px,#00f0f4 226px,#00f6da 246px,#00fd9a 286px,#00ff67 306px,#05ff62 308px,#43ff4c 314px,#56ff40 318px,#77ff29 328px,#97ff09 346px,#a5ff00 358px,#bffa00 374px,#eae500 422px,#ffb400 462px,#ff4d00 548px,#ff0900 624px,#f00000 648px,#b00 796px,#a40000 838px,#a00000 854px,#8d0000 1076px,#8d0000 1320px)"></i>
<i style="left:296px;width:8px;background:linear-gradient(#a00 24px,#ed0000 48px,#fa0500 52px,#ff0c00 54px,#ff4b00 68px,#ffb400 84px,#ece100 94px,#e6e700 96px,#c3f800 104px,#a7ff00 108px,#9dff05 110px,#92ff0e 112px,#75ff2a 116px,#46ff4b 120px,#20ff58 122px,#00ff65 124px,#00ff73 128px,#00fd8f 134px,#00f1f2 150px,#00ecf7 152px,#00dffe 156px,#00bdff 168px,#0df 202px,#00f0f5 226px,#00f7d9 248px,#00fd9a 288px,#01ff64 310px,#3fff4e 316px,#53ff42 320px,#79ff27 332px,#96ff0a 348px,#a4ff01 360px,#befa00 376px,#ebe400 426px,#ffb500 464px,#ff4d00 552px,#ff0900 630px,#f00000 654px,#b00 802px,#a50000 844px,#a00000 860px,#8e0000 1090px,#8d0000 1320px)"></i>
<i style="left:304px;width:8px;background:linear-gradient(#a00 24px,#ed0000 48px,#fa0500 52px,#ff0c00 54px,#ff4b00 68px,#ffb400 84px,#ece100 94px,#e6e700 96px,#c3f800 104px,#a7ff00 108px,#9dff06 110px,#92ff0e 112px,#73ff2c 116px,#42ff4c 120px,#1cff5a 122px,#0f6 124px,#00ff74 128px,#00fd8f 134px,#00f6da 146px,#00f1f3 150px,#00ebf8 152px,#00deff 156px,#00bcff 168px,#00c0ff 170px,#00deff 204px,#00f0f4 228px,#00f7d7 250px,#00fd99 290px,#00ff64 312px,#3dff4e 318px,#4aff48 320px,#52ff43 322px,#79ff27 334px,#96ff0a 350px,#a6ff00 364px,#befa00 378px,#ebe400 428px,#ffb600 466px,#ff4d00 556px,#ff0800 636px,#f00000 660px,#b00 808px,#a50000 850px,#a00000 868px,#8e0000 1106px,#8d0000 1320px)"></i>
<i style="left:312px;width:8px;background:linear-gradient(#a00 24px,#ed0000 48px,#fa0500 52px,#ff0c00 54px,#ff4b00 68px,#ffb400 84px,#ece100 94px,#e6e700 96px,#c3f800 104px,#a7ff00 108px,#9dff06 110px,#91ff0f 112px,#71ff2d 116px,#3eff4e 120px,#19ff5b 122px,#0f6 124px,#00fd90 134px,#00f6db 146px,#00f0f4 150px,#00eaf8 152px,#00dcff 156px,#00baff 168px,#00bfff 170px,#0df 204px,#00f0f5 228px,#00f7d9 250px,#00fd99 292px,#00ff64 314px,#3dff4e 320px,#4aff48 322px,#52ff43 324px,#79ff27 336px,#95ff0b 352px,#a6ff00 366px,#befa00 380px,#ebe400 430px,#ffb700 468px,#ff4e00 558px,#ff0900 640px,#f10000 664px,#b00 814px,#a60000 856px,#a00000 876px,#8e0000 1122px,#8d0000 1320px)"></i>
<i style="left:320px;width:8px;background:linear-gradient(#a00 24px,#ed0000 48px,#fa0500 52px,#ff0c00 54px,#ff4b00 68px,#ffb400 84px,#ece100 94px,#e6e700 96px,#c3f800 104px,#a7ff00 108px,#9cff06 110px,#91ff0f 112px,#70ff2e 116px,#3bff4f 120px,#16ff5c 122px,#00ff67 124px,#00fd90 134px,#00f6db 146px,#00f0f5 150px,#00dbff 156px,#00b9ff 168px,#00beff 170px,#00deff 206px,#00f0f4 230px,#00f7d7 252px,#00fd98 294px,#00ff67 314px,#04ff63 316px,#3fff4d 322px,#53ff42 326px,#79ff27 338px,#95ff0b 354px,#a6ff00 368px,#befa00 382px,#ebe400 432px,#ffb400 472px,#ff4d00 562px,#ff0800 646px,#f00000 670px,#a00000 884px,#8e0000 1136px,#8d0000 1320px)"></i>
<i style="left:328px;width:8px;background:linear-gradient(#a00 24px,#ed0000 48px,#fa0500 52px,#ff0c00 54px,#ff4b00 68px,#ffb400 84px,#ece100 94px,#e6e700 96px,#c3f800 104px,#a7ff00 108px,#9cff06 110px,#91ff0f 112px,#6fff2e 116px,#39ff50 120px,#14ff5d 122px,#00ff67 124px,#00fd91 134px,#00f6db 146px,#00f0f5 150px,#00daff 156px,#00b8ff 168px,#00bdff 170px,#0df 206px,#00f0f5 230px,#00f7d8 252px,#00fd9a 294px,#0f6 316px,#0aff61 318px,#42ff4c 324px,#54ff41 328px,#79ff27 340px,#96ff0a 356px,#a4ff01 368px,#befa00 384px,#ebe400 434px,#ffb400 474px,#ff4e00 564px,#ff0800 650px,#f10000 674px,#a00000 892px,#8e0000 1152px,#8d0000 1320px)"></i>
<i style="left:336px;width:8px;background:linear-gradient(#a00 24px,#ed0000 48px,#fa0500 52px,#ff0c00 54px,#ff4b00 68px,#ffb400 84px,#ece100 94px,#e6e700 96px,#c3f800 104px,#a7ff00 108px,#9cff06 110px,#90ff10 112px,#6eff2f 116px,#38ff50 120px,#12ff5e 122px,#00ff67 124px,#00fd91 134px,#00f6db 146px,#00eff5 150px,#00d9ff 156px,#00b7ff 168px,#00bcff 170px,#0df 206px,#00f0f5 230px,#00f7d8 252px,#00fd97 296px,#00ff65 318px,#46ff4b 326px,#4eff45 328px,#76ff2a 340px,#94ff0c 356px,#a5ff00 370px,#bffa00 386px,#eae500 434px,#ffb600 474px,#ff4d00 568px,#ff0900 654px,#f00000 680px,#a00000 900px,#8e0000 1166px,#8d0000 1320px)"></i>
<i style="left:344px;width:8px;background:linear-gradient(#a00 24px,#ed0000 48px,#fa0500 52px,#ff0c00 54px,#ff4b00 68px,#ffb400 84px,#ece100 94px,#e6e700 96px,#c3f800 104px,#a7ff00 108px,#9cff06 110px,#90ff10 112px,#6eff2f 116px,#37ff50 120px,#12ff5e 122px,#00ff67 124px,#00fd91 134px,#00f6db 146px,#00eff5 150px,#00d9ff 156px,#00b7ff 168px,#00bcff 170px,#0df 206px,#00f0f5 230px,#00f7d9 252px,#00fd98 296px,#00ff67 318px,#03ff63 320px,#3bff4f 326px,#49ff49 328px,#51ff44 330px,#78ff28 342px,#95ff0b 358px,#a4ff01 370px,#befa00 386px,#ebe400 436px,#ffb500 476px,#ff7900 528px,#ff4d00 570px,#ff0900 658px,#f00000 684px,#a10000 908px,#8e0000 1182px,#8d0000 1320px)"></i>
<i style="left:352px;width:8px;background:linear-gradient(#a00 24px,#ed0000 48px,#fa0500 52px,#ff0d00 54px,#ff4b00 68px,#ffb400 84px,#ece100 94px,#e6e700 96px,#c3f800 104px,#a7ff00 108px,#9cff06 110px,#90ff10 112px,#6eff2f 116px,#37ff50 120px,#11ff5e 122px,#00ff67 124px,#00fd91 134px,#00f6db 146px,#00eff5 150px,#00d9ff 156px,#00b7ff 168px,#00bcff 170px,#0df 206px,#00f0f5 230px,#00f6db 250px,#00fd98 296px,#00ff65 320px,#0dff5f 322px,#43ff4c 328px,#4cff47 330px,#75ff2a 342px,#95ff0b 358px,#a7ff00 372px,#befa00 386px,#ebe400 436px,#ffb600 476px,#ff7a00 528px,#ff4d00 572px,#ff0900 662px,#f10000 686px,#a00 882px,#a10000 918px,#8e0000 1196px,#8d0000 1320px)"></i>
<i style="left:360px;width:8px;background:linear-gradient(#a00 24px,#ed0000 48px,#fa0500 52px,#ff0d00 54px,#ff4b00 68px,#ffb400 84px,#ece100 94px,#e6e700 96px,#c3f800 104px,#a7ff00 108px,#9cff06 110px,#90ff10 112px,#6eff2f 116px,#37ff50 120px,#11ff5e 122px,#00ff67 124px,#00fd91 134px,#00f6db 146px,#00eff5 150px,#00d9ff 156px,#00b7ff 168px,#00bcff 170px,#0df 206px,#00f0f5 230px,#00f5e1 246px,#00fd9c 294px,#0f6 320px,#06ff62 322px,#3cff4f 328px,#49ff49 330px,#51ff43 332px,#79ff27 344px,#94ff0c 358px,#a7ff00 372px,#befa00 386px,#ebe400 436px,#ffb600 476px,#ff7b00 528px,#ff4d00 574px,#ff0800 666px,#f10000 690px,#ad0000 882px,#a10000 926px,#8e0000 1214px,#8d0000 1320px)"></i>
<i style="left:368px;width:8px;background:linear-gradient(#a00 24px,#ed0000 48px,#fb0600 52px,#ff0d00 54px,#ff4b00 68px,#ffb400 84px,#ece100 94px,#e6e700 96px,#c3f800 104px,#a7ff00 108px,#9cff06 110px,#90ff10 112px,#6eff2f 116px,#37ff50 120px,#11ff5e 122px,#00ff67 124px,#00fd91 134px,#00f6da 146px,#00f0f5 150px,#00d9ff 156px,#00b7ff 168px,#00bcff 170px,#0df 206px,#00f0f5 230px,#00f5e1 246px,#00fd9c 294px,#02ff63 322px,#47ff4a 330px,#79ff27 344px,#94ff0c 358px,#a4ff01 370px,#bffa00 386px,#eae500 434px,#ffb600 476px,#ff7c00 528px,#ff4d00 576px,#ff0900 668px,#f00000 694px,#af0000 880px,#a10000 936px,#8e0000 1220px,#8d0000 1320px)"></i>
<i style="left:376px;width:8px;background:linear-gradient(#a00 24px,#ed0000 48px,#fb0600 52px,#ff0e00 54px,#ff4c00 68px,#ffb400 84px,#ece100 94px,#e6e700 96px,#c3f800 104px,#a7ff00 108px,#9cff06 110px,#90ff10 112px,#6eff2f 116px,#37ff50 120px,#11ff5e 122px,#00ff67 124px,#00fd91 134px,#00f6da 146px,#00f0f5 150px,#00daff 156px,#00b7ff 168px,#00bdff 170px,#0df 206px,#00f0f5 230px,#00f5e1 246px,#00fd9b 294px,#01ff64 322px,#46ff4b 330px,#78ff28 344px,#94ff0c 358px,#a4ff01 370px,#bffa00 386px,#eae500 434px,#ffb500 476px,#ff7d00 528px,#ff4e00 576px,#ff0800 672px,#f10000 696px,#b20000 880px,#a10000 944px,#8e0000 1220px,#8e0000 1320px)"></i>
<i style="left:384px;width:8px;background:linear-gradient(#a00 24px,#ed0000 48px,#fc0600 52px,#ff0e00 54px,#ff4c00 68px,#ffb400 84px,#ece100 94px,#e6e700 96px,#c3f800 104px,#a7ff00 108px,#9cff06 110px,#90ff10 112px,#6eff2f 116px,#37ff50 120px,#11ff5e 122px,#00ff67 124px,#00fd91 134px,#00f7d9 146px,#00f0f5 150px,#00daff 156px,#00b8ff 168px,#00bdff 170px,#0df 206px,#00f0f5 230px,#00f5e1 246px,#00fd9b 294px,#00ff67 320px,#02ff63 322px,#38ff50 328px,#47ff4a 330px,#4fff45 332px,#79ff27 344px,#95ff0b 358px,#a4ff00 370px,#bffa00 386px,#ebe400 434px,#ffb500 476px,#ff7c00 530px,#ff4e00 578px,#ff0900 674px,#f00000 700px,#c90000 810px,#ad0000 900px,#a20000 950px,#8f0000 1220px,#8e0000 1320px)"></i>
<i style="left:392px;width:8px;background:linear-gradient(#a00 24px,#e00 48px,#fc0700 52px,#ff4d00 68px,#ffb400 84px,#ece100 94px,#e6e700 96px,#c3f800 104px,#a7ff00 108px,#9cff06 110px,#90ff10 112px,#6eff2f 116px,#37ff50 120px,#11ff5e 122px,#00ff67 124px,#00fd91 134px,#00f7d8 146px,#00f0f4 150px,#00daff 156px,#00b9ff 168px,#00beff 170px,#0df 206px,#00f0f5 230px,#00f5e1 246px,#00fd9b 294px,#0f6 320px,#06ff62 322px,#3cff4f 328px,#49ff49 330px,#51ff43 332px,#79ff27 344px,#95ff0b 358px,#a5ff00 370px,#bff900 386px,#ebe400 434px,#ffb500 476px,#ff7c00 530px,#ff4d00 580px,#ff0800 678px,#f10000 702px,#d50000 776px,#b30000 886px,#a30000 956px,#900000 1218px,#8f0000 1320px)"></i>
<i style="left:400px;width:8px;background:linear-gradient(#a00 24px,#e00 48px,#fd0700 52px,#ff4d00 68px,#ffb400 84px,#ece100 94px,#e6e700 96px,#c3f800 104px,#a7ff00 108px,#9cff06 110px,#90ff10 112px,#6eff2f 116px,#37ff50 120px,#11ff5e 122px,#00ff67 124px,#00fd91 134px,#00f7d8 146px,#00f1f3 150px,#00eaf9 152px,#00d3ff 158px,#00b9ff 168px,#00beff 170px,#00deff 206px,#00f0f5 230px,#00f5e1 246px,#00fd9b 294px,#00ff65 320px,#0cff60 322px,#41ff4d 328px,#4cff47 330px,#76ff2a 342px,#96ff0a 358px,#a5ff00 370px,#befa00 384px,#eae500 432px,#ffb500 476px,#ff7d00 530px,#ff4e00 580px,#ff0800 680px,#f10100 704px,#d60000 778px,#b50000 886px,#a40000 960px,#900000 1218px,#900000 1320px)"></i>
<i style="left:408px;width:8px;background:linear-gradient(#a00 24px,#ef0000 48px,#fe0700 52px,#ff4e00 68px,#ffb400 84px,#ece100 94px,#e6e700 96px,#c3f800 104px,#a7ff00 108px,#9cff06 110px,#90ff10 112px,#6eff2f 116px,#37ff50 120px,#11ff5e 122px,#00ff67 124px,#00fd91 134px,#00f7d7 146px,#00f1f2 150px,#00e3fc 154px,#00d3ff 158px,#00baff 168px,#00bfff 170px,#00deff 206px,#00f0f5 230px,#00f6db 250px,#00fd9b 294px,#00ff64 320px,#37ff50 326px,#47ff4a 328px,#4fff45 330px,#78ff28 342px,#97ff0a 358px,#a6ff00 370px,#befa00 384px,#d7f000 408px,#ebe400 432px,#ffb500 476px,#ff7b00 532px,#ff4d00 582px,#ff0800 682px,#f10100 706px,#d60000 780px,#b60000 884px,#a50000 960px,#910000 1218px,#910000 1320px)"></i>
<i style="left:416px;width:8px;background:linear-gradient(#a00 24px,#ef0000 48px,#fe0800 52px,#ff4f00 68px,#ffb400 84px,#ece100 94px,#e6e700 96px,#c3f800 104px,#a7ff00 108px,#9cff06 110px,#90ff10 112px,#6eff2f 116px,#37ff50 120px,#11ff5e 122px,#00ff67 124px,#00fd91 134px,#00f7d6 146px,#00f1f1 150px,#00e3fc 154px,#00d3ff 158px,#0bf 168px,#00bfff 170px,#00deff 206px,#00f0f5 230px,#00f6db 250px,#00fd9a 294px,#0f6 318px,#07ff62 320px,#3eff4e 326px,#52ff43 330px,#79ff27 342px,#94ff0c 356px,#a7ff00 370px,#bffa00 384px,#d7f000 408px,#ebe400 432px,#ffb500 476px,#ff7b00 532px,#ff4e00 582px,#ff0800 684px,#f10100 708px,#d60000 782px,#b80000 882px,#a70000 960px,#9f0000 1020px,#910000 1218px,#920000 1320px)"></i>
<i style="left:424px;width:8px;background:linear-gradient(#a00 24px,#ef0000 48px,#ff0800 52px,#ff5000 68px,#ffb400 84px,#ece100 94px,#e6e700 96px,#c3f800 104px,#a7ff00 108px,#9cff06 110px,#90ff10 112px,#6eff2f 116px,#37ff50 120px,#11ff5e 122px,#00ff67 124px,#00fd91 134px,#00f7d6 146px,#00f1f0 150px,#00e3fc 154px,#00d4ff 158px,#0bf 168px,#00c0ff 170px,#00dcff 204px,#00f0f5 230px,#00f5e1 246px,#00fd9a 294px,#00ff65 318px,#0dff5f 320px,#44ff4c 326px,#4dff46 328px,#76ff29 340px,#95ff0b 356px,#a7ff00 370px,#bffa00 384px,#d8f000 408px,#ebe300 432px,#ffb500 476px,#ff7a00 534px,#ff4d00 584px,#ff0800 686px,#f20100 708px,#b90000 880px,#a80000 958px,#a00000 1020px,#920000 1218px,#930000 1320px)"></i>
<i style="left:432px;width:8px;background:linear-gradient(#a00 24px,#ef0000 48px,#ff0900 52px,#ff5000 68px,#ffb400 84px,#ece100 94px,#e6e700 96px,#c3f800 104px,#a7ff00 108px,#9cff06 110px,#90ff10 112px,#6eff2f 116px,#37ff50 120px,#11ff5e 122px,#00ff67 124px,#00fd91 134px,#00f5e1 148px,#00f1ef 150px,#00e4fc 154px,#00ceff 160px,#00bcff 168px,#00c0ff 170px,#0df 204px,#00f0f5 230px,#00f5e1 246px,#00fd9a 294px,#00ff64 318px,#39ff50 324px,#48ff4a 326px,#50ff44 328px,#78ff28 340px,#96ff0a 356px,#a5ff00 368px,#bdfa00 382px,#d8ef00 408px,#ece300 432px,#ffb500 476px,#ff7a00 534px,#ff4d00 584px,#ff0900 686px,#f20100 710px,#b90000 882px,#a00 956px,#a00000 1026px,#920000 1216px,#940000 1320px)"></i>
<i style="left:440px;width:8px;background:linear-gradient(#a00 24px,#f00000 48px,#ff0900 52px,#ff5100 68px,#ffb400 84px,#ece100 94px,#e6e700 96px,#c3f800 104px,#a7ff00 108px,#9cff06 110px,#90ff10 112px,#6eff2f 116px,#37ff50 120px,#11ff5e 122px,#00ff67 124px,#00fd91 134px,#00f5e0 148px,#00f2ef 150px,#00e4fc 154px,#00cfff 160px,#00bdff 168px,#00c1ff 170px,#0df 204px,#00f0f5 230px,#00f5e1 246px,#00fd99 294px,#00ff67 316px,#05ff62 318px,#3eff4e 324px,#53ff42 328px,#79ff27 340px,#97ff0a 356px,#a5ff00 368px,#befa00 382px,#d7f000 406px,#ebe400 430px,#ffb700 474px,#ff7a00 534px,#ff4e00 584px,#ff0900 688px,#f20100 710px,#b00 880px,#ac0000 948px,#a00000 1032px,#930000 1214px,#950000 1320px)"></i>
<i style="left:448px;width:8px;background:linear-gradient(#a00 24px,#f00000 48px,#ff0900 52px,#ff5100 68px,#ffb400 84px,#ece100 94px,#e6e700 96px,#c3f800 104px,#a7ff00 108px,#9cff06 110px,#90ff10 112px,#6eff2f 116px,#37ff50 120px,#11ff5e 122px,#00ff67 124px,#00fd91 134px,#00f6e0 148px,#00f2ee 150px,#00e4fb 154px,#00cfff 160px,#00bdff 168px,#0df 204px,#00f0f5 230px,#00f6db 250px,#00fd99 294px,#0f6 316px,#0bff60 318px,#44ff4c 324px,#4dff46 326px,#76ff2a 338px,#94ff0c 354px,#a6ff00 368px,#bffa00 382px,#d7f000 406px,#ebe400 430px,#ffb600 474px,#ff7a00 534px,#ff4e00 584px,#ff0800 690px,#f30200 710px,#b00 880px,#ad0000 944px,#a00000 1036px,#930000 1212px,#960000 1320px)"></i>
<i style="left:456px;width:8px;background:linear-gradient(#a00 24px,#f00000 48px,#f60300 50px,#ff0900 52px,#ff5200 68px,#ffb400 84px,#ece100 94px,#e6e700 96px,#c3f800 104px,#a7ff00 108px,#9cff06 110px,#90ff10 112px,#6eff2f 116px,#37ff50 120px,#11ff5e 122px,#00ff67 124px,#00fd91 134px,#00f6e0 148px,#00f2ee 150px,#00e5fb 154px,#00cfff 160px,#00beff 168px,#0df 204px,#00f0f5 230px,#00f6db 250px,#00fd99 294px,#00ff65 316px,#38ff50 322px,#47ff4a 324px,#50ff44 326px,#78ff28 338px,#95ff0b 354px,#a7ff00 368px,#bffa00 382px,#d8f000 406px,#ebe300 430px,#ffb600 474px,#ff7a00 534px,#ff4e00 584px,#ff0900 690px,#f30100 712px,#ba0000 884px,#ac0000 956px,#a00000 1042px,#940000 1216px,#960000 1320px)"></i>
<i style="left:464px;width:8px;background:linear-gradient(#a00 24px,#f00000 48px,#f70300 50px,#ff0a00 52px,#ff5200 68px,#ffb400 84px,#ece100 94px,#e6e700 96px,#c3f800 104px,#a7ff00 108px,#9cff06 110px,#90ff10 112px,#6eff2f 116px,#37ff50 120px,#11ff5e 122px,#00ff67 124px,#00fd91 134px,#00f6e0 148px,#00f2ee 150px,#00ecf7 152px,#00e5fb 154px,#0df 156px,#00cfff 160px,#00beff 168px,#0df 204px,#00f0f5 230px,#00f6db 250px,#00fd98 294px,#00ff64 316px,#3dff4e 322px,#4aff48 324px,#52ff43 326px,#79ff27 338px,#96ff0a 354px,#a5ff00 366px,#bdfa00 380px,#d8ef00 406px,#ebe400 428px,#ffb600 474px,#ff7900 534px,#ff4d00 586px,#ff0800 692px,#f30200 712px,#b00 884px,#af0000 946px,#a10000 1042px,#9a0000 1124px,#940000 1226px,#970000 1320px)"></i>
<i style="left:472px;width:8px;background:linear-gradient(#a00 24px,#f00000 48px,#f70300 50px,#ff0a00 52px,#ff5200 68px,#ffb400 84px,#ece100 94px,#e6e700 96px,#c3f800 104px,#a7ff00 108px,#9cff06 110px,#90ff10 112px,#6eff2f 116px,#37ff50 120px,#11ff5e 122px,#00ff67 124px,#00fd91 134px,#00f6e0 148px,#00f2ee 150px,#00ecf7 152px,#0df 156px,#00cfff 160px,#00bfff 168px,#0df 204px,#00f0f5 230px,#00f6db 250px,#00fd9b 292px,#00ff67 314px,#06ff62 316px,#42ff4c 322px,#54ff41 326px,#75ff2a 336px,#97ff09 354px,#a6ff00 366px,#befa00 380px,#d7f000 404px,#ebe400 428px,#ffb500 474px,#ff7900 534px,#ff4e00 586px,#ff0900 692px,#f30100 714px,#ba0000 890px,#ab0000 978px,#a00000 1054px,#950000 1218px,#970000 1320px)"></i>
<i style="left:480px;width:8px;background:linear-gradient(#a00 24px,#f00000 48px,#f70300 50px,#ff0a00 52px,#ff5200 68px,#ffb400 84px,#ece100 94px,#e6e700 96px,#c3f800 104px,#a7ff00 108px,#9cff06 110px,#90ff10 112px,#6eff2f 116px,#37ff50 120px,#12ff5e 122px,#00ff67 124px,#00fd91 134px,#00f6df 148px,#00ecf7 152px,#00deff 156px,#00d0ff 160px,#00bfff 168px,#00deff 204px,#00f0f5 230px,#00f6db 250px,#00fd9b 292px,#0f6 314px,#0cff60 316px,#47ff4b 322px,#57ff3f 326px,#78ff28 336px,#98ff09 354px,#a7ff00 366px,#bffa00 380px,#d8f000 404px,#ebe300 428px,#ffb500 474px,#ff7900 534px,#ff4e00 586px,#ff0800 694px,#f30200 714px,#b00 888px,#ad0000 968px,#a00000 1056px,#950000 1216px,#980000 1320px)"></i>
<i style="left:488px;width:8px;background:linear-gradient(#a00 24px,#f00000 48px,#f70300 50px,#ff0a00 52px,#ff5200 68px,#ffb400 84px,#ece100 94px,#e6e700 96px,#c3f800 104px,#a7ff00 108px,#9cff06 110px,#90ff10 112px,#6fff2f 116px,#37ff50 120px,#12ff5e 122px,#00ff67 124px,#00fd91 134px,#00f6df 148px,#00edf7 152px,#00deff 156px,#00d0ff 160px,#00bfff 168px,#00deff 204px,#00f0f5 230px,#00f6db 250px,#00fd9b 292px,#00ff65 314px,#3bff4f 320px,#49ff49 322px,#52ff43 324px,#79ff27 336px,#96ff0a 352px,#a5ff00 364px,#bdfa00 378px,#d8ef00 404px,#ebe400 426px,#ffb600 472px,#ff7b00 532px,#ff4e00 586px,#ff0900 694px,#f30100 716px,#ba0000 892px,#a00 988px,#a00000 1062px,#960000 1220px,#980000 1320px)"></i>
<i style="left:496px;width:8px;background:linear-gradient(#a00 24px,#f00000 48px,#f70300 50px,#ff0a00 52px,#ff5200 68px,#ffb400 84px,#ece100 94px,#e6e700 96px,#c3f800 104px,#a7ff00 108px,#9cff06 110px,#91ff0f 112px,#6fff2f 116px,#38ff50 120px,#12ff5d 122px,#00ff67 124px,#00fd91 134px,#00f6df 148px,#00edf7 152px,#00deff 156px,#00d0ff 160px,#00c0ff 168px,#00deff 204px,#00f0f5 230px,#00f7d8 252px,#00fd9a 292px,#01ff64 314px,#40ff4d 320px,#4cff47 322px,#62ff37 328px,#7aff26 336px,#94ff0c 350px,#a6ff00 364px,#befa00 378px,#ebe400 426px,#ffb600 472px,#ff7a00 532px,#ff4e00 586px,#ff0900 694px,#f60300 710px,#f00000 724px,#b00 890px,#ae0000 962px,#a00000 1062px,#960000 1216px,#980000 1320px)"></i>
<i style="left:504px;width:8px;background:linear-gradient(#a00 24px,#f00000 48px,#f70300 50px,#ff0a00 52px,#ff5200 68px,#ffb400 84px,#ece100 94px,#e6e700 96px,#c3f800 104px,#a7ff00 108px,#9cff06 110px,#91ff0f 112px,#6fff2e 116px,#38ff50 120px,#13ff5d 122px,#00ff67 124px,#00fd91 134px,#00f6df 148px,#00edf7 152px,#00deff 156px,#00d0ff 160px,#00c0ff 168px,#0df 202px,#00f0f4 230px,#00f6da 250px,#00fd99 292px,#00ff67 312px,#07ff61 314px,#45ff4b 320px,#56ff40 324px,#77ff28 334px,#98ff09 352px,#a7ff00 364px,#bffa00 378px,#d8f000 402px,#ebe300 426px,#ffb500 472px,#ff7a00 532px,#ff4e00 586px,#ff0800 696px,#f30200 716px,#ba0000 892px,#ae0000 964px,#a10000 1062px,#970000 1216px,#900 1320px)"></i>
<i style="left:512px;width:8px;background:linear-gradient(#a00 24px,#f00000 48px,#f70300 50px,#ff0a00 52px,#ff5200 68px,#ffb400 84px,#ece100 94px,#e6e700 96px,#c3f800 104px,#a7ff00 108px,#9cff06 110px,#91ff0f 112px,#6fff2e 116px,#39ff50 120px,#13ff5d 122px,#00ff67 124px,#00fd91 134px,#00f6df 148px,#00edf7 152px,#00deff 156px,#00d0ff 160px,#00c1ff 168px,#0df 202px,#00f0f4 230px,#00f6da 250px,#00fd99 292px,#0f6 312px,#0dff5f 314px,#38ff50 318px,#48ff4a 320px,#66ff34 328px,#79ff27 334px,#96ff0a 350px,#a5ff00 362px,#bdfa00 376px,#d8ef00 402px,#ece300 426px,#ffb700 470px,#ff7a00 532px,#ff4e00 586px,#ff0900 696px,#f50300 712px,#f00000 726px,#bc0000 888px,#b20000 940px,#a00000 1070px,#970000 1224px,#900 1320px)"></i>
<i style="left:520px;width:8px;background:linear-gradient(#a00 24px,#f00000 48px,#f70300 50px,#ff0a00 52px,#ff5200 68px,#ffb400 84px,#ece100 94px,#e6e700 96px,#c3f800 104px,#a7ff00 108px,#9cff06 110px,#91ff0f 112px,#70ff2e 116px,#3aff4f 120px,#14ff5d 122px,#00ff67 124px,#00fd91 134px,#00f6df 148px,#00edf7 152px,#00dfff 156px,#00d0ff 160px,#00c1ff 168px,#0df 202px,#00eff5 228px,#00f6da 250px,#00fd98 292px,#00ff65 312px,#3dff4e 318px,#4aff48 320px,#68ff33 328px,#7aff26 334px,#94ff0c 348px,#a6ff00 362px,#befa00 376px,#ebe400 424px,#ffb600 470px,#ff7a00 532px,#ff4e00 586px,#ff0900 696px,#f60300 712px,#f00000 726px,#d20000 814px,#ba0000 894px,#b50000 926px,#a00000 1072px,#970000 1224px,#9a0000 1320px)"></i>
<i style="left:528px;width:8px;background:linear-gradient(#a00 24px,#f00000 48px,#f70300 50px,#ff0a00 52px,#ff5200 68px,#ffb400 84px,#ece100 94px,#e6e700 96px,#c3f800 104px,#a7ff00 108px,#9dff06 110px,#91ff0f 112px,#70ff2e 116px,#3aff4f 120px,#14ff5d 122px,#00ff67 124px,#00fd91 134px,#00f6df 148px,#00edf7 152px,#00dfff 156px,#00d0ff 160px,#00c1ff 168px,#0df 202px,#00f0f5 228px,#00f7d9 250px,#00fd9b 290px,#00fd8f 296px,#01ff63 312px,#41ff4d 318px,#4dff46 320px,#63ff36 326px,#77ff29 332px,#95ff0b 348px,#a7ff00 362px,#bffa00 376px,#eae500 422px,#ffb600 470px,#ff7900 532px,#ff4e00 586px,#ff0900 696px,#f60300 712px,#ef0000 728px,#d60000 804px,#b70000 914px,#a00000 1074px,#980000 1226px,#9a0000 1320px)"></i>
<i style="left:536px;width:8px;background:linear-gradient(#a00 24px,#f00000 48px,#f70300 50px,#ff0a00 52px,#ff5200 68px,#ffb400 84px,#ece100 94px,#e6e700 96px,#c3f800 104px,#a7ff00 108px,#9dff06 110px,#91ff0f 112px,#70ff2d 116px,#3bff4f 120px,#15ff5c 122px,#00ff67 124px,#00fd91 134px,#00f6df 148px,#00edf7 152px,#00dffe 156px,#00d1ff 160px,#00c2ff 168px,#00deff 202px,#00f0f5 228px,#00f7d9 250px,#00fd9a 290px,#00fd8e 296px,#00ff67 310px,#07ff61 312px,#46ff4b 318px,#65ff35 326px,#78ff28 332px,#96ff0a 348px,#a5ff00 360px,#bff900 376px,#eae500 422px,#ffb500 470px,#ff7900 532px,#ff4e00 586px,#ff0900 696px,#f60300 712px,#f00000 728px,#d60000 804px,#b70000 912px,#a00000 1078px,#980000 1226px,#9a0000 1320px)"></i>
<i style="left:544px;width:8px;background:linear-gradient(#a00 24px,#f00000 48px,#f70300 50px,#ff0a00 52px,#ff5200 68px,#ffb400 84px,#ece100 94px,#e6e700 96px,#c3f800 104px,#a7ff00 108px,#9dff06 110px,#91ff0f 112px,#71ff2d 116px,#3cff4f 120px,#16ff5c 122px,#00ff67 124px,#00fd91 134px,#00f6df 148px,#00edf7 152px,#00dffe 156px,#00d1ff 160px,#00c2ff 168px,#00deff 202px,#00f0f5 228px,#00f7d8 250px,#00fd9a 290px,#0f6 310px,#0dff5f 312px,#38ff50 316px,#48ff49 318px,#67ff34 326px,#79ff27 332px,#97ff0a 348px,#a5ff00 360px,#befa00 374px,#d8ef00 400px,#ece300 424px,#ffb700 468px,#ff7b00 530px,#ff4e00 586px,#ff0800 698px,#f50300 714px,#d60000 804px,#b70000 912px,#a00000 1080px,#900 1226px,#9b0000 1320px)"></i>
<i style="left:552px;width:8px;background:linear-gradient(#a00 24px,#f00000 48px,#f70300 50px,#ff0a00 52px,#ff5200 68px,#ffb400 84px,#ece100 94px,#e6e700 96px,#c3f800 104px,#a7ff00 108px,#9dff06 110px,#91ff0f 112px,#71ff2d 116px,#3dff4e 120px,#17ff5c 122px,#00ff67 124px,#00fd91 134px,#00f6df 148px,#00edf6 152px,#00dffe 156px,#00d1ff 160px,#00c2ff 168px,#00dcff 200px,#00f0f4 228px,#00f6db 248px,#00fd99 290px,#00ff65 310px,#3cff4e 316px,#4aff48 318px,#68ff33 326px,#7aff26 332px,#94ff0c 346px,#a6ff00 360px,#bffa00 374px,#ebe400 422px,#ffb600 468px,#ff7a00 530px,#ff4e00 586px,#ff0800 698px,#f50300 714px,#d60000 804px,#b70000 910px,#a00000 1082px,#900 1226px,#9b0000 1320px)"></i>
<i style="left:560px;width:8px;background:linear-gradient(#a00 24px,#f00000 48px,#f70300 50px,#ff0a00 52px,#ff5200 68px,#ffb400 84px,#ece100 94px,#e6e700 96px,#c3f800 104px,#a7ff00 108px,#9dff06 110px,#91ff0f 112px,#72ff2c 116px,#3eff4e 120px,#18ff5c 122px,#00ff67 124px,#00fd91 134px,#00f6df 148px,#00edf6 152px,#00e0fe 156px,#00d1ff 160px,#00c3ff 168px,#0df 200px,#00eff5 226px,#00f6da 248px,#00fd98 290px,#00ff64 310px,#41ff4d 316px,#4dff46 318px,#63ff36 324px,#77ff29 330px,#95ff0b 346px,#a7ff00 360px,#bffa00 374px,#eae500 420px,#ffb600 468px,#ff7a00 530px,#ff4e00 586px,#ff0900 696px,#f50300 714px,#d60000 804px,#b70000 910px,#a00000 1084px,#9a0000 1226px,#9b0000 1320px)"></i>
<i style="left:568px;width:8px;background:linear-gradient(#a00 24px,#f00000 48px,#f70300 50px,#ff0a00 52px,#ff5200 68px,#ffb400 84px,#ece100 94px,#e6e700 96px,#c3f800 104px,#a7ff00 108px,#9dff06 110px,#92ff0e 112px,#72ff2c 116px,#3fff4e 120px,#18ff5b 122px,#0f6 124px,#00fd91 134px,#00f6df 148px,#00edf6 152px,#00e0fe 156px,#00d1ff 160px,#00c3ff 168px,#0df 200px,#00f0f5 226px,#00f6da 248px,#00fd9b 288px,#00fe89 296px,#00ff67 308px,#06ff62 310px,#46ff4b 316px,#65ff35 324px,#78ff28 330px,#96ff0a 346px,#a5ff00 358px,#c0f900 374px,#eae500 420px,#ffb500 468px,#ff7900 530px,#ff4f00 584px,#ff0900 696px,#f60300 712px,#f00000 728px,#d60000 802px,#b80000 908px,#a00000 1086px,#9a0000 1224px,#9c0000 1320px)"></i>
<i style="left:576px;width:8px;background:linear-gradient(#a00 24px,#f00000 48px,#f70300 50px,#ff0a00 52px,#ff5200 68px,#ffb400 84px,#ece100 94px,#e6e700 96px,#c3f800 104px,#a7ff00 108px,#9dff06 110px,#92ff0e 112px,#73ff2c 116px,#40ff4d 120px,#19ff5b 122px,#0f6 124px,#00fd91 134px,#00f6df 148px,#00eef6 152px,#00e0fe 156px,#00d1ff 160px,#00c4ff 168px,#0df 200px,#00f0f5 226px,#00f7d9 248px,#00fd9a 288px,#00fd8d 294px,#0f6 308px,#0cff60 310px,#37ff50 314px,#48ff49 316px,#67ff34 324px,#79ff27 330px,#94ff0c 344px,#a5ff00 358px,#befa00 372px,#d8ef00 398px,#ebe400 420px,#ffb700 466px,#ff7b00 528px,#ff4f00 584px,#ff0900 696px,#f60300 712px,#f00000 728px,#d60000 802px,#b80000 908px,#a00000 1088px,#9a0000 1224px,#9c0000 1320px)"></i>
<i style="left:584px;width:8px;background:linear-gradient(#a00 24px,#f00000 48px,#f70300 50px,#ff0a00 52px,#ff5200 68px,#ffb400 84px,#ece100 94px,#e6e700 96px,#c3f800 104px,#a7ff00 108px,#9dff05 110px,#92ff0e 112px,#73ff2b 116px,#41ff4d 120px,#1aff5b 122px,#0f6 124px,#00fd91 134px,#00f6df 148px,#00eef6 152px,#00e0fe 156px,#00d2ff 160px,#00c4ff 168px,#00deff 200px,#00f0f5 226px,#00f7d9 248px,#00fd9a 288px,#00ff65 308px,#11ff5e 310px,#3cff4f 314px,#4aff48 316px,#69ff33 324px,#7aff26 330px,#95ff0b 344px,#a6ff00 358px,#bffa00 372px,#ebe400 420px,#ffb600 466px,#ff7a00 528px,#ff4e00 584px,#ff0900 696px,#f60300 712px,#f00000 728px,#d60000 802px,#b80000 908px,#a00000 1090px,#9a0000 1226px,#9c0000 1320px)"></i>
<i style="left:592px;width:8px;background:linear-gradient(#a00 24px,#f00000 48px,#f70300 50px,#ff0a00 52px,#ff5200 68px,#ffb400 84px,#ece100 94px,#e6e700 96px,#c3f800 104px,#a7ff00 108px,#9dff05 110px,#92ff0e 112px,#74ff2b 116px,#42ff4c 120px,#1bff5a 122px,#0f6 124px,#00fd91 134px,#00f6df 148px,#00eef6 152px,#00e0fe 156px,#00d2ff 160px,#00c4ff 168px,#00deff 200px,#00f0f4 226px,#00f7d8 248px,#00fd99 288px,#00ff64 308px,#41ff4d 314px,#4dff46 316px,#63ff36 322px,#77ff29 328px,#95ff0b 344px,#a7ff00 358px,#bffa00 372px,#eae500 418px,#ffb600 466px,#ff7a00 528px,#ff4e00 584px,#ff0900 696px,#f60300 712px,#f00000 728px,#d60000 802px,#b80000 908px,#a00000 1092px,#9a0000 1226px,#9c0000 1320px)"></i>
<i style="left:600px;width:8px;background:linear-gradient(#a00 24px,#f00000 48px,#f70300 50px,#ff0a00 52px,#ff5200 68px,#ffb400 84px,#ece100 94px,#e6e700 96px,#c3f800 104px,#a7ff00 108px,#9dff05 110px,#92ff0e 112px,#74ff2b 116px,#43ff4c 120px,#1cff5a 122px,#0f6 124px,#00fd91 134px,#00f6df 148px,#00eef6 152px,#00e0fe 156px,#00d2ff 160px,#00c5ff 168px,#00dcff 198px,#00eff5 224px,#00f6db 246px,#00fd9c 286px,#00fe8a 294px,#00ff68 306px,#04ff63 308px,#45ff4b 314px,#6cff31 324px,#78ff28 328px,#96ff0a 344px,#a5ff00 356px,#c0f900 372px,#eae500 418px,#ffb500 466px,#ff7900 528px,#ff4f00 582px,#ff0900 696px,#f60300 712px,#f00000 728px,#d60000 802px,#b80000 908px,#a00000 1094px,#9b0000 1228px,#9d0000 1320px)"></i>
<i style="left:608px;width:8px;background:linear-gradient(#a00 24px,#f00000 48px,#f70300 50px,#ff0a00 52px,#ff5200 68px,#ffb400 84px,#ece100 94px,#e6e700 96px,#c3f800 104px,#a7ff00 108px,#9dff05 110px,#92ff0e 112px,#74ff2a 116px,#45ff4c 120px,#1dff5a 122px,#0f6 124px,#00fd91 134px,#00f6df 148px,#00eef6 152px,#00e1fe 156px,#00d2ff 160px,#00c5ff 168px,#0df 198px,#00f0f5 224px,#00f6da 246px,#00fd9b 286px,#00fd8e 292px,#00ff67 306px,#09ff61 308px,#36ff51 312px,#47ff4a 314px,#66ff34 322px,#79ff27 328px,#97ff09 344px,#a5ff00 356px,#befa00 370px,#d8ef00 396px,#ebe400 418px,#ffb700 464px,#ff7b00 526px,#ff4e00 582px,#ff0900 696px,#f60300 712px,#f00000 728px,#b80000 906px,#a00000 1096px,#9b0000 1228px,#9d0000 1320px)"></i>
<i style="left:616px;width:8px;background:linear-gradient(#a00 24px,#f00000 48px,#f70300 50px,#ff0a00 52px,#ff5200 68px,#ffb400 84px,#ece100 94px,#e6e700 96px,#c3f800 104px,#a7ff00 108px,#9dff05 110px,#92ff0e 112px,#75ff2a 116px,#46ff4b 120px,#1eff59 122px,#0f6 124px,#00ff74 128px,#00fd91 134px,#00f6df 148px,#00eef6 152px,#00e1fe 156px,#00d3ff 160px,#00c5ff 168px,#0df 198px,#00f0f5 224px,#00f6da 246px,#00fd9a 286px,#0f6 306px,#0eff5f 308px,#39ff4f 312px,#49ff49 314px,#68ff33 322px,#7aff26 328px,#94ff0c 342px,#a6ff00 356px,#befa00 370px,#ebe400 418px,#ffb600 464px,#ff7a00 526px,#ff4e00 582px,#ff0900 696px,#f60300 712px,#f00000 728px,#b80000 906px,#a00000 1098px,#9b0000 1230px,#9d0000 1320px)"></i>
<i style="left:624px;width:8px;background:linear-gradient(#a00 24px,#f00000 48px,#f70300 50px,#ff0a00 52px,#ff5200 68px,#ffb400 84px,#ece100 94px,#e6e700 96px,#c3f800 104px,#a7ff00 108px,#9dff05 110px,#92ff0e 112px,#75ff2a 116px,#47ff4b 120px,#1fff59 122px,#00ff65 124px,#00ff74 128px,#00fd91 134px,#00f6df 148px,#00eef6 152px,#00e1fd 156px,#00d3ff 160px,#00c6ff 168px,#0df 198px,#00f0f5 224px,#00f7d9 246px,#00fd9a 286px,#00ff65 306px,#3dff4e 312px,#4bff48 314px,#69ff33 322px,#7aff26 328px,#95ff0b 342px,#a7ff00 356px,#bffa00 370px,#e9e500 416px,#ffb600 464px,#ff7a00 526px,#ff4e00 582px,#ff0900 696px,#f60300 712px,#f00000 728px,#b80000 906px,#a00000 1100px,#9b0000 1230px,#9d0000 1320px)"></i>
<i style="left:632px;width:8px;background:linear-gradient(#a00 24px,#f00000 48px,#f70300 50px,#ff0a00 52px,#ff5200 68px,#ffb400 84px,#ece100 94px,#e6e700 96px,#c3f800 104px,#a7ff00 108px,#9dff05 110px,#93ff0d 112px,#76ff29 116px,#47ff4a 120px,#21ff58 122px,#00ff65 124px,#00ff74 128px,#00fd91 134px,#00f6df 148px,#00eef6 152px,#00e1fd 156px,#00d3ff 160px,#00c6ff 168px,#0df 198px,#00f0f4 224px,#00f7d9 246px,#00fd99 286px,#00ff64 306px,#40ff4d 312px,#4cff47 314px,#63ff37 320px,#77ff29 326px,#95ff0b 342px,#a7ff00 356px,#bffa00 370px,#eae500 416px,#ffb600 464px,#ff7a00 526px,#ff4f00 580px,#ff0900 696px,#f60300 712px,#f00000 728px,#b80000 906px,#a00000 1102px,#9b0000 1232px,#9d0000 1320px)"></i>
<i style="left:640px;width:8px;background:linear-gradient(#a00 24px,#f00000 48px,#f70300 50px,#ff0a00 52px,#ff5200 68px,#ffb400 84px,#ece100 94px,#e6e700 96px,#c3f800 104px,#a7ff00 108px,#9dff05 110px,#93ff0d 112px,#76ff29 116px,#48ff4a 120px,#00ff65 124px,#00ff74 128px,#00fd91 134px,#00f6df 148px,#00eef6 152px,#00e1fd 156px,#00d3ff 160px,#00c6ff 168px,#00deff 198px,#00f0f4 224px,#00f7d9 246px,#00fd98 286px,#01ff64 306px,#42ff4c 312px,#4dff46 314px,#64ff36 320px,#77ff29 326px,#96ff0a 342px,#a8fe00 356px,#bff900 370px,#eae500 416px,#ffb500 464px,#ff7a00 526px,#ff4f00 580px,#ff0900 696px,#f60300 712px,#f00000 728px,#b80000 906px,#a00000 1104px,#9b0000 1232px,#9d0000 1320px)"></i>
<i style="left:648px;width:8px;background:linear-gradient(#a00 24px,#f00000 48px,#f70300 50px,#ff0a00 52px,#ff5200 68px,#ffb400 84px,#ece100 94px,#e6e700 96px,#c3f800 104px,#a7ff00 108px,#9dff05 110px,#93ff0d 112px,#77ff29 116px,#49ff49 120px,#00ff65 124px,#00ff74 128px,#00fd91 134px,#00f6df 148px,#00eef6 152px,#00e1fd 156px,#00d4ff 160px,#00c6ff 168px,#00deff 198px,#00f0f4 224px,#00f7d8 246px,#00fd9c 284px,#00fe8a 292px,#00ff68 304px,#04ff63 306px,#44ff4c 312px,#64ff36 320px,#78ff28 326px,#96ff0a 342px,#a4ff00 354px,#bff900 370px,#eae500 416px,#ffb500 464px,#ff7900 526px,#ff4e00 580px,#ff0900 696px,#f60300 712px,#f00000 728px,#b80000 906px,#a00000 1106px,#9c0000 1234px,#9d0000 1320px)"></i>
<i style="left:656px;width:8px;background:linear-gradient(#a00 24px,#f00000 48px,#f70300 50px,#ff0a00 52px,#ff5200 68px,#ffb400 84px,#ece100 94px,#e6e700 96px,#c3f800 104px,#a7ff00 108px,#9dff05 110px,#93ff0d 112px,#77ff29 116px,#49ff49 120px,#00ff65 124px,#00ff74 128px,#00fd91 134px,#00f6df 148px,#00eef6 152px,#00e1fd 156px,#00d4ff 160px,#00c7ff 168px,#00dcff 196px,#00f0f5 222px,#00f6db 244px,#00fd9b 284px,#00fd8e 290px,#00ff67 304px,#06ff62 306px,#46ff4b 312px,#65ff35 320px,#78ff28 326px,#96ff0a 342px,#a4ff00 354px,#bff900 370px,#eae500 416px,#ffb500 464px,#ff7900 526px,#ff4e00 580px,#ff0900 696px,#f60300 712px,#f00000 728px,#b80000 906px,#a00000 1108px,#9c0000 1234px,#9d0000 1320px)"></i>
<i style="left:664px;width:8px;background:linear-gradient(#a00 24px,#f00000 48px,#f70300 50px,#ff0a00 52px,#ff5200 68px,#ffb400 84px,#ece100 94px,#e6e700 96px,#c3f800 104px,#a7ff00 108px,#9dff05 110px,#93ff0d 112px,#78ff28 116px,#4aff48 120px,#00ff65 124px,#00ff74 128px,#00fd91 134px,#00f6df 148px,#00eef6 152px,#00e1fd 156px,#00d4ff 160px,#00c7ff 168px,#0df 196px,#00f0f5 222px,#00f6da 244px,#00fd9a 284px,#00ff67 304px,#08ff61 306px,#46ff4b 312px,#65ff35 320px,#78ff28 326px,#96ff0a 342px,#a4ff00 354px,#bff900 370px,#eae500 416px,#ffb500 464px,#ff7900 526px,#ff4e00 580px,#ff0900 696px,#f60300 712px,#f00000 728px,#b80000 906px,#a00000 1110px,#9c0000 1236px,#9e0000 1320px)"></i>
<i style="left:672px;width:8px;background:linear-gradient(#a00 24px,#f00000 48px,#f70300 50px,#ff0a00 52px,#ff5200 68px,#ffb400 84px,#ece100 94px,#e6e700 96px,#c3f800 104px,#a7ff00 108px,#9dff05 110px,#93ff0d 112px,#78ff28 116px,#4bff48 120px,#00ff65 124px,#00ff73 128px,#00fd91 134px,#00f6df 148px,#00eef6 152px,#00e2fd 156px,#00d4ff 160px,#00c7ff 168px,#0df 196px,#00f0f5 222px,#00f6da 244px,#00fd9a 284px,#0f6 304px,#0aff60 306px,#35ff51 310px,#47ff4a 312px,#66ff35 320px,#78ff28 326px,#96ff0a 342px,#a4ff00 354px,#bff900 370px,#eae500 416px,#ffb500 464px,#ff7900 526px,#ff4e00 580px,#ff0900 696px,#f60300 712px,#f00000 728px,#b80000 906px,#a00000 1112px,#9c0000 1236px,#9e0000 1320px)"></i>
<i style="left:680px;width:8px;background:linear-gradient(#a00 24px,#f00000 48px,#f70300 50px,#ff0a00 52px,#ff5200 68px,#ffb400 84px,#ece100 94px,#e6e700 96px,#c3f800 104px,#a7ff00 108px,#9dff05 110px,#93ff0d 112px,#78ff28 116px,#62ff38 118px,#4bff47 120px,#00ff64 124px,#00ff73 128px,#00fd91 134px,#00f6df 148px,#00eff6 152px,#00e2fd 156px,#00d4ff 160px,#00c7ff 168px,#0df 196px,#00f0f5 222px,#00f6da 244px,#00fd9a 284px,#0f6 304px,#0cff60 306px,#37ff50 310px,#47ff4a 312px,#66ff35 320px,#78ff28 326px,#96ff0a 342px,#a4ff00 354px,#bff900 370px,#eae500 416px,#ffb500 464px,#ff7900 526px,#ff4e00 580px,#ff0900 696px,#f60300 712px,#f00000 728px,#b80000 906px,#a00000 1114px,#9c0000 1236px,#9e0000 1320px)"></i>
<i style="left:688px;width:8px;background:linear-gradient(#a00 24px,#f00000 48px,#f70300 50px,#ff0a00 52px,#ff5200 68px,#ffb400 84px,#ece100 94px,#e6e700 96px,#c3f800 104px,#a7ff00 108px,#9dff05 110px,#93ff0d 112px,#78ff28 116px,#62ff37 118px,#4cff47 120px,#00ff64 124px,#00ff73 128px,#00fd91 134px,#00f6df 148px,#00eff6 152px,#00d4ff 160px,#00c7ff 168px,#0df 196px,#00f0f5 222px,#00f6da 244px,#00fd99 284px,#0f6 304px,#0eff5f 306px,#38ff50 310px,#48ff4a 312px,#66ff35 320px,#79ff27 326px,#96ff0a 342px,#a4ff00 354px,#bff900 370px,#eae500 416px,#ffb500 464px,#ff7900 526px,#ff4e00 580px,#ff0900 696px,#f50300 714px,#d60000 804px,#b80000 908px,#a00000 1116px,#9e0000 1320px)"></i>
<i style="left:696px;width:8px;background:linear-gradient(#a00 24px,#f00000 48px,#f70300 50px,#ff0a00 52px,#ff5200 68px,#ffb400 84px,#ece100 94px,#e6e700 96px,#c3f800 104px,#a7ff00 108px,#9dff05 110px,#94ff0c 112px,#79ff27 116px,#4cff47 120px,#00ff64 124px,#00ff73 128px,#00fd91 134px,#00f6df 148px,#00eff6 152px,#00d5ff 160px,#00c8ff 168px,#0df 196px,#00f0f5 222px,#00f6da 244px,#00fd99 284px,#00ff65 304px,#0fff5f 306px,#39ff50 310px,#48ff49 312px,#66ff34 320px,#79ff27 326px,#96ff0a 342px,#a5ff00 354px,#bff900 370px,#eae500 416px,#ffb500 464px,#ff7900 526px,#ff4e00 580px,#ff0800 698px,#f50300 714px,#d60000 804px,#b80000 908px,#a00000 1118px,#9e0000 1320px)"></i>
<i style="left:704px;width:8px;background:linear-gradient(#a00 24px,#f00000 48px,#f70300 50px,#ff0a00 52px,#ff5200 68px,#ffb400 84px,#ece100 94px,#e6e700 96px,#c3f800 104px,#a7ff00 108px,#9dff05 110px,#94ff0c 112px,#79ff27 116px,#4dff46 120px,#29ff55 122px,#00ff64 124px,#00ff73 128px,#00fd91 134px,#00f6df 148px,#00eff6 152px,#00d5ff 160px,#00c8ff 168px,#0df 196px,#00f0f5 222px,#00f6da 244px,#00fd9c 282px,#00ff65 304px,#10ff5e 306px,#3aff4f 310px,#49ff49 312px,#66ff34 320px,#79ff27 326px,#96ff0a 342px,#a5ff00 354px,#bff900 370px,#eae500 416px,#ffb500 464px,#ff7900 526px,#ff4e00 580px,#ff0800 698px,#f60300 714px,#d60000 804px,#b80000 908px,#a10000 1118px,#9e0000 1320px)"></i>
<i style="left:712px;width:8px;background:linear-gradient(#a00 24px,#f00000 48px,#f70300 50px,#ff0a00 52px,#ff5200 68px,#ffb400 84px,#ece100 94px,#e6e700 96px,#c3f800 104px,#a7ff00 108px,#9dff05 110px,#94ff0c 112px,#79ff27 116px,#4dff46 120px,#2aff55 122px,#01ff64 124px,#00ff73 128px,#00fd91 134px,#00f6df 148px,#00eff6 152px,#00dcff 158px,#00d0ff 162px,#00c8ff 168px,#0df 196px,#00f0f5 222px,#00f6da 244px,#00fd9c 282px,#00ff65 304px,#3aff4f 310px,#49ff49 312px,#67ff34 320px,#79ff27 326px,#96ff0a 342px,#a5ff00 354px,#bff900 370px,#eae500 416px,#ffb500 464px,#ff7900 526px,#ff4e00 580px,#ff0800 698px,#f60300 714px,#f00000 730px,#d70000 804px,#b80000 910px,#a10000 1120px,#9e0000 1320px)"></i>
<i style="left:720px;width:8px;background:linear-gradient(#a00 24px,#f00000 48px,#f70300 50px,#ff0a00 52px,#ff5200 68px,#ffb400 84px,#ece100 94px,#e6e700 96px,#c3f800 104px,#a7ff00 108px,#9dff05 110px,#94ff0c 112px,#79ff27 116px,#4eff45 120px,#2bff55 122px,#02ff63 124px,#00ff73 128px,#00fd91 134px,#00f6df 148px,#00eff6 152px,#00dcff 158px,#00d0ff 162px,#00c8ff 168px,#0df 196px,#00f0f5 222px,#00f6da 244px,#00fd9c 282px,#00ff65 304px,#3bff4f 310px,#49ff49 312px,#60ff39 318px,#79ff27 326px,#96ff0a 342px,#a5ff00 354px,#bff900 370px,#eae500 416px,#ffb500 464px,#ff7900 526px,#ff4e00 580px,#ff0900 698px,#f60300 714px,#f00000 730px,#d70000 804px,#b80000 910px,#a10000 1122px,#9e0000 1320px)"></i>
<i style="left:728px;width:8px;background:linear-gradient(#a00 24px,#f00000 48px,#f70300 50px,#ff0a00 52px,#ff5200 68px,#ffb400 84px,#ece100 94px,#e6e700 96px,#c3f800 104px,#a7ff00 108px,#9dff05 110px,#94ff0c 112px,#7aff26 116px,#4eff45 120px,#2cff54 122px,#03ff63 124px,#00ff73 128px,#00fd91 134px,#00f6df 148px,#00eff6 152px,#00dcff 158px,#00d0ff 162px,#00c8ff 168px,#00deff 196px,#00f0f5 222px,#00f6da 244px,#00fd9b 282px,#00ff65 304px,#3cff4f 310px,#4aff48 312px,#60ff38 318px,#79ff27 326px,#96ff0a 342px,#a5ff00 354px,#bff900 370px,#eae500 416px,#ffb500 464px,#ff7900 526px,#ff4e00 580px,#ff0900 698px,#f50300 716px,#d60000 806px,#b80000 912px,#a10000 1126px,#9e0000 1320px)"></i>
<i style="left:736px;width:8px;background:linear-gradient(#a00 24px,#f00000 48px,#f70300 50px,#ff0a00 52px,#ff5200 68px,#ffb400 84px,#ece100 94px,#e6e700 96px,#c3f800 104px,#a7ff00 108px,#9dff05 110px,#94ff0c 112px,#7aff26 116px,#4fff45 120px,#2dff54 122px,#04ff63 124px,#00ff6b 126px,#00fd91 134px,#00f6df 148px,#00eff6 152px,#00dcff 158px,#00d0ff 162px,#00c8ff 168px,#00deff 196px,#00f0f5 222px,#00f6da 244px,#00fd9b 282px,#00ff64 304px,#3cff4e 310px,#4aff48 312px,#61ff38 318px,#79ff27 326px,#96ff0a 342px,#a5ff00 354px,#bff900 370px,#eae500 416px,#ffb500 464px,#ff7900 526px,#ff4e00 580px,#ff0800 700px,#f60300 716px,#d60000 806px,#b80000 912px,#a10000 1128px,#9e0000 1320px)"></i>
<i style="left:744px;width:8px;background:linear-gradient(#a00 24px,#f00000 48px,#f70300 50px,#ff0a00 52px,#ff5200 68px,#ffb400 84px,#ece100 94px,#e6e700 96px,#c3f800 104px,#a7ff00 108px,#9eff05 110px,#94ff0c 112px,#7aff26 116px,#50ff44 120px,#2fff53 122px,#05ff62 124px,#00ff6a 126px,#00fd90 134px,#00f6df 148px,#00eff6 152px,#00dcff 158px,#00d0ff 162px,#00c9ff 168px,#00deff 196px,#00f0f5 222px,#00f6da 244px,#00fd9b 282px,#00ff64 304px,#3dff4e 310px,#4aff48 312px,#61ff38 318px,#79ff27 326px,#96ff0a 342px,#a5ff00 354px,#bff900 370px,#eae500 416px,#ffb500 464px,#ff7900 526px,#ff4e00 580px,#ff0800 700px,#f60300 716px,#f00000 732px,#d70000 806px,#b80000 914px,#a10000 1130px,#9e0000 1320px)"></i>
<i style="left:752px;width:8px;background:linear-gradient(#a00 24px,#f00000 48px,#f70300 50px,#ff0a00 52px,#ff5200 68px,#ffb400 84px,#ece100 94px,#e6e700 96px,#c3f800 104px,#a7ff00 108px,#9eff05 110px,#94ff0c 112px,#7aff26 116px,#50ff44 120px,#30ff53 122px,#06ff62 124px,#00ff6a 126px,#00fd90 134px,#00f6df 148px,#00eff6 152px,#00dcff 158px,#00d0ff 162px,#00c9ff 168px,#00deff 196px,#00f0f5 222px,#00f6da 244px,#00fd9a 282px,#00ff64 304px,#3dff4e 310px,#4aff48 312px,#61ff38 318px,#79ff27 326px,#96ff0a 342px,#a5ff00 354px,#bff900 370px,#eae500 416px,#ffb500 464px,#ff7900 526px,#ff4e00 580px,#ff0900 700px,#f60300 716px,#f00000 732px,#d70000 806px,#b90000 914px,#a10000 1132px,#9e0000 1320px)"></i>
<i style="left:760px;width:8px;background:linear-gradient(#a00 24px,#f00000 48px,#f70300 50px,#ff0a00 52px,#ff5200 68px,#ffb400 84px,#ece100 94px,#e6e700 96px,#c3f800 104px,#a7ff00 108px,#9eff05 110px,#94ff0c 112px,#7bff25 116px,#51ff43 120px,#31ff53 122px,#07ff62 124px,#00ff6a 126px,#00fd90 134px,#00f6df 148px,#00eff6 152px,#00dcff 158px,#00d0ff 162px,#00c9ff 168px,#00deff 196px,#00f0f5 222px,#00f6da 244px,#00fd9a 282px,#00ff64 304px,#3eff4e 310px,#4aff48 312px,#61ff38 318px,#79ff27 326px,#96ff0a 342px,#a5ff00 354px,#bff900 370px,#eae500 416px,#ffb500 464px,#ff7900 526px,#ff4e00 580px,#ff0900 700px,#f50300 718px,#d60000 808px,#b80000 916px,#a10000 1134px,#9e0000 1320px)"></i>
<i style="left:768px;width:8px;background:linear-gradient(#a00 24px,#f00000 48px,#f70300 50px,#ff0a00 52px,#ff5200 68px,#ffb400 84px,#ece100 94px,#e6e700 96px,#c3f800 104px,#a7ff00 108px,#9eff05 110px,#95ff0b 112px,#7bff25 116px,#51ff43 120px,#32ff52 122px,#08ff61 124px,#00ff6a 126px,#00fd90 134px,#00f6df 148px,#00eff6 152px,#00dcff 158px,#00d1ff 162px,#00c9ff 168px,#00dcff 194px,#00f0f5 222px,#00f6dd 242px,#00fd9a 282px,#01ff64 304px,#3eff4e 310px,#4bff48 312px,#61ff38 318px,#79ff27 326px,#96ff0a 342px,#a5ff00 354px,#bff900 370px,#eae500 416px,#ffb500 464px,#ff7900 526px,#ff4e00 580px,#ff0800 702px,#f60300 718px,#f00000 734px,#d70000 808px,#b90000 916px,#a10000 1136px,#9e0000 1320px)"></i>
<i style="left:776px;width:8px;background:linear-gradient(#a00 24px,#f00000 48px,#f70300 50px,#ff0a00 52px,#ff5200 68px,#ffb400 84px,#ece100 94px,#e6e700 96px,#c3f800 104px,#a7ff00 108px,#9eff05 110px,#95ff0b 112px,#7bff25 116px,#68ff34 118px,#52ff43 120px,#33ff52 122px,#09ff61 124px,#00ff6a 126px,#00fd90 134px,#00f6df 148px,#00eff6 152px,#0df 158px,#00d1ff 162px,#00c9ff 168px,#0df 194px,#00f0f5 222px,#00f6dd 242px,#00fd99 282px,#01ff64 304px,#3eff4e 310px,#4aff48 312px,#61ff38 318px,#79ff27 326px,#96ff0a 342px,#a4ff00 354px,#bff900 370px,#eae500 416px,#ffb500 464px,#ff7a00 526px,#ff4f00 580px,#ff0900 702px,#f60300 718px,#f00000 734px,#d70000 808px,#b80000 918px,#a10000 1140px,#9e0000 1320px)"></i>
<i style="left:784px;width:8px;background:linear-gradient(#a00 24px,#f00000 48px,#f70300 50px,#ff0a00 52px,#ff5200 68px,#ffb400 84px,#ece100 94px,#e6e700 96px,#c3f800 104px,#a7ff00 108px,#9eff05 110px,#95ff0b 112px,#7bff25 116px,#68ff33 118px,#53ff42 120px,#35ff51 122px,#0aff60 124px,#00ff6a 126px,#00fd90 134px,#00f6df 148px,#00eff5 152px,#0df 158px,#00d1ff 162px,#00c9ff 168px,#0df 194px,#00f0f5 222px,#00f6dd 242px,#00fd9d 280px,#01ff64 304px,#3eff4e 310px,#4aff48 312px,#60ff38 318px,#79ff27 326px,#96ff0a 342px,#a4ff00 354px,#bffa00 370px,#d8f000 394px,#ebe300 418px,#ffb600 464px,#ff7a00 526px,#ff4d00 582px,#ff0900 702px,#f70300 718px,#f00000 734px,#d70000 808px,#b90000 918px,#a10000 1140px,#9e0000 1320px)"></i>
<i style="left:792px;width:8px;background:linear-gradient(#a00 24px,#f00000 48px,#f70300 50px,#ff0a00 52px,#ff5200 68px,#ffb400 84px,#ece100 94px,#e6e700 96px,#c3f800 104px,#a7ff00 108px,#9eff05 110px,#95ff0b 112px,#7bff25 116px,#69ff33 118px,#53ff42 120px,#36ff51 122px,#0bff60 124px,#00ff69 126px,#00fd90 134px,#00f6df 148px,#00eff5 152px,#0df 158px,#00d1ff 162px,#00caff 168px,#0df 194px,#00f0f5 222px,#00f6dd 242px,#00fd9d 280px,#01ff64 304px,#3dff4e 310px,#4aff48 312px,#67ff34 320px,#79ff27 326px,#96ff0a 342px,#a7ff00 356px,#bffa00 370px,#eae500 416px,#ffb600 464px,#ff7a00 526px,#ff4e00 582px,#ff0800 704px,#f60300 720px,#f00000 736px,#d70000 810px,#b90000 920px,#a10000 1142px,#9e0000 1320px)"></i>
<i style="left:800px;width:8px;background:linear-gradient(#a00 24px,#f00000 48px,#f70300 50px,#ff0a00 52px,#ff5200 68px,#ffb400 84px,#ece100 94px,#e6e700 96px,#c3f800 104px,#a7ff00 108px,#9eff05 110px,#95ff0b 112px,#7cff24 116px,#69ff33 118px,#54ff41 120px,#37ff50 122px,#0cff60 124px,#00ff69 126px,#00fd90 134px,#00f6df 148px,#00eff5 152px,#0df 158px,#00d1ff 162px,#00caff 168px,#0df 194px,#00f0f5 222px,#00f6dd 242px,#00fd9d 280px,#01ff64 304px,#3dff4e 310px,#4aff48 312px,#66ff34 320px,#79ff27 326px,#96ff0a 342px,#a7ff00 356px,#bffa00 370px,#e9e500 416px,#ffb600 464px,#ff7a00 526px,#ff4e00 582px,#ff0900 704px,#f60300 720px,#f00000 736px,#d70000 810px,#b90000 920px,#a10000 1144px,#9e0000 1320px)"></i>
<i style="left:808px;width:8px;background:linear-gradient(#a00 24px,#f00000 48px,#f70300 50px,#ff0a00 52px,#ff5200 68px,#ffb400 84px,#ece100 94px,#e6e700 96px,#c3f800 104px,#a7ff00 108px,#9eff05 110px,#95ff0b 112px,#7cff24 116px,#69ff32 118px,#54ff41 120px,#38ff50 122px,#0eff5f 124px,#00ff69 126px,#00fd8f 134px,#00f6df 148px,#00eff5 152px,#0df 158px,#00d1ff 162px,#00caff 168px,#0df 194px,#00f0f5 222px,#00f6dd 242px,#00fd9c 280px,#01ff64 304px,#2aff55 308px,#4aff49 312px,#66ff35 320px,#78ff28 326px,#96ff0a 342px,#a7ff00 356px,#bffa00 370px,#ebe400 418px,#ffb600 464px,#ff7b00 526px,#ff4e00 582px,#ff0800 706px,#f60300 722px,#f00000 738px,#d70000 812px,#b90000 922px,#a10000 1146px,#9e0000 1320px)"></i>
<i style="left:816px;width:8px;background:linear-gradient(#a00 24px,#f00000 48px,#f70300 50px,#ff0a00 52px,#ff5200 68px,#ffb400 84px,#ece100 94px,#e6e700 96px,#c3f800 104px,#a7ff00 108px,#9eff05 110px,#95ff0b 112px,#7cff24 116px,#6aff32 118px,#55ff41 120px,#3aff4f 122px,#0fff5f 124px,#00ff69 126px,#00fd8f 134px,#00f6df 148px,#00eff5 152px,#0df 158px,#00d1ff 162px,#00caff 168px,#0df 194px,#00f0f5 222px,#00f6dc 242px,#00fd9c 280px,#00ff64 304px,#29ff55 308px,#49ff49 312px,#66ff35 320px,#78ff28 326px,#95ff0b 342px,#a7ff00 356px,#bffa00 370px,#ebe400 418px,#ffb700 464px,#ff7900 528px,#ff4d00 584px,#ff0900 706px,#f60300 722px,#f00000 738px,#d70000 814px,#b90000 924px,#a10000 1148px,#9e0000 1320px)"></i>
<i style="left:824px;width:8px;background:linear-gradient(#a00 24px,#f00000 48px,#f70300 50px,#ff0a00 52px,#ff5200 68px,#ffb400 84px,#ece100 94px,#e6e700 96px,#c3f800 104px,#a7ff00 108px,#9eff05 110px,#95ff0b 112px,#7cff24 116px,#6aff32 118px,#55ff40 120px,#3bff4f 122px,#10ff5e 124px,#00ff69 126px,#00fd8f 134px,#00f6df 148px,#00eff5 152px,#0df 158px,#00d1ff 162px,#00caff 168px,#0df 194px,#00f0f5 222px,#00f6dc 242px,#00fd9c 280px,#00ff64 304px,#28ff56 308px,#49ff49 312px,#65ff35 320px,#78ff28 326px,#95ff0b 342px,#a6ff00 356px,#befa00 370px,#ebe400 418px,#ffb500 466px,#ff7a00 528px,#ff4e00 584px,#ff0800 708px,#f60300 724px,#f00000 740px,#d70000 814px,#b90000 924px,#a10000 1150px,#9e0000 1320px)"></i>
<i style="left:832px;width:8px;background:linear-gradient(#a00 24px,#f00000 48px,#f70300 50px,#ff0a00 52px,#ff5200 68px,#ffb400 84px,#ece100 94px,#e6e700 96px,#c3f800 104px,#a7ff00 108px,#9eff05 110px,#95ff0b 112px,#7cff24 116px,#6bff31 118px,#56ff40 120px,#3cff4f 122px,#11ff5e 124px,#00ff69 126px,#00fd8f 134px,#00f6df 148px,#00eff5 152px,#0df 158px,#00d1ff 162px,#00caff 168px,#0df 194px,#00f0f5 222px,#00f6dc 242px,#00fd9c 280px,#00ff64 304px,#27ff56 308px,#48ff4a 312px,#65ff36 320px,#77ff29 326px,#95ff0b 342px,#a6ff00 356px,#befa00 370px,#eae400 418px,#ffb600 466px,#ff7a00 528px,#ff4e00 584px,#ff0900 708px,#f70300 724px,#f00000 742px,#d70000 816px,#b90000 926px,#a10000 1150px,#9e0000 1320px)"></i>
<i style="left:840px;width:8px;background:linear-gradient(#a00 24px,#f00000 48px,#f70300 50px,#ff0a00 52px,#ff5200 68px,#ffb400 84px,#ece100 94px,#e6e700 96px,#c3f800 104px,#a7ff00 108px,#9eff05 110px,#95ff0b 112px,#7dff23 116px,#6bff31 118px,#3dff4e 122px,#12ff5e 124px,#00ff68 126px,#00fd8f 134px,#00f6df 148px,#00eff5 152px,#0df 158px,#00d1ff 162px,#00caff 168px,#0df 194px,#00f0f5 222px,#00f6dc 242px,#00fd9b 280px,#00ff64 304px,#38ff50 310px,#48ff4a 312px,#64ff36 320px,#77ff29 326px,#94ff0c 342px,#a5ff00 356px,#befa00 370px,#eae500 418px,#ffb600 466px,#ff7900 530px,#ff4e00 586px,#ff0800 710px,#f60300 726px,#f00000 742px,#d70000 818px,#b90000 928px,#a10000 1152px,#9e0000 1320px)"></i>
<i style="left:848px;width:8px;background:linear-gradient(#a00 24px,#f00000 48px,#f70300 50px,#ff0a00 52px,#ff5200 68px,#ffb400 84px,#ece100 94px,#e6e700 96px,#c3f800 104px,#a7ff00 108px,#9eff05 110px,#96ff0a 112px,#7dff23 116px,#6bff31 118px,#3eff4e 122px,#13ff5d 124px,#00ff68 126px,#00fd8f 134px,#00f6df 148px,#00eff5 152px,#0df 158px,#00d1ff 162px,#00caff 168px,#0df 194px,#00f0f5 222px,#00f6dc 242px,#00fd9b 280px,#00ff64 304px,#47ff4a 312px,#63ff36 320px,#7aff26 328px,#94ff0c 342px,#a5ff00 356px,#bdfa00 370px,#d8f000 396px,#ebe400 420px,#ffb700 466px,#ff7900 530px,#ff4e00 586px,#ff0800 712px,#f60300 728px,#f00000 744px,#d70000 818px,#b90000 930px,#a10000 1154px,#9e0000 1320px)"></i>
<i style="left:856px;width:8px;background:linear-gradient(#a00 24px,#f00000 48px,#f70300 50px,#ff0a00 52px,#ff5200 68px,#ffb400 84px,#ece100 94px,#e6e700 96px,#c3f800 104px,#a7ff00 108px,#9eff05 110px,#96ff0a 112px,#7dff23 116px,#6cff31 118px,#3fff4d 122px,#14ff5d 124px,#00ff68 126px,#00fd8f 134px,#00f6df 148px,#00eff5 152px,#0df 158px,#00d1ff 162px,#00caff 168px,#0df 194px,#00f0f5 222px,#00f6df 240px,#00fc9f 278px,#00ff65 304px,#46ff4b 312px,#63ff37 320px,#7aff26 328px,#97ff0a 344px,#a5ff00 356px,#bff900 372px,#ebe400 420px,#ffb500 468px,#ff7a00 530px,#ff4e00 588px,#ff0900 712px,#f60300 728px,#ef0000 746px,#d70000 820px,#b90000 930px,#a10000 1154px,#9e0000 1320px)"></i>
<i style="left:864px;width:8px;background:linear-gradient(#a00 24px,#f00000 48px,#f70300 50px,#ff0a00 52px,#ff5200 68px,#ffb400 84px,#ece100 94px,#e6e700 96px,#c3f800 104px,#a7ff00 108px,#9eff05 110px,#96ff0a 112px,#7dff23 116px,#6cff30 118px,#40ff4d 122px,#15ff5d 124px,#00ff68 126px,#00fd8e 134px,#00f6df 148px,#00eff5 152px,#00deff 158px,#00d1ff 162px,#00caff 168px,#0df 194px,#00f0f5 222px,#00f6df 240px,#00fc9f 278px,#00ff65 304px,#45ff4b 312px,#62ff37 320px,#7aff26 328px,#96ff0a 344px,#a4ff00 356px,#bffa00 372px,#ebe400 420px,#ffb600 468px,#ff7900 532px,#ff4e00 588px,#ff0800 714px,#f60300 730px,#f00000 746px,#d70000 822px,#b90000 932px,#a10000 1156px,#9e0000 1320px)"></i>
<i style="left:872px;width:8px;background:linear-gradient(#a00 24px,#f00000 48px,#f70300 50px,#ff0a00 52px,#ff5200 68px,#ffb400 84px,#ece100 94px,#e6e700 96px,#c3f800 104px,#a7ff00 108px,#9eff05 110px,#96ff0a 112px,#7dff23 116px,#6cff30 118px,#41ff4d 122px,#15ff5c 124px,#00ff68 126px,#00fd8e 134px,#00f6df 148px,#00eff5 152px,#00deff 158px,#00d1ff 162px,#00cbff 168px,#0df 194px,#00f0f5 222px,#00f6df 240px,#00fd9f 278px,#00ff65 304px,#0eff5f 306px,#43ff4c 312px,#68ff33 322px,#79ff27 328px,#96ff0a 344px,#a7ff00 358px,#bffa00 372px,#eae400 420px,#ffb600 468px,#ff7900 532px,#ff4e00 590px,#ff0800 716px,#f70400 730px,#f00000 748px,#d70000 822px,#b90000 934px,#a10000 1158px,#9e0000 1320px)"></i>
<i style="left:880px;width:8px;background:linear-gradient(#a00 24px,#f00000 48px,#f70300 50px,#ff0a00 52px,#ff5200 68px,#ffb400 84px,#ece100 94px,#e6e700 96px,#c3f800 104px,#a7ff00 108px,#9eff05 110px,#96ff0a 112px,#7dff23 116px,#6dff30 118px,#42ff4d 122px,#16ff5c 124px,#00ff68 126px,#00fd8e 134px,#00f6df 148px,#00eff5 152px,#00deff 158px,#00d1ff 162px,#00cbff 168px,#00deff 194px,#00f0f5 222px,#00f6df 240px,#00fd9e 278px,#00ff65 304px,#0cff60 306px,#41ff4d 312px,#4cff47 314px,#67ff34 322px,#79ff27 328px,#95ff0b 344px,#a6ff00 358px,#befa00 372px,#eae500 420px,#ffb700 468px,#ff7a00 532px,#ff4f00 590px,#ff0900 716px,#f60300 732px,#f00000 750px,#d70000 824px,#b90000 936px,#a10000 1162px,#9e0000 1320px)"></i>
<i style="left:888px;width:8px;background:linear-gradient(#a00 24px,#f00000 48px,#f70300 50px,#ff0a00 52px,#ff5200 68px,#ffb400 84px,#ece100 94px,#e6e700 96px,#c3f800 104px,#a7ff00 108px,#9eff05 110px,#96ff0a 112px,#7eff22 116px,#6dff30 118px,#42ff4c 122px,#17ff5c 124px,#00ff68 126px,#00fd8e 134px,#00f6df 148px,#00f0f5 152px,#00deff 158px,#00d1ff 162px,#00cbff 168px,#00deff 194px,#00f0f5 222px,#00f6df 240px,#00fd9e 278px,#0f6 304px,#0bff60 306px,#40ff4d 312px,#4bff48 314px,#66ff35 322px,#78ff28 328px,#95ff0b 344px,#a6ff00 358px,#befa00 372px,#ebe400 422px,#ffb600 470px,#ff7900 534px,#ff4e00 592px,#ff0800 718px,#f60300 734px,#f00000 750px,#d70000 826px,#b90000 938px,#a10000 1164px,#9e0000 1320px)"></i>
<i style="left:896px;width:8px;background:linear-gradient(#a00 24px,#f00000 48px,#f70300 50px,#ff0a00 52px,#ff5200 68px,#ffb400 84px,#ece100 94px,#e6e700 96px,#c3f800 104px,#a7ff00 108px,#9eff05 110px,#96ff0a 112px,#7eff22 116px,#6dff30 118px,#43ff4c 122px,#17ff5c 124px,#00ff68 126px,#00fd8e 134px,#00f6df 148px,#00f0f5 152px,#00deff 158px,#00d1ff 162px,#00cbff 168px,#00deff 194px,#00f0f5 222px,#00f6df 240px,#00fd9e 278px,#0f6 304px,#09ff61 306px,#3eff4e 312px,#4aff48 314px,#6bff31 324px,#77ff28 328px,#94ff0c 344px,#a5ff00 358px,#bdfa00 372px,#d7f000 398px,#ebe400 422px,#ffb600 470px,#ff7a00 534px,#ff4f00 592px,#ff0800 720px,#f60300 736px,#f00000 752px,#d70000 828px,#b90000 940px,#a10000 1166px,#9e0000 1320px)"></i>
<i style="left:904px;width:8px;background:linear-gradient(#a00 24px,#f00000 48px,#f70300 50px,#ff0a00 52px,#ff5200 68px,#ffb400 84px,#ece100 94px,#e6e700 96px,#c3f800 104px,#a7ff00 108px,#9eff05 110px,#96ff0a 112px,#7eff22 116px,#6dff30 118px,#43ff4c 122px,#18ff5c 124px,#00ff67 126px,#00fd8e 134px,#00f6df 148px,#00f0f5 152px,#00deff 158px,#00d1ff 162px,#00cbff 168px,#00deff 194px,#00f0f5 222px,#00f6df 240px,#00fd9e 278px,#0f6 304px,#07ff61 306px,#3cff4e 312px,#49ff49 314px,#6aff31 324px,#7bff25 330px,#94ff0c 344px,#a5ff00 358px,#bffa00 374px,#d7f000 398px,#ebe300 424px,#ffb700 470px,#ff7900 536px,#ff4e00 594px,#ff0900 720px,#f70400 736px,#f00000 754px,#d70000 830px,#b90000 944px,#a10000 1168px,#9e0000 1320px)"></i>
<i style="left:912px;width:8px;background:linear-gradient(#a00 24px,#f00000 48px,#f70300 50px,#ff0a00 52px,#ff5200 68px,#ffb400 84px,#ece100 94px,#e6e700 96px,#c3f800 104px,#a7ff00 108px,#9eff05 110px,#96ff0a 112px,#7eff22 116px,#6dff2f 118px,#44ff4c 122px,#18ff5b 124px,#00ff67 126px,#00fd8e 134px,#00f6df 148px,#00f0f5 152px,#00deff 158px,#00d1ff 162px,#00cbff 168px,#00deff 194px,#00f0f5 222px,#00f6df 240px,#00fd9e 278px,#0f6 304px,#05ff62 306px,#2aff55 310px,#48ff4a 314px,#76ff2a 328px,#96ff0a 346px,#a7ff00 360px,#bffa00 374px,#eae500 422px,#ffb600 472px,#ff7a00 536px,#ff4e00 596px,#ff0900 722px,#f60300 738px,#f00000 756px,#d70000 832px,#b90000 946px,#a10000 1172px,#9e0000 1320px)"></i>
<i style="left:920px;width:8px;background:linear-gradient(#a00 24px,#f00000 48px,#f70300 50px,#ff0a00 52px,#ff5200 68px,#ffb400 84px,#ece100 94px,#e6e700 96px,#c3f800 104px,#a7ff00 108px,#9eff05 110px,#96ff0a 112px,#7eff22 116px,#6dff2f 118px,#44ff4c 122px,#18ff5b 124px,#00ff67 126px,#00fd8e 134px,#00f6df 148px,#00f0f5 152px,#00deff 158px,#00d1ff 162px,#00cbff 168px,#00deff 194px,#00f0f5 222px,#00f6df 240px,#00fd9e 278px,#00ff67 304px,#03ff63 306px,#28ff56 310px,#47ff4a 314px,#75ff2a 328px,#96ff0a 346px,#a7ff00 360px,#befa00 374px,#ebe400 424px,#ffb600 472px,#ff7900 538px,#ff4f00 596px,#ff0800 724px,#f60300 740px,#f00000 756px,#d70000 834px,#b90000 948px,#a10000 1174px,#9e0000 1320px)"></i>
<i style="left:928px;width:8px;background:linear-gradient(#a00 24px,#f00000 48px,#f70300 50px,#ff0a00 52px,#ff5200 68px,#ffb400 84px,#ece100 94px,#e6e700 96px,#c3f800 104px,#a7ff00 108px,#9eff05 110px,#96ff0a 112px,#7eff22 116px,#6dff2f 118px,#44ff4c 122px,#18ff5b 124px,#00ff67 126px,#00fd8e 134px,#00f6df 148px,#00f0f5 152px,#00deff 158px,#00d1ff 162px,#00cbff 168px,#00deff 194px,#00f0f5 222px,#00f6df 240px,#00fca2 276px,#01ff64 306px,#46ff4b 314px,#68ff33 324px,#79ff27 330px,#95ff0b 346px,#a6ff00 360px,#befa00 374px,#eae400 424px,#ffb500 474px,#ff7900 538px,#ff4e00 598px,#ff0800 726px,#f70400 740px,#f00000 758px,#d70000 836px,#b90000 952px,#a10000 1178px,#9f0000 1320px)"></i>
<i style="left:936px;width:8px;background:linear-gradient(#a00 24px,#f00000 48px,#f70300 50px,#ff0a00 52px,#ff5200 68px,#ffb400 84px,#ece100 94px,#e6e700 96px,#c3f800 104px,#a7ff00 108px,#9eff05 110px,#96ff0a 112px,#7eff22 116px,#6dff2f 118px,#44ff4c 122px,#18ff5b 124px,#00ff67 126px,#00fd8e 134px,#00f6df 148px,#00f0f5 152px,#00deff 158px,#00d1ff 162px,#00cbff 168px,#00deff 194px,#00f0f5 222px,#00f6df 240px,#00fca2 276px,#00ff64 306px,#44ff4c 314px,#67ff34 324px,#78ff28 330px,#95ff0b 346px,#a5ff00 360px,#bff900 376px,#eae500 424px,#ffb600 474px,#ff7900 540px,#ff4f00 598px,#ff0900 726px,#f70400 742px,#f00000 760px,#d70000 838px,#b90000 954px,#a10000 1182px,#9f0000 1320px)"></i>
<i style="left:944px;width:8px;background:linear-gradient(#a00 24px,#f00000 48px,#f70300 50px,#ff0a00 52px,#ff5200 68px,#ffb400 84px,#ece100 94px,#e6e700 96px,#c3f800 104px,#a7ff00 108px,#9eff05 110px,#96ff0a 112px,#7eff22 116px,#6dff30 118px,#44ff4c 122px,#18ff5b 124px,#00ff67 126px,#00fd8e 134px,#00f6df 148px,#00eff5 152px,#00deff 158px,#00d1ff 162px,#00cbff 168px,#0df 194px,#00f0f5 222px,#00f6df 240px,#00fca2 276px,#00ff65 306px,#41ff4d 314px,#4bff47 316px,#66ff35 324px,#78ff28 330px,#94ff0c 346px,#a5ff00 360px,#bffa00 376px,#d8ef00 402px,#ebe400 426px,#ffb700 474px,#ff7900 540px,#ff4e00 600px,#ff0900 728px,#f70300 744px,#f00000 762px,#d60000 842px,#b90000 958px,#a10000 1188px,#9f0000 1320px)"></i>
<i style="left:952px;width:8px;background:linear-gradient(#a00 24px,#f00000 48px,#f70400 50px,#ff0a00 52px,#ff5200 68px,#ffb400 84px,#ece100 94px,#e6e700 96px,#c3f800 104px,#a7ff00 108px,#9eff05 110px,#96ff0a 112px,#7eff22 116px,#6dff30 118px,#43ff4c 122px,#17ff5c 124px,#00ff67 126px,#00fd8e 134px,#00f6df 148px,#00eff5 152px,#00deff 158px,#00d1ff 162px,#00cbff 168px,#0df 194px,#00f0f5 222px,#00f6e0 240px,#00fca3 276px,#00ff65 306px,#0cff60 308px,#3fff4e 314px,#4aff48 316px,#6aff31 326px,#7bff25 332px,#96ff0a 348px,#a7ff00 362px,#befa00 376px,#ebe400 426px,#ffb600 476px,#ff7900 542px,#ff4e00 602px,#ff0800 730px,#f60300 746px,#f00000 764px,#d70000 844px,#b90000 962px,#a10000 1194px,#9f0000 1320px)"></i>
<i style="left:960px;width:8px;background:linear-gradient(#a00 24px,#f00000 48px,#f70400 50px,#ff0a00 52px,#ff5200 68px,#ffb400 84px,#ece100 94px,#e6e700 96px,#c3f800 104px,#a7ff00 108px,#9eff05 110px,#96ff0a 112px,#7dff23 116px,#6dff30 118px,#43ff4c 122px,#17ff5c 124px,#00ff68 126px,#00fd8e 134px,#00f6e0 148px,#00eff5 152px,#00deff 158px,#00d1ff 162px,#00caff 168px,#0df 194px,#00f0f5 222px,#00f5e0 240px,#00fca3 276px,#0f6 306px,#09ff61 308px,#3cff4f 314px,#48ff49 316px,#69ff32 326px,#7aff26 332px,#96ff0a 348px,#a6ff00 362px,#c0f900 378px,#eae500 426px,#ffb700 476px,#ff7a00 542px,#ff4f00 602px,#ff0800 732px,#f60300 748px,#f00000 766px,#d60000 848px,#ba0000 966px,#a10000 1202px,#9f0000 1320px)"></i>
<i style="left:968px;width:8px;background:linear-gradient(#a00 24px,#f00000 48px,#f70400 50px,#ff0a00 52px,#ff5200 68px,#ffb400 84px,#ece100 94px,#e6e700 96px,#c3f800 104px,#a6ff00 108px,#9eff05 110px,#95ff0b 112px,#7dff23 116px,#6dff30 118px,#42ff4c 122px,#16ff5c 124px,#00ff68 126px,#00fd8e 134px,#00f5e0 148px,#00eff5 152px,#0df 158px,#00d1ff 162px,#00caff 168px,#0df 194px,#00eff5 222px,#00f5e0 240px,#00fca3 276px,#0f6 306px,#05ff62 308px,#47ff4b 316px,#6dff2f 328px,#79ff27 332px,#95ff0b 348px,#a5ff00 362px,#bffa00 378px,#ebe400 428px,#ffb600 478px,#ff7900 544px,#ff4f00 604px,#ff0800 734px,#f70400 748px,#f00000 768px,#d60000 850px,#ba0000 972px,#a20000 1210px,#9f0000 1320px)"></i>
<i style="left:976px;width:8px;background:linear-gradient(#a00 24px,#f00000 48px,#f70400 50px,#ff0a00 52px,#ff5200 68px,#ffb500 84px,#ece200 94px,#e5e700 96px,#c3f800 104px,#a6ff00 108px,#9eff05 110px,#95ff0b 112px,#7dff23 116px,#6cff30 118px,#41ff4d 122px,#15ff5c 124px,#00ff68 126px,#00fd8f 134px,#00f7d5 146px,#00eff6 152px,#0df 158px,#00d1ff 162px,#00caff 168px,#0df 194px,#00f0f4 224px,#00f5e1 240px,#00fca4 276px,#00ff71 300px,#00ff64 308px,#43ff4c 316px,#66ff35 326px,#77ff28 332px,#97ff0a 350px,#a7ff00 364px,#befa00 378px,#eae500 428px,#ffb700 478px,#ff7900 546px,#ff4e00 606px,#ff0800 736px,#f70400 750px,#f00000 768px,#d60000 854px,#ba0000 976px,#a20000 1216px,#a00000 1320px)"></i>
<i style="left:984px;width:8px;background:linear-gradient(#a00 24px,#f00000 48px,#f70400 50px,#ff0a00 52px,#ff5300 68px,#ffb500 84px,#ece200 94px,#e5e700 96px,#c3f800 104px,#a6ff00 108px,#9dff05 110px,#95ff0b 112px,#7dff23 116px,#6cff31 118px,#40ff4d 122px,#14ff5d 124px,#00ff68 126px,#00fd8f 134px,#00f7d5 146px,#00eff6 152px,#0df 158px,#00d1ff 162px,#00caff 168px,#00deff 196px,#00f0f5 224px,#00f5e1 240px,#00fca5 276px,#00ff65 308px,#3fff4e 316px,#4aff48 318px,#6aff32 328px,#7aff26 334px,#96ff0a 350px,#a6ff00 364px,#bff900 380px,#ebe400 430px,#ffb600 480px,#ff7a00 546px,#ff4e00 608px,#ff0800 738px,#f70400 752px,#f00000 770px,#d60000 858px,#b00 980px,#a40000 1212px,#a00000 1320px)"></i>
<i style="left:992px;width:8px;background:linear-gradient(#a00 24px,#f00000 48px,#f70400 50px,#ff0a00 52px,#ff5300 68px,#ffb500 84px,#ece200 94px,#e5e800 96px,#c2f800 104px,#a5ff00 108px,#9dff05 110px,#95ff0b 112px,#7cff24 116px,#6bff31 118px,#3fff4d 122px,#13ff5d 124px,#00ff68 126px,#00fd8f 134px,#00f7d6 146px,#00eff6 152px,#0df 158px,#00d1ff 162px,#00c9ff 168px,#0df 196px,#00f0f5 224px,#00f5e2 240px,#00fca6 276px,#0f6 308px,#08ff61 310px,#2aff55 314px,#47ff4a 318px,#68ff33 328px,#79ff27 334px,#94ff0c 350px,#a4ff00 364px,#befa00 380px,#eae500 430px,#ffb600 482px,#ff7a00 548px,#ff4e00 610px,#ff0900 738px,#f70400 754px,#f00000 772px,#d50000 862px,#bc0000 982px,#a60000 1204px,#a00000 1320px)"></i>
<i style="left:1000px;width:8px;background:linear-gradient(#a00 24px,#f00000 48px,#f70400 50px,#ff0a00 52px,#ff5300 68px,#ffb500 84px,#ece200 94px,#e5e800 96px,#c2f800 104px,#a5ff00 108px,#94ff0c 112px,#7cff24 116px,#6bff31 118px,#3eff4e 122px,#12ff5d 124px,#00ff68 126px,#00fd8f 134px,#00fbb3 140px,#00f5e2 148px,#00eef6 152px,#00dcff 158px,#00d1ff 162px,#00c9ff 168px,#0df 196px,#00f0f5 224px,#00f5e2 240px,#00fca6 276px,#00ff67 308px,#02ff63 310px,#44ff4c 318px,#59ff3d 324px,#77ff29 334px,#96ff0a 352px,#a6ff00 366px,#bff900 382px,#eae400 432px,#ffb500 484px,#ff7900 550px,#ff4e00 612px,#ff0900 740px,#f70400 756px,#f00000 776px,#d60000 864px,#be0000 982px,#a80000 1194px,#a10000 1320px)"></i>
<i style="left:1008px;width:8px;background:linear-gradient(#a00 24px,#f00000 48px,#f70400 50px,#ff0a00 52px,#ff5300 68px,#ffb600 84px,#ece300 94px,#e5e800 96px,#c2f800 104px,#a5ff00 108px,#94ff0c 112px,#7cff24 116px,#6aff32 118px,#56ff40 120px,#3dff4e 122px,#11ff5e 124px,#00ff69 126px,#00fd90 134px,#00f7d7 146px,#00eef6 152px,#00dcff 158px,#00d0ff 162px,#00c8ff 168px,#0df 196px,#00eff5 224px,#00f5e3 240px,#00fca7 276px,#00ff65 310px,#3eff4e 318px,#49ff49 320px,#63ff37 328px,#79ff27 336px,#95ff0b 352px,#a4ff00 366px,#befa00 382px,#eae500 432px,#ffb700 484px,#ff7900 552px,#ff4e00 614px,#ff0900 742px,#f70400 758px,#f00000 778px,#d60000 866px,#bf0000 978px,#a00 1184px,#a20000 1320px)"></i>
<i style="left:1016px;width:8px;background:linear-gradient(#a00 24px,#f00000 48px,#f70400 50px,#ff0a00 52px,#ff4900 66px,#ffb600 84px,#ebe300 94px,#e4e800 96px,#c1f900 104px,#a4ff00 108px,#94ff0c 112px,#7bff25 116px,#69ff32 118px,#55ff40 120px,#3bff4f 122px,#10ff5e 124px,#00ff69 126px,#00fd90 134px,#00f7d7 146px,#00eef6 152px,#00dcff 158px,#00d0ff 162px,#00c8ff 168px,#00deff 198px,#00f0f5 226px,#00f5e1 242px,#00fca8 276px,#0f6 310px,#08ff61 312px,#47ff4b 320px,#6cff30 332px,#78ff28 336px,#96ff0a 354px,#a6ff00 368px,#bffa00 384px,#eae500 434px,#ffb600 486px,#ff7900 554px,#ff4e00 616px,#ff0800 746px,#f70400 760px,#f00000 780px,#d70000 868px,#c10000 974px,#ac0000 1172px,#a20000 1320px)"></i>
<i style="left:1024px;width:8px;background:linear-gradient(#a00 24px,#f00000 48px,#f70400 50px,#ff0a00 52px,#ff4900 66px,#ffad00 82px,#ffb700 84px,#ebe300 94px,#c1f900 104px,#a4ff01 108px,#93ff0d 112px,#7bff25 116px,#69ff33 118px,#55ff41 120px,#3aff4f 122px,#0eff5f 124px,#00ff69 126px,#00fd90 134px,#00f7d8 146px,#00edf6 152px,#00dcff 158px,#00d0ff 162px,#00c8ff 168px,#0df 198px,#00f0f5 226px,#00f5e2 242px,#00fca6 278px,#00ff70 304px,#01ff64 312px,#41ff4d 320px,#52ff43 324px,#6aff32 332px,#7aff26 338px,#94ff0c 354px,#a7ff00 370px,#befa00 384px,#ebe400 436px,#ffb600 488px,#ff7900 556px,#ff4e00 618px,#ff0800 748px,#f70400 762px,#f00000 782px,#d70000 870px,#c30000 970px,#af0000 1150px,#a30000 1320px)"></i>
<i style="left:1032px;width:8px;background:linear-gradient(#a00 24px,#f00000 48px,#f70400 50px,#ff0a00 52px,#ff4a00 66px,#ffad00 82px,#ffb700 84px,#ebe400 94px,#c1f900 104px,#a4ff01 108px,#93ff0d 112px,#7aff26 116px,#54ff41 120px,#38ff50 122px,#0dff60 124px,#00ff69 126px,#00fd91 134px,#00f7d8 146px,#00f2ef 150px,#00edf7 152px,#00dbff 158px,#00d0ff 162px,#00c7ff 168px,#0df 198px,#00eff5 226px,#00f5e2 242px,#00fca7 278px,#00ff65 312px,#0cff60 314px,#2cff54 318px,#48ff4a 322px,#67ff34 332px,#78ff28 338px,#96ff0a 356px,#a5ff00 370px,#bffa00 386px,#ebe400 438px,#ffb600 490px,#ff7900 558px,#ff4e00 620px,#ff0800 750px,#f70400 764px,#f00000 784px,#d70000 874px,#c50000 968px,#b20000 1138px,#a40000 1320px)"></i>
<i style="left:1040px;width:8px;background:linear-gradient(#a00 24px,#f10000 48px,#f70400 50px,#ff0b00 52px,#ff4a00 66px,#ffad00 82px,#feb700 84px,#ebe400 94px,#c0f900 104px,#a4ff01 108px,#92ff0e 112px,#7aff26 116px,#53ff42 120px,#37ff50 122px,#0bff60 124px,#00ff6a 126px,#00fd91 134px,#00f7d9 146px,#00f1f0 150px,#00edf7 152px,#00d4ff 160px,#00c7ff 168px,#00deff 200px,#00f0f4 228px,#00f5e3 242px,#00fca8 278px,#0f6 312px,#05ff62 314px,#43ff4c 322px,#59ff3e 328px,#75ff2a 338px,#97ff09 358px,#a6ff00 372px,#bff900 388px,#eae500 438px,#ffb600 492px,#ff7900 560px,#ff4e00 622px,#ff0800 752px,#f70400 766px,#f00000 788px,#d70000 876px,#c70000 966px,#b40000 1128px,#a50000 1320px)"></i>
<i style="left:1048px;width:8px;background:linear-gradient(#a00 24px,#f10000 48px,#f80400 50px,#ff0b00 52px,#ff4a00 66px,#ffae00 82px,#feb800 84px,#ebe400 94px,#c0f900 104px,#a3ff01 108px,#92ff0e 112px,#7aff26 116px,#52ff42 120px,#35ff51 122px,#09ff61 124px,#00ff6a 126px,#00fd91 134px,#00f6da 146px,#00f1f0 150px,#00ecf7 152px,#00e1fe 156px,#00d4ff 160px,#00c6ff 168px,#0df 200px,#00f0f5 228px,#00f4e4 242px,#00fca9 278px,#00ff71 306px,#00ff64 314px,#3dff4e 322px,#49ff49 324px,#61ff38 332px,#78ff28 340px,#95ff0b 358px,#a5ff00 372px,#befa00 388px,#eae500 440px,#ffb600 494px,#ff7900 562px,#ff4f00 624px,#ff0900 754px,#f80400 768px,#f00000 790px,#d70000 882px,#c60000 978px,#b50000 1126px,#a70000 1320px)"></i>
<i style="left:1056px;width:8px;background:linear-gradient(#a00 24px,#eb0000 46px,#f80400 50px,#ff0b00 52px,#ff4a00 66px,#ffae00 82px,#eae400 94px,#c0f900 104px,#a3ff01 108px,#91ff0f 112px,#79ff27 116px,#51ff43 120px,#33ff52 122px,#07ff61 124px,#00ff6a 126px,#00fd92 134px,#00f6da 146px,#00f1f1 150px,#00ecf7 152px,#00e0fe 156px,#00d4ff 160px,#00c6ff 168px,#0df 200px,#00eff5 228px,#00f5e2 244px,#00fca6 280px,#0f6 314px,#07ff62 316px,#44ff4c 324px,#6aff32 336px,#79ff27 342px,#97ff0a 360px,#a6ff00 374px,#bffa00 390px,#eae400 442px,#ffb600 496px,#ff7a00 564px,#ff4f00 626px,#ff0800 758px,#f70400 772px,#f00000 794px,#d80000 884px,#c80000 974px,#b70000 1114px,#a80000 1320px)"></i>
<i style="left:1064px;width:8px;background:linear-gradient(#a00 24px,#eb0000 46px,#f80400 50px,#ff0b00 52px,#ff4b00 66px,#ffaf00 82px,#eae500 94px,#bffa00 104px,#a3ff02 108px,#91ff0f 112px,#79ff27 116px,#51ff44 120px,#31ff52 122px,#06ff62 124px,#00ff6b 126px,#00fd92 134px,#00f6db 146px,#00f1f2 150px,#00ecf7 152px,#00e0fe 156px,#00d3ff 160px,#00c5ff 168px,#00deff 202px,#00f0f5 230px,#00f5e3 244px,#00fca8 280px,#00ff70 308px,#00ff64 316px,#30ff53 322px,#49ff49 326px,#67ff34 336px,#77ff28 342px,#95ff0b 360px,#a7ff00 376px,#bffa00 392px,#ebe400 444px,#ffb600 498px,#ff7a00 566px,#ff4e00 630px,#ff0800 760px,#f80400 774px,#f00000 796px,#d80000 886px,#ca0000 970px,#b80000 1116px,#a90000 1320px)"></i>
<i style="left:1072px;width:8px;background:linear-gradient(#a00 24px,#eb0000 46px,#f80400 50px,#ff0b00 52px,#ff4b00 66px,#ffaf00 82px,#eae500 94px,#bffa00 104px,#a2ff02 108px,#90ff10 112px,#78ff28 116px,#50ff44 120px,#30ff53 122px,#04ff63 124px,#00ff6b 126px,#00fd93 134px,#00f6dc 146px,#00f1f3 150px,#00ebf8 152px,#00dffe 156px,#00d3ff 160px,#00c4ff 168px,#0df 202px,#00f0f5 230px,#00f4e4 244px,#00fca9 280px,#00ff65 316px,#08ff61 318px,#45ff4b 326px,#6aff32 338px,#79ff27 344px,#96ff0a 362px,#a5ff00 376px,#befa00 392px,#ebe400 446px,#ffb600 500px,#ff7800 570px,#ff4e00 632px,#ff0800 764px,#f80400 776px,#f00000 800px,#d90000 888px,#cb0000 968px,#b90000 1122px,#ab0000 1320px)"></i>
<i style="left:1080px;width:8px;background:linear-gradient(#a00 24px,#eb0000 46px,#f80400 50px,#ff0b00 52px,#ff4b00 66px,#ffb000 82px,#eae500 94px,#befa00 104px,#a2ff02 108px,#90ff10 112px,#77ff29 116px,#4fff45 120px,#2eff54 122px,#02ff63 124px,#00ff74 128px,#00fd94 134px,#00f6dc 146px,#00f0f3 150px,#00ebf8 152px,#00dffe 156px,#00d2ff 160px,#00c4ff 168px,#0df 202px,#00eff5 230px,#00f4e5 244px,#00fcaa 280px,#00ff70 310px,#01ff64 318px,#3eff4e 326px,#49ff49 328px,#61ff38 336px,#77ff29 344px,#94ff0c 362px,#a6ff00 378px,#befa00 394px,#eae500 446px,#ffb600 502px,#ff7900 572px,#ff4e00 634px,#ff0900 766px,#f80400 780px,#f00000 804px,#da0000 892px,#c00 970px,#b90000 1132px,#ac0000 1320px)"></i>
<i style="left:1088px;width:8px;background:linear-gradient(#a00 24px,#eb0000 46px,#f80400 50px,#ff0b00 52px,#ff4b00 66px,#ffb000 82px,#e9e500 94px,#befa00 104px,#a2ff02 108px,#8fff11 112px,#76ff29 116px,#4eff45 120px,#2cff54 122px,#00ff64 124px,#00ff74 128px,#00fd94 134px,#00f6dd 146px,#00f0f4 150px,#00ebf8 152px,#00dfff 156px,#00d2ff 160px,#00c3ff 168px,#0df 204px,#00f0f5 232px,#00f5e3 246px,#00fca8 282px,#00ff71 310px,#00ff65 318px,#0aff61 320px,#45ff4b 328px,#69ff32 340px,#79ff27 346px,#95ff0b 364px,#a7ff00 380px,#bffa00 396px,#eae500 448px,#ffb600 504px,#ff7900 574px,#ff4f00 636px,#ff0800 770px,#f90500 782px,#f00000 808px,#db0000 892px,#ce0000 970px,#ba0000 1138px,#ae0000 1320px)"></i>
<i style="left:1096px;width:8px;background:linear-gradient(#a00 24px,#eb0000 46px,#f80400 50px,#ff0b00 52px,#ff4c00 66px,#ffb100 82px,#e9e500 94px,#bdfa00 104px,#a1ff03 108px,#8fff11 112px,#75ff2a 116px,#4dff46 120px,#2aff55 122px,#00ff64 124px,#00ff75 128px,#00fd95 134px,#00f6de 146px,#00f0f5 150px,#00deff 156px,#00d2ff 160px,#00c3ff 168px,#0df 204px,#00f0f5 232px,#00f4e4 246px,#00fca9 282px,#00ff6f 312px,#02ff63 320px,#3eff4e 328px,#49ff49 330px,#61ff38 338px,#7aff26 348px,#96ff0a 366px,#a5ff00 380px,#bff900 398px,#eae400 450px,#ffb600 506px,#ff7900 576px,#ff4f00 638px,#ff0800 774px,#f90500 786px,#f00000 812px,#db0000 896px,#ce0000 976px,#b00 1144px,#af0000 1320px)"></i>
<i style="left:1104px;width:8px;background:linear-gradient(#a00 24px,#eb0000 46px,#f90500 50px,#ff0c00 52px,#ff4c00 66px,#ffb100 82px,#e9e500 94px,#bdfa00 104px,#a1ff03 108px,#8eff12 112px,#75ff2a 116px,#4cff47 120px,#00ff65 124px,#00ff75 128px,#00fd95 134px,#00f6df 146px,#00f0f5 150px,#00deff 156px,#00d1ff 160px,#00c2ff 168px,#00deff 206px,#00f0f4 234px,#00f4e5 246px,#00fcaa 282px,#00ff71 312px,#00ff65 320px,#0aff60 322px,#45ff4b 330px,#68ff33 342px,#78ff28 348px,#94ff0c 366px,#a5ff00 382px,#befa00 398px,#eae400 452px,#ffb600 508px,#ff7900 578px,#ff4e00 642px,#ff0900 776px,#fa0500 788px,#f00000 816px,#de0000 888px,#cf0000 976px,#bc0000 1144px,#b10000 1320px)"></i>
<i style="left:1112px;width:8px;background:linear-gradient(#a00 24px,#eb0000 46px,#f90500 50px,#ff0c00 52px,#ff4c00 66px,#ffb200 82px,#e8e600 94px,#c6f700 102px,#a1ff03 108px,#98ff08 110px,#74ff2b 116px,#4bff47 120px,#00ff65 124px,#00fe8b 132px,#00f6df 146px,#00eff5 150px,#0df 156px,#00d1ff 160px,#00c2ff 168px,#0df 206px,#00f0f5 234px,#00f4e6 246px,#00fca8 284px,#0f6 320px,#02ff63 322px,#30ff53 328px,#48ff49 332px,#75ff2a 348px,#95ff0b 368px,#a6ff00 384px,#bffa00 400px,#ebe400 454px,#ffb600 510px,#ff7a00 580px,#ff4e00 644px,#ff0900 780px,#fa0500 792px,#f00000 820px,#e00000 886px,#d00000 980px,#bd0000 1146px,#b20000 1320px)"></i>
<i style="left:1120px;width:8px;background:linear-gradient(#a00 24px,#eb0000 46px,#f90500 50px,#ff0c00 52px,#ff4c00 66px,#ffb200 82px,#e8e600 94px,#c6f700 102px,#a0ff03 108px,#98ff09 110px,#73ff2c 116px,#4bff48 120px,#00ff65 124px,#00fe8b 132px,#00f7d4 144px,#00eff6 150px,#0df 156px,#00d1ff 160px,#00c1ff 168px,#0df 206px,#00eff5 234px,#00f4e7 246px,#00f9c5 268px,#00ff70 314px,#00ff65 322px,#0aff60 324px,#44ff4c 332px,#62ff37 342px,#77ff29 350px,#96ff0a 370px,#a4ff00 384px,#bffa00 402px,#ebe400 456px,#ffb600 512px,#ff7800 584px,#ff4f00 646px,#ff0900 784px,#fb0600 794px,#f00000 826px,#db0000 916px,#d10000 980px,#bf0000 1144px,#b40000 1320px)"></i>
<i style="left:1128px;width:8px;background:linear-gradient(#a00 24px,#eb0000 46px,#f90500 50px,#ff0c00 52px,#ff4d00 66px,#ffb300 82px,#e8e600 94px,#c6f700 102px,#a0ff03 108px,#98ff09 110px,#72ff2c 116px,#4aff48 120px,#22ff58 122px,#0f6 124px,#00fe8b 132px,#00f7d5 144px,#00eff6 150px,#0df 156px,#00d0ff 160px,#00c0ff 168px,#00deff 208px,#00f0f5 236px,#00f4e5 248px,#00f9c6 268px,#00ff72 314px,#01ff64 324px,#2eff53 330px,#47ff4a 334px,#64ff36 344px,#78ff28 352px,#94ff0c 370px,#a5ff00 386px,#bff900 404px,#ebe400 458px,#ffb600 514px,#ff7900 586px,#ff4e00 650px,#ff0900 788px,#fc0600 796px,#f00000 830px,#d30000 978px,#c00000 1144px,#b50000 1320px)"></i>
<i style="left:1136px;width:8px;background:linear-gradient(#a00 24px,#eb0000 46px,#f90500 50px,#ff0c00 52px,#ff4d00 66px,#ffb300 82px,#e7e600 94px,#c5f700 102px,#a0ff04 108px,#97ff09 110px,#71ff2d 116px,#49ff49 120px,#20ff58 122px,#0f6 124px,#00fe8c 132px,#00f7d5 144px,#00eef6 150px,#00dcff 156px,#00d0ff 160px,#00c0ff 168px,#0df 208px,#00f0f5 236px,#00f4e6 248px,#00f8cb 266px,#00ff70 316px,#00ff65 324px,#08ff61 326px,#41ff4d 334px,#4aff48 336px,#66ff35 346px,#79ff27 354px,#95ff0b 372px,#a5ff00 388px,#befa00 404px,#d7f000 432px,#ebe400 460px,#ffb600 516px,#ff7900 588px,#ff4e00 652px,#fd0700 798px,#f00000 834px,#d40000 976px,#c20000 1142px,#b70000 1320px)"></i>
<i style="left:1144px;width:8px;background:linear-gradient(#a00 24px,#eb0000 46px,#f90500 50px,#ff0c00 52px,#ff4d00 66px,#ffb400 82px,#e7e600 94px,#c5f700 102px,#a9fe00 106px,#9fff04 108px,#97ff09 110px,#70ff2d 116px,#48ff4a 120px,#1fff59 122px,#0f6 124px,#00fd8c 132px,#00f7d6 144px,#00eef6 150px,#00dcff 156px,#00d0ff 160px,#00bfff 168px,#00deff 210px,#00eff5 236px,#00f4e7 248px,#00f8cf 264px,#00ff72 316px,#00ff64 326px,#45ff4b 336px,#62ff37 346px,#77ff29 354px,#96ff0a 374px,#a6ff00 390px,#befa00 406px,#d7f000 434px,#ebe400 462px,#ffb700 518px,#ff7a00 590px,#ff4e00 656px,#fe0800 800px,#f00000 838px,#d50000 976px,#c30000 1140px,#b80000 1320px)"></i>
<i style="left:1152px;width:8px;background:linear-gradient(#a00 24px,#ec0000 46px,#f90500 50px,#ff0c00 52px,#ff4d00 66px,#ffb400 82px,#e7e700 94px,#c4f700 102px,#a9fe00 106px,#9fff04 108px,#97ff09 110px,#70ff2e 116px,#47ff4a 120px,#1dff5a 122px,#00ff67 124px,#00fd8d 132px,#00f7d7 144px,#00eef6 150px,#00dbff 156px,#00bfff 168px,#0df 210px,#00f0f5 238px,#00f3e8 248px,#00f8d0 264px,#00ff70 318px,#0f6 326px,#05ff62 328px,#30ff53 334px,#48ff4a 338px,#78ff28 356px,#96ff0a 376px,#a6ff00 392px,#befa00 408px,#d7f000 436px,#eae400 464px,#ffb700 520px,#ff7900 594px,#ff4e00 658px,#fe0800 804px,#f00000 844px,#d60000 982px,#c40000 1142px,#ba0000 1320px)"></i>
<i style="left:1160px;width:8px;background:linear-gradient(#a00 24px,#ec0000 46px,#f90500 50px,#ff0d00 52px,#ff4e00 66px,#ffb400 82px,#e6e700 94px,#c4f800 102px,#a8fe00 106px,#9fff04 108px,#97ff0a 110px,#7fff21 114px,#6fff2e 116px,#46ff4b 120px,#1bff5a 122px,#00ff67 124px,#00fd8d 132px,#00f7d7 144px,#00f2ef 148px,#00edf7 150px,#00dbff 156px,#00beff 168px,#0df 210px,#00f0f5 238px,#00f3e9 248px,#00fca9 288px,#00ff72 318px,#00ff65 328px,#41ff4d 338px,#4fff44 342px,#6aff32 352px,#79ff27 358px,#96ff0a 378px,#a7ff00 394px,#befa00 410px,#d7f000 438px,#eae400 466px,#ffb600 524px,#ff7900 596px,#ff4e00 662px,#ff0800 808px,#f00000 848px,#d60000 990px,#c60000 1144px,#b00 1320px)"></i>
<i style="left:1168px;width:8px;background:linear-gradient(#a00 24px,#ec0000 46px,#fa0500 50px,#ff0d00 52px,#ff4e00 66px,#fa0 80px,#ffb500 82px,#e6e700 94px,#c4f800 102px,#a8fe00 106px,#9eff04 108px,#96ff0a 110px,#7eff22 114px,#6eff2f 116px,#45ff4b 120px,#19ff5b 122px,#00ff67 124px,#00fd8e 132px,#00f5e4 146px,#00edf7 150px,#00dbff 156px,#00beff 168px,#00deff 212px,#00eff6 238px,#00f3ea 248px,#00f8cc 268px,#00ff71 320px,#01ff64 330px,#44ff4c 340px,#6bff31 354px,#79ff27 360px,#97ff0a 380px,#a7ff00 396px,#befa00 412px,#d7f000 440px,#eae500 468px,#ffb600 526px,#ff7a00 598px,#ff4e00 664px,#ff0800 812px,#f00000 854px,#d60000 996px,#c70000 1148px,#bc0000 1320px)"></i>
<i style="left:1176px;width:8px;background:linear-gradient(#a00 24px,#ec0000 46px,#fa0500 50px,#ff0d00 52px,#ff4e00 66px,#ffab00 80px,#ffb500 82px,#e6e700 94px,#c3f800 102px,#a7ff00 106px,#9eff05 108px,#96ff0a 110px,#7eff22 114px,#6dff30 116px,#43ff4c 120px,#18ff5c 122px,#00ff67 124px,#00fd8e 132px,#00f7d8 144px,#00f1f0 148px,#00edf7 150px,#00daff 156px,#00bdff 168px,#0df 212px,#00f0f5 240px,#00f3eb 248px,#00fca8 290px,#00ff73 320px,#00ff65 330px,#06ff62 332px,#47ff4b 342px,#6cff30 356px,#7aff26 362px,#94ff0c 380px,#a4ff00 396px,#befa00 414px,#d9ef00 446px,#ebe400 472px,#ffb700 528px,#ff7900 602px,#ff4e00 668px,#ff0800 816px,#f00000 858px,#d70000 1000px,#c80000 1150px,#be0000 1320px)"></i>
<i style="left:1184px;width:8px;background:linear-gradient(#a00 24px,#ec0000 46px,#fa0500 50px,#ff0d00 52px,#ff4f00 66px,#ffab00 80px,#ffb500 82px,#ece200 92px,#e5e700 94px,#c3f800 102px,#a6ff00 106px,#9eff05 108px,#95ff0b 110px,#7dff23 114px,#6cff30 116px,#42ff4d 120px,#16ff5c 122px,#00ff68 124px,#00fd8e 132px,#00f7d9 144px,#00f1f0 148px,#00ecf7 150px,#00daff 156px,#00bcff 168px,#0df 212px,#00eff5 240px,#00f1f1 244px,#00f7d5 264px,#00ff71 322px,#00ff65 332px,#48ff4a 344px,#63ff37 354px,#77ff29 362px,#95ff0b 382px,#a4ff00 398px,#befa00 416px,#d6f000 444px,#ebe400 474px,#ffb500 532px,#ff7a00 604px,#ff4f00 670px,#fe0800 822px,#f00000 864px,#d70000 1008px,#c90000 1150px,#bf0000 1320px)"></i>
<i style="left:1192px;width:8px;background:linear-gradient(#a00 24px,#ec0000 46px,#fa0500 50px,#ff0d00 52px,#ff4f00 66px,#ffac00 80px,#ffb600 82px,#ece200 92px,#e5e700 94px,#c3f800 102px,#a6ff00 106px,#9dff05 108px,#95ff0b 110px,#7dff23 114px,#6bff31 116px,#40ff4d 120px,#14ff5d 122px,#00ff68 124px,#00fd8f 132px,#00f7d9 144px,#00f1f1 148px,#00ecf7 150px,#00daff 156px,#00bcff 168px,#00deff 214px,#00eff6 240px,#00f1ef 246px,#00f7d3 266px,#00ff70 324px,#01ff64 334px,#41ff4d 344px,#49ff49 346px,#64ff36 356px,#77ff28 364px,#95ff0b 384px,#a4ff00 400px,#befa00 418px,#d8f000 448px,#ebe300 478px,#ffb600 534px,#ff7900 608px,#ff4e00 674px,#fe0800 826px,#f00000 870px,#d80000 1014px,#ca0000 1152px,#c00000 1320px)"></i>
<i style="left:1200px;width:8px;background:linear-gradient(#a00 24px,#ec0000 46px,#fa0500 50px,#ff0d00 52px,#ff4f00 66px,#ffac00 80px,#ffb600 82px,#ece200 92px,#e5e800 94px,#c2f800 102px,#a5ff00 106px,#9dff05 108px,#94ff0c 110px,#7cff24 114px,#6bff31 116px,#3eff4e 120px,#12ff5e 122px,#00ff68 124px,#00fd8f 132px,#00f6da 144px,#00f1f2 148px,#00ecf7 150px,#00e0fe 154px,#0bf 168px,#0df 214px,#00f1f3 244px,#00f7d7 264px,#00ff72 324px,#0f6 334px,#05ff62 336px,#43ff4c 346px,#78ff28 366px,#95ff0b 386px,#a5ff00 402px,#befa00 420px,#d7f000 450px,#ebe300 480px,#ffb700 536px,#ff7a00 610px,#ff4e00 678px,#ff0800 830px,#f00000 874px,#d90000 1018px,#c00 1152px,#c20000 1320px)"></i>
<i style="left:1208px;width:8px;background:linear-gradient(#a00 24px,#ec0000 46px,#fa0600 50px,#ff0e00 52px,#ff5000 66px,#ffad00 80px,#ffb700 82px,#ece300 92px,#c2f900 102px,#a5ff00 106px,#94ff0c 110px,#7cff24 114px,#6aff32 116px,#56ff40 118px,#3cff4f 120px,#10ff5e 122px,#00ff69 124px,#00fd90 132px,#00f6db 144px,#00f1f2 148px,#00ebf8 150px,#00dffe 154px,#00baff 168px,#00deff 216px,#00f0f4 244px,#00f7d5 266px,#00ff71 326px,#00ff65 336px,#08ff61 338px,#46ff4b 348px,#6fff2e 364px,#78ff28 368px,#95ff0b 388px,#a4ff00 404px,#befa00 422px,#d7f000 452px,#ebe400 482px,#ffb500 540px,#ff7900 614px,#ff4f00 680px,#ff0800 834px,#f00000 880px,#d90000 1024px,#cd0000 1154px,#c30000 1320px)"></i>
<i style="left:1216px;width:8px;background:linear-gradient(#a00 24px,#ec0000 46px,#fb0600 50px,#ff0e00 52px,#ff5000 66px,#ffad00 80px,#ffb700 82px,#ebe300 92px,#c1f900 102px,#a4ff00 106px,#93ff0d 110px,#7bff25 114px,#69ff33 116px,#55ff41 118px,#3aff4f 120px,#0eff5f 122px,#00ff69 124px,#00fd90 132px,#00f6db 144px,#00f1f3 148px,#00ebf8 150px,#00dfff 154px,#00b9ff 168px,#0df 216px,#00f1f3 246px,#00f7d4 268px,#00ff72 326px,#00ff64 338px,#47ff4a 350px,#66ff35 362px,#79ff27 370px,#95ff0b 390px,#a4ff00 406px,#befa00 424px,#d8ef00 456px,#ebe400 484px,#ffb600 542px,#ff7a00 616px,#ff4e00 684px,#fe0800 840px,#f00000 886px,#da0000 1026px,#ce0000 1154px,#c50000 1320px)"></i>
<i style="left:1224px;width:8px;background:linear-gradient(#a00 24px,#ec0000 46px,#fb0600 50px,#ff0e00 52px,#ff5000 66px,#ffae00 80px,#feb700 82px,#ebe400 92px,#c1f900 102px,#a4ff01 106px,#93ff0d 110px,#7aff26 114px,#54ff41 118px,#38ff50 120px,#0cff60 122px,#00ff69 124px,#00fd91 132px,#00f6dc 144px,#00f0f4 148px,#00deff 154px,#00b9ff 168px,#0df 216px,#00f0f4 246px,#00f7d5 268px,#00ff71 328px,#0f6 338px,#02ff63 340px,#34ff52 348px,#48ff4a 352px,#75ff2a 370px,#95ff0b 392px,#a4ff00 408px,#befa00 426px,#d8ef00 458px,#ebe300 488px,#ffb700 544px,#ff7900 620px,#ff4e00 688px,#ff0800 844px,#f00000 892px,#dc0000 1024px,#d00000 1152px,#c60000 1320px)"></i>
<i style="left:1232px;width:8px;background:linear-gradient(#a00 24px,#ec0000 46px,#fb0600 50px,#ff0e00 52px,#ff5100 66px,#ffae00 80px,#feb800 82px,#ebe400 92px,#c0f900 102px,#a4ff01 106px,#92ff0e 110px,#7aff26 114px,#53ff42 118px,#36ff51 120px,#0aff60 122px,#00ff6a 124px,#00fd91 132px,#00f6dd 144px,#00f0f4 148px,#00deff 154px,#00b8ff 168px,#00deff 218px,#00f0f5 246px,#00f7d7 268px,#00ff70 330px,#00ff65 340px,#06ff62 342px,#36ff51 350px,#49ff49 354px,#75ff2a 372px,#96ff0a 394px,#a4ff00 410px,#bdfa00 428px,#d8f000 460px,#ebe400 490px,#ffb600 548px,#ff7900 624px,#ff4e00 692px,#fe0800 850px,#f00000 898px,#d00 1026px,#d10000 1154px,#c70000 1320px)"></i>
<i style="left:1240px;width:8px;background:linear-gradient(#a00 24px,#ec0000 46px,#fb0600 50px,#ff0e00 52px,#ff5100 66px,#ffae00 80px,#ebe400 92px,#c0f900 102px,#a3ff01 106px,#91ff0f 110px,#79ff27 114px,#66ff35 116px,#52ff43 118px,#34ff52 120px,#08ff61 122px,#00ff6a 124px,#00fd92 132px,#00f6dd 144px,#00f0f5 148px,#00deff 154px,#00b7ff 168px,#0df 218px,#00f0f4 248px,#00f7d5 270px,#00fe7e 322px,#00ff65 342px,#43ff4c 354px,#71ff2d 372px,#96ff0a 396px,#a4ff00 412px,#bdfa00 430px,#d7f000 462px,#ebe400 492px,#ffb700 550px,#ff7900 626px,#ff4f00 694px,#ff0800 854px,#f20100 890px,#de0000 1028px,#c90000 1320px)"></i>
<i style="left:1248px;width:8px;background:linear-gradient(#a00 24px,#ec0000 46px,#fb0600 50px,#ff0f00 52px,#ff5200 66px,#ffaf00 80px,#eae400 92px,#bff900 102px,#a3ff02 106px,#91ff0f 110px,#79ff27 114px,#51ff43 118px,#31ff52 120px,#06ff62 122px,#00ff6b 124px,#00fd93 132px,#00f6de 144px,#00f0f5 148px,#0df 154px,#00b6ff 168px,#00deff 220px,#00f0f5 248px,#00f7d6 270px,#00fe83 320px,#00ff64 344px,#46ff4b 356px,#69ff33 370px,#7aff26 378px,#96ff0a 398px,#a4ff00 414px,#bffa00 434px,#d7f000 464px,#ebe300 496px,#ffb600 554px,#ff7900 630px,#ff4e00 698px,#ff0800 860px,#f20100 896px,#df0000 1032px,#ca0000 1320px)"></i>
<i style="left:1256px;width:8px;background:linear-gradient(#a00 24px,#ed0000 46px,#fc0600 50px,#ff0f00 52px,#ff5200 66px,#ffaf00 80px,#eae500 92px,#bffa00 102px,#a2ff02 106px,#90ff10 110px,#78ff28 114px,#50ff44 118px,#2fff53 120px,#03ff63 122px,#00ff73 126px,#00fd93 132px,#00f6df 144px,#00eff5 148px,#0df 154px,#00b5ff 168px,#0df 220px,#00f0f3 250px,#00f7d5 272px,#00fe88 318px,#00ff70 334px,#00ff65 344px,#04ff63 346px,#47ff4a 358px,#77ff29 378px,#96ff0a 400px,#a4ff00 416px,#bffa00 436px,#d8ef00 468px,#ebe400 498px,#ffb700 556px,#ff7800 634px,#ff4e00 702px,#ff0800 866px,#f30200 900px,#e00000 1030px,#c00 1320px)"></i>
<i style="left:1264px;width:8px;background:linear-gradient(#a00 24px,#ed0000 46px,#fc0600 50px,#ff0f00 52px,#ff5300 66px,#ffb000 80px,#eae500 92px,#befa00 102px,#a2ff02 106px,#90ff10 110px,#77ff29 114px,#4fff45 118px,#2dff54 120px,#01ff64 122px,#00ff74 126px,#00fd94 132px,#00f6df 144px,#00eff6 148px,#00dcff 154px,#00b4ff 168px,#0df 220px,#00f0f5 250px,#00f7d6 272px,#00fe89 318px,#00ff72 334px,#00ff65 346px,#07ff61 348px,#35ff51 356px,#48ff4a 360px,#78ff28 380px,#96ff0a 402px,#a4ff00 418px,#bffa00 438px,#d8f000 470px,#ebe400 500px,#ffb600 560px,#ff7900 636px,#ff4e00 706px,#fe0800 872px,#f30200 906px,#e20000 1030px,#cd0000 1320px)"></i>
<i style="left:1272px;width:8px;background:linear-gradient(#a00 24px,#ed0000 46px,#fc0600 50px,#ff0f00 52px,#ff5300 66px,#ffb000 80px,#e9e500 92px,#befa00 102px,#a2ff02 106px,#8fff11 110px,#76ff29 114px,#4eff46 118px,#2bff55 120px,#00ff64 122px,#00ff75 126px,#00fd95 132px,#00f6e0 144px,#00eff6 148px,#00dcff 154px,#00b4ff 168px,#00b8ff 170px,#00deff 222px,#00f0f3 252px,#00f7d5 274px,#00fe88 320px,#00ff71 336px,#00ff64 348px,#42ff4c 360px,#6fff2e 378px,#78ff28 382px,#96ff0a 404px,#a4ff00 420px,#bffa00 440px,#d8f000 472px,#ebe300 504px,#ffb700 562px,#ff7900 640px,#ff4e00 710px,#ff0800 878px,#f30200 912px,#e30000 1028px,#cf0000 1320px)"></i>
<i style="left:1280px;width:8px;background:linear-gradient(#a00 24px,#ed0000 46px,#fc0700 50px,#ff5300 66px,#ffb000 80px,#e9e500 92px,#bdfa00 102px,#a1ff03 106px,#8fff11 110px,#75ff2a 114px,#4dff46 118px,#00ff65 122px,#00fe8a 130px,#00f7d4 142px,#00eef6 148px,#00dbff 154px,#00b3ff 168px,#00b7ff 170px,#0df 222px,#00f0f5 252px,#00f7d6 274px,#00fe89 320px,#00ff70 338px,#0f6 348px,#02ff63 350px,#44ff4c 362px,#75ff2a 382px,#96ff0a 406px,#a4ff00 422px,#befa00 442px,#d7f000 474px,#ebe400 506px,#ffb600 566px,#ff7900 644px,#ff4e00 714px,#ff0800 884px,#f30200 918px,#e50000 1028px,#d00000 1320px)"></i>
<i style="left:1288px;width:8px;background:linear-gradient(#a00 24px,#ed0000 46px,#fc0700 50px,#ff5400 66px,#ffb100 80px,#e8e600 92px,#bdfa00 102px,#a1ff03 106px,#8eff12 110px,#74ff2b 114px,#4cff47 118px,#00ff65 122px,#00fe8b 130px,#00f7d5 142px,#00eef6 148px,#00dbff 154px,#00b2ff 168px,#00b6ff 170px,#00deff 224px,#00f0f3 254px,#00f7d5 276px,#00fe8b 320px,#00ff71 338px,#00ff65 350px,#06ff62 352px,#46ff4b 364px,#75ff2a 384px,#96ff0a 408px,#a4ff00 424px,#befa00 444px,#d7f000 476px,#ebe400 508px,#ffb700 568px,#ff7800 648px,#ff4e00 718px,#ff0800 890px,#f40200 924px,#e60000 1028px,#d10000 1320px)"></i>
<i style="left:1296px;width:8px;background:linear-gradient(#a00 24px,#ed0000 46px,#fd0700 50px,#ff5400 66px,#ffb100 80px,#e8e600 92px,#c6f700 100px,#a0ff03 106px,#98ff08 108px,#73ff2b 114px,#4bff48 118px,#00ff65 122px,#00fe8b 130px,#00f7d5 142px,#00eef6 148px,#00daff 154px,#00b1ff 168px,#00b5ff 170px,#0df 224px,#00f0f5 254px,#00f7d7 276px,#00fd8c 320px,#00ff70 340px,#00ff64 352px,#48ff4a 366px,#76ff29 386px,#96ff0a 410px,#a4ff00 426px,#befa00 446px,#d8ef00 480px,#ebe300 512px,#ffb600 572px,#ff7800 652px,#ff4e00 722px,#ff0800 896px,#f40200 930px,#e70000 1028px,#d30000 1320px)"></i>
<i style="left:1304px;width:8px;background:linear-gradient(#a00 24px,#ed0000 46px,#fd0700 50px,#ff4900 64px,#ffb200 80px,#e8e600 92px,#c6f700 100px,#a0ff03 106px,#98ff09 108px,#72ff2c 114px,#4aff48 118px,#22ff58 120px,#0f6 122px,#00fe8c 130px,#00f7d6 142px,#00f2ee 146px,#00edf7 148px,#00daff 154px,#00b0ff 168px,#00b4ff 170px,#00deff 226px,#00f0f3 256px,#00f7d5 278px,#00fe8b 322px,#00ff70 342px,#01ff64 354px,#38ff50 364px,#49ff49 368px,#77ff29 388px,#97ff0a 412px,#a7ff00 430px,#befa00 448px,#d8f000 482px,#ebe400 514px,#ffb600 576px,#ff7800 656px,#ff4f00 726px,#ff0800 904px,#f40200 938px,#e90000 1028px,#d40000 1320px)"></i>
<i style="left:1312px;width:8px;background:linear-gradient(#a00 24px,#ed0000 46px,#fd0700 50px,#ff4900 64px,#ffb200 80px,#e7e600 92px,#c5f700 100px,#a0ff04 106px,#98ff09 108px,#71ff2d 114px,#49ff49 118px,#20ff59 120px,#0f6 122px,#00fd8c 130px,#00f7d7 142px,#00f2ef 146px,#00edf7 148px,#00d9ff 154px,#00afff 168px,#00b3ff 170px,#0df 226px,#00f0f5 256px,#00f7d7 278px,#00fd8d 322px,#00ff71 342px,#00ff65 354px,#04ff63 356px,#44ff4c 368px,#77ff29 390px,#97ff0a 414px,#a6ff00 432px,#befa00 450px,#d7f000 484px,#ebe400 516px,#ffb700 578px,#ff7800 660px,#ff4e00 732px,#ff0800 910px,#f40200 944px,#ea0000 1026px,#d60000 1320px)"></i>
<i style="left:1320px;width:8px;background:linear-gradient(#a00 24px,#ed0000 46px,#fd0700 50px,#ff4a00 64px,#ffb200 80px,#e7e600 92px,#c5f700 100px,#9fff04 106px,#97ff09 108px,#70ff2d 114px,#48ff4a 118px,#1eff59 120px,#0f6 122px,#00fd8d 130px,#00f7d7 142px,#00f1f0 146px,#00ecf7 148px,#00d9ff 154px,#00afff 168px,#00c9ff 198px,#00deff 228px,#00f0f3 258px,#00f7d5 280px,#00fe8b 324px,#00ff70 344px,#00ff65 356px,#07ff61 358px,#46ff4b 370px,#78ff28 392px,#97ff0a 416px,#a6ff00 434px,#bdfa00 452px,#d7f000 486px,#ebe400 520px,#ffb600 582px,#f70 664px,#ff4e00 736px,#ff0800 918px,#f40200 952px,#eb0000 1026px,#d70000 1320px)"></i>
<i style="left:1328px;width:8px;background:linear-gradient(#a00 24px,#ed0000 46px,#fd0700 50px,#ff4a00 64px,#ffb300 80px,#e7e600 92px,#c5f700 100px,#a9fe00 104px,#9fff04 106px,#97ff09 108px,#6fff2e 114px,#47ff4a 118px,#1cff5a 120px,#00ff67 122px,#00fd8d 130px,#00f7d8 142px,#00f1f0 146px,#00ecf7 148px,#00dffe 152px,#00aeff 168px,#00c5ff 194px,#0df 228px,#00f0f5 258px,#00f7d7 280px,#00fd8d 324px,#00ff6f 346px,#00ff64 358px,#47ff4a 372px,#74ff2b 392px,#97ff0a 418px,#a6ff00 436px,#bdfa00 454px,#d8ef00 490px,#ebe400 522px,#ffb600 586px,#f70 668px,#ff4e00 742px,#ff0800 924px,#f50200 960px,#ed0000 1024px,#d80000 1320px)"></i>
<i style="left:1336px;width:8px;background:linear-gradient(#a00 24px,#ed0000 46px,#fe0700 50px,#ff4a00 64px,#ffb300 80px,#e7e700 92px,#c4f700 100px,#a9fe00 104px,#9fff04 106px,#97ff0a 108px,#7fff21 112px,#6eff2f 114px,#45ff4b 118px,#1aff5b 120px,#00ff67 122px,#00fd8e 130px,#00f7d8 142px,#00f1f1 146px,#00ecf7 148px,#00dffe 152px,#00adff 168px,#00c0ff 188px,#0df 228px,#00f0f3 260px,#00f7d5 282px,#00fd8e 324px,#00ff71 346px,#00ff65 358px,#03ff63 360px,#37ff50 370px,#48ff49 374px,#75ff2a 394px,#95ff0b 418px,#a6ff00 438px,#bffa00 458px,#d8f000 492px,#ebe300 526px,#ffb700 588px,#f70 672px,#ff4e00 746px,#ff0800 932px,#f50300 968px,#ef0000 1022px,#da0000 1320px)"></i>
<i style="left:1344px;width:8px;background:linear-gradient(#a00 24px,#e00 46px,#fe0700 50px,#ff4a00 64px,#ffb300 80px,#e6e700 92px,#c4f800 100px,#a8fe00 104px,#9fff04 106px,#96ff0a 108px,#7eff22 112px,#6eff2f 114px,#43ff4c 118px,#17ff5c 120px,#00ff68 122px,#00fd8e 130px,#00f7d9 142px,#00f1f1 146px,#00ebf8 148px,#00dfff 152px,#00acff 168px,#00bfff 188px,#00deff 230px,#00f0f5 260px,#00f7d7 282px,#00fd8d 326px,#00ff70 348px,#00ff65 360px,#06ff62 362px,#43ff4c 374px,#75ff2a 396px,#95ff0b 420px,#a6ff00 440px,#bffa00 460px,#d7f000 494px,#ebe400 528px,#ffb600 592px,#ff7900 674px,#ff4f00 750px,#ff0800 940px,#f50300 976px,#f00000 1022px,#db0000 1320px)"></i>
<i style="left:1352px;width:8px;background:linear-gradient(#a00 24px,#e00 46px,#fe0700 50px,#ff4a00 64px,#ffb300 80px,#e6e700 92px,#c4f800 100px,#a8fe00 104px,#9eff04 106px,#96ff0a 108px,#7eff22 112px,#6dff30 114px,#41ff4d 118px,#15ff5c 120px,#00ff68 122px,#00fd8f 130px,#00f7d9 142px,#00f1f2 146px,#00ebf8 148px,#00deff 152px,#00abff 168px,#00beff 188px,#0df 230px,#00f0f3 262px,#00f7d5 284px,#00fd8e 326px,#00ff72 348px,#00ff64 362px,#45ff4b 376px,#76ff2a 398px,#95ff0b 422px,#a6ff00 442px,#befa00 462px,#d7f000 496px,#ebe300 532px,#ffb600 596px,#f70 680px,#ff4e00 756px,#ff0b00 938px,#f70300 980px,#f00000 1036px,#d00 1320px)"></i>
<i style="left:1360px;width:8px;background:linear-gradient(#a00 24px,#e00 46px,#fe0700 50px,#ff4a00 64px,#ffb400 80px,#e6e700 92px,#c4f800 100px,#a8fe00 104px,#9eff05 106px,#96ff0a 108px,#7dff23 112px,#6cff30 114px,#3fff4d 118px,#13ff5d 120px,#00ff68 122px,#00fd8f 130px,#00f6da 142px,#00f1f3 146px,#00ebf8 148px,#00deff 152px,#00abff 168px,#00bfff 190px,#00deff 232px,#00f0f5 262px,#00f7d7 284px,#00fd8d 328px,#00ff71 350px,#01ff64 364px,#46ff4b 378px,#76ff29 400px,#95ff0b 424px,#a6ff00 444px,#befa00 464px,#d8ef00 500px,#ebe400 534px,#ffb600 600px,#ff7900 682px,#ff5200 754px,#ff2b00 852px,#ff0e00 936px,#ff0800 958px,#f90500 982px,#f00000 1054px,#de0000 1320px)"></i>
<i style="left:1368px;width:8px;background:linear-gradient(#a00 24px,#e00 46px,#fe0700 50px,#ff4b00 64px,#ffb400 80px,#ece100 90px,#e6e700 92px,#c3f800 100px,#a7ff00 104px,#9eff05 106px,#95ff0b 108px,#7dff23 112px,#6bff31 114px,#3dff4e 118px,#12ff5e 120px,#00ff69 122px,#00fd90 130px,#00f6da 142px,#00f0f3 146px,#00eaf8 148px,#0df 152px,#0af 168px,#00bfff 190px,#0df 232px,#00f0f3 264px,#00f7d5 286px,#00fd8f 328px,#00ff70 352px,#00ff65 364px,#04ff63 366px,#47ff4a 380px,#76ff29 402px,#95ff0b 426px,#a5ff00 446px,#befa00 466px,#d8f000 502px,#ebe400 536px,#ffb600 604px,#ff7900 686px,#ff5400 754px,#ff2c00 852px,#ff0f00 940px,#ff0800 966px,#fa0500 988px,#f00000 1072px,#df0000 1320px)"></i>
<i style="left:1376px;width:8px;background:linear-gradient(#a00 24px,#e00 46px,#fe0700 50px,#ff4b00 64px,#ffb400 80px,#ece100 90px,#e6e700 92px,#c3f800 100px,#a7ff00 104px,#9eff05 106px,#95ff0b 108px,#7cff24 112px,#6aff32 114px,#56ff40 116px,#3cff4f 118px,#10ff5e 120px,#00ff69 122px,#00fd90 130px,#00f6db 142px,#00f0f4 146px,#00eaf8 148px,#0df 152px,#00a9ff 168px,#00bfff 192px,#00deff 234px,#00f0f4 264px,#00f7d7 286px,#00fd8d 330px,#00ff71 352px,#00ff65 366px,#48ff49 382px,#77ff29 404px,#95ff0b 428px,#a5ff00 448px,#befa00 468px,#d7f000 504px,#ebe400 540px,#ffb600 608px,#ff7900 690px,#ff5b00 746px,#f30 840px,#f10 938px,#ff0800 976px,#f30200 1050px,#e00000 1320px)"></i>
<i style="left:1384px;width:8px;background:linear-gradient(#a00 24px,#e00 46px,#fe0800 50px,#ff4b00 64px,#ffb400 80px,#ece100 90px,#e6e700 92px,#c3f800 100px,#a7ff00 104px,#9eff05 106px,#95ff0b 108px,#7cff24 112px,#6aff32 114px,#55ff41 116px,#3aff4f 118px,#0eff5f 120px,#00ff69 122px,#00fd90 130px,#00f6db 142px,#00f0f4 146px,#00eaf8 148px,#0df 152px,#00a8ff 168px,#00bfff 192px,#0df 234px,#00f0f3 266px,#00f7d8 286px,#00fd8f 330px,#00ff70 354px,#00ff64 368px,#43ff4c 382px,#77ff29 406px,#95ff0b 430px,#a5ff00 450px,#bffa00 472px,#d8ef00 508px,#ebe400 542px,#ffb700 610px,#ff7a00 692px,#ff6300 734px,#ff3900 828px,#ff1500 932px,#ff0800 986px,#f50300 1052px,#e20000 1320px)"></i>
<i style="left:1392px;width:8px;background:linear-gradient(#a00 24px,#e00 46px,#fe0800 50px,#ff4b00 64px,#ffb400 80px,#ece100 90px,#e6e700 92px,#c3f800 100px,#a7ff00 104px,#9dff05 106px,#95ff0b 108px,#7cff24 112px,#69ff33 114px,#54ff41 116px,#38ff50 118px,#0cff60 120px,#00ff69 122px,#00fd91 130px,#00f6dc 142px,#00f0f5 146px,#00eaf9 148px,#00dcff 152px,#00a8ff 168px,#00beff 192px,#00deff 236px,#00f0f4 266px,#00f7d7 288px,#00fd90 330px,#00ff70 356px,#00ff65 368px,#02ff63 370px,#45ff4b 384px,#78ff28 408px,#95ff0b 432px,#a5ff00 452px,#bffa00 474px,#d8f000 510px,#ebe400 546px,#ffb700 614px,#ff7c00 694px,#ff6b00 724px,#ff3b00 826px,#ff1900 926px,#ff0800 998px,#f60300 1058px,#e30000 1320px)"></i>
<i style="left:1400px;width:8px;background:linear-gradient(#a00 24px,#e00 46px,#fe0800 50px,#ff4b00 64px,#ffb400 80px,#ece100 90px,#e6e700 92px,#c3f800 100px,#a7ff00 104px,#9dff05 106px,#94ff0c 108px,#7bff25 112px,#68ff33 114px,#53ff42 116px,#36ff51 118px,#0aff60 120px,#00ff6a 122px,#00fd91 130px,#00f6dc 142px,#00f0f5 146px,#00dcff 152px,#00a7ff 168px,#00bfff 194px,#0df 236px,#00f1f3 268px,#00f7d8 288px,#00fd8f 332px,#00ff71 356px,#00ff65 370px,#05ff62 372px,#46ff4b 386px,#78ff28 410px,#95ff0b 434px,#a5ff00 454px,#befa00 476px,#d7f000 512px,#ebe400 548px,#ffb700 618px,#ff7000 718px,#ff3d00 826px,#ff1c00 922px,#ff0800 1014px,#f80400 1064px,#f00000 1148px,#e50000 1320px)"></i>
<i style="left:1408px;width:8px;background:linear-gradient(#a00 24px,#e00 46px,#fe0800 50px,#ff4b00 64px,#ffb400 80px,#ece100 90px,#e6e700 92px,#c3f800 100px,#a7ff00 104px,#9dff05 106px,#94ff0c 108px,#7bff25 112px,#68ff33 114px,#53ff42 116px,#34ff51 118px,#09ff61 120px,#00ff6a 122px,#00fd91 130px,#00f6dc 142px,#00f0f5 146px,#00dbff 152px,#00a7ff 168px,#00bfff 194px,#0df 236px,#00f0f4 268px,#00f7d6 290px,#00fd90 332px,#00ff70 358px,#00ff64 372px,#47ff4a 388px,#74ff2b 410px,#95ff0b 436px,#a5ff00 456px,#befa00 478px,#d8f000 516px,#ebe400 552px,#ffb600 622px,#ff7000 722px,#ff3d00 830px,#ff1d00 922px,#ff0f00 984px,#fc0600 1054px,#f00000 1168px,#e60000 1320px)"></i>
<i style="left:1416px;width:8px;background:linear-gradient(#a00 24px,#e00 46px,#fe0800 50px,#ff4b00 64px,#ffb400 80px,#ece100 90px,#e6e700 92px,#c3f800 100px,#a7ff00 104px,#9dff05 106px,#94ff0c 108px,#7bff25 112px,#52ff43 116px,#33ff52 118px,#07ff61 120px,#00ff6a 122px,#00fd92 130px,#00f6dd 142px,#00eff5 146px,#00dbff 152px,#00a6ff 168px,#00beff 194px,#0df 238px,#00f0f5 268px,#00f7d8 290px,#00fd8f 334px,#00ff70 360px,#00ff64 374px,#48ff4a 390px,#75ff2a 412px,#97ff0a 440px,#a4ff00 458px,#befa00 480px,#d7f000 518px,#ebe300 556px,#ffb600 626px,#ff7200 724px,#ff3d00 832px,#ff2100 916px,#ff1300 972px,#ff0800 1048px,#f00000 1188px,#e70000 1320px)"></i>
<i style="left:1424px;width:8px;background:linear-gradient(#a00 24px,#e00 46px,#fe0800 50px,#ff4b00 64px,#ffb400 80px,#ece100 90px,#e6e700 92px,#c3f800 100px,#a7ff00 104px,#9dff05 106px,#94ff0c 108px,#7aff26 112px,#51ff43 116px,#31ff52 118px,#06ff62 120px,#00ff6a 122px,#00fd92 130px,#00f6dd 142px,#00eff5 146px,#00dbff 152px,#00b0ff 164px,#00a5ff 168px,#00bfff 196px,#0df 238px,#00f0f4 270px,#00f7d6 292px,#00fd90 334px,#00ff71 360px,#00ff65 374px,#02ff63 376px,#3aff4f 388px,#49ff49 392px,#75ff2a 414px,#97ff0a 442px,#a6ff00 462px,#bffa00 484px,#d9ef00 524px,#ebe400 558px,#ffb600 630px,#ff7300 726px,#ff3f00 832px,#ff2600 904px,#ff1600 970px,#ff0800 1066px,#f00000 1210px,#e90000 1320px)"></i>
<i style="left:1432px;width:8px;background:linear-gradient(#a00 24px,#e00 46px,#fe0800 50px,#ff4b00 64px,#ffb400 80px,#ece100 90px,#e6e700 92px,#c3f800 100px,#a7ff00 104px,#9dff05 106px,#94ff0c 108px,#7aff26 112px,#50ff44 116px,#30ff53 118px,#04ff62 120px,#00ff6b 122px,#00fd92 130px,#00f6dd 142px,#00eff6 146px,#00e1fd 150px,#00afff 164px,#00a5ff 168px,#00beff 196px,#00deff 240px,#00f0f5 270px,#00f7d8 292px,#00fd8f 336px,#00ff70 362px,#00ff65 376px,#04ff62 378px,#44ff4c 392px,#75ff2a 416px,#96ff0a 444px,#a6ff00 464px,#bffa00 486px,#d8f000 524px,#ebe400 562px,#ffb600 634px,#ff7400 728px,#ff3f00 834px,#ff2900 898px,#ff1700 976px,#ff0800 1086px,#f50200 1168px,#ea0000 1320px)"></i>
<i style="left:1440px;width:8px;background:linear-gradient(#a00 24px,#e00 46px,#fe0800 50px,#ff4b00 64px,#ffb400 80px,#ece100 90px,#e6e700 92px,#c3f800 100px,#a7ff00 104px,#9dff05 106px,#94ff0c 108px,#7aff26 112px,#50ff44 116px,#2eff54 118px,#03ff63 120px,#00ff73 124px,#00fd93 130px,#00f6de 142px,#00eff6 146px,#00e1fd 150px,#00aeff 164px,#00a4ff 168px,#00beff 196px,#0df 240px,#00f0f4 272px,#00f7d6 294px,#00fd90 336px,#00ff70 364px,#00ff64 378px,#45ff4b 394px,#75ff2a 418px,#96ff0a 446px,#a6ff00 466px,#befa00 488px,#d7f000 526px,#ebe400 564px,#ffb600 638px,#ff7400 732px,#ff4000 836px,#ff2c00 892px,#ff1900 976px,#ff0800 1104px,#f50300 1186px,#ec0000 1320px)"></i>
<i style="left:1448px;width:8px;background:linear-gradient(#a00 24px,#e00 46px,#fe0800 50px,#ff4b00 64px,#ffb400 80px,#ece100 90px,#e6e700 92px,#c3f800 100px,#a7ff00 104px,#9dff05 106px,#94ff0c 108px,#79ff27 112px,#4fff45 116px,#2dff54 118px,#01ff64 120px,#00ff74 124px,#00fd93 130px,#00f6de 142px,#00eef6 146px,#00e1fd 150px,#00adff 164px,#00a4ff 168px,#00a9ff 170px,#00beff 196px,#00deff 242px,#00f0f5 272px,#00f7d7 294px,#00fd8f 338px,#00ff71 364px,#00ff64 380px,#46ff4b 396px,#75ff2a 420px,#96ff0a 448px,#a5ff00 468px,#befa00 490px,#d8f000 530px,#ebe400 568px,#ffb600 642px,#ff7500 736px,#ff4100 836px,#ff3000 884px,#ff1c00 974px,#ff0800 1124px,#f50300 1204px,#ed0000 1320px)"></i>
<i style="left:1456px;width:8px;background:linear-gradient(#a00 24px,#e00 46px,#fe0800 50px,#ff4b00 64px,#ffb400 80px,#ece100 90px,#e6e700 92px,#c3f800 100px,#a7ff00 104px,#9dff05 106px,#93ff0d 108px,#79ff27 112px,#4eff45 116px,#2bff55 118px,#00ff64 120px,#00ff74 124px,#00fd93 130px,#00f6de 142px,#00eef6 146px,#00e0fe 150px,#00adff 164px,#00a3ff 168px,#00acff 170px,#0df 242px,#00f0f3 274px,#00f7d9 294px,#00fd90 338px,#00ff70 366px,#01ff63 382px,#47ff4b 398px,#75ff2a 422px,#96ff0a 450px,#a5ff00 470px,#bdfa00 492px,#d7f000 532px,#ebe400 572px,#ffb600 646px,#ff7500 740px,#ff4e00 812px,#f30 878px,#ff1e00 972px,#ff0b00 1118px,#ef0000 1320px)"></i>
<i style="left:1464px;width:8px;background:linear-gradient(#a00 24px,#e00 46px,#fe0800 50px,#ff4b00 64px,#ffb400 80px,#ece100 90px,#e6e700 92px,#c3f800 100px,#a7ff00 104px,#93ff0d 108px,#79ff27 112px,#4dff46 116px,#2aff55 118px,#00ff64 120px,#00ff74 124px,#00fd94 130px,#00f6de 142px,#00eef6 146px,#00d9ff 152px,#00b3ff 162px,#00a2ff 168px,#00aeff 170px,#00deff 244px,#00f0f4 274px,#00f7d7 296px,#00fd91 338px,#00ff70 368px,#00ff65 382px,#03ff63 384px,#47ff4a 400px,#76ff2a 424px,#96ff0a 452px,#a5ff00 472px,#bffa00 496px,#d8f000 536px,#ebe300 576px,#ffb600 650px,#ff7600 742px,#ff4e00 816px,#ff3700 870px,#ff2600 940px,#ff1600 1046px,#ff0800 1166px,#f10000 1320px)"></i>
<i style="left:1472px;width:8px;background:linear-gradient(#a00 24px,#e00 46px,#fe0800 50px,#ff4b00 64px,#ffb400 80px,#ece100 90px,#e6e700 92px,#c3f800 100px,#a7ff00 104px,#93ff0d 108px,#79ff27 112px,#4dff46 116px,#00ff64 120px,#00ff75 124px,#00fd94 130px,#00f6df 142px,#00eef6 146px,#00d9ff 152px,#00b2ff 162px,#00a2ff 168px,#00adff 170px,#00b6ff 182px,#0df 244px,#00f0f5 274px,#00f7d8 296px,#00fd90 340px,#00ff71 368px,#00ff65 384px,#05ff62 386px,#48ff4a 402px,#76ff2a 426px,#96ff0a 454px,#a5ff00 474px,#befa00 498px,#d7f000 538px,#ebe400 578px,#ffb700 654px,#f70 746px,#ff4e00 820px,#ff3900 868px,#ff2800 938px,#ff1900 1038px,#ff0800 1188px,#f30100 1320px)"></i>
<i style="left:1480px;width:8px;background:linear-gradient(#a00 24px,#e00 46px,#fe0800 50px,#ff4b00 64px,#ffb400 80px,#ece100 90px,#e6e700 92px,#c3f800 100px,#a7ff00 104px,#93ff0d 108px,#78ff28 112px,#4cff47 116px,#00ff65 120px,#00ff75 124px,#00fd94 130px,#00f6df 142px,#00eef6 146px,#00d8ff 152px,#00b1ff 162px,#00a1ff 168px,#0af 170px,#00b8ff 186px,#00deff 246px,#00eff5 274px,#00f6da 296px,#00fd8f 342px,#00ff70 370px,#00ff64 386px,#48ff4a 404px,#76ff2a 428px,#96ff0a 456px,#a6ff00 478px,#befa00 500px,#d8f000 542px,#ebe400 582px,#ffb700 658px,#ff7600 752px,#ff4e00 824px,#ff3a00 870px,#ff2900 944px,#ff1c00 1034px,#ff0800 1214px,#f50200 1320px)"></i>
<i style="left:1488px;width:8px;background:linear-gradient(#a00 24px,#e00 46px,#fe0800 50px,#ff4b00 64px,#ffb400 80px,#ece100 90px,#e6e700 92px,#c3f800 100px,#a7ff00 104px,#93ff0d 108px,#78ff28 112px,#4bff47 116px,#00ff65 120px,#00ff75 124px,#00fd95 130px,#00f6df 142px,#00edf7 146px,#00d8ff 152px,#00b0ff 162px,#00a1ff 168px,#00a9ff 170px,#00b8ff 188px,#0df 246px,#00f0f5 276px,#00f7d8 298px,#00fd90 342px,#00ff70 372px,#00ff64 388px,#43ff4c 404px,#76ff2a 430px,#96ff0a 458px,#a6ff00 480px,#bffa00 504px,#d7f000 544px,#ebe400 586px,#ffb700 662px,#ff7600 756px,#ff4e00 828px,#ff3b00 872px,#ff2c00 942px,#ff1f00 1030px,#ff0800 1240px,#f70400 1320px)"></i>
<i style="left:1496px;width:8px;background:linear-gradient(#a00 24px,#e00 46px,#fe0800 50px,#ff4b00 64px,#ffb400 80px,#ece100 90px,#e6e700 92px,#c3f800 100px,#a7ff00 104px,#93ff0d 108px,#78ff28 112px,#4bff48 116px,#00ff65 120px,#00ff75 124px,#00fd95 130px,#00f2ed 144px,#00edf7 146px,#00d7ff 152px,#00afff 162px,#00a0ff 168px,#00a7ff 170px,#00baff 192px,#00deff 248px,#00eff5 276px,#00f7d9 298px,#00fd92 342px,#00ff71 372px,#00ff65 388px,#02ff63 390px,#44ff4c 406px,#76ff2a 432px,#95ff0b 460px,#a5ff00 482px,#befa00 506px,#d8f000 548px,#ebe300 590px,#ffb700 666px,#ff7500 762px,#ff4e00 832px,#ff3c00 876px,#ff2e00 942px,#ff2100 1028px,#ff0800 1264px,#f90500 1320px)"></i>
<i style="left:1504px;width:8px;background:linear-gradient(#a00 24px,#e00 46px,#fe0800 50px,#ff4b00 64px,#ffb400 80px,#ece100 90px,#e6e700 92px,#c3f800 100px,#a7ff00 104px,#93ff0d 108px,#77ff29 112px,#4aff48 116px,#00ff65 120px,#00ff76 124px,#00fd95 130px,#00f2ed 144px,#00edf7 146px,#00d7ff 152px,#00aeff 162px,#00a0ff 168px,#00a6ff 170px,#00bdff 198px,#0df 248px,#00f0f5 278px,#00f7d8 300px,#00fd90 344px,#00ff71 374px,#00ff65 390px,#03ff63 392px,#45ff4b 408px,#76ff2a 434px,#95ff0b 462px,#a5ff00 484px,#befa00 508px,#d7f000 550px,#ebe400 592px,#ffb600 672px,#ff7500 766px,#ff4e00 838px,#ff3d00 880px,#ff2600 1010px,#ff0800 1286px,#fb0600 1320px)"></i>
<i style="left:1512px;width:8px;background:linear-gradient(#a00 24px,#e00 46px,#fe0800 50px,#ff4b00 64px,#ffb400 80px,#ece100 90px,#e6e700 92px,#c3f800 100px,#a7ff00 104px,#92ff0e 108px,#77ff29 112px,#49ff49 116px,#21ff58 118px,#0f6 120px,#00ff76 124px,#00fd95 130px,#00f2ee 144px,#00edf7 146px,#00deff 150px,#00d7ff 152px,#00aeff 162px,#009fff 168px,#00a5ff 170px,#00b6ff 190px,#00deff 250px,#00f0f5 278px,#00f7d9 300px,#00fd92 344px,#00ff70 376px,#00ff65 392px,#05ff62 394px,#45ff4b 410px,#76ff2a 436px,#95ff0b 464px,#a5ff00 486px,#bdfa00 510px,#d8f000 554px,#ebe400 596px,#ffb600 676px,#ff7500 772px,#ff4e00 842px,#ff3d00 886px,#ff2800 1008px,#fe0700 1320px)"></i>
<i style="left:1520px;width:8px;background:linear-gradient(#a00 24px,#e00 46px,#fe0800 50px,#ff4b00 64px,#ffb400 80px,#ece100 90px,#e6e700 92px,#c3f800 100px,#a7ff00 104px,#92ff0e 108px,#76ff29 112px,#48ff49 116px,#20ff59 118px,#0f6 120px,#00ff76 124px,#00fd96 130px,#00f2ee 144px,#00ecf7 146px,#00deff 150px,#00d6ff 152px,#00adff 162px,#009fff 168px,#00a4ff 170px,#00b8ff 194px,#0df 250px,#00f0f4 280px,#00f7d7 302px,#00fd90 346px,#00ff71 376px,#00ff64 394px,#46ff4b 412px,#76ff2a 438px,#97ff0a 468px,#a4ff00 488px,#befa00 514px,#d7f000 556px,#ebe400 600px,#ffb700 680px,#ff7300 780px,#ff4e00 848px,#ff3e00 892px,#ff2a00 1008px,#ff0a00 1320px)"></i>
<i style="left:1528px;width:8px;background:linear-gradient(#a00 24px,#e00 46px,#fe0800 50px,#ff4b00 64px,#ffb400 80px,#ece100 90px,#e6e700 92px,#c3f800 100px,#a7ff00 104px,#92ff0e 108px,#76ff2a 112px,#48ff4a 116px,#1fff59 118px,#0f6 120px,#00ff76 124px,#00fd96 130px,#00f5e1 142px,#00f2ef 144px,#00ecf7 146px,#00deff 150px,#00adff 162px,#009eff 168px,#00a3ff 170px,#00bdff 202px,#00deff 252px,#00f0f5 280px,#00f7d9 302px,#00fd92 346px,#00ff71 378px,#00ff64 396px,#46ff4b 414px,#76ff2a 440px,#96ff0a 470px,#a6ff00 492px,#befa00 516px,#d7f000 560px,#ebe400 604px,#ffb700 684px,#ff7200 786px,#ff4e00 854px,#ff3f00 898px,#ff2c00 1012px,#ff0c00 1320px)"></i>
<i style="left:1536px;width:8px;background:linear-gradient(#a00 24px,#e00 46px,#fe0800 50px,#ff4b00 64px,#ffb400 80px,#ece100 90px,#e6e700 92px,#c3f800 100px,#a7ff00 104px,#92ff0e 108px,#75ff2a 112px,#47ff4a 116px,#1dff59 118px,#0f6 120px,#0f7 124px,#00fd96 130px,#00f5e1 142px,#00f2ef 144px,#00ecf7 146px,#0df 150px,#00acff 162px,#009dff 168px,#00a2ff 170px,#00beff 204px,#0df 252px,#00eff5 280px,#00f6da 302px,#00fd90 348px,#00ff70 380px,#00ff65 396px,#01ff64 398px,#47ff4b 416px,#76ff2a 442px,#96ff0a 472px,#a5ff00 494px,#bdfa00 518px,#d7f000 562px,#ebe400 608px,#ffb600 690px,#ff7200 792px,#ff4e00 862px,#ff4000 904px,#ff2e00 1014px,#ff0f00 1320px)"></i>
<i style="left:1544px;width:8px;background:linear-gradient(#a00 24px,#e00 46px,#fe0800 50px,#ff4b00 64px,#ffb400 80px,#ece100 90px,#e6e700 92px,#c3f800 100px,#a7ff00 104px,#92ff0e 108px,#75ff2a 112px,#46ff4b 116px,#1cff5a 118px,#0f6 120px,#0f7 124px,#00fd96 130px,#00f5e1 142px,#00f1ef 144px,#00ecf7 146px,#0df 150px,#00b2ff 160px,#009dff 168px,#00beff 206px,#00deff 254px,#00f0f5 282px,#00f7d8 304px,#00fd92 348px,#00ff70 382px,#00ff65 398px,#02ff63 400px,#47ff4a 418px,#75ff2a 444px,#96ff0a 474px,#a5ff00 496px,#befa00 522px,#d7f000 566px,#ebe400 612px,#ffb600 694px,#ff7200 796px,#ff4f00 866px,#ff4100 908px,#ff3000 1014px,#ff1200 1320px)"></i>
<i style="left:1552px;width:8px;background:linear-gradient(#a00 24px,#e00 46px,#fe0800 50px,#ff4b00 64px,#ffb400 80px,#ece100 90px,#e6e700 92px,#c3f800 100px,#a7ff00 104px,#92ff0e 108px,#74ff2b 112px,#45ff4b 116px,#1bff5a 118px,#00ff67 120px,#0f7 124px,#00fd97 130px,#00f5e2 142px,#00f1f0 144px,#00ecf7 146px,#0df 150px,#00b2ff 160px,#009dff 168px,#00bdff 206px,#00deff 254px,#00eff5 282px,#00f7d9 304px,#00fd91 350px,#00ff71 382px,#00ff65 400px,#04ff63 402px,#47ff4a 420px,#75ff2a 446px,#96ff0a 476px,#a5ff00 498px,#befa00 524px,#d8f000 570px,#ebe400 616px,#ffb700 698px,#ff7300 800px,#ff5400 864px,#f40 908px,#f30 1010px,#ff1400 1320px)"></i>
<i style="left:1560px;width:8px;background:linear-gradient(#a00 24px,#e00 46px,#fe0800 50px,#ff4b00 64px,#ffb400 80px,#ece100 90px,#e6e700 92px,#c3f800 100px,#a7ff00 104px,#92ff0e 108px,#74ff2b 112px,#44ff4c 116px,#1aff5b 118px,#00ff67 120px,#0f7 124px,#00fd97 130px,#00f1f0 144px,#00ebf8 146px,#00dcff 150px,#00b1ff 160px,#009cff 168px,#00beff 208px,#00deff 256px,#00f0f5 284px,#00f7d8 306px,#00fd92 350px,#00ff71 384px,#00ff65 402px,#47ff4a 422px,#75ff2a 448px,#95ff0b 478px,#a6ff00 502px,#bffa00 528px,#d7f000 572px,#ebe400 620px,#ffb700 702px,#ff7400 804px,#ff5800 862px,#ff4800 906px,#ff3d00 950px,#ff3600 1006px,#ff1700 1320px)"></i>
<i style="left:1568px;width:8px;background:linear-gradient(#a00 24px,#e00 46px,#fe0800 50px,#ff4b00 64px,#ffb400 80px,#ece100 90px,#e6e700 92px,#c3f800 100px,#a7ff00 104px,#91ff0f 108px,#73ff2b 112px,#42ff4c 116px,#18ff5b 118px,#00ff67 120px,#00ff78 124px,#00fd97 130px,#00f1f0 144px,#00ebf8 146px,#00dcff 150px,#00b0ff 160px,#009cff 168px,#00beff 210px,#00deff 256px,#00f0f5 284px,#00f7d9 306px,#00fd91 352px,#00ff70 386px,#00ff64 404px,#47ff4a 424px,#78ff28 452px,#95ff0b 480px,#a5ff00 504px,#befa00 530px,#d7f000 576px,#ebe400 624px,#ffb600 708px,#ff7500 808px,#ff4b00 906px,#ff3800 1004px,#ff1a00 1320px)"></i>
<i style="left:1576px;width:8px;background:linear-gradient(#a00 24px,#e00 46px,#fe0800 50px,#ff4b00 64px,#ffb400 80px,#ece100 90px,#e6e700 92px,#c3f800 100px,#a7ff00 104px,#91ff0f 108px,#73ff2c 112px,#41ff4d 116px,#17ff5c 118px,#00ff67 120px,#00ff78 124px,#00fd97 130px,#00f1f1 144px,#00dcff 150px,#00afff 160px,#009bff 168px,#00bdff 210px,#00deff 258px,#00f0f5 286px,#00f7d7 308px,#00fd92 352px,#00ff70 388px,#00ff64 406px,#47ff4a 426px,#78ff28 454px,#96ff0a 484px,#a5ff00 506px,#befa00 532px,#d7f000 580px,#ebe400 628px,#ffb600 712px,#ff7400 816px,#ff5800 878px,#ff4900 922px,#ff3900 1016px,#ff1e00 1320px)"></i>
<i style="left:1584px;width:8px;background:linear-gradient(#a00 24px,#e00 46px,#fe0800 50px,#ff4b00 64px,#ffb400 80px,#ece100 90px,#e6e700 92px,#c3f800 100px,#a7ff00 104px,#91ff0f 108px,#72ff2c 112px,#40ff4d 116px,#16ff5c 118px,#00ff67 120px,#00ff78 124px,#00fd98 130px,#00f1f1 144px,#00dcff 150px,#00afff 160px,#009bff 168px,#00beff 212px,#00deff 258px,#00f0f5 286px,#00f7d9 308px,#00fd91 354px,#00ff71 388px,#00ff64 408px,#48ff4a 428px,#78ff28 456px,#96ff0a 486px,#a5ff00 508px,#befa00 536px,#d8f000 584px,#ebe400 632px,#ffb600 718px,#ff7500 820px,#ff5a00 880px,#ff4a00 930px,#ff3a00 1026px,#ff2100 1320px)"></i>
<i style="left:1592px;width:8px;background:linear-gradient(#a00 24px,#e00 46px,#fe0800 50px,#ff4b00 64px,#ffb400 80px,#ece100 90px,#e6e700 92px,#c3f800 100px,#a7ff00 104px,#91ff0f 108px,#71ff2d 112px,#3eff4e 116px,#14ff5d 118px,#00ff68 120px,#00ff78 124px,#00fd98 130px,#00f7d6 140px,#00f1f1 144px,#00dbff 150px,#00aeff 160px,#009aff 168px,#0df 258px,#00eff5 286px,#00f6da 308px,#00fd92 354px,#00ff70 390px,#00ff65 408px,#01ff63 410px,#48ff4a 430px,#77ff28 458px,#96ff0a 488px,#a6ff00 512px,#befa00 538px,#d7f000 586px,#ebe400 636px,#ffb600 722px,#ff7600 824px,#ff5f00 876px,#ff4d00 928px,#ff3b00 1036px,#ff2400 1320px)"></i>
<i style="left:1600px;width:8px;background:linear-gradient(#a00 24px,#e00 46px,#fe0800 50px,#ff4b00 64px,#ffb400 80px,#ece100 90px,#e6e700 92px,#c3f800 100px,#a7ff00 104px,#91ff0f 108px,#71ff2d 112px,#3dff4e 116px,#13ff5d 118px,#00ff68 120px,#00ff79 124px,#00fd98 130px,#00f7d6 140px,#00f1f2 144px,#00dbff 150px,#00aeff 160px,#009aff 168px,#00deff 260px,#00f0f5 288px,#00f7d8 310px,#00fd91 356px,#00ff70 392px,#00ff65 410px,#02ff63 412px,#48ff4a 432px,#77ff29 460px,#95ff0b 490px,#a5ff00 514px,#befa00 542px,#d7f000 590px,#ebe400 640px,#ffb600 726px,#ff7600 830px,#ff6000 882px,#ff4e00 936px,#ff3c00 1054px,#ff2700 1320px)"></i>
<i style="left:1608px;width:8px;background:linear-gradient(#a00 24px,#e00 46px,#fe0800 50px,#ff4b00 64px,#ffb400 80px,#ece100 90px,#e6e700 92px,#c3f800 100px,#a7ff00 104px,#91ff0f 108px,#70ff2d 112px,#3bff4f 116px,#12ff5e 118px,#00ff68 120px,#00ff6f 122px,#00fd98 130px,#00f7d6 140px,#00f1f2 144px,#00dbff 150px,#00aeff 160px,#009aff 168px,#0df 260px,#00eff5 288px,#00f7d9 310px,#00fd92 356px,#00ff71 392px,#00ff65 412px,#03ff63 414px,#48ff4a 434px,#77ff29 462px,#95ff0b 492px,#a5ff00 516px,#befa00 544px,#d7f000 594px,#ebe400 644px,#ffb500 732px,#ff7600 836px,#ff6100 888px,#ff4f00 944px,#ff3d00 1070px,#ff2a00 1320px)"></i>
<i style="left:1616px;width:8px;background:linear-gradient(#a00 24px,#e00 46px,#fe0800 50px,#ff4b00 64px,#ffb400 80px,#ece100 90px,#e6e700 92px,#c3f800 100px,#a7ff00 104px,#90ff10 108px,#70ff2e 112px,#3aff4f 116px,#11ff5e 118px,#00ff68 120px,#00ff6f 122px,#00fd99 130px,#00f7d7 140px,#00f1f2 144px,#00daff 150px,#00adff 160px,#09f 168px,#00deff 262px,#00f0f5 290px,#00f7d8 312px,#00fd91 358px,#00ff71 394px,#00ff64 414px,#48ff4a 436px,#76ff29 464px,#96ff0a 496px,#a6ff00 520px,#befa00 548px,#d8f000 598px,#ebe400 648px,#ffb600 736px,#f70 840px,#ff6300 890px,#ff5300 942px,#ff3f00 1084px,#ff2d00 1320px)"></i>
<i style="left:1624px;width:8px;background:linear-gradient(#a00 24px,#e00 46px,#fe0800 50px,#ff4b00 64px,#ffb400 80px,#ece100 90px,#e6e700 92px,#c3f800 100px,#a7ff00 104px,#90ff10 108px,#6fff2e 112px,#57ff3f 114px,#39ff50 116px,#0fff5f 118px,#00ff68 120px,#00fd8d 128px,#00f7d7 140px,#00f1f3 144px,#00daff 150px,#00adff 160px,#09f 168px,#0df 262px,#00eff5 290px,#00f7d9 312px,#00fd92 358px,#00ff70 396px,#00ff64 416px,#48ff4a 438px,#76ff29 466px,#96ff0a 498px,#a5ff00 522px,#befa00 550px,#d7f000 600px,#ebe400 652px,#ffb600 740px,#ff7800 846px,#ff5700 940px,#ff4100 1092px,#ff3000 1320px)"></i>
<i style="left:1632px;width:8px;background:linear-gradient(#a00 24px,#e00 46px,#fe0800 50px,#ff4b00 64px,#ffb400 80px,#ece100 90px,#e6e700 92px,#c3f800 100px,#a7ff00 104px,#90ff10 108px,#6fff2f 112px,#56ff40 114px,#37ff50 116px,#0eff5f 118px,#00ff69 120px,#00fd8d 128px,#00f7d7 140px,#00f0f3 144px,#00daff 150px,#00adff 160px,#09f 168px,#00deff 264px,#00f0f5 292px,#00f7d7 314px,#00fd91 360px,#00ff70 398px,#00ff64 418px,#48ff4a 440px,#76ff2a 468px,#95ff0b 500px,#a5ff00 524px,#befa00 554px,#d7f000 604px,#ebe400 656px,#ffb600 744px,#ff7900 850px,#ff5b00 938px,#ff4e00 1008px,#ff4500 1088px,#ff3400 1320px)"></i>
<i style="left:1640px;width:8px;background:linear-gradient(#a00 24px,#e00 46px,#fe0800 50px,#ff4b00 64px,#ffb400 80px,#ece100 90px,#e6e700 92px,#c3f800 100px,#a7ff00 104px,#90ff10 108px,#6eff2f 112px,#55ff40 114px,#36ff51 116px,#0dff5f 118px,#00ff69 120px,#00fd8e 128px,#00f7d7 140px,#00f0f3 144px,#00daff 150px,#00adff 160px,#0098ff 168px,#0df 264px,#00f0f5 292px,#00f7d8 314px,#00fd92 360px,#00ff71 398px,#00ff64 420px,#48ff4a 442px,#75ff2a 470px,#95ff0b 502px,#a6ff00 528px,#befa00 556px,#d7f000 608px,#ebe400 660px,#ffb600 748px,#ff7b00 852px,#ff5f00 936px,#ff4900 1080px,#ff3700 1320px)"></i>
<i style="left:1648px;width:8px;background:linear-gradient(#a00 24px,#e00 46px,#fe0800 50px,#ff4b00 64px,#ffb400 80px,#ece100 90px,#e6e700 92px,#c3f800 100px,#a7ff00 104px,#90ff10 108px,#6dff2f 112px,#54ff41 114px,#34ff51 116px,#0bff60 118px,#00ff69 120px,#00fd8e 128px,#00f7d8 140px,#00f0f4 144px,#00d9ff 150px,#00acff 160px,#0098ff 168px,#00deff 266px,#00eff6 292px,#00f7d9 314px,#00fd91 362px,#00ff71 400px,#00ff64 422px,#48ff4a 444px,#78ff28 474px,#96ff0a 506px,#a5ff00 530px,#befa00 560px,#d7f000 612px,#ebe400 664px,#ffb600 752px,#ff7c00 856px,#ff6300 934px,#ff4d00 1072px,#ff3a00 1320px)"></i>
<i style="left:1656px;width:8px;background:linear-gradient(#a00 24px,#e00 46px,#fe0800 50px,#ff4b00 64px,#ffb400 80px,#ece100 90px,#e6e700 92px,#c3f800 100px,#a7ff00 104px,#90ff10 108px,#6dff30 112px,#53ff42 114px,#33ff52 116px,#0aff60 118px,#00ff69 120px,#00fd8e 128px,#00f7d8 140px,#00f0f4 144px,#00d9ff 150px,#00acff 160px,#0098ff 168px,#0df 266px,#00f0f5 294px,#00f6dd 312px,#00fd92 362px,#00ff70 402px,#00ff65 422px,#01ff64 424px,#47ff4a 446px,#77ff28 476px,#96ff0a 508px,#a4ff00 532px,#befa00 562px,#d7f000 614px,#ebe400 668px,#ffb600 756px,#ff7f00 858px,#ff6700 932px,#ff4e00 1096px,#ff3d00 1320px)"></i>
<i style="left:1664px;width:8px;background:linear-gradient(#a00 24px,#e00 46px,#fe0800 50px,#ff4b00 64px,#ffb400 80px,#ece100 90px,#e6e700 92px,#c3f800 100px,#a7ff00 104px,#8fff11 108px,#6cff30 112px,#53ff42 114px,#32ff52 116px,#09ff61 118px,#00ff6a 120px,#00fd8e 128px,#00f7d8 140px,#00f0f4 144px,#00d9ff 150px,#00acff 160px,#0098ff 168px,#00deff 268px,#00eff5 294px,#00f6df 312px,#00fd91 364px,#00ff70 404px,#00ff65 424px,#02ff63 426px,#47ff4a 448px,#77ff29 478px,#95ff0b 510px,#a5ff00 536px,#befa00 566px,#d7f000 618px,#ebe400 672px,#ffb600 760px,#ff8200 858px,#ff6b00 930px,#ff5000 1116px,#ff4000 1320px)"></i>
<i style="left:1672px;width:8px;background:linear-gradient(#a00 24px,#e00 46px,#fe0800 50px,#ff4b00 64px,#ffb400 80px,#ece100 90px,#e6e700 92px,#c3f800 100px,#a7ff00 104px,#8fff11 108px,#6bff31 112px,#52ff43 114px,#30ff53 116px,#07ff61 118px,#00ff6a 120px,#00fd8f 128px,#00f7d9 140px,#00f0f5 144px,#00d9ff 150px,#00acff 160px,#0098ff 168px,#0df 268px,#00f0f5 296px,#00f6dd 314px,#00fd92 364px,#00ff70 406px,#00ff65 426px,#02ff63 428px,#47ff4a 450px,#76ff29 480px,#96ff0a 514px,#a5ff00 538px,#bffa00 570px,#d7f000 622px,#ebe400 676px,#ffb600 764px,#ff8500 858px,#ff6f00 928px,#f50 1108px,#ff4300 1320px)"></i>
<i style="left:1680px;width:8px;background:linear-gradient(#a00 24px,#e00 46px,#fe0800 50px,#ff4b00 64px,#ffb400 80px,#ece100 90px,#e6e700 92px,#c3f800 100px,#a7ff00 104px,#8fff11 108px,#7fff21 110px,#6bff31 112px,#51ff43 114px,#2fff53 116px,#06ff62 118px,#00ff6a 120px,#00fd8f 128px,#00f7d9 140px,#00f0f5 144px,#00d9ff 150px,#00acff 160px,#0097ff 168px,#00deff 270px,#00eff5 296px,#00f6de 314px,#00fd91 366px,#00ff71 406px,#00ff65 428px,#03ff63 430px,#47ff4a 452px,#76ff29 482px,#96ff0a 516px,#a6ff00 542px,#befa00 572px,#d7f000 626px,#ebe400 680px,#ffb600 768px,#ff8900 854px,#ff7200 928px,#ff5900 1102px,#ff4700 1320px)"></i>
<i style="left:1688px;width:8px;background:linear-gradient(#a00 24px,#e00 46px,#fe0800 50px,#ff4b00 64px,#ffb400 80px,#ece100 90px,#e6e700 92px,#c3f800 100px,#a7ff00 104px,#8fff11 108px,#7fff21 110px,#6aff32 112px,#50ff44 114px,#2dff54 116px,#05ff62 118px,#00ff6a 120px,#00fd8f 128px,#00f7d9 140px,#00f0f5 144px,#00d8ff 150px,#00acff 160px,#0097ff 168px,#00adff 204px,#0df 270px,#00f0f5 298px,#00f6dc 316px,#00fd92 366px,#00ff71 408px,#00ff64 430px,#47ff4a 454px,#76ff2a 484px,#95ff0b 518px,#a5ff00 544px,#befa00 576px,#d7f000 630px,#ebe400 684px,#ffb600 772px,#ff8d00 852px,#ff7600 928px,#ff5e00 1096px,#ff4a00 1320px)"></i>
<i style="left:1696px;width:8px;background:linear-gradient(#a00 24px,#e00 46px,#fe0800 50px,#ff4b00 64px,#ffb400 80px,#ece100 90px,#e6e700 92px,#c3f800 100px,#a7ff00 104px,#8fff11 108px,#7fff21 110px,#69ff32 112px,#4fff45 114px,#2cff54 116px,#03ff63 118px,#00ff72 122px,#00fd8f 128px,#00f7d9 140px,#00f0f5 144px,#00d8ff 150px,#00b3ff 158px,#0097ff 168px,#00aeff 206px,#00deff 272px,#00f0f5 298px,#00f6dd 316px,#00fd91 368px,#00ff70 410px,#00ff64 432px,#47ff4a 456px,#78ff28 488px,#96ff0a 522px,#a6ff00 548px,#bffa00 580px,#d7f000 632px,#ebe400 690px,#ffb600 778px,#ff8f00 856px,#ff7900 930px,#ff6300 1092px,#ff4d00 1320px)"></i>
<i style="left:1704px;width:8px;background:linear-gradient(#a00 24px,#e00 46px,#fe0800 50px,#ff4b00 64px,#ffb400 80px,#ece100 90px,#e6e700 92px,#c3f800 100px,#a7ff00 104px,#8eff12 108px,#7fff21 110px,#69ff33 112px,#4eff45 114px,#02ff63 118px,#00ff72 122px,#00fd8f 128px,#00f6da 140px,#00eff5 144px,#00d8ff 150px,#00b2ff 158px,#0097ff 168px,#00aeff 206px,#00deff 272px,#00eff6 298px,#00f6de 316px,#00fd93 368px,#00ff70 412px,#00ff64 434px,#47ff4b 458px,#77ff28 490px,#96ff0a 524px,#a5ff00 550px,#befa00 582px,#d7f000 636px,#ebe400 694px,#ffb600 782px,#ff8f00 862px,#ff7c00 936px,#f60 1096px,#ff5200 1320px)"></i>
<i style="left:1712px;width:8px;background:linear-gradient(#a00 24px,#e00 46px,#fe0800 50px,#ff4b00 64px,#ffb400 80px,#ece100 90px,#e6e700 92px,#c3f800 100px,#a7ff00 104px,#9bff06 106px,#8eff12 108px,#7eff22 110px,#68ff33 112px,#4dff46 114px,#01ff64 118px,#00ff73 122px,#00fd90 128px,#00f6da 140px,#00eff5 144px,#00d8ff 150px,#00b2ff 158px,#0097ff 168px,#00afff 208px,#00deff 274px,#00f0f5 300px,#00f6dd 318px,#00fd92 370px,#00ff71 412px,#00ff64 436px,#46ff4b 460px,#77ff29 492px,#95ff0b 526px,#a4ff00 552px,#befa00 586px,#d7f000 640px,#ebe400 698px,#ffb600 786px,#ff9200 862px,#ff7e00 940px,#ff6a00 1098px,#ff5600 1320px)"></i>
<i style="left:1720px;width:8px;background:linear-gradient(#a00 24px,#e00 46px,#fe0800 50px,#ff4b00 64px,#ffb400 80px,#ece100 90px,#e6e700 92px,#c3f800 100px,#a7ff00 104px,#9bff06 106px,#8eff12 108px,#7eff22 110px,#67ff34 112px,#4dff46 114px,#00ff64 118px,#00ff73 122px,#00fd90 128px,#00f6da 140px,#00eff6 144px,#00d8ff 150px,#00b2ff 158px,#0096ff 168px,#00aeff 208px,#00deff 274px,#00eff5 300px,#00f6de 318px,#00fd93 370px,#00ff71 414px,#00ff64 438px,#46ff4b 462px,#76ff29 494px,#96ff0a 530px,#a5ff00 556px,#bffa00 590px,#d7f000 644px,#ebe400 702px,#ffb600 792px,#ff9500 864px,#ff8200 942px,#ff6e00 1100px,#ff5a00 1320px)"></i>
<i style="left:1728px;width:8px;background:linear-gradient(#a00 24px,#e00 46px,#fe0800 50px,#ff4b00 64px,#ffb400 80px,#ece100 90px,#e6e700 92px,#c3f800 100px,#a7ff00 104px,#9bff07 106px,#8eff12 108px,#7eff22 110px,#66ff34 112px,#4cff47 114px,#00ff64 118px,#00ff73 122px,#00fd90 128px,#00f6db 140px,#00eff6 144px,#00d8ff 150px,#00b2ff 158px,#0096ff 168px,#00aeff 208px,#0df 274px,#00f0f5 302px,#00f6dc 320px,#00fd92 372px,#00ff70 416px,#00ff64 440px,#45ff4b 464px,#78ff28 498px,#96ff0a 532px,#a6ff00 560px,#befa00 592px,#d7f000 648px,#ebe400 708px,#ffb600 796px,#ff9800 864px,#ff8400 948px,#ff7100 1106px,#ff5e00 1320px)"></i>
<i style="left:1736px;width:8px;background:linear-gradient(#a00 24px,#e00 46px,#fe0800 50px,#ff4b00 64px,#ffb400 80px,#ece100 90px,#e6e700 92px,#c3f800 100px,#a7ff00 104px,#9bff07 106px,#8dff13 108px,#7dff23 110px,#66ff35 112px,#4bff48 114px,#00ff65 118px,#00ff73 122px,#00fd90 128px,#00f6db 140px,#00eff6 144px,#00d7ff 150px,#00b1ff 158px,#0096ff 168px,#00aeff 210px,#00deff 276px,#00eff5 302px,#00f6dd 320px,#00fd91 374px,#00ff70 418px,#00ff64 442px,#45ff4b 466px,#77ff28 500px,#96ff0a 536px,#a5ff00 562px,#befa00 596px,#d7f000 652px,#ebe400 712px,#ffb600 802px,#ff9b00 864px,#ff8700 954px,#ff7800 1078px,#ff6300 1320px)"></i>
<i style="left:1744px;width:8px;background:linear-gradient(#a00 24px,#e00 46px,#fe0800 50px,#ff4b00 64px,#ffb400 80px,#ece100 90px,#e6e700 92px,#c3f800 100px,#a7ff00 104px,#9bff07 106px,#7dff23 110px,#4aff48 114px,#00ff65 118px,#00ff74 122px,#00fd91 128px,#00f6db 140px,#00eff6 144px,#00d7ff 150px,#00b1ff 158px,#0096ff 168px,#00aeff 210px,#0df 276px,#00eff6 302px,#00f6de 320px,#00fd92 374px,#00ff70 420px,#00ff64 444px,#44ff4c 468px,#77ff29 502px,#96ff0a 538px,#a5ff00 566px,#bffa00 600px,#d7f000 656px,#ebe400 718px,#ffb600 808px,#ff9d00 868px,#ff8900 964px,#ff6700 1320px)"></i>
<i style="left:1752px;width:8px;background:linear-gradient(#a00 24px,#e00 46px,#fe0800 50px,#ff4b00 64px,#ffb400 80px,#ece100 90px,#e6e700 92px,#c3f800 100px,#a7ff00 104px,#9bff07 106px,#7cff24 110px,#49ff49 114px,#00ff65 118px,#00ff74 122px,#00fd91 128px,#00f6db 140px,#00eef6 144px,#00d7ff 150px,#00b1ff 158px,#0096ff 168px,#00afff 212px,#00deff 278px,#00f0f5 304px,#00f6dc 322px,#00fd91 376px,#00ff70 422px,#00ff64 446px,#47ff4a 472px,#76ff2a 504px,#95ff0b 540px,#a5ff00 568px,#befa00 602px,#d7f000 660px,#ebe400 722px,#ffb600 814px,#ffa000 872px,#ff8b00 972px,#ff7f00 1076px,#ff6b00 1320px)"></i>
<i style="left:1760px;width:8px;background:linear-gradient(#a00 24px,#e00 46px,#fe0800 50px,#ff4b00 64px,#ffb400 80px,#ece100 90px,#e6e700 92px,#c3f800 100px,#a7ff00 104px,#9bff07 106px,#7cff24 110px,#48ff4a 114px,#20ff58 116px,#00ff65 118px,#00ff74 122px,#00fd91 128px,#00f6dc 140px,#00eef6 144px,#00d7ff 150px,#00b1ff 158px,#0096ff 168px,#00aeff 212px,#0df 278px,#00eff6 304px,#00f6dd 322px,#00fd92 376px,#00ff71 422px,#00ff64 448px,#47ff4a 474px,#78ff28 508px,#96ff0a 544px,#a5ff00 572px,#befa00 606px,#d7f000 666px,#ebe400 728px,#ffb600 822px,#ffa100 878px,#ff8d00 984px,#ff6f00 1320px)"></i>
<i style="left:1768px;width:8px;background:linear-gradient(#a00 24px,#e00 46px,#fe0800 50px,#ff4b00 64px,#ffb400 80px,#ece100 90px,#e6e700 92px,#c3f800 100px,#a7ff00 104px,#9bff07 106px,#7cff24 110px,#47ff4b 114px,#1fff59 116px,#0f6 118px,#00ff75 122px,#00fd91 128px,#00f6dc 140px,#00eef6 144px,#00dfff 148px,#00d7ff 150px,#00b0ff 158px,#0095ff 168px,#00aeff 212px,#00deff 280px,#00f0f5 306px,#00f6de 322px,#00fd92 378px,#00ff71 424px,#00ff64 450px,#47ff4b 476px,#77ff29 510px,#95ff0b 546px,#a6ff00 576px,#befa00 610px,#d7f000 670px,#ebe400 734px,#ffb600 830px,#ffa300 888px,#ff8e00 1002px,#ff7300 1320px)"></i>
<i style="left:1776px;width:8px;background:linear-gradient(#a00 24px,#e00 46px,#fe0800 50px,#ff4b00 64px,#ffb400 80px,#ece100 90px,#e6e700 92px,#c3f800 100px,#a7ff00 104px,#9bff07 106px,#7bff25 110px,#45ff4b 114px,#1eff59 116px,#0f6 118px,#00fd92 128px,#00f6dc 140px,#00eef6 144px,#00dfff 148px,#00d7ff 150px,#00b0ff 158px,#0095ff 168px,#00afff 214px,#0df 280px,#00eff5 306px,#00f6dc 324px,#00fd93 378px,#00ff71 426px,#00ff64 452px,#46ff4b 478px,#76ff2a 512px,#96ff0a 550px,#a5ff00 578px,#befa00 614px,#d7f000 674px,#ebe400 740px,#ffb600 838px,#ffa500 894px,#ff9100 1004px,#f70 1320px)"></i>
<i style="left:1784px;width:8px;background:linear-gradient(#a00 24px,#e00 46px,#fe0800 50px,#ff4b00 64px,#ffb400 80px,#ece100 90px,#e6e700 92px,#c3f800 100px,#a7ff00 104px,#9bff07 106px,#7bff25 110px,#44ff4c 114px,#1cff5a 116px,#0f6 118px,#00fd92 128px,#00f6dd 140px,#00eef6 144px,#00deff 148px,#00d6ff 150px,#00b0ff 158px,#0095ff 168px,#00aeff 214px,#00deff 282px,#00f0f5 308px,#00f6dd 324px,#00fd92 380px,#00ff71 428px,#00ff64 454px,#45ff4b 480px,#78ff28 516px,#96ff0a 554px,#a5ff00 582px,#befa00 618px,#d7f000 680px,#ebe400 746px,#ffb600 850px,#ffa400 912px,#ff9400 1010px,#ff7b00 1320px)"></i>
<i style="left:1792px;width:8px;background:linear-gradient(#a00 24px,#e00 46px,#fe0800 50px,#ff4b00 64px,#ffb400 80px,#ece100 90px,#e6e700 92px,#c3f800 100px,#a7ff00 104px,#9bff07 106px,#7bff25 110px,#42ff4c 114px,#1bff5a 116px,#0f6 118px,#00fd92 128px,#00f6dd 140px,#00edf6 144px,#00deff 148px,#00d6ff 150px,#00b0ff 158px,#0095ff 168px,#00aeff 214px,#0df 282px,#00eff5 308px,#00f6dc 326px,#00fd92 382px,#00ff70 430px,#00ff64 456px,#48ff4a 484px,#76ff29 518px,#96ff0a 556px,#a5ff00 586px,#bffa00 622px,#d7f000 684px,#ebe400 754px,#ffb600 862px,#ffa500 924px,#ff9600 1018px,#ff7f00 1320px)"></i>
<i style="left:1800px;width:8px;background:linear-gradient(#a00 24px,#e00 46px,#fe0800 50px,#ff4b00 64px,#ffb400 80px,#ece100 90px,#e6e700 92px,#c3f800 100px,#a7ff00 104px,#9bff07 106px,#7aff26 110px,#41ff4d 114px,#19ff5b 116px,#0f6 118px,#00fd92 128px,#00f6dd 140px,#00edf6 144px,#00deff 148px,#00d6ff 150px,#00b0ff 158px,#0095ff 168px,#00afff 216px,#00deff 284px,#00eff6 308px,#00f6dd 326px,#00fd93 382px,#00ff70 432px,#00ff64 458px,#47ff4a 486px,#78ff28 522px,#96ff0a 560px,#a4ff00 588px,#bffa00 626px,#d7f000 690px,#ebe400 760px,#f8c700 826px,#ffb600 874px,#ffa700 936px,#f90 1024px,#ff8300 1320px)"></i>
<i style="left:1808px;width:8px;background:linear-gradient(#a00 24px,#e00 46px,#fe0800 50px,#ff4b00 64px,#ffb400 80px,#ece100 90px,#e6e700 92px,#c3f800 100px,#a7ff00 104px,#9aff07 106px,#7aff26 110px,#3fff4d 114px,#18ff5b 116px,#00ff67 118px,#00fd93 128px,#00f6dd 140px,#00edf7 144px,#00deff 148px,#00d6ff 150px,#00b0ff 158px,#0095ff 168px,#00afff 216px,#0df 284px,#00f0f5 310px,#00f6de 326px,#00fd92 384px,#00ff70 434px,#00ff64 460px,#46ff4b 488px,#77ff29 524px,#95ff0b 562px,#a5ff00 592px,#befa00 630px,#d7f000 694px,#ebe400 766px,#f7ca00 828px,#feb900 878px,#ffa900 944px,#ff9c00 1026px,#ff8700 1320px)"></i>
<i style="left:1816px;width:8px;background:linear-gradient(#a00 24px,#e00 46px,#fe0800 50px,#ff4b00 64px,#ffb400 80px,#ece100 90px,#e6e700 92px,#c3f800 100px,#a7ff00 104px,#9aff07 106px,#79ff27 110px,#3eff4e 114px,#17ff5c 116px,#00ff67 118px,#00fd93 128px,#00f6de 140px,#00edf7 144px,#00deff 148px,#00afff 158px,#0095ff 168px,#00aeff 216px,#00deff 286px,#00eff6 310px,#00f6dc 328px,#00fd92 386px,#00ff70 436px,#00ff65 462px,#02ff63 464px,#45ff4b 490px,#78ff28 528px,#96ff0a 566px,#a5ff00 596px,#befa00 634px,#d7f000 698px,#ebe400 774px,#fcbd00 876px,#fa0 954px,#ff9f00 1026px,#ff8b00 1320px)"></i>
<i style="left:1824px;width:8px;background:linear-gradient(#a00 24px,#e00 46px,#fe0800 50px,#ff4b00 64px,#ffb400 80px,#ece100 90px,#e6e700 92px,#c3f800 100px,#a7ff00 104px,#9aff07 106px,#79ff27 110px,#3cff4e 114px,#15ff5c 116px,#00ff67 118px,#00fd93 128px,#00f6de 140px,#00edf7 144px,#00deff 148px,#00afff 158px,#0095ff 168px,#00aeff 216px,#0df 286px,#00f0f5 312px,#00f6dd 328px,#00fd93 386px,#00ff70 438px,#00ff65 464px,#01ff64 466px,#47ff4a 494px,#77ff29 530px,#96ff0a 570px,#a5ff00 600px,#befa00 638px,#d7f000 704px,#ebe400 782px,#fac200 874px,#ffb600 922px,#ffa300 1024px,#ff8f00 1320px)"></i>
<i style="left:1832px;width:8px;background:linear-gradient(#a00 24px,#e00 46px,#fe0800 50px,#ff4b00 64px,#ffb400 80px,#ece100 90px,#e6e700 92px,#c3f800 100px,#a7ff00 104px,#9aff07 106px,#79ff27 110px,#3bff4f 114px,#14ff5d 116px,#00ff67 118px,#00fd94 128px,#00f6de 140px,#00edf7 144px,#00deff 148px,#00afff 158px,#0095ff 168px,#00afff 218px,#00deff 288px,#00eff5 312px,#00f6de 328px,#00fd93 388px,#00ff70 440px,#00ff64 468px,#46ff4b 496px,#78ff28 534px,#95ff0b 572px,#a5ff00 604px,#befa00 642px,#d7f000 710px,#ebe400 790px,#f8c600 872px,#ffb600 940px,#ffa700 1020px,#ff9c00 1142px,#ff9200 1320px)"></i>
<i style="left:1840px;width:8px;background:linear-gradient(#a00 24px,#e00 46px,#fe0800 50px,#ff4b00 64px,#ffb400 80px,#ece100 90px,#e6e700 92px,#c3f800 100px,#a7ff00 104px,#9aff07 106px,#78ff28 110px,#39ff4f 114px,#12ff5d 116px,#00ff68 118px,#00fd94 128px,#00f6df 140px,#00edf7 144px,#00deff 148px,#00afff 158px,#0095ff 168px,#00afff 218px,#00deff 288px,#00eff6 312px,#00f6dc 330px,#00fd92 390px,#00ff70 442px,#00ff64 470px,#45ff4b 498px,#77ff29 536px,#96ff0a 576px,#a5ff00 608px,#befa00 646px,#d7f000 716px,#ebe400 798px,#f6ca00 870px,#ffb600 958px,#ffac00 1004px,#ffa000 1136px,#ff9600 1320px)"></i>
<i style="left:1848px;width:8px;background:linear-gradient(#a00 24px,#e00 46px,#fe0800 50px,#ff4b00 64px,#ffb400 80px,#ece100 90px,#e6e700 92px,#c3f800 100px,#a7ff00 104px,#9aff07 106px,#77ff28 110px,#38ff50 114px,#11ff5e 116px,#00ff68 118px,#00fd94 128px,#00f6df 140px,#00ecf7 144px,#0df 148px,#00afff 158px,#0094ff 168px,#00aeff 218px,#0df 288px,#00f0f5 314px,#00f7d5 336px,#00fd92 392px,#00ff70 444px,#00ff64 472px,#47ff4a 502px,#78ff28 540px,#96ff0a 580px,#a5ff00 612px,#befa00 650px,#d3f200 710px,#ebe400 806px,#f4ce00 868px,#ffb600 972px,#ffae00 1006px,#ffa300 1144px,#ff9a00 1320px)"></i>
<i style="left:1856px;width:8px;background:linear-gradient(#a00 24px,#e00 46px,#fe0800 50px,#ff4b00 64px,#ffb400 80px,#ece100 90px,#e6e700 92px,#c3f800 100px,#a7ff00 104px,#9aff07 106px,#77ff29 110px,#36ff51 114px,#0fff5e 116px,#00ff68 118px,#00fd95 128px,#00f6df 140px,#00ecf7 144px,#0df 148px,#00afff 158px,#0094ff 168px,#00aeff 218px,#00deff 290px,#00eff6 314px,#00f6de 330px,#00fd93 392px,#00ff71 446px,#00ff64 474px,#46ff4b 504px,#77ff29 542px,#96ff0a 584px,#a4ff00 614px,#befa00 654px,#caf500 690px,#ebe400 814px,#f2d300 864px,#ffb000 1012px,#ff9e00 1320px)"></i>
<i style="left:1864px;width:8px;background:linear-gradient(#a00 24px,#e00 46px,#fe0800 50px,#ff4b00 64px,#ffb400 80px,#ece100 90px,#e6e700 92px,#c3f800 100px,#a7ff00 104px,#9aff07 106px,#76ff29 110px,#35ff51 114px,#0eff5f 116px,#00ff68 118px,#00fd95 128px,#00f6e0 140px,#00f2ee 142px,#00ecf7 144px,#0df 148px,#00afff 158px,#0094ff 168px,#00afff 220px,#0df 290px,#00f0f5 316px,#00f7d7 336px,#00fd93 394px,#00ff71 448px,#00ff65 476px,#01ff64 478px,#45ff4b 506px,#78ff28 546px,#96ff0a 588px,#a4ff00 618px,#bdfa00 658px,#c3f800 676px,#ebe400 822px,#f0d800 860px,#ffb300 1016px,#ffa200 1320px)"></i>
<i style="left:1872px;width:8px;background:linear-gradient(#a00 24px,#e00 46px,#fe0800 50px,#ff4b00 64px,#ffb400 80px,#ece100 90px,#e6e700 92px,#c3f800 100px,#a7ff00 104px,#9aff08 106px,#75ff2a 110px,#34ff52 114px,#0dff5f 116px,#00ff68 118px,#00fd95 128px,#00f5e0 140px,#00f2ee 142px,#00ecf7 144px,#0df 148px,#00afff 158px,#0094ff 168px,#00afff 220px,#00deff 292px,#00eff6 316px,#00f7d6 338px,#00fd92 396px,#00ff71 450px,#00ff64 480px,#47ff4a 510px,#76ff29 548px,#96ff0a 592px,#a4ff00 622px,#befa00 666px,#d7f000 750px,#ebe400 832px,#ed0 856px,#ffb400 1022px,#ffa500 1320px)"></i>
<i style="left:1880px;width:8px;background:linear-gradient(#a00 24px,#e00 46px,#fe0800 50px,#ff4b00 64px,#ffb400 80px,#ece100 90px,#e6e700 92px,#c3f800 100px,#a7ff00 104px,#9aff08 106px,#74ff2b 110px,#55ff40 112px,#0bff60 116px,#00ff69 118px,#00fd95 128px,#00f5e0 140px,#00f2ef 142px,#00ecf7 144px,#0df 148px,#00afff 158px,#0094ff 168px,#00afff 220px,#0df 292px,#00eef6 316px,#00f6de 332px,#00fd92 398px,#00ff70 454px,#00ff64 482px,#46ff4b 512px,#77ff29 552px,#95ff0b 594px,#a5ff00 626px,#befa00 674px,#d7f000 758px,#ece200 848px,#ffb600 1026px,#ffa900 1320px)"></i>
<i style="left:1888px;width:26px;background:linear-gradient(#a00 24px,#e00 46px,#fe0800 50px,#ff4b00 64px,#ffb400 80px,#ece100 90px,#e6e700 92px,#c3f800 100px,#a7ff00 104px,#9aff08 106px,#74ff2b 110px,#55ff41 112px,#0bff60 116px,#00ff69 118px,#00fd96 128px,#00f5e1 140px,#00f2ef 142px,#00ecf7 144px,#0df 148px,#00afff 158px,#0094ff 168px,#00afff 220px,#0df 292px,#00f0f5 318px,#00f7d7 338px,#00fd92 398px,#00ff70 454px,#00ff65 482px,#01ff64 484px,#45ff4b 512px,#78ff28 554px,#96ff0a 596px,#a5ff00 628px,#befa00 676px,#ebe400 846px,#ffb700 1026px,#fa0 1320px)"></i>
</div></div>
<div class="cb" style="left:2213px;top:1595px;width:60px;height:1309px;background:linear-gradient(#800 0%,#b90000 5%,#f00000 10.5%,#ff0800 12%,#ff2300 15%,#ff4e00 20%,#ff8200 25%,#ffb600 30%,#f5cd00 32.5%,#ebe400 35%,#d7f000 37.5%,#befa00 40%,#a5ff00 41.5%,#96ff0a 43%,#78ff28 45%,#46ff4b 47%,#00ff64 48.5%,#00ff70 50%,#00fca8 55%,#00f6de 60%,#00f0f5 62%,#00deff 65%,#00beff 70%,#0098ff 75%,#0073ff 80%,#005fff 82%,#194bff 84%,#2337f5 87%,#232ae4 90%,#1b1baf 95%,#141487 100%)"></div>
<svg xmlns="http://www.w3.org/2000/svg" width="2492" height="3114" viewBox="0 0 2492 3114">
<defs><filter id="hblur" x="0" y="0" width="100%" height="100%" color-interpolation-filters="sRGB"><feGaussianBlur stdDeviation="5 0"/></filter></defs>
<rect x="235.0" y="53.5" width="1873.0" height="1308.5" fill="none" stroke="#000" stroke-width="3"/>
<path d="M282.5 1362.0v-15M282.5 53.5v15M652.5 1362.0v-15M652.5 53.5v15M1022.8 1362.0v-15M1022.8 53.5v15M1393 1362.0v-15M1393 53.5v15M1763.5 1362.0v-15M1763.5 53.5v15M235.0 489.7h15M2108.0 489.7h-15M235.0 925.8h15M2108.0 925.8h-15" stroke="#000" stroke-width="3" fill="none"/>
<rect x="2247" y="50" width="59" height="1320" fill="none" stroke="#111" stroke-width="3"/>
<path d="M2247 182.0h13M2306 182.0h-13M2247 314.0h13M2306 314.0h-13M2247 446.0h13M2306 446.0h-13M2247 578.0h13M2306 578.0h-13M2247 710.0h13M2306 710.0h-13M2247 842.0h13M2306 842.0h-13M2247 974.0h13M2306 974.0h-13M2247 1106.0h13M2306 1106.0h-13M2247 1238.0h13M2306 1238.0h-13" stroke="#000" stroke-width="3" fill="none"/>
<path d="M242.0 697.0 L241.5 699.0 L242.5 704.4 L244.7 711.6 L247.8 719.5 L251.5 726.6 L255.5 731.5 L259.5 733.0 L263.3 730.4 L266.8 725.0 L269.9 718.0 L272.5 710.9 L274.6 704.1 L276.2 697.6 L277.6 691.5 L278.6 685.6 L279.3 679.8 L279.9 674.2 L280.3 668.7 L280.7 663.3 L281.1 657.8 L281.5 652.3 L282.0 646.7 L282.7 640.9 L283.5 635.1 L284.3 629.2 L285.3 623.3 L286.4 617.3 L287.6 611.3 L288.9 605.3 L290.2 599.4 L291.7 593.4 L293.1 587.5 L294.7 581.7 L296.4 576.0 L298.3 570.3 L300.5 564.7 L302.9 559.2 L305.7 553.9 L309.2 549.1 L314.0 545.1 L319.7 543.5 L325.1 546.0 L329.7 550.3 L333.3 555.1 L336.2 560.3 L338.7 565.7 L341.0 571.2 L343.2 576.8 L345.3 582.4 L347.3 588.1 L349.2 593.8 L351.2 599.5 L353.3 605.1 L355.4 610.6 L357.7 616.1 L360.1 621.6 L362.7 626.9 L365.4 632.3 L368.3 637.5 L371.2 642.8 L374.4 648.0 L377.7 653.3 L381.2 658.4 L385.1 663.1 L389.4 667.3 L394.3 670.7 L399.9 673.1 L405.9 674.3 L411.9 674.0 L417.3 672.1 L422.2 668.8 L426.7 664.5 L430.9 659.7 L434.8 654.6 L438.6 649.6 L442.2 644.5 L445.7 639.5 L449.1 634.5 L452.3 629.4 L455.5 624.4 L458.5 619.3 L461.4 614.3 L464.3 609.2 L467.1 604.1 L469.8 599.0 L472.5 593.8 L475.1 588.6 L477.8 583.4 L480.5 578.2 L483.2 572.9 L486.1 567.7 L489.0 562.5 L492.1 557.3 L495.4 552.2 L498.8 547.1 L502.5 542.0 L506.4 537.0 L510.6 532.1 L515.1 527.5 L519.8 523.4 L524.8 520.0 L530.1 517.6 L535.6 516.4 L541.4 516.3 L547.3 517.3 L553.2 519.2 L559.0 521.7 L564.6 524.6 L569.9 527.7 L575.0 531.1 L579.8 534.6 L584.5 538.4 L589.0 542.3 L593.3 546.4 L597.5 550.6 L601.6 554.8 L605.7 559.2 L609.7 563.7 L613.7 568.1 L617.7 572.6 L621.7 577.1 L625.7 581.6 L629.8 586.0 L633.9 590.3 L638.2 594.5 L642.5 598.7 L646.9 602.7 L651.3 606.6 L655.9 610.5 L660.6 614.3 L665.3 618.0 L670.1 621.6 L675.0 625.2 L680.0 628.7 L685.0 632.1 L690.2 635.4 L695.4 638.5 L700.7 641.4 L706.2 643.9 L711.8 646.0 L717.5 647.7 L723.4 648.8 L729.4 649.4 L735.5 649.3 L741.5 648.7 L747.5 647.5 L753.2 645.7 L758.6 643.4 L763.9 640.6 L768.9 637.4 L773.7 633.8 L778.4 629.9 L782.9 625.8 L787.3 621.5 L791.7 617.1 L795.9 612.6 L800.1 608.1 L804.3 603.7 L808.4 599.2 L812.4 594.7 L816.5 590.2 L820.5 585.7 L824.5 581.3 L828.5 576.8 L832.4 572.3 L836.4 567.9 L840.3 563.5 L844.3 559.0 L848.3 554.6 L852.3 550.2 L856.3 545.9 L860.3 541.5 L864.4 537.2 L868.5 532.9 L872.7 528.7 L876.9 524.4 L881.1 520.2 L885.4 516.0 L889.7 511.9 L894.0 507.8 L898.4 503.7 L902.9 499.6 L907.4 495.6 L911.9 491.7 L916.4 487.8 L921.0 483.9 L925.7 480.0 L930.4 476.3 L935.1 472.5 L939.9 468.8 L944.7 465.2 L949.5 461.6 L954.4 458.1 L959.4 454.7 L964.4 451.3 L969.4 448.0 L974.5 444.8 L979.7 441.7 L984.9 438.8 L990.1 435.9 L995.5 433.1 L1000.9 430.5 L1006.3 428.0 L1011.8 425.7 L1017.4 423.5 L1023.0 421.4 L1028.7 419.5 L1034.4 417.7 L1040.2 416.1 L1046.0 414.5 L1051.9 413.2 L1057.8 411.9 L1063.7 410.8 L1069.6 409.8 L1075.6 409.0 L1081.6 408.2 L1087.6 407.6 L1093.6 407.1 L1099.6 406.7 L1105.5 406.5 L1111.5 406.5 L1117.5 406.6 L1123.5 406.9 L1129.4 407.4 L1135.4 408.1 L1141.3 408.9 L1147.2 409.8 L1153.1 410.8 L1159.0 411.9 L1164.9 413.1 L1170.8 414.3 L1176.7 415.6 L1182.6 416.9 L1188.5 418.2 L1194.3 419.5 L1200.2 420.8 L1206.1 422.0 L1211.9 423.2 L1217.8 424.4 L1223.7 425.6 L1229.5 426.8 L1235.4 428.0 L1241.3 429.1 L1247.2 430.2 L1253.1 431.3 L1259.0 432.4 L1264.9 433.5 L1270.8 434.5 L1276.7 435.5 L1282.6 436.5 L1288.5 437.4 L1294.5 438.2 L1300.4 439.0 L1306.3 439.7 L1312.3 440.4 L1318.3 441.0 L1324.2 441.7 L1330.2 442.4 L1336.1 443.1 L1342.1 443.9 L1348.0 444.7 L1353.9 445.7 L1359.8 446.8 L1365.7 448.0 L1371.5 449.3 L1377.3 450.9 L1383.1 452.5 L1388.8 454.4 L1394.4 456.5 L1400.0 458.7 L1405.5 461.2 L1410.9 463.8 L1416.2 466.6 L1421.4 469.7 L1426.4 472.9 L1431.4 476.3 L1436.2 479.9 L1440.9 483.7 L1445.4 487.6 L1449.8 491.7 L1454.1 496.0 L1458.2 500.4 L1462.1 504.9 L1465.9 509.6 L1469.6 514.3 L1473.1 519.2 L1476.5 524.1 L1479.7 529.1 L1482.9 534.2 L1486.0 539.4 L1489.1 544.6 L1492.0 549.8 L1495.0 555.0 L1497.9 560.3 L1500.7 565.6 L1503.5 570.9 L1506.2 576.2 L1508.9 581.6 L1511.5 587.0 L1514.1 592.4 L1516.6 597.8 L1519.0 603.3 L1521.4 608.8 L1523.7 614.3 L1525.9 619.9 L1528.1 625.5 L1530.2 631.1 L1532.3 636.7 L1534.4 642.3 L1536.4 648.0 L1538.4 653.6 L1540.3 659.3 L1542.3 665.0 L1544.2 670.6 L1546.1 676.3 L1548.0 682.0 L1550.0 687.7 L1551.9 693.4 L1553.8 699.0 L1555.8 704.7 L1557.7 710.4 L1559.6 716.1 L1561.5 721.8 L1563.4 727.4 L1565.3 733.1 L1567.1 738.8 L1569.0 744.5 L1570.8 750.2 L1572.5 756.0 L1574.3 761.7 L1576.0 767.4 L1577.7 773.2 L1579.3 779.0 L1581.0 784.7 L1582.7 790.5 L1584.4 796.2 L1586.1 802.0 L1587.8 807.7 L1589.5 813.4 L1591.2 819.2 L1593.0 824.9 L1594.7 830.7 L1596.5 836.4 L1598.2 842.1 L1599.9 847.9 L1601.6 853.6 L1603.3 859.4 L1605.0 865.1 L1606.7 870.9 L1608.3 876.6 L1609.9 882.4 L1611.5 888.2 L1613.1 894.0 L1614.6 899.7 L1616.1 905.5 L1617.6 911.4 L1619.1 917.2 L1620.5 923.0 L1622.0 928.8 L1623.4 934.6 L1624.8 940.5 L1626.1 946.3 L1627.5 952.1 L1628.8 958.0 L1630.1 963.8 L1631.3 969.7 L1632.6 975.6 L1633.8 981.4 L1635.0 987.3 L1636.2 993.2 L1637.4 999.1 L1638.5 1004.9 L1639.7 1010.8 L1640.8 1016.7 L1641.8 1022.6 L1642.9 1028.5 L1643.9 1034.4 L1644.9 1040.3 L1645.9 1046.2 L1646.9 1052.1 L1647.8 1058.1 L1648.7 1064.0 L1649.6 1069.9 L1650.4 1075.8 L1651.3 1081.8 L1652.1 1087.7 L1652.9 1093.7 L1653.7 1099.6 L1654.5 1105.5 L1655.2 1111.5 L1655.9 1117.4 L1656.7 1123.4 L1657.4 1129.3 L1658.1 1135.3 L1658.8 1141.2 L1659.5 1147.2 L1660.1 1153.2 L1660.8 1159.1 L1661.5 1165.1 L1662.1 1171.0 L1662.8 1177.0 L1663.4 1182.9 L1664.0 1188.9 L1664.7 1194.9 L1665.3 1200.8 L1665.9 1206.8 L1666.5 1212.7 L1667.1 1218.7 L1667.7 1224.7 L1668.3 1230.6 L1668.9 1236.6 L1669.5 1242.6 L1670.1 1248.5 L1670.6 1254.5 L1671.2 1260.5 L1671.7 1266.4 L1672.3 1272.4 L1672.8 1278.4 L1673.3 1284.3 L1673.8 1290.3 L1674.4 1296.3 L1674.9 1302.2 L1675.3 1308.2 L1675.8 1314.2 L1676.3 1320.2 L1676.8 1326.1 L1677.2 1332.1 L1677.7 1338.1 L1678.1 1344.1 L1678.6 1350.0 L1679.0 1356.0 L1679.4 1362.0" fill="none" stroke="#3c3c50" stroke-opacity="0.55" stroke-width="5" stroke-dasharray="55 23"/>
<text x="224.5" y="77.7" font-size="71" text-anchor="end">90</text>
<text x="224.5" y="513.8" font-size="71" text-anchor="end">60</text>
<text x="224.5" y="949.9" font-size="71" text-anchor="end">30</text>
<text x="224.5" y="1385.8" font-size="71" text-anchor="end">0</text>
<text x="282.7" y="1437.5" font-size="71" text-anchor="middle">500</text>
<text x="652" y="1437.5" font-size="71" text-anchor="middle">1000</text>
<text x="1023.5" y="1437.5" font-size="71" text-anchor="middle">1500</text>
<text x="1393.5" y="1437.5" font-size="71" text-anchor="middle">2000</text>
<text x="1764" y="1437.5" font-size="71" text-anchor="middle">2500</text>
<text x="1233" y="1541.5" font-size="100" text-anchor="middle" font-weight="bold">Wavelength (nm)</text>
<text transform="translate(107.5 689) rotate(-90)" font-size="100" text-anchor="middle" font-weight="bold">Incident angle (deg.)</text>
<text x="249" y="176" font-size="100" text-anchor="start" font-weight="bold">(a)</text>
<text x="2317.5" y="103.2" font-size="93" text-anchor="start">100</text>
<text x="2319" y="227.5" font-size="93" text-anchor="start">90</text>
<text x="2320" y="360" font-size="93" text-anchor="start">80</text>
<text x="2320" y="496.5" font-size="93" text-anchor="start">70</text>
<text x="2320" y="626.5" font-size="93" text-anchor="start">60</text>
<text x="2321" y="761" font-size="93" text-anchor="start">50</text>
<text x="2322" y="896" font-size="93" text-anchor="start">40</text>
<text x="2321" y="1025.5" font-size="93" text-anchor="start">30</text>
<text x="2322" y="1158" font-size="93" text-anchor="start">20</text>
<text x="2325" y="1289.5" font-size="93" text-anchor="start">10</text>
<text x="2343" y="1421" font-size="93" text-anchor="start">0</text>
<rect x="260.0" y="1597.0" width="1866.0" height="1296.0" fill="none" stroke="#000" stroke-width="3"/>
<path d="M307.1 2893.0v-15M307.1 1597.0v15M675.4 2893.0v-15M675.4 1597.0v15M1045.4 2893.0v-15M1045.4 1597.0v15M1414 2893.0v-15M1414 1597.0v15M1784 2893.0v-15M1784 1597.0v15M260.0 2029h15M2126.0 2029h-15M260.0 2461h15M2126.0 2461h-15" stroke="#000" stroke-width="3" fill="none"/>
<rect x="2213" y="1595" width="60" height="1309" fill="none" stroke="#111" stroke-width="3"/>
<path d="M2213 1725.9h13M2273 1725.9h-13M2213 1856.8h13M2273 1856.8h-13M2213 1987.7h13M2273 1987.7h-13M2213 2118.6h13M2273 2118.6h-13M2213 2249.5h13M2273 2249.5h-13M2213 2380.4h13M2273 2380.4h-13M2213 2511.3h13M2273 2511.3h-13M2213 2642.2h13M2273 2642.2h-13M2213 2773.1h13M2273 2773.1h-13" stroke="#000" stroke-width="3" fill="none"/>
<path d="M263.0 1987.7 L265.0 1993.4 L267.2 1999.0 L269.5 2004.6 L272.1 2010.0 L274.8 2015.4 L277.8 2020.6 L280.9 2025.7 L284.3 2030.7 L287.8 2035.5 L291.6 2040.1 L295.6 2044.5 L299.9 2048.7 L304.4 2052.7 L309.1 2056.5 L314.1 2060.0 L319.4 2063.3 L324.9 2066.0 L330.5 2068.2 L336.3 2069.6 L342.2 2070.1 L348.2 2069.6 L354.1 2068.2 L359.9 2066.1 L365.4 2063.4 L370.5 2060.1 L375.3 2056.4 L379.9 2052.5 L384.4 2048.5 L388.9 2044.6 L393.6 2041.0 L398.6 2037.8 L403.8 2035.0 L409.4 2032.7 L415.2 2030.8 L421.1 2029.4 L427.1 2028.3 L433.2 2027.6 L439.3 2027.5 L445.2 2028.0 L451.0 2029.3 L456.5 2031.3 L461.8 2034.0 L467.0 2037.2 L471.9 2040.8 L476.7 2044.6 L481.4 2048.5 L486.0 2052.5 L490.5 2056.4 L494.9 2060.5 L499.2 2064.5 L503.5 2068.6 L507.8 2072.7 L512.1 2076.9 L516.4 2081.1 L520.6 2085.3 L524.9 2089.6 L529.1 2093.8 L533.3 2098.1 L537.5 2102.4 L541.8 2106.7 L546.1 2110.9 L550.5 2114.9 L555.1 2118.8 L559.8 2122.4 L564.7 2125.8 L569.8 2128.9 L575.0 2131.9 L580.2 2134.8 L585.5 2137.7 L590.8 2140.5 L596.1 2143.4 L601.4 2146.3 L606.7 2149.0 L612.1 2151.6 L617.6 2153.8 L623.2 2155.8 L628.9 2157.6 L634.7 2159.1 L640.6 2160.4 L646.5 2161.5 L652.4 2162.5 L658.4 2163.4 L664.4 2164.2 L670.4 2165.0 L676.4 2165.7 L682.4 2166.4 L688.3 2167.1 L694.3 2167.7 L700.2 2168.3 L706.2 2168.9 L712.1 2169.4 L718.1 2169.9 L724.0 2170.4 L730.0 2170.8 L736.0 2171.2 L741.9 2171.6 L747.9 2171.9 L753.9 2172.2 L759.9 2172.4 L765.9 2172.6 L771.9 2172.8 L777.9 2172.9 L783.9 2173.1 L789.8 2173.1 L795.8 2173.2 L801.8 2173.2 L807.8 2173.2 L813.8 2173.2 L819.8 2173.2 L825.8 2173.1 L831.8 2173.1 L837.8 2173.0 L843.7 2172.9 L849.7 2172.8 L855.7 2172.7 L861.7 2172.6 L867.7 2172.4 L873.7 2172.3 L879.7 2172.2 L885.7 2172.1 L891.6 2172.0 L897.6 2171.9 L903.6 2171.8 L909.6 2171.7 L915.6 2171.5 L921.6 2171.4 L927.6 2171.2 L933.6 2171.0 L939.5 2170.8 L945.5 2170.5 L951.5 2170.2 L957.5 2169.9 L963.5 2169.5 L969.4 2169.1 L975.4 2168.7 L981.4 2168.3 L987.4 2167.9 L993.3 2167.5 L999.3 2167.1 L1005.3 2166.8 L1011.3 2166.4 L1017.3 2166.2 L1023.2 2165.9 L1029.2 2165.6 L1035.2 2165.4 L1041.2 2165.1 L1047.2 2164.9 L1053.2 2164.6 L1059.1 2164.4 L1065.1 2164.1 L1071.1 2163.8 L1077.1 2163.6 L1083.1 2163.4 L1089.1 2163.3 L1095.1 2163.3 L1101.1 2163.3 L1107.0 2163.4 L1113.0 2163.6 L1119.0 2163.8 L1125.0 2164.1 L1131.0 2164.5 L1137.0 2164.9 L1142.9 2165.3 L1148.9 2165.8 L1154.9 2166.4 L1160.8 2167.0 L1166.8 2167.7 L1172.7 2168.4 L1178.7 2169.2 L1184.6 2170.1 L1190.5 2171.0 L1196.4 2172.0 L1202.3 2173.0 L1208.2 2174.2 L1214.1 2175.3 L1219.9 2176.6 L1225.8 2177.9 L1231.6 2179.3 L1237.4 2180.7 L1243.2 2182.3 L1249.0 2183.8 L1254.8 2185.5 L1260.5 2187.2 L1266.2 2188.9 L1272.0 2190.8 L1277.6 2192.7 L1283.3 2194.6 L1289.0 2196.6 L1294.6 2198.7 L1300.2 2200.9 L1305.8 2203.1 L1311.3 2205.3 L1316.8 2207.6 L1322.3 2210.0 L1327.8 2212.4 L1333.3 2214.9 L1338.7 2217.5 L1344.1 2220.0 L1349.5 2222.7 L1354.8 2225.4 L1360.2 2228.1 L1365.5 2230.9 L1370.8 2233.7 L1376.0 2236.6 L1381.3 2239.5 L1386.5 2242.4 L1391.7 2245.3 L1396.9 2248.3 L1402.0 2251.4 L1407.2 2254.4 L1412.3 2257.5 L1417.4 2260.7 L1422.5 2263.8 L1427.6 2267.0 L1432.6 2270.2 L1437.7 2273.5 L1442.7 2276.8 L1447.7 2280.1 L1452.7 2283.4 L1457.6 2286.8 L1462.6 2290.2 L1467.5 2293.6 L1472.4 2297.1 L1477.3 2300.6 L1482.1 2304.2 L1486.9 2307.8 L1491.7 2311.4 L1496.4 2315.2 L1501.0 2319.0 L1505.6 2322.8 L1510.1 2326.8 L1514.5 2330.8 L1518.9 2334.9 L1523.2 2339.1 L1527.4 2343.3 L1531.5 2347.7 L1535.5 2352.1 L1539.5 2356.6 L1543.4 2361.1 L1547.2 2365.8 L1550.9 2370.4 L1554.6 2375.2 L1558.3 2379.9 L1561.9 2384.8 L1565.4 2389.6 L1568.9 2394.5 L1572.4 2399.4 L1575.8 2404.3 L1579.2 2409.3 L1582.5 2414.3 L1585.7 2419.4 L1588.9 2424.5 L1592.0 2429.6 L1595.1 2434.7 L1598.1 2439.9 L1601.1 2445.1 L1603.9 2450.4 L1606.7 2455.7 L1609.4 2461.0 L1612.1 2466.3 L1614.7 2471.8 L1617.2 2477.2 L1619.6 2482.7 L1622.0 2488.2 L1624.3 2493.7 L1626.5 2499.3 L1628.7 2504.8 L1630.9 2510.4 L1632.9 2516.1 L1635.0 2521.7 L1637.0 2527.4 L1638.9 2533.0 L1640.9 2538.7 L1642.7 2544.4 L1644.6 2550.1 L1646.4 2555.8 L1648.2 2561.5 L1650.0 2567.3 L1651.7 2573.0 L1653.4 2578.8 L1655.1 2584.5 L1656.7 2590.2 L1658.4 2596.0 L1660.0 2601.8 L1661.6 2607.5 L1663.2 2613.3 L1664.8 2619.1 L1666.3 2624.9 L1667.8 2630.7 L1669.4 2636.5 L1670.9 2642.2 L1672.4 2648.0 L1673.9 2653.8 L1675.4 2659.6 L1676.8 2665.4 L1678.3 2671.3 L1679.8 2677.1 L1681.2 2682.9 L1682.7 2688.7 L1684.1 2694.5 L1685.6 2700.3 L1687.0 2706.1 L1688.5 2711.9 L1689.9 2717.7 L1691.4 2723.6 L1692.8 2729.4 L1694.3 2735.2 L1695.7 2741.0 L1697.2 2746.8 L1698.6 2752.6 L1700.0 2758.4 L1701.4 2764.3 L1702.9 2770.1 L1704.3 2775.9 L1705.7 2781.7 L1707.1 2787.5 L1708.4 2793.4 L1709.8 2799.2 L1711.2 2805.0 L1712.5 2810.9 L1713.8 2816.7 L1715.2 2822.5 L1716.5 2828.4 L1717.7 2834.2 L1719.0 2840.1 L1720.2 2846.0 L1721.5 2851.8 L1722.7 2857.7 L1723.8 2863.6 L1725.0 2869.4 L1726.1 2875.3 L1727.3 2881.2 L1728.3 2887.1 L1729.4 2893.0" fill="none" stroke="#3c3c50" stroke-opacity="0.55" stroke-width="5" stroke-dasharray="55 23"/>
<text x="249" y="1621.1" font-size="71" text-anchor="end">90</text>
<text x="249" y="2053.3" font-size="71" text-anchor="end">60</text>
<text x="249" y="2485.3" font-size="71" text-anchor="end">30</text>
<text x="249" y="2917.8" font-size="71" text-anchor="end">0</text>
<text x="307.5" y="2969.5" font-size="71" text-anchor="middle">500</text>
<text x="675.5" y="2969.5" font-size="71" text-anchor="middle">1000</text>
<text x="1045.5" y="2969.5" font-size="71" text-anchor="middle">1500</text>
<text x="1414" y="2969.5" font-size="71" text-anchor="middle">2000</text>
<text x="1784" y="2969.5" font-size="71" text-anchor="middle">2500</text>
<text x="1279" y="3076.5" font-size="100" text-anchor="middle" font-weight="bold">Wavelength (nm)</text>
<text transform="translate(140.5 2262) rotate(-90)" font-size="100" text-anchor="middle" font-weight="bold">Incident angle (deg.)</text>
<text x="297" y="1718" font-size="100" text-anchor="start" font-weight="bold">(b)</text>
<text x="2284" y="1648" font-size="93" text-anchor="start">100</text>
<text x="2285.5" y="1771.5" font-size="93" text-anchor="start">90</text>
<text x="2287" y="1904" font-size="93" text-anchor="start">80</text>
<text x="2287" y="2039" font-size="93" text-anchor="start">70</text>
<text x="2287" y="2166" font-size="93" text-anchor="start">60</text>
<text x="2288" y="2303" font-size="93" text-anchor="start">50</text>
<text x="2288" y="2434" font-size="93" text-anchor="start">40</text>
<text x="2288" y="2561.5" font-size="93" text-anchor="start">30</text>
<text x="2289" y="2694" font-size="93" text-anchor="start">20</text>
<text x="2292" y="2826" font-size="93" text-anchor="start">10</text>
<text x="2311" y="2955.5" font-size="93" text-anchor="start">0</text>
</svg></div></body></html>
